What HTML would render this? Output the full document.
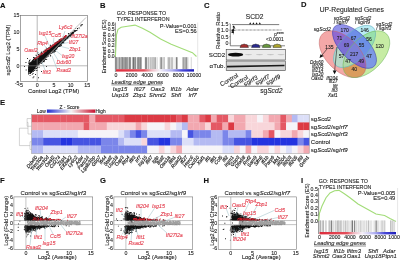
<!DOCTYPE html>
<html><head><meta charset="utf-8"><style>
html,body{margin:0;padding:0;background:#fff;width:400px;height:260px;overflow:hidden}
svg{display:block;filter:blur(0.3px)}
text{font-family:"Liberation Sans", sans-serif}
</style></head><body>
<svg width="400" height="260" viewBox="0 0 400 260" font-family='"Liberation Sans", sans-serif'>
<rect width="400" height="260" fill="#fff"/>
<text x="0.00" y="8.35" font-size="7.63" text-anchor="start" fill="#111" stroke="#111" stroke-width="0.1" font-weight="bold" >A</text>
<text x="100.00" y="8.35" font-size="7.63" text-anchor="start" fill="#111" stroke="#111" stroke-width="0.1" font-weight="bold" >B</text>
<text x="204.00" y="8.35" font-size="7.63" text-anchor="start" fill="#111" stroke="#111" stroke-width="0.1" font-weight="bold" >C</text>
<text x="301.00" y="7.15" font-size="7.63" text-anchor="start" fill="#111" stroke="#111" stroke-width="0.1" font-weight="bold" >D</text>
<text x="0.00" y="104.75" font-size="7.63" text-anchor="start" fill="#111" stroke="#111" stroke-width="0.1" font-weight="bold" >E</text>
<text x="0.00" y="182.55" font-size="7.63" text-anchor="start" fill="#111" stroke="#111" stroke-width="0.1" font-weight="bold" >F</text>
<text x="100.00" y="182.55" font-size="7.63" text-anchor="start" fill="#111" stroke="#111" stroke-width="0.1" font-weight="bold" >G</text>
<text x="203.50" y="182.55" font-size="7.63" text-anchor="start" fill="#111" stroke="#111" stroke-width="0.1" font-weight="bold" >H</text>
<text x="301.00" y="182.55" font-size="7.63" text-anchor="start" fill="#111" stroke="#111" stroke-width="0.1" font-weight="bold" >I</text>
<path d="M43.2 58.7h0.9v0.9h-0.9zM44.7 54.2h0.9v0.9h-0.9zM33.0 64.2h0.9v0.9h-0.9zM35.1 63.0h0.9v0.9h-0.9zM32.3 63.4h0.9v0.9h-0.9zM58.4 41.0h0.9v0.9h-0.9zM67.2 38.2h0.9v0.9h-0.9zM37.4 59.0h0.9v0.9h-0.9zM39.4 60.5h0.9v0.9h-0.9zM34.9 59.2h0.9v0.9h-0.9zM40.6 57.2h0.9v0.9h-0.9zM29.9 68.0h0.9v0.9h-0.9zM54.2 46.2h0.9v0.9h-0.9zM50.0 49.4h0.9v0.9h-0.9zM37.3 65.2h0.9v0.9h-0.9zM64.3 38.5h0.9v0.9h-0.9zM38.9 60.7h0.9v0.9h-0.9zM29.1 67.4h0.9v0.9h-0.9zM38.3 63.6h0.9v0.9h-0.9zM49.8 51.3h0.9v0.9h-0.9zM39.9 57.5h0.9v0.9h-0.9zM50.8 46.3h0.9v0.9h-0.9zM46.0 54.8h0.9v0.9h-0.9zM30.3 65.1h0.9v0.9h-0.9zM59.2 41.0h0.9v0.9h-0.9zM48.2 53.9h0.9v0.9h-0.9zM38.6 60.0h0.9v0.9h-0.9zM56.7 46.0h0.9v0.9h-0.9zM28.3 71.2h0.9v0.9h-0.9zM31.1 62.2h0.9v0.9h-0.9zM59.1 43.6h0.9v0.9h-0.9zM38.6 57.6h0.9v0.9h-0.9zM64.4 39.3h0.9v0.9h-0.9zM33.8 65.4h0.9v0.9h-0.9zM51.9 49.1h0.9v0.9h-0.9zM46.8 53.1h0.9v0.9h-0.9zM68.7 34.4h0.9v0.9h-0.9zM47.6 50.1h0.9v0.9h-0.9zM46.2 56.6h0.9v0.9h-0.9zM58.3 42.2h0.9v0.9h-0.9zM34.8 63.5h0.9v0.9h-0.9zM30.4 68.2h0.9v0.9h-0.9zM33.1 63.6h0.9v0.9h-0.9zM33.0 65.0h0.9v0.9h-0.9zM34.8 68.4h0.9v0.9h-0.9zM33.8 64.8h0.9v0.9h-0.9zM39.0 58.5h0.9v0.9h-0.9zM65.7 38.1h0.9v0.9h-0.9zM35.6 62.2h0.9v0.9h-0.9zM35.8 63.8h0.9v0.9h-0.9zM34.1 70.2h0.9v0.9h-0.9zM34.4 65.2h0.9v0.9h-0.9zM45.9 47.8h0.9v0.9h-0.9zM54.5 46.0h0.9v0.9h-0.9zM35.3 63.6h0.9v0.9h-0.9zM48.2 52.2h0.9v0.9h-0.9zM43.8 57.9h0.9v0.9h-0.9zM58.6 39.5h0.9v0.9h-0.9zM56.1 45.8h0.9v0.9h-0.9zM49.5 51.3h0.9v0.9h-0.9zM28.8 67.4h0.9v0.9h-0.9zM45.0 57.9h0.9v0.9h-0.9zM65.5 38.9h0.9v0.9h-0.9zM32.8 64.7h0.9v0.9h-0.9zM39.8 54.9h0.9v0.9h-0.9zM46.2 50.2h0.9v0.9h-0.9zM58.4 45.5h0.9v0.9h-0.9zM57.7 45.3h0.9v0.9h-0.9zM46.2 55.2h0.9v0.9h-0.9zM56.6 46.4h0.9v0.9h-0.9zM73.6 30.0h0.9v0.9h-0.9zM34.5 67.0h0.9v0.9h-0.9zM50.7 53.2h0.9v0.9h-0.9zM33.6 67.5h0.9v0.9h-0.9zM41.3 51.4h0.9v0.9h-0.9zM30.1 67.0h0.9v0.9h-0.9zM52.7 44.1h0.9v0.9h-0.9zM35.0 66.2h0.9v0.9h-0.9zM52.3 48.6h0.9v0.9h-0.9zM43.0 54.6h0.9v0.9h-0.9zM35.2 66.6h0.9v0.9h-0.9zM57.0 42.8h0.9v0.9h-0.9zM44.0 56.1h0.9v0.9h-0.9zM47.1 50.3h0.9v0.9h-0.9zM32.4 63.0h0.9v0.9h-0.9zM32.2 65.4h0.9v0.9h-0.9zM38.5 59.2h0.9v0.9h-0.9zM50.7 47.5h0.9v0.9h-0.9zM32.0 64.6h0.9v0.9h-0.9zM28.1 70.7h0.9v0.9h-0.9zM47.3 49.3h0.9v0.9h-0.9zM44.8 53.2h0.9v0.9h-0.9zM49.6 50.7h0.9v0.9h-0.9zM45.2 51.9h0.9v0.9h-0.9zM54.6 46.3h0.9v0.9h-0.9zM63.8 39.2h0.9v0.9h-0.9zM59.9 44.2h0.9v0.9h-0.9zM42.0 58.7h0.9v0.9h-0.9zM28.4 69.1h0.9v0.9h-0.9zM57.8 44.8h0.9v0.9h-0.9zM53.1 47.3h0.9v0.9h-0.9zM62.9 37.8h0.9v0.9h-0.9zM45.3 53.6h0.9v0.9h-0.9zM62.0 40.6h0.9v0.9h-0.9zM47.7 53.3h0.9v0.9h-0.9zM33.3 66.4h0.9v0.9h-0.9zM28.7 64.5h0.9v0.9h-0.9zM34.5 61.1h0.9v0.9h-0.9zM49.9 55.7h0.9v0.9h-0.9zM64.9 39.6h0.9v0.9h-0.9zM28.5 68.7h0.9v0.9h-0.9zM38.3 61.8h0.9v0.9h-0.9zM59.1 44.2h0.9v0.9h-0.9zM51.9 52.3h0.9v0.9h-0.9zM30.4 65.1h0.9v0.9h-0.9zM35.2 59.7h0.9v0.9h-0.9zM51.6 48.1h0.9v0.9h-0.9zM31.2 66.4h0.9v0.9h-0.9zM45.2 53.6h0.9v0.9h-0.9zM66.9 36.0h0.9v0.9h-0.9zM43.2 58.1h0.9v0.9h-0.9zM36.3 62.6h0.9v0.9h-0.9zM32.6 66.9h0.9v0.9h-0.9zM28.9 65.0h0.9v0.9h-0.9zM35.3 64.7h0.9v0.9h-0.9zM28.0 68.8h0.9v0.9h-0.9zM48.9 52.1h0.9v0.9h-0.9zM32.0 68.1h0.9v0.9h-0.9zM44.4 50.7h0.9v0.9h-0.9zM29.1 62.6h0.9v0.9h-0.9zM41.0 57.6h0.9v0.9h-0.9zM54.9 45.4h0.9v0.9h-0.9zM41.8 58.3h0.9v0.9h-0.9zM31.2 65.5h0.9v0.9h-0.9zM41.8 61.1h0.9v0.9h-0.9zM53.5 49.3h0.9v0.9h-0.9zM28.7 70.3h0.9v0.9h-0.9zM38.7 61.9h0.9v0.9h-0.9zM74.9 29.9h0.9v0.9h-0.9zM29.6 74.9h0.9v0.9h-0.9zM28.5 68.0h0.9v0.9h-0.9zM49.0 51.6h0.9v0.9h-0.9zM29.8 66.8h0.9v0.9h-0.9zM43.4 57.1h0.9v0.9h-0.9zM43.2 56.2h0.9v0.9h-0.9zM47.0 51.5h0.9v0.9h-0.9zM53.0 47.2h0.9v0.9h-0.9zM64.2 37.4h0.9v0.9h-0.9zM74.2 30.7h0.9v0.9h-0.9zM53.5 49.5h0.9v0.9h-0.9zM55.9 42.7h0.9v0.9h-0.9zM33.3 60.6h0.9v0.9h-0.9zM58.6 43.2h0.9v0.9h-0.9zM50.2 52.6h0.9v0.9h-0.9zM36.7 58.6h0.9v0.9h-0.9zM39.4 60.8h0.9v0.9h-0.9zM39.8 55.9h0.9v0.9h-0.9zM51.8 48.1h0.9v0.9h-0.9zM46.9 54.0h0.9v0.9h-0.9zM56.6 42.8h0.9v0.9h-0.9zM33.8 63.4h0.9v0.9h-0.9zM41.7 56.8h0.9v0.9h-0.9zM57.0 44.5h0.9v0.9h-0.9zM77.0 28.1h0.9v0.9h-0.9zM57.1 45.9h0.9v0.9h-0.9zM32.5 63.7h0.9v0.9h-0.9zM28.7 72.8h0.9v0.9h-0.9zM30.6 66.0h0.9v0.9h-0.9zM31.2 70.1h0.9v0.9h-0.9zM53.7 46.9h0.9v0.9h-0.9zM49.0 50.3h0.9v0.9h-0.9zM35.6 62.4h0.9v0.9h-0.9zM63.6 40.8h0.9v0.9h-0.9zM64.8 38.6h0.9v0.9h-0.9zM29.4 69.2h0.9v0.9h-0.9zM36.0 60.5h0.9v0.9h-0.9zM32.9 65.8h0.9v0.9h-0.9zM47.3 52.3h0.9v0.9h-0.9zM54.7 47.0h0.9v0.9h-0.9zM66.2 37.4h0.9v0.9h-0.9zM28.2 65.5h0.9v0.9h-0.9zM32.6 63.1h0.9v0.9h-0.9zM28.1 70.5h0.9v0.9h-0.9zM59.9 44.8h0.9v0.9h-0.9zM62.3 42.5h0.9v0.9h-0.9zM40.5 59.9h0.9v0.9h-0.9zM50.4 48.8h0.9v0.9h-0.9zM42.6 57.5h0.9v0.9h-0.9zM38.9 59.8h0.9v0.9h-0.9zM37.5 60.3h0.9v0.9h-0.9zM49.4 47.4h0.9v0.9h-0.9zM58.9 45.9h0.9v0.9h-0.9zM62.7 41.6h0.9v0.9h-0.9zM29.9 65.3h0.9v0.9h-0.9zM45.1 54.4h0.9v0.9h-0.9zM53.9 51.1h0.9v0.9h-0.9zM40.5 55.9h0.9v0.9h-0.9zM30.9 65.4h0.9v0.9h-0.9zM77.1 28.2h0.9v0.9h-0.9zM40.6 56.8h0.9v0.9h-0.9zM34.7 64.4h0.9v0.9h-0.9zM65.8 38.1h0.9v0.9h-0.9zM45.1 59.2h0.9v0.9h-0.9zM30.8 67.2h0.9v0.9h-0.9zM39.2 60.2h0.9v0.9h-0.9zM62.1 39.5h0.9v0.9h-0.9zM43.7 53.1h0.9v0.9h-0.9zM39.3 58.6h0.9v0.9h-0.9zM33.5 65.3h0.9v0.9h-0.9zM29.9 62.5h0.9v0.9h-0.9zM54.1 46.9h0.9v0.9h-0.9zM41.5 51.7h0.9v0.9h-0.9zM61.2 42.5h0.9v0.9h-0.9zM55.7 46.3h0.9v0.9h-0.9zM46.0 53.7h0.9v0.9h-0.9zM28.2 73.4h0.9v0.9h-0.9zM64.9 37.4h0.9v0.9h-0.9zM36.1 62.7h0.9v0.9h-0.9zM45.8 49.1h0.9v0.9h-0.9zM52.6 48.5h0.9v0.9h-0.9zM47.8 55.7h0.9v0.9h-0.9zM35.7 65.5h0.9v0.9h-0.9zM40.5 59.4h0.9v0.9h-0.9zM54.5 47.7h0.9v0.9h-0.9zM47.8 53.3h0.9v0.9h-0.9zM37.8 61.6h0.9v0.9h-0.9zM43.2 56.1h0.9v0.9h-0.9zM53.0 47.3h0.9v0.9h-0.9zM46.1 53.8h0.9v0.9h-0.9zM54.8 47.8h0.9v0.9h-0.9zM48.9 51.6h0.9v0.9h-0.9zM44.0 55.2h0.9v0.9h-0.9zM36.6 65.3h0.9v0.9h-0.9zM37.9 62.6h0.9v0.9h-0.9zM35.5 63.5h0.9v0.9h-0.9zM56.2 46.6h0.9v0.9h-0.9zM73.8 31.4h0.9v0.9h-0.9zM39.8 58.8h0.9v0.9h-0.9zM46.8 51.2h0.9v0.9h-0.9zM31.1 68.8h0.9v0.9h-0.9zM64.1 39.8h0.9v0.9h-0.9zM42.3 58.0h0.9v0.9h-0.9zM29.6 69.8h0.9v0.9h-0.9zM61.6 41.5h0.9v0.9h-0.9zM65.9 38.4h0.9v0.9h-0.9zM34.7 67.1h0.9v0.9h-0.9zM39.7 57.5h0.9v0.9h-0.9zM43.1 55.3h0.9v0.9h-0.9zM37.5 60.1h0.9v0.9h-0.9zM32.7 67.1h0.9v0.9h-0.9zM35.9 58.7h0.9v0.9h-0.9zM44.4 58.2h0.9v0.9h-0.9zM45.1 54.7h0.9v0.9h-0.9zM35.3 58.4h0.9v0.9h-0.9zM56.9 42.4h0.9v0.9h-0.9zM29.5 70.0h0.9v0.9h-0.9zM65.4 38.9h0.9v0.9h-0.9zM28.7 61.0h0.9v0.9h-0.9zM34.3 70.2h0.9v0.9h-0.9zM30.2 71.3h0.9v0.9h-0.9zM28.3 68.3h0.9v0.9h-0.9zM62.8 38.1h0.9v0.9h-0.9zM60.2 42.4h0.9v0.9h-0.9zM64.2 40.2h0.9v0.9h-0.9zM28.1 71.5h0.9v0.9h-0.9zM38.3 59.2h0.9v0.9h-0.9zM56.1 46.8h0.9v0.9h-0.9zM55.8 45.1h0.9v0.9h-0.9zM41.9 57.2h0.9v0.9h-0.9zM35.2 62.5h0.9v0.9h-0.9zM41.6 60.3h0.9v0.9h-0.9zM32.8 70.3h0.9v0.9h-0.9zM38.1 59.4h0.9v0.9h-0.9zM45.4 55.7h0.9v0.9h-0.9zM45.0 54.7h0.9v0.9h-0.9zM53.6 49.3h0.9v0.9h-0.9zM60.2 41.8h0.9v0.9h-0.9zM39.2 58.1h0.9v0.9h-0.9zM48.6 54.0h0.9v0.9h-0.9zM28.2 70.5h0.9v0.9h-0.9zM45.7 52.0h0.9v0.9h-0.9zM72.7 33.4h0.9v0.9h-0.9zM31.8 70.5h0.9v0.9h-0.9zM65.7 38.7h0.9v0.9h-0.9zM59.9 43.3h0.9v0.9h-0.9zM29.5 66.6h0.9v0.9h-0.9zM36.7 64.7h0.9v0.9h-0.9zM42.1 56.3h0.9v0.9h-0.9zM45.1 54.2h0.9v0.9h-0.9zM32.0 70.1h0.9v0.9h-0.9zM37.2 59.5h0.9v0.9h-0.9zM35.7 63.5h0.9v0.9h-0.9zM49.2 49.4h0.9v0.9h-0.9zM44.0 55.5h0.9v0.9h-0.9zM35.0 61.8h0.9v0.9h-0.9zM48.8 52.7h0.9v0.9h-0.9zM42.5 57.9h0.9v0.9h-0.9zM33.0 63.2h0.9v0.9h-0.9zM34.2 60.5h0.9v0.9h-0.9zM43.8 60.8h0.9v0.9h-0.9zM43.5 54.8h0.9v0.9h-0.9zM67.9 33.4h0.9v0.9h-0.9zM37.5 64.6h0.9v0.9h-0.9zM66.7 37.0h0.9v0.9h-0.9zM35.9 59.4h0.9v0.9h-0.9zM45.5 54.3h0.9v0.9h-0.9zM30.7 61.9h0.9v0.9h-0.9zM58.5 42.5h0.9v0.9h-0.9zM40.0 59.8h0.9v0.9h-0.9zM39.7 59.9h0.9v0.9h-0.9zM31.9 67.7h0.9v0.9h-0.9zM72.2 33.7h0.9v0.9h-0.9zM46.3 57.1h0.9v0.9h-0.9zM43.9 54.3h0.9v0.9h-0.9zM51.6 49.7h0.9v0.9h-0.9zM36.4 60.0h0.9v0.9h-0.9zM47.3 49.4h0.9v0.9h-0.9zM31.6 68.3h0.9v0.9h-0.9zM34.9 63.7h0.9v0.9h-0.9zM34.0 57.4h0.9v0.9h-0.9zM56.0 44.5h0.9v0.9h-0.9zM32.7 63.2h0.9v0.9h-0.9zM52.0 48.0h0.9v0.9h-0.9zM48.9 52.6h0.9v0.9h-0.9zM38.6 57.3h0.9v0.9h-0.9zM52.7 48.6h0.9v0.9h-0.9zM30.8 71.1h0.9v0.9h-0.9zM45.4 55.2h0.9v0.9h-0.9zM46.4 54.9h0.9v0.9h-0.9zM41.8 54.4h0.9v0.9h-0.9zM35.7 61.3h0.9v0.9h-0.9zM57.6 43.8h0.9v0.9h-0.9zM48.1 52.8h0.9v0.9h-0.9zM37.3 60.3h0.9v0.9h-0.9zM65.9 37.4h0.9v0.9h-0.9zM60.9 43.2h0.9v0.9h-0.9zM62.8 39.9h0.9v0.9h-0.9zM37.9 54.3h0.9v0.9h-0.9zM45.9 56.7h0.9v0.9h-0.9zM39.5 57.7h0.9v0.9h-0.9zM33.5 57.4h0.9v0.9h-0.9zM28.6 67.5h0.9v0.9h-0.9zM49.3 52.2h0.9v0.9h-0.9zM30.6 70.3h0.9v0.9h-0.9zM34.4 61.4h0.9v0.9h-0.9zM32.4 60.6h0.9v0.9h-0.9zM32.9 66.9h0.9v0.9h-0.9zM44.4 55.8h0.9v0.9h-0.9zM51.9 48.3h0.9v0.9h-0.9zM32.2 62.7h0.9v0.9h-0.9zM49.9 48.4h0.9v0.9h-0.9zM51.6 50.5h0.9v0.9h-0.9zM54.6 47.3h0.9v0.9h-0.9zM65.4 37.2h0.9v0.9h-0.9zM36.0 59.7h0.9v0.9h-0.9zM38.0 60.5h0.9v0.9h-0.9zM47.7 53.4h0.9v0.9h-0.9zM33.0 64.8h0.9v0.9h-0.9zM53.9 48.9h0.9v0.9h-0.9zM28.3 66.6h0.9v0.9h-0.9zM38.0 58.6h0.9v0.9h-0.9zM46.0 52.9h0.9v0.9h-0.9zM40.4 57.5h0.9v0.9h-0.9zM49.2 52.7h0.9v0.9h-0.9zM57.7 43.2h0.9v0.9h-0.9zM36.1 59.5h0.9v0.9h-0.9zM46.3 52.0h0.9v0.9h-0.9zM55.9 44.3h0.9v0.9h-0.9zM32.4 64.2h0.9v0.9h-0.9zM39.0 60.4h0.9v0.9h-0.9zM28.5 67.4h0.9v0.9h-0.9zM37.3 60.2h0.9v0.9h-0.9zM44.7 53.1h0.9v0.9h-0.9zM58.9 43.8h0.9v0.9h-0.9zM41.8 61.9h0.9v0.9h-0.9zM55.2 47.3h0.9v0.9h-0.9zM44.6 51.7h0.9v0.9h-0.9zM29.0 64.0h0.9v0.9h-0.9zM38.3 61.1h0.9v0.9h-0.9zM43.3 59.2h0.9v0.9h-0.9zM60.1 42.0h0.9v0.9h-0.9zM41.7 53.2h0.9v0.9h-0.9zM40.4 57.9h0.9v0.9h-0.9zM36.2 65.5h0.9v0.9h-0.9zM28.6 67.6h0.9v0.9h-0.9zM63.9 40.1h0.9v0.9h-0.9zM40.4 59.8h0.9v0.9h-0.9zM39.0 62.4h0.9v0.9h-0.9zM53.3 46.4h0.9v0.9h-0.9zM45.8 55.6h0.9v0.9h-0.9zM44.6 51.8h0.9v0.9h-0.9zM49.7 50.2h0.9v0.9h-0.9zM31.0 67.8h0.9v0.9h-0.9zM33.5 65.2h0.9v0.9h-0.9zM41.1 57.8h0.9v0.9h-0.9zM33.2 64.2h0.9v0.9h-0.9zM52.1 47.8h0.9v0.9h-0.9zM55.8 44.4h0.9v0.9h-0.9zM59.1 42.3h0.9v0.9h-0.9zM30.5 70.8h0.9v0.9h-0.9zM32.1 60.1h0.9v0.9h-0.9zM31.6 65.8h0.9v0.9h-0.9zM58.9 41.4h0.9v0.9h-0.9zM38.9 55.8h0.9v0.9h-0.9zM52.7 50.0h0.9v0.9h-0.9zM36.0 64.4h0.9v0.9h-0.9zM28.6 70.3h0.9v0.9h-0.9zM42.0 54.3h0.9v0.9h-0.9zM69.9 35.0h0.9v0.9h-0.9zM48.1 50.1h0.9v0.9h-0.9zM41.2 58.9h0.9v0.9h-0.9zM48.4 52.6h0.9v0.9h-0.9zM63.1 40.2h0.9v0.9h-0.9zM38.0 61.5h0.9v0.9h-0.9zM28.2 73.2h0.9v0.9h-0.9zM60.1 42.4h0.9v0.9h-0.9zM44.6 54.9h0.9v0.9h-0.9zM37.9 62.3h0.9v0.9h-0.9zM33.1 63.1h0.9v0.9h-0.9zM48.1 51.4h0.9v0.9h-0.9zM54.5 46.3h0.9v0.9h-0.9zM51.9 47.8h0.9v0.9h-0.9zM42.4 57.4h0.9v0.9h-0.9zM29.0 66.6h0.9v0.9h-0.9zM31.2 72.1h0.9v0.9h-0.9zM55.1 48.7h0.9v0.9h-0.9zM49.5 51.4h0.9v0.9h-0.9zM56.6 44.2h0.9v0.9h-0.9zM41.2 60.2h0.9v0.9h-0.9zM56.2 48.0h0.9v0.9h-0.9zM56.8 46.0h0.9v0.9h-0.9zM42.1 58.8h0.9v0.9h-0.9zM37.0 61.7h0.9v0.9h-0.9zM60.1 43.4h0.9v0.9h-0.9zM35.6 63.9h0.9v0.9h-0.9zM38.6 59.5h0.9v0.9h-0.9zM46.2 59.0h0.9v0.9h-0.9zM31.9 66.5h0.9v0.9h-0.9zM30.0 72.1h0.9v0.9h-0.9zM44.5 54.5h0.9v0.9h-0.9zM33.5 62.7h0.9v0.9h-0.9zM31.6 65.8h0.9v0.9h-0.9zM35.1 58.4h0.9v0.9h-0.9zM41.5 55.3h0.9v0.9h-0.9zM42.6 55.0h0.9v0.9h-0.9zM62.5 38.8h0.9v0.9h-0.9zM44.0 56.6h0.9v0.9h-0.9zM34.4 57.3h0.9v0.9h-0.9zM54.6 48.3h0.9v0.9h-0.9zM45.2 51.6h0.9v0.9h-0.9zM33.7 62.7h0.9v0.9h-0.9zM33.7 59.2h0.9v0.9h-0.9zM37.5 58.0h0.9v0.9h-0.9zM43.6 56.8h0.9v0.9h-0.9zM63.3 40.4h0.9v0.9h-0.9zM42.8 59.4h0.9v0.9h-0.9zM33.0 64.1h0.9v0.9h-0.9zM44.7 58.1h0.9v0.9h-0.9zM47.7 54.5h0.9v0.9h-0.9zM42.0 56.4h0.9v0.9h-0.9zM59.5 41.1h0.9v0.9h-0.9zM65.0 39.8h0.9v0.9h-0.9zM35.2 59.9h0.9v0.9h-0.9zM32.7 67.2h0.9v0.9h-0.9zM29.6 66.5h0.9v0.9h-0.9zM46.0 51.7h0.9v0.9h-0.9zM41.4 58.7h0.9v0.9h-0.9zM32.7 69.1h0.9v0.9h-0.9zM48.0 52.8h0.9v0.9h-0.9zM59.8 42.7h0.9v0.9h-0.9zM58.8 44.1h0.9v0.9h-0.9zM45.8 52.4h0.9v0.9h-0.9zM41.4 56.7h0.9v0.9h-0.9zM59.1 43.7h0.9v0.9h-0.9zM46.5 52.2h0.9v0.9h-0.9zM41.5 57.0h0.9v0.9h-0.9zM38.2 58.6h0.9v0.9h-0.9zM37.7 60.5h0.9v0.9h-0.9zM38.7 59.8h0.9v0.9h-0.9zM34.6 66.0h0.9v0.9h-0.9zM45.2 51.9h0.9v0.9h-0.9zM59.9 41.3h0.9v0.9h-0.9zM46.4 49.2h0.9v0.9h-0.9zM33.3 65.9h0.9v0.9h-0.9zM50.2 55.0h0.9v0.9h-0.9zM37.5 61.0h0.9v0.9h-0.9zM36.2 63.2h0.9v0.9h-0.9zM41.2 60.6h0.9v0.9h-0.9zM34.4 68.1h0.9v0.9h-0.9zM51.1 50.1h0.9v0.9h-0.9zM57.9 41.8h0.9v0.9h-0.9zM35.5 61.0h0.9v0.9h-0.9zM44.7 52.2h0.9v0.9h-0.9zM49.1 51.0h0.9v0.9h-0.9zM41.1 56.8h0.9v0.9h-0.9zM28.3 70.3h0.9v0.9h-0.9zM44.5 50.5h0.9v0.9h-0.9zM36.8 62.7h0.9v0.9h-0.9zM45.0 52.3h0.9v0.9h-0.9zM57.7 40.8h0.9v0.9h-0.9zM50.4 48.4h0.9v0.9h-0.9zM47.4 50.1h0.9v0.9h-0.9zM40.6 55.7h0.9v0.9h-0.9zM47.4 48.1h0.9v0.9h-0.9zM31.7 64.4h0.9v0.9h-0.9zM52.7 49.4h0.9v0.9h-0.9zM41.1 53.5h0.9v0.9h-0.9zM32.9 61.5h0.9v0.9h-0.9zM35.5 63.3h0.9v0.9h-0.9zM43.3 54.1h0.9v0.9h-0.9zM30.9 69.5h0.9v0.9h-0.9zM52.9 48.5h0.9v0.9h-0.9zM43.6 54.7h0.9v0.9h-0.9zM57.8 46.1h0.9v0.9h-0.9zM34.4 57.3h0.9v0.9h-0.9zM42.5 57.1h0.9v0.9h-0.9zM43.0 61.1h0.9v0.9h-0.9zM45.3 50.9h0.9v0.9h-0.9zM51.2 47.5h0.9v0.9h-0.9zM50.7 48.1h0.9v0.9h-0.9zM36.1 60.2h0.9v0.9h-0.9zM31.9 62.3h0.9v0.9h-0.9zM58.2 44.4h0.9v0.9h-0.9zM52.9 45.8h0.9v0.9h-0.9zM49.4 53.7h0.9v0.9h-0.9zM34.1 66.2h0.9v0.9h-0.9zM51.4 50.5h0.9v0.9h-0.9zM30.1 65.8h0.9v0.9h-0.9zM30.1 68.0h0.9v0.9h-0.9zM45.0 51.8h0.9v0.9h-0.9zM46.3 55.3h0.9v0.9h-0.9zM65.3 36.9h0.9v0.9h-0.9zM30.9 64.7h0.9v0.9h-0.9zM37.8 60.6h0.9v0.9h-0.9zM32.6 64.5h0.9v0.9h-0.9zM31.3 66.6h0.9v0.9h-0.9zM34.9 62.3h0.9v0.9h-0.9zM35.1 60.5h0.9v0.9h-0.9zM32.3 60.2h0.9v0.9h-0.9zM55.7 47.8h0.9v0.9h-0.9zM45.5 55.7h0.9v0.9h-0.9zM37.7 64.5h0.9v0.9h-0.9zM34.4 67.2h0.9v0.9h-0.9zM31.0 66.2h0.9v0.9h-0.9zM29.4 65.3h0.9v0.9h-0.9zM46.5 55.2h0.9v0.9h-0.9zM34.3 59.2h0.9v0.9h-0.9zM38.2 60.8h0.9v0.9h-0.9zM51.9 47.2h0.9v0.9h-0.9zM51.8 51.1h0.9v0.9h-0.9zM57.8 42.9h0.9v0.9h-0.9zM34.1 67.7h0.9v0.9h-0.9zM40.6 57.4h0.9v0.9h-0.9zM61.6 40.7h0.9v0.9h-0.9zM34.9 65.5h0.9v0.9h-0.9zM42.3 55.4h0.9v0.9h-0.9zM58.7 41.6h0.9v0.9h-0.9zM42.1 56.9h0.9v0.9h-0.9zM56.3 43.8h0.9v0.9h-0.9zM29.6 69.8h0.9v0.9h-0.9zM49.7 47.5h0.9v0.9h-0.9zM47.4 49.5h0.9v0.9h-0.9zM62.7 39.8h0.9v0.9h-0.9zM34.2 63.8h0.9v0.9h-0.9zM63.4 38.8h0.9v0.9h-0.9zM49.2 49.2h0.9v0.9h-0.9zM31.7 67.4h0.9v0.9h-0.9zM58.1 43.3h0.9v0.9h-0.9zM57.3 44.7h0.9v0.9h-0.9zM61.7 39.6h0.9v0.9h-0.9zM47.8 49.5h0.9v0.9h-0.9zM31.5 66.1h0.9v0.9h-0.9zM41.8 58.5h0.9v0.9h-0.9zM45.8 55.4h0.9v0.9h-0.9zM45.0 56.9h0.9v0.9h-0.9zM33.9 65.9h0.9v0.9h-0.9zM40.2 60.8h0.9v0.9h-0.9zM46.5 54.7h0.9v0.9h-0.9zM30.3 71.7h0.9v0.9h-0.9zM57.0 43.9h0.9v0.9h-0.9zM64.6 38.6h0.9v0.9h-0.9zM33.0 64.7h0.9v0.9h-0.9zM34.8 57.4h0.9v0.9h-0.9zM40.8 63.0h0.9v0.9h-0.9zM40.9 55.8h0.9v0.9h-0.9zM38.5 61.7h0.9v0.9h-0.9zM31.5 60.7h0.9v0.9h-0.9zM42.9 51.6h0.9v0.9h-0.9zM53.1 51.8h0.9v0.9h-0.9zM36.4 63.5h0.9v0.9h-0.9zM31.3 70.9h0.9v0.9h-0.9zM29.8 63.0h0.9v0.9h-0.9zM55.0 43.5h0.9v0.9h-0.9zM69.7 35.4h0.9v0.9h-0.9zM53.7 49.7h0.9v0.9h-0.9zM53.4 46.0h0.9v0.9h-0.9zM34.2 65.2h0.9v0.9h-0.9zM38.9 59.6h0.9v0.9h-0.9zM44.8 57.3h0.9v0.9h-0.9zM30.4 64.3h0.9v0.9h-0.9zM39.4 58.2h0.9v0.9h-0.9zM60.9 42.1h0.9v0.9h-0.9zM34.4 68.4h0.9v0.9h-0.9zM51.9 51.4h0.9v0.9h-0.9zM45.9 57.2h0.9v0.9h-0.9zM34.9 61.5h0.9v0.9h-0.9zM54.7 47.6h0.9v0.9h-0.9zM50.4 53.2h0.9v0.9h-0.9zM36.9 61.9h0.9v0.9h-0.9zM36.7 59.2h0.9v0.9h-0.9zM43.7 55.6h0.9v0.9h-0.9zM32.3 65.7h0.9v0.9h-0.9zM53.4 47.6h0.9v0.9h-0.9zM42.6 56.7h0.9v0.9h-0.9zM33.1 66.7h0.9v0.9h-0.9zM65.9 38.0h0.9v0.9h-0.9zM31.7 66.1h0.9v0.9h-0.9zM39.2 58.7h0.9v0.9h-0.9zM28.6 68.8h0.9v0.9h-0.9zM43.4 60.2h0.9v0.9h-0.9zM28.4 69.2h0.9v0.9h-0.9zM36.3 64.2h0.9v0.9h-0.9zM35.3 63.6h0.9v0.9h-0.9zM55.0 46.6h0.9v0.9h-0.9zM34.9 60.1h0.9v0.9h-0.9zM41.3 58.4h0.9v0.9h-0.9zM58.8 45.2h0.9v0.9h-0.9zM30.0 67.7h0.9v0.9h-0.9zM43.5 55.6h0.9v0.9h-0.9zM40.7 57.1h0.9v0.9h-0.9zM60.9 41.4h0.9v0.9h-0.9zM46.1 53.6h0.9v0.9h-0.9zM38.1 62.0h0.9v0.9h-0.9zM59.3 43.6h0.9v0.9h-0.9zM42.8 59.1h0.9v0.9h-0.9zM28.6 66.2h0.9v0.9h-0.9zM59.0 43.1h0.9v0.9h-0.9zM40.2 57.8h0.9v0.9h-0.9zM30.3 63.5h0.9v0.9h-0.9zM64.3 37.5h0.9v0.9h-0.9zM28.7 67.1h0.9v0.9h-0.9zM36.5 61.2h0.9v0.9h-0.9zM38.9 60.6h0.9v0.9h-0.9zM29.1 71.3h0.9v0.9h-0.9zM43.9 58.5h0.9v0.9h-0.9zM30.7 61.4h0.9v0.9h-0.9zM32.0 68.2h0.9v0.9h-0.9zM48.9 53.0h0.9v0.9h-0.9zM42.7 56.2h0.9v0.9h-0.9zM37.0 63.3h0.9v0.9h-0.9zM33.6 66.6h0.9v0.9h-0.9zM28.2 66.2h0.9v0.9h-0.9zM63.6 38.4h0.9v0.9h-0.9zM48.0 53.5h0.9v0.9h-0.9zM57.1 43.7h0.9v0.9h-0.9zM29.0 70.3h0.9v0.9h-0.9zM60.3 41.8h0.9v0.9h-0.9zM59.0 43.4h0.9v0.9h-0.9zM32.9 70.8h0.9v0.9h-0.9zM39.0 56.1h0.9v0.9h-0.9zM40.0 57.6h0.9v0.9h-0.9zM29.3 66.6h0.9v0.9h-0.9zM28.1 73.6h0.9v0.9h-0.9zM52.1 48.2h0.9v0.9h-0.9zM61.6 41.3h0.9v0.9h-0.9zM38.1 59.6h0.9v0.9h-0.9zM38.4 54.1h0.9v0.9h-0.9zM37.5 59.0h0.9v0.9h-0.9zM68.4 36.5h0.9v0.9h-0.9zM36.9 64.7h0.9v0.9h-0.9zM65.3 36.5h0.9v0.9h-0.9zM30.3 69.8h0.9v0.9h-0.9zM33.5 65.0h0.9v0.9h-0.9zM33.0 67.1h0.9v0.9h-0.9zM28.3 69.4h0.9v0.9h-0.9zM41.2 54.7h0.9v0.9h-0.9zM35.1 61.0h0.9v0.9h-0.9zM45.5 51.2h0.9v0.9h-0.9zM35.4 61.5h0.9v0.9h-0.9zM40.5 55.7h0.9v0.9h-0.9zM29.4 70.0h0.9v0.9h-0.9zM37.1 61.1h0.9v0.9h-0.9zM42.7 56.4h0.9v0.9h-0.9zM39.2 59.4h0.9v0.9h-0.9zM38.5 61.7h0.9v0.9h-0.9zM42.0 54.9h0.9v0.9h-0.9zM32.2 66.9h0.9v0.9h-0.9zM56.5 44.5h0.9v0.9h-0.9zM36.7 63.3h0.9v0.9h-0.9zM51.4 51.3h0.9v0.9h-0.9zM55.0 46.2h0.9v0.9h-0.9zM46.1 50.0h0.9v0.9h-0.9zM54.9 47.2h0.9v0.9h-0.9zM28.2 67.3h0.9v0.9h-0.9zM50.3 45.2h0.9v0.9h-0.9zM28.6 63.0h0.9v0.9h-0.9zM51.1 51.2h0.9v0.9h-0.9zM47.0 53.5h0.9v0.9h-0.9zM39.1 56.7h0.9v0.9h-0.9zM42.5 54.7h0.9v0.9h-0.9zM47.0 56.2h0.9v0.9h-0.9zM34.2 65.5h0.9v0.9h-0.9zM49.1 49.9h0.9v0.9h-0.9zM42.0 55.9h0.9v0.9h-0.9zM59.8 43.4h0.9v0.9h-0.9zM31.1 66.1h0.9v0.9h-0.9zM29.4 63.8h0.9v0.9h-0.9zM57.4 43.7h0.9v0.9h-0.9zM49.7 50.6h0.9v0.9h-0.9zM35.1 60.0h0.9v0.9h-0.9zM41.9 55.8h0.9v0.9h-0.9zM53.7 46.6h0.9v0.9h-0.9zM29.3 64.0h0.9v0.9h-0.9zM41.5 61.9h0.9v0.9h-0.9zM59.9 40.6h0.9v0.9h-0.9zM41.0 59.0h0.9v0.9h-0.9zM32.4 63.0h0.9v0.9h-0.9zM61.4 40.9h0.9v0.9h-0.9zM57.3 46.6h0.9v0.9h-0.9zM59.2 46.0h0.9v0.9h-0.9zM30.3 67.8h0.9v0.9h-0.9zM40.4 56.6h0.9v0.9h-0.9zM28.4 65.0h0.9v0.9h-0.9zM45.8 56.9h0.9v0.9h-0.9zM29.0 62.8h0.9v0.9h-0.9zM44.7 54.6h0.9v0.9h-0.9zM29.5 69.3h0.9v0.9h-0.9zM35.5 59.1h0.9v0.9h-0.9zM41.4 56.8h0.9v0.9h-0.9zM48.2 54.6h0.9v0.9h-0.9zM28.4 69.2h0.9v0.9h-0.9zM32.1 66.2h0.9v0.9h-0.9zM38.5 62.5h0.9v0.9h-0.9zM51.3 49.6h0.9v0.9h-0.9zM34.0 63.7h0.9v0.9h-0.9zM41.4 55.2h0.9v0.9h-0.9zM28.9 69.0h0.9v0.9h-0.9zM50.1 49.1h0.9v0.9h-0.9zM44.0 59.8h0.9v0.9h-0.9zM40.8 60.5h0.9v0.9h-0.9zM37.5 59.9h0.9v0.9h-0.9zM60.1 41.1h0.9v0.9h-0.9zM54.7 44.8h0.9v0.9h-0.9zM64.5 36.9h0.9v0.9h-0.9zM40.8 57.3h0.9v0.9h-0.9zM30.5 64.1h0.9v0.9h-0.9zM42.7 54.4h0.9v0.9h-0.9zM37.2 61.9h0.9v0.9h-0.9zM43.0 58.0h0.9v0.9h-0.9zM30.7 68.9h0.9v0.9h-0.9zM42.7 55.6h0.9v0.9h-0.9zM31.8 66.5h0.9v0.9h-0.9zM42.9 56.9h0.9v0.9h-0.9zM41.7 60.6h0.9v0.9h-0.9zM33.8 66.1h0.9v0.9h-0.9zM51.4 48.9h0.9v0.9h-0.9zM61.9 38.5h0.9v0.9h-0.9zM34.1 65.2h0.9v0.9h-0.9zM31.0 62.9h0.9v0.9h-0.9zM35.9 64.9h0.9v0.9h-0.9zM34.5 61.6h0.9v0.9h-0.9zM37.9 60.6h0.9v0.9h-0.9zM50.3 49.2h0.9v0.9h-0.9zM38.0 61.4h0.9v0.9h-0.9zM63.5 38.0h0.9v0.9h-0.9zM29.8 67.2h0.9v0.9h-0.9zM49.6 48.8h0.9v0.9h-0.9zM33.9 64.3h0.9v0.9h-0.9zM37.4 58.8h0.9v0.9h-0.9zM32.1 62.3h0.9v0.9h-0.9zM34.5 62.7h0.9v0.9h-0.9zM34.4 63.3h0.9v0.9h-0.9zM38.7 60.9h0.9v0.9h-0.9zM54.1 45.5h0.9v0.9h-0.9zM60.7 42.5h0.9v0.9h-0.9zM38.7 58.0h0.9v0.9h-0.9zM52.0 46.5h0.9v0.9h-0.9zM37.4 62.6h0.9v0.9h-0.9zM41.4 56.4h0.9v0.9h-0.9zM36.3 65.3h0.9v0.9h-0.9zM29.5 64.4h0.9v0.9h-0.9zM34.3 64.8h0.9v0.9h-0.9zM31.7 65.8h0.9v0.9h-0.9zM35.3 61.0h0.9v0.9h-0.9zM49.7 50.4h0.9v0.9h-0.9zM41.5 56.4h0.9v0.9h-0.9zM43.3 57.9h0.9v0.9h-0.9zM54.9 49.7h0.9v0.9h-0.9zM37.4 62.5h0.9v0.9h-0.9zM32.0 65.6h0.9v0.9h-0.9zM56.5 44.1h0.9v0.9h-0.9zM34.1 60.6h0.9v0.9h-0.9zM59.5 42.6h0.9v0.9h-0.9zM44.1 56.2h0.9v0.9h-0.9zM54.3 46.7h0.9v0.9h-0.9zM45.2 50.1h0.9v0.9h-0.9zM34.1 60.5h0.9v0.9h-0.9zM36.5 60.8h0.9v0.9h-0.9zM29.7 65.3h0.9v0.9h-0.9zM59.2 39.3h0.9v0.9h-0.9zM48.7 50.0h0.9v0.9h-0.9zM43.8 56.3h0.9v0.9h-0.9zM32.7 66.9h0.9v0.9h-0.9zM35.2 58.5h0.9v0.9h-0.9zM29.1 71.1h0.9v0.9h-0.9zM43.4 54.9h0.9v0.9h-0.9zM35.5 61.2h0.9v0.9h-0.9zM44.6 58.4h0.9v0.9h-0.9zM28.7 65.8h0.9v0.9h-0.9zM50.7 46.7h0.9v0.9h-0.9zM32.4 65.9h0.9v0.9h-0.9zM35.8 63.3h0.9v0.9h-0.9zM30.3 68.4h0.9v0.9h-0.9zM45.0 56.0h0.9v0.9h-0.9zM38.4 58.8h0.9v0.9h-0.9zM36.3 70.0h0.9v0.9h-0.9zM31.2 66.3h0.9v0.9h-0.9zM65.2 37.6h0.9v0.9h-0.9zM31.4 63.8h0.9v0.9h-0.9zM32.7 71.0h0.9v0.9h-0.9zM51.9 49.2h0.9v0.9h-0.9zM52.8 48.2h0.9v0.9h-0.9zM41.5 61.4h0.9v0.9h-0.9zM39.3 59.9h0.9v0.9h-0.9zM50.5 47.2h0.9v0.9h-0.9zM34.4 64.2h0.9v0.9h-0.9zM40.4 53.6h0.9v0.9h-0.9zM35.2 60.2h0.9v0.9h-0.9zM44.4 54.3h0.9v0.9h-0.9zM37.1 64.2h0.9v0.9h-0.9zM59.1 43.5h0.9v0.9h-0.9zM62.4 41.8h0.9v0.9h-0.9zM35.1 63.8h0.9v0.9h-0.9zM40.7 61.3h0.9v0.9h-0.9zM41.3 51.5h0.9v0.9h-0.9zM44.6 57.1h0.9v0.9h-0.9zM32.8 64.3h0.9v0.9h-0.9zM60.5 41.8h0.9v0.9h-0.9zM44.2 54.5h0.9v0.9h-0.9zM53.9 45.9h0.9v0.9h-0.9zM35.8 59.4h0.9v0.9h-0.9zM34.2 58.6h0.9v0.9h-0.9zM49.7 51.6h0.9v0.9h-0.9zM30.6 67.4h0.9v0.9h-0.9zM74.5 31.0h0.9v0.9h-0.9zM60.9 45.0h0.9v0.9h-0.9zM35.4 62.6h0.9v0.9h-0.9zM51.1 48.9h0.9v0.9h-0.9zM68.1 34.7h0.9v0.9h-0.9zM37.1 59.1h0.9v0.9h-0.9zM31.2 65.2h0.9v0.9h-0.9zM36.5 58.7h0.9v0.9h-0.9zM37.3 58.6h0.9v0.9h-0.9zM47.1 54.1h0.9v0.9h-0.9zM35.1 63.4h0.9v0.9h-0.9zM45.5 52.3h0.9v0.9h-0.9zM36.9 59.5h0.9v0.9h-0.9zM41.4 57.0h0.9v0.9h-0.9zM40.2 57.8h0.9v0.9h-0.9zM44.4 56.8h0.9v0.9h-0.9zM44.1 56.3h0.9v0.9h-0.9zM61.4 42.2h0.9v0.9h-0.9zM34.7 58.2h0.9v0.9h-0.9zM56.7 44.8h0.9v0.9h-0.9zM36.7 58.9h0.9v0.9h-0.9zM50.4 49.5h0.9v0.9h-0.9zM33.2 64.2h0.9v0.9h-0.9zM34.1 63.0h0.9v0.9h-0.9zM30.3 67.0h0.9v0.9h-0.9zM44.2 57.0h0.9v0.9h-0.9zM51.6 50.8h0.9v0.9h-0.9zM61.1 40.2h0.9v0.9h-0.9zM28.5 65.0h0.9v0.9h-0.9zM53.9 47.7h0.9v0.9h-0.9zM36.2 61.1h0.9v0.9h-0.9zM29.7 59.4h0.9v0.9h-0.9zM46.4 54.9h0.9v0.9h-0.9zM32.3 68.7h0.9v0.9h-0.9zM40.2 59.3h0.9v0.9h-0.9zM50.1 52.4h0.9v0.9h-0.9zM36.6 61.4h0.9v0.9h-0.9zM35.0 60.4h0.9v0.9h-0.9zM42.5 55.9h0.9v0.9h-0.9zM43.9 53.4h0.9v0.9h-0.9zM58.7 43.6h0.9v0.9h-0.9zM28.9 69.6h0.9v0.9h-0.9zM58.4 45.1h0.9v0.9h-0.9zM41.7 61.2h0.9v0.9h-0.9zM42.9 54.8h0.9v0.9h-0.9zM42.9 56.4h0.9v0.9h-0.9zM51.2 51.0h0.9v0.9h-0.9zM35.4 65.2h0.9v0.9h-0.9zM42.8 57.3h0.9v0.9h-0.9zM42.9 54.1h0.9v0.9h-0.9zM36.3 65.1h0.9v0.9h-0.9zM28.9 71.0h0.9v0.9h-0.9zM29.7 67.3h0.9v0.9h-0.9zM34.8 60.8h0.9v0.9h-0.9zM42.0 56.9h0.9v0.9h-0.9zM72.4 31.9h0.9v0.9h-0.9zM29.3 62.3h0.9v0.9h-0.9zM57.4 43.4h0.9v0.9h-0.9zM52.1 47.7h0.9v0.9h-0.9zM61.2 42.2h0.9v0.9h-0.9zM53.9 46.3h0.9v0.9h-0.9zM47.3 56.0h0.9v0.9h-0.9zM41.3 55.1h0.9v0.9h-0.9zM33.8 62.3h0.9v0.9h-0.9zM46.3 55.1h0.9v0.9h-0.9zM28.5 70.1h0.9v0.9h-0.9zM29.4 67.4h0.9v0.9h-0.9zM45.2 51.6h0.9v0.9h-0.9zM35.8 62.4h0.9v0.9h-0.9zM33.8 61.9h0.9v0.9h-0.9zM55.1 47.8h0.9v0.9h-0.9zM50.2 49.6h0.9v0.9h-0.9zM38.3 63.0h0.9v0.9h-0.9zM41.6 57.7h0.9v0.9h-0.9zM30.6 63.0h0.9v0.9h-0.9zM39.7 57.6h0.9v0.9h-0.9zM38.7 59.8h0.9v0.9h-0.9zM31.6 63.4h0.9v0.9h-0.9zM35.5 65.7h0.9v0.9h-0.9zM52.6 49.3h0.9v0.9h-0.9zM50.8 52.7h0.9v0.9h-0.9zM41.4 52.8h0.9v0.9h-0.9zM35.6 63.5h0.9v0.9h-0.9zM46.2 51.3h0.9v0.9h-0.9zM36.1 59.6h0.9v0.9h-0.9zM43.4 59.2h0.9v0.9h-0.9zM40.8 60.2h0.9v0.9h-0.9zM34.6 61.2h0.9v0.9h-0.9zM39.6 57.3h0.9v0.9h-0.9zM36.0 68.0h0.9v0.9h-0.9zM31.5 66.4h0.9v0.9h-0.9zM28.5 67.4h0.9v0.9h-0.9zM43.9 56.1h0.9v0.9h-0.9zM31.4 66.9h0.9v0.9h-0.9zM44.1 52.3h0.9v0.9h-0.9zM33.8 61.5h0.9v0.9h-0.9zM48.4 51.6h0.9v0.9h-0.9zM57.0 43.6h0.9v0.9h-0.9zM39.8 59.7h0.9v0.9h-0.9zM77.1 28.4h0.9v0.9h-0.9zM33.0 67.7h0.9v0.9h-0.9zM54.0 47.6h0.9v0.9h-0.9zM41.8 58.8h0.9v0.9h-0.9zM31.4 65.3h0.9v0.9h-0.9zM32.2 65.6h0.9v0.9h-0.9zM38.7 59.0h0.9v0.9h-0.9zM41.9 57.9h0.9v0.9h-0.9zM63.0 40.5h0.9v0.9h-0.9zM58.7 43.8h0.9v0.9h-0.9zM49.0 51.0h0.9v0.9h-0.9zM41.1 58.5h0.9v0.9h-0.9zM47.0 53.7h0.9v0.9h-0.9zM30.5 65.4h0.9v0.9h-0.9zM43.3 56.4h0.9v0.9h-0.9zM32.8 58.9h0.9v0.9h-0.9zM51.8 51.2h0.9v0.9h-0.9zM28.2 70.6h0.9v0.9h-0.9zM29.4 69.2h0.9v0.9h-0.9zM52.4 46.7h0.9v0.9h-0.9zM47.9 55.6h0.9v0.9h-0.9zM38.2 60.1h0.9v0.9h-0.9zM61.5 40.4h0.9v0.9h-0.9zM34.1 66.1h0.9v0.9h-0.9zM50.7 47.4h0.9v0.9h-0.9zM36.0 62.8h0.9v0.9h-0.9zM41.7 58.1h0.9v0.9h-0.9zM63.3 42.3h0.9v0.9h-0.9zM72.1 32.9h0.9v0.9h-0.9zM28.4 68.2h0.9v0.9h-0.9zM33.7 63.5h0.9v0.9h-0.9zM36.1 61.2h0.9v0.9h-0.9zM35.1 66.3h0.9v0.9h-0.9zM65.2 37.2h0.9v0.9h-0.9zM31.1 71.1h0.9v0.9h-0.9zM29.4 64.8h0.9v0.9h-0.9zM28.4 68.4h0.9v0.9h-0.9zM40.0 58.8h0.9v0.9h-0.9zM32.6 63.0h0.9v0.9h-0.9zM28.8 69.7h0.9v0.9h-0.9zM52.7 48.1h0.9v0.9h-0.9zM49.2 49.7h0.9v0.9h-0.9zM41.3 59.8h0.9v0.9h-0.9zM64.5 38.2h0.9v0.9h-0.9zM38.4 60.8h0.9v0.9h-0.9zM40.7 60.8h0.9v0.9h-0.9zM33.8 61.1h0.9v0.9h-0.9zM34.0 61.9h0.9v0.9h-0.9zM52.2 45.9h0.9v0.9h-0.9zM61.2 40.7h0.9v0.9h-0.9zM43.2 55.0h0.9v0.9h-0.9zM42.7 58.6h0.9v0.9h-0.9zM36.4 62.2h0.9v0.9h-0.9zM28.2 62.5h0.9v0.9h-0.9zM53.8 46.1h0.9v0.9h-0.9zM39.2 59.6h0.9v0.9h-0.9zM57.8 44.8h0.9v0.9h-0.9zM29.9 65.8h0.9v0.9h-0.9zM48.9 49.7h0.9v0.9h-0.9zM28.8 67.6h0.9v0.9h-0.9zM60.4 40.1h0.9v0.9h-0.9zM36.9 60.8h0.9v0.9h-0.9zM56.2 43.5h0.9v0.9h-0.9zM47.6 49.5h0.9v0.9h-0.9zM40.2 57.8h0.9v0.9h-0.9zM48.6 52.0h0.9v0.9h-0.9zM52.4 50.2h0.9v0.9h-0.9zM47.8 50.9h0.9v0.9h-0.9zM29.8 68.5h0.9v0.9h-0.9zM48.1 49.5h0.9v0.9h-0.9zM37.1 60.4h0.9v0.9h-0.9zM36.7 58.5h0.9v0.9h-0.9zM59.4 45.1h0.9v0.9h-0.9zM50.4 47.4h0.9v0.9h-0.9zM32.7 68.2h0.9v0.9h-0.9zM28.1 69.7h0.9v0.9h-0.9zM35.2 59.3h0.9v0.9h-0.9zM43.4 57.0h0.9v0.9h-0.9zM54.4 45.0h0.9v0.9h-0.9zM56.8 45.5h0.9v0.9h-0.9zM35.3 59.9h0.9v0.9h-0.9zM29.3 70.1h0.9v0.9h-0.9zM30.5 66.6h0.9v0.9h-0.9zM33.6 63.3h0.9v0.9h-0.9zM30.9 63.6h0.9v0.9h-0.9zM29.8 72.7h0.9v0.9h-0.9zM51.4 46.5h0.9v0.9h-0.9zM56.3 46.7h0.9v0.9h-0.9zM31.7 65.9h0.9v0.9h-0.9zM47.1 55.3h0.9v0.9h-0.9zM49.8 52.2h0.9v0.9h-0.9zM41.4 55.0h0.9v0.9h-0.9zM35.3 64.8h0.9v0.9h-0.9zM55.1 44.6h0.9v0.9h-0.9zM47.1 56.0h0.9v0.9h-0.9zM41.0 54.9h0.9v0.9h-0.9zM56.8 44.7h0.9v0.9h-0.9zM44.7 53.3h0.9v0.9h-0.9zM37.9 57.9h0.9v0.9h-0.9zM43.0 54.5h0.9v0.9h-0.9zM61.5 40.9h0.9v0.9h-0.9zM56.1 45.1h0.9v0.9h-0.9zM49.0 51.5h0.9v0.9h-0.9zM57.3 45.4h0.9v0.9h-0.9zM36.6 61.8h0.9v0.9h-0.9zM35.6 62.2h0.9v0.9h-0.9zM51.2 48.2h0.9v0.9h-0.9zM53.7 49.9h0.9v0.9h-0.9zM37.3 52.6h0.9v0.9h-0.9zM61.1 39.0h0.9v0.9h-0.9zM39.0 62.0h0.9v0.9h-0.9zM42.4 56.5h0.9v0.9h-0.9zM33.3 66.0h0.9v0.9h-0.9zM49.1 49.1h0.9v0.9h-0.9zM29.3 65.1h0.9v0.9h-0.9zM60.6 44.5h0.9v0.9h-0.9zM29.7 67.8h0.9v0.9h-0.9zM42.1 58.7h0.9v0.9h-0.9zM42.9 55.1h0.9v0.9h-0.9zM35.6 65.2h0.9v0.9h-0.9zM39.1 58.0h0.9v0.9h-0.9zM48.4 50.0h0.9v0.9h-0.9zM34.3 63.8h0.9v0.9h-0.9zM58.5 42.4h0.9v0.9h-0.9zM68.4 36.2h0.9v0.9h-0.9zM32.5 63.9h0.9v0.9h-0.9zM31.7 64.6h0.9v0.9h-0.9zM30.7 64.5h0.9v0.9h-0.9zM49.3 50.3h0.9v0.9h-0.9zM46.9 51.5h0.9v0.9h-0.9zM52.0 49.7h0.9v0.9h-0.9zM61.3 42.0h0.9v0.9h-0.9zM34.0 67.5h0.9v0.9h-0.9zM43.8 57.8h0.9v0.9h-0.9zM37.8 63.7h0.9v0.9h-0.9zM43.3 59.3h0.9v0.9h-0.9zM37.7 61.6h0.9v0.9h-0.9zM40.9 56.0h0.9v0.9h-0.9zM35.8 65.4h0.9v0.9h-0.9zM60.7 42.2h0.9v0.9h-0.9zM65.2 37.6h0.9v0.9h-0.9zM45.2 54.8h0.9v0.9h-0.9zM36.5 60.2h0.9v0.9h-0.9zM30.3 66.0h0.9v0.9h-0.9zM32.3 61.7h0.9v0.9h-0.9zM32.6 73.1h0.9v0.9h-0.9zM48.0 48.9h0.9v0.9h-0.9zM45.3 57.3h0.9v0.9h-0.9zM35.2 61.9h0.9v0.9h-0.9zM43.9 53.0h0.9v0.9h-0.9zM36.4 62.2h0.9v0.9h-0.9zM55.2 44.2h0.9v0.9h-0.9zM32.1 64.6h0.9v0.9h-0.9zM44.2 54.7h0.9v0.9h-0.9zM52.9 49.6h0.9v0.9h-0.9zM33.0 64.3h0.9v0.9h-0.9zM57.6 44.6h0.9v0.9h-0.9zM42.7 55.3h0.9v0.9h-0.9zM30.9 66.8h0.9v0.9h-0.9zM51.5 51.4h0.9v0.9h-0.9zM32.5 63.6h0.9v0.9h-0.9zM35.6 60.5h0.9v0.9h-0.9zM34.2 65.4h0.9v0.9h-0.9zM43.1 55.3h0.9v0.9h-0.9zM61.2 40.6h0.9v0.9h-0.9zM29.3 68.4h0.9v0.9h-0.9zM34.2 61.9h0.9v0.9h-0.9zM30.0 68.6h0.9v0.9h-0.9zM47.1 51.8h0.9v0.9h-0.9zM36.9 61.5h0.9v0.9h-0.9zM37.0 63.2h0.9v0.9h-0.9zM28.6 65.1h0.9v0.9h-0.9zM46.6 53.9h0.9v0.9h-0.9zM36.7 57.8h0.9v0.9h-0.9zM33.8 63.5h0.9v0.9h-0.9zM32.5 62.2h0.9v0.9h-0.9zM31.2 65.4h0.9v0.9h-0.9zM30.4 70.3h0.9v0.9h-0.9zM55.0 47.5h0.9v0.9h-0.9zM33.1 64.9h0.9v0.9h-0.9zM28.6 65.7h0.9v0.9h-0.9zM58.9 43.9h0.9v0.9h-0.9zM28.4 64.7h0.9v0.9h-0.9zM43.7 54.7h0.9v0.9h-0.9zM32.3 64.4h0.9v0.9h-0.9zM55.0 45.9h0.9v0.9h-0.9zM36.2 62.1h0.9v0.9h-0.9zM65.9 38.5h0.9v0.9h-0.9zM46.2 49.7h0.9v0.9h-0.9zM56.6 45.2h0.9v0.9h-0.9zM35.6 58.4h0.9v0.9h-0.9zM31.5 61.3h0.9v0.9h-0.9zM41.3 60.8h0.9v0.9h-0.9zM56.3 48.9h0.9v0.9h-0.9zM48.0 47.7h0.9v0.9h-0.9zM56.3 46.8h0.9v0.9h-0.9zM56.2 42.7h0.9v0.9h-0.9zM61.1 42.4h0.9v0.9h-0.9zM49.5 50.2h0.9v0.9h-0.9zM32.4 69.7h0.9v0.9h-0.9zM34.2 64.3h0.9v0.9h-0.9zM39.1 57.4h0.9v0.9h-0.9zM31.5 69.3h0.9v0.9h-0.9zM42.9 54.2h0.9v0.9h-0.9zM58.2 42.4h0.9v0.9h-0.9zM43.4 50.7h0.9v0.9h-0.9zM47.7 49.1h0.9v0.9h-0.9zM56.3 43.6h0.9v0.9h-0.9zM28.2 67.5h0.9v0.9h-0.9zM28.2 69.3h0.9v0.9h-0.9zM45.3 52.3h0.9v0.9h-0.9zM32.3 61.3h0.9v0.9h-0.9zM55.6 45.7h0.9v0.9h-0.9zM35.5 61.3h0.9v0.9h-0.9zM58.7 41.9h0.9v0.9h-0.9zM30.1 65.7h0.9v0.9h-0.9zM35.0 61.6h0.9v0.9h-0.9zM72.9 32.2h0.9v0.9h-0.9zM65.3 38.9h0.9v0.9h-0.9zM39.1 62.2h0.9v0.9h-0.9zM35.2 61.5h0.9v0.9h-0.9zM34.2 63.2h0.9v0.9h-0.9zM28.1 71.5h0.9v0.9h-0.9zM37.5 59.5h0.9v0.9h-0.9zM46.4 55.0h0.9v0.9h-0.9zM47.5 49.0h0.9v0.9h-0.9zM53.3 50.6h0.9v0.9h-0.9zM41.9 55.2h0.9v0.9h-0.9zM41.7 55.3h0.9v0.9h-0.9zM49.6 47.8h0.9v0.9h-0.9zM46.9 52.5h0.9v0.9h-0.9zM34.1 63.2h0.9v0.9h-0.9zM54.0 45.4h0.9v0.9h-0.9zM61.9 40.3h0.9v0.9h-0.9zM56.5 46.6h0.9v0.9h-0.9zM31.5 71.4h0.9v0.9h-0.9zM39.0 56.4h0.9v0.9h-0.9zM40.3 55.0h0.9v0.9h-0.9zM38.7 62.3h0.9v0.9h-0.9zM39.1 56.7h0.9v0.9h-0.9zM52.7 47.8h0.9v0.9h-0.9zM53.7 44.1h0.9v0.9h-0.9zM54.3 50.0h0.9v0.9h-0.9zM40.4 61.0h0.9v0.9h-0.9zM58.2 43.4h0.9v0.9h-0.9zM36.1 62.9h0.9v0.9h-0.9zM34.5 61.8h0.9v0.9h-0.9zM42.3 57.3h0.9v0.9h-0.9zM73.1 31.4h0.9v0.9h-0.9zM43.7 60.7h0.9v0.9h-0.9zM36.3 64.1h0.9v0.9h-0.9zM29.2 70.4h0.9v0.9h-0.9zM41.8 56.6h0.9v0.9h-0.9zM44.5 53.5h0.9v0.9h-0.9zM52.2 48.9h0.9v0.9h-0.9zM43.4 55.9h0.9v0.9h-0.9zM48.3 50.2h0.9v0.9h-0.9zM54.4 44.4h0.9v0.9h-0.9zM58.5 43.0h0.9v0.9h-0.9zM52.7 48.4h0.9v0.9h-0.9zM49.5 50.2h0.9v0.9h-0.9zM41.1 56.9h0.9v0.9h-0.9zM48.5 52.7h0.9v0.9h-0.9zM53.8 44.7h0.9v0.9h-0.9zM45.0 53.3h0.9v0.9h-0.9zM52.1 51.2h0.9v0.9h-0.9zM57.4 41.5h0.9v0.9h-0.9zM41.0 61.3h0.9v0.9h-0.9zM33.7 61.1h0.9v0.9h-0.9zM43.3 53.8h0.9v0.9h-0.9zM46.8 49.0h0.9v0.9h-0.9zM31.5 66.3h0.9v0.9h-0.9zM63.2 39.7h0.9v0.9h-0.9zM50.0 48.4h0.9v0.9h-0.9zM41.4 59.8h0.9v0.9h-0.9zM33.7 59.4h0.9v0.9h-0.9zM56.7 41.6h0.9v0.9h-0.9zM56.2 45.4h0.9v0.9h-0.9zM52.7 49.0h0.9v0.9h-0.9zM54.7 46.0h0.9v0.9h-0.9zM29.1 68.6h0.9v0.9h-0.9zM34.5 61.0h0.9v0.9h-0.9zM29.3 68.6h0.9v0.9h-0.9zM65.0 38.6h0.9v0.9h-0.9zM30.7 63.3h0.9v0.9h-0.9zM40.4 61.8h0.9v0.9h-0.9zM28.5 67.6h0.9v0.9h-0.9zM34.2 58.4h0.9v0.9h-0.9zM39.0 59.9h0.9v0.9h-0.9zM35.7 60.3h0.9v0.9h-0.9zM39.9 57.0h0.9v0.9h-0.9zM35.9 61.0h0.9v0.9h-0.9zM58.7 43.0h0.9v0.9h-0.9zM29.1 67.2h0.9v0.9h-0.9zM33.8 64.1h0.9v0.9h-0.9zM55.5 44.5h0.9v0.9h-0.9zM37.3 59.1h0.9v0.9h-0.9zM65.8 37.2h0.9v0.9h-0.9zM64.5 37.0h0.9v0.9h-0.9zM74.3 30.4h0.9v0.9h-0.9zM29.3 65.2h0.9v0.9h-0.9zM53.8 46.8h0.9v0.9h-0.9zM37.8 60.0h0.9v0.9h-0.9zM47.6 53.7h0.9v0.9h-0.9zM37.1 64.9h0.9v0.9h-0.9zM30.3 70.3h0.9v0.9h-0.9zM65.0 38.3h0.9v0.9h-0.9zM55.5 42.0h0.9v0.9h-0.9zM30.4 66.5h0.9v0.9h-0.9zM55.4 46.3h0.9v0.9h-0.9zM38.0 59.2h0.9v0.9h-0.9zM65.7 38.3h0.9v0.9h-0.9zM38.7 60.0h0.9v0.9h-0.9zM54.2 45.2h0.9v0.9h-0.9zM34.8 63.5h0.9v0.9h-0.9zM31.5 62.1h0.9v0.9h-0.9zM62.6 40.6h0.9v0.9h-0.9zM32.9 61.1h0.9v0.9h-0.9zM47.8 51.3h0.9v0.9h-0.9zM28.0 68.9h0.9v0.9h-0.9zM55.0 50.8h0.9v0.9h-0.9zM45.0 54.2h0.9v0.9h-0.9zM60.0 41.0h0.9v0.9h-0.9zM40.5 58.3h0.9v0.9h-0.9zM29.8 67.1h0.9v0.9h-0.9zM57.9 43.6h0.9v0.9h-0.9zM48.3 52.0h0.9v0.9h-0.9zM39.2 62.4h0.9v0.9h-0.9zM46.4 52.4h0.9v0.9h-0.9zM37.4 62.8h0.9v0.9h-0.9zM37.9 59.1h0.9v0.9h-0.9zM33.1 60.5h0.9v0.9h-0.9zM54.9 47.1h0.9v0.9h-0.9zM54.3 48.1h0.9v0.9h-0.9zM45.9 54.2h0.9v0.9h-0.9zM55.1 46.4h0.9v0.9h-0.9zM45.9 56.9h0.9v0.9h-0.9zM48.5 50.2h0.9v0.9h-0.9zM31.8 73.9h0.9v0.9h-0.9zM52.7 50.2h0.9v0.9h-0.9zM52.1 48.7h0.9v0.9h-0.9zM33.0 69.4h0.9v0.9h-0.9zM32.8 66.4h0.9v0.9h-0.9zM36.3 62.1h0.9v0.9h-0.9zM63.4 37.9h0.9v0.9h-0.9zM58.9 43.4h0.9v0.9h-0.9zM31.9 65.5h0.9v0.9h-0.9zM55.0 47.6h0.9v0.9h-0.9zM58.1 43.1h0.9v0.9h-0.9zM61.8 40.8h0.9v0.9h-0.9zM28.1 70.6h0.9v0.9h-0.9zM47.1 50.6h0.9v0.9h-0.9zM54.7 44.9h0.9v0.9h-0.9zM49.3 51.8h0.9v0.9h-0.9zM29.8 67.0h0.9v0.9h-0.9zM28.9 70.3h0.9v0.9h-0.9zM56.9 46.5h0.9v0.9h-0.9zM46.1 52.6h0.9v0.9h-0.9zM48.8 51.9h0.9v0.9h-0.9zM52.2 50.3h0.9v0.9h-0.9zM60.2 43.2h0.9v0.9h-0.9zM38.3 60.1h0.9v0.9h-0.9zM38.2 64.5h0.9v0.9h-0.9zM32.1 66.2h0.9v0.9h-0.9zM50.8 50.3h0.9v0.9h-0.9zM45.7 54.5h0.9v0.9h-0.9zM51.9 45.6h0.9v0.9h-0.9zM58.3 46.2h0.9v0.9h-0.9zM29.2 64.2h0.9v0.9h-0.9zM60.3 39.5h0.9v0.9h-0.9zM43.6 58.0h0.9v0.9h-0.9zM37.6 59.5h0.9v0.9h-0.9zM37.2 62.7h0.9v0.9h-0.9zM75.4 30.4h0.9v0.9h-0.9zM63.4 39.7h0.9v0.9h-0.9zM56.6 42.1h0.9v0.9h-0.9zM28.0 71.5h0.9v0.9h-0.9zM32.5 70.6h0.9v0.9h-0.9zM40.5 58.7h0.9v0.9h-0.9zM58.2 41.2h0.9v0.9h-0.9zM54.6 48.7h0.9v0.9h-0.9zM40.0 56.8h0.9v0.9h-0.9zM38.4 59.5h0.9v0.9h-0.9zM41.2 55.1h0.9v0.9h-0.9zM43.5 58.8h0.9v0.9h-0.9zM31.4 63.1h0.9v0.9h-0.9zM37.1 66.5h0.9v0.9h-0.9zM29.8 71.6h0.9v0.9h-0.9zM34.7 58.9h0.9v0.9h-0.9zM56.3 46.2h0.9v0.9h-0.9zM37.4 60.6h0.9v0.9h-0.9zM36.0 62.5h0.9v0.9h-0.9zM53.2 47.3h0.9v0.9h-0.9zM41.5 54.6h0.9v0.9h-0.9zM39.5 59.8h0.9v0.9h-0.9zM30.6 65.1h0.9v0.9h-0.9zM35.6 54.8h0.9v0.9h-0.9zM38.4 60.1h0.9v0.9h-0.9zM34.8 64.7h0.9v0.9h-0.9zM37.0 59.9h0.9v0.9h-0.9zM31.6 62.3h0.9v0.9h-0.9zM41.0 58.0h0.9v0.9h-0.9zM36.6 60.7h0.9v0.9h-0.9zM58.5 43.0h0.9v0.9h-0.9zM40.8 59.9h0.9v0.9h-0.9zM64.3 38.0h0.9v0.9h-0.9zM34.9 59.6h0.9v0.9h-0.9zM70.0 35.6h0.9v0.9h-0.9zM41.5 54.8h0.9v0.9h-0.9zM30.9 66.2h0.9v0.9h-0.9zM32.9 66.9h0.9v0.9h-0.9zM33.3 63.4h0.9v0.9h-0.9zM37.6 58.4h0.9v0.9h-0.9zM44.3 55.1h0.9v0.9h-0.9zM60.1 40.5h0.9v0.9h-0.9zM48.9 51.9h0.9v0.9h-0.9zM39.9 56.2h0.9v0.9h-0.9zM47.3 53.1h0.9v0.9h-0.9zM59.8 42.2h0.9v0.9h-0.9zM47.0 53.3h0.9v0.9h-0.9zM55.5 46.6h0.9v0.9h-0.9zM43.2 57.8h0.9v0.9h-0.9zM30.3 69.6h0.9v0.9h-0.9zM43.5 56.6h0.9v0.9h-0.9zM49.1 50.2h0.9v0.9h-0.9zM33.1 68.8h0.9v0.9h-0.9zM59.6 40.0h0.9v0.9h-0.9zM32.2 68.2h0.9v0.9h-0.9zM35.6 64.7h0.9v0.9h-0.9zM59.6 43.6h0.9v0.9h-0.9zM45.5 54.9h0.9v0.9h-0.9zM30.8 63.4h0.9v0.9h-0.9zM32.6 63.1h0.9v0.9h-0.9zM42.6 59.2h0.9v0.9h-0.9zM30.0 71.0h0.9v0.9h-0.9zM29.8 70.2h0.9v0.9h-0.9zM48.4 52.1h0.9v0.9h-0.9zM52.5 48.4h0.9v0.9h-0.9zM33.5 66.1h0.9v0.9h-0.9zM60.6 38.7h0.9v0.9h-0.9zM37.3 59.7h0.9v0.9h-0.9zM59.6 40.8h0.9v0.9h-0.9zM29.0 68.3h0.9v0.9h-0.9zM35.5 63.6h0.9v0.9h-0.9zM50.2 52.1h0.9v0.9h-0.9zM28.5 66.7h0.9v0.9h-0.9zM36.9 57.9h0.9v0.9h-0.9zM46.7 53.5h0.9v0.9h-0.9zM51.6 49.9h0.9v0.9h-0.9zM61.3 42.7h0.9v0.9h-0.9zM28.1 70.9h0.9v0.9h-0.9zM31.8 62.7h0.9v0.9h-0.9zM50.3 49.4h0.9v0.9h-0.9zM28.0 69.6h0.9v0.9h-0.9zM29.0 70.9h0.9v0.9h-0.9zM30.3 64.8h0.9v0.9h-0.9zM61.2 43.7h0.9v0.9h-0.9zM42.3 58.9h0.9v0.9h-0.9zM32.7 63.8h0.9v0.9h-0.9zM39.8 61.6h0.9v0.9h-0.9zM59.7 44.2h0.9v0.9h-0.9zM60.7 42.8h0.9v0.9h-0.9zM43.5 55.2h0.9v0.9h-0.9zM35.3 61.7h0.9v0.9h-0.9zM31.7 67.7h0.9v0.9h-0.9zM61.1 40.0h0.9v0.9h-0.9zM58.7 44.3h0.9v0.9h-0.9zM47.5 53.6h0.9v0.9h-0.9zM50.3 51.2h0.9v0.9h-0.9zM62.2 41.4h0.9v0.9h-0.9zM30.8 69.2h0.9v0.9h-0.9zM42.0 56.2h0.9v0.9h-0.9zM40.9 55.8h0.9v0.9h-0.9zM30.8 68.7h0.9v0.9h-0.9zM51.7 46.3h0.9v0.9h-0.9zM28.4 68.8h0.9v0.9h-0.9zM40.4 54.7h0.9v0.9h-0.9zM34.8 67.5h0.9v0.9h-0.9zM36.1 55.4h0.9v0.9h-0.9zM47.1 48.2h0.9v0.9h-0.9zM36.8 64.8h0.9v0.9h-0.9zM41.7 55.0h0.9v0.9h-0.9zM54.3 47.2h0.9v0.9h-0.9zM40.3 59.6h0.9v0.9h-0.9zM30.2 65.4h0.9v0.9h-0.9zM31.5 69.1h0.9v0.9h-0.9zM36.4 60.7h0.9v0.9h-0.9zM46.5 52.9h0.9v0.9h-0.9zM34.1 63.4h0.9v0.9h-0.9zM57.9 43.5h0.9v0.9h-0.9zM52.4 46.6h0.9v0.9h-0.9zM35.5 59.0h0.9v0.9h-0.9zM39.4 58.8h0.9v0.9h-0.9zM61.4 42.8h0.9v0.9h-0.9zM57.8 44.2h0.9v0.9h-0.9zM31.0 65.5h0.9v0.9h-0.9zM42.2 58.2h0.9v0.9h-0.9zM28.1 68.2h0.9v0.9h-0.9zM30.7 70.8h0.9v0.9h-0.9zM28.7 73.2h0.9v0.9h-0.9zM33.6 68.1h0.9v0.9h-0.9zM43.7 55.3h0.9v0.9h-0.9zM41.8 57.3h0.9v0.9h-0.9zM37.3 61.6h0.9v0.9h-0.9zM47.8 50.0h0.9v0.9h-0.9zM35.5 57.8h0.9v0.9h-0.9zM39.6 58.9h0.9v0.9h-0.9zM49.3 52.1h0.9v0.9h-0.9zM42.6 56.8h0.9v0.9h-0.9zM36.7 62.6h0.9v0.9h-0.9zM59.0 42.3h0.9v0.9h-0.9zM58.6 43.0h0.9v0.9h-0.9zM36.8 64.4h0.9v0.9h-0.9zM42.7 57.3h0.9v0.9h-0.9zM37.0 63.9h0.9v0.9h-0.9zM44.0 55.2h0.9v0.9h-0.9zM46.9 52.9h0.9v0.9h-0.9zM36.4 60.8h0.9v0.9h-0.9zM45.6 51.4h0.9v0.9h-0.9zM37.9 59.2h0.9v0.9h-0.9zM35.3 60.5h0.9v0.9h-0.9zM32.6 69.5h0.9v0.9h-0.9zM55.2 49.1h0.9v0.9h-0.9zM36.2 59.9h0.9v0.9h-0.9zM54.4 46.3h0.9v0.9h-0.9zM32.9 62.6h0.9v0.9h-0.9zM61.3 41.2h0.9v0.9h-0.9zM30.9 67.3h0.9v0.9h-0.9zM44.9 54.3h0.9v0.9h-0.9zM48.1 52.1h0.9v0.9h-0.9zM36.4 59.1h0.9v0.9h-0.9zM41.5 56.5h0.9v0.9h-0.9zM39.1 55.3h0.9v0.9h-0.9zM42.1 57.4h0.9v0.9h-0.9zM65.7 36.6h0.9v0.9h-0.9zM43.7 57.1h0.9v0.9h-0.9zM38.6 66.8h0.9v0.9h-0.9zM32.9 66.2h0.9v0.9h-0.9zM39.1 57.8h0.9v0.9h-0.9zM28.1 62.7h0.9v0.9h-0.9zM43.5 56.9h0.9v0.9h-0.9zM33.7 63.4h0.9v0.9h-0.9zM29.1 65.7h0.9v0.9h-0.9zM37.7 61.1h0.9v0.9h-0.9zM33.5 62.3h0.9v0.9h-0.9zM29.8 63.6h0.9v0.9h-0.9zM37.6 61.9h0.9v0.9h-0.9zM32.4 64.4h0.9v0.9h-0.9zM62.4 42.5h0.9v0.9h-0.9zM51.6 48.5h0.9v0.9h-0.9zM55.9 46.2h0.9v0.9h-0.9zM32.9 66.8h0.9v0.9h-0.9zM70.6 34.1h0.9v0.9h-0.9zM43.1 55.9h0.9v0.9h-0.9zM33.6 66.9h0.9v0.9h-0.9zM40.2 60.3h0.9v0.9h-0.9zM54.3 47.6h0.9v0.9h-0.9zM60.8 43.0h0.9v0.9h-0.9zM58.5 43.7h0.9v0.9h-0.9zM63.8 37.5h0.9v0.9h-0.9zM47.3 49.4h0.9v0.9h-0.9zM39.6 60.7h0.9v0.9h-0.9zM34.3 64.1h0.9v0.9h-0.9zM43.6 54.3h0.9v0.9h-0.9zM61.7 41.0h0.9v0.9h-0.9zM58.6 42.4h0.9v0.9h-0.9zM55.7 45.9h0.9v0.9h-0.9zM60.9 40.8h0.9v0.9h-0.9zM33.1 61.8h0.9v0.9h-0.9zM45.2 57.8h0.9v0.9h-0.9zM47.4 49.1h0.9v0.9h-0.9zM33.3 68.4h0.9v0.9h-0.9zM52.8 47.0h0.9v0.9h-0.9zM43.5 53.5h0.9v0.9h-0.9zM44.7 58.0h0.9v0.9h-0.9zM61.1 41.8h0.9v0.9h-0.9zM44.0 56.9h0.9v0.9h-0.9zM37.5 61.2h0.9v0.9h-0.9zM40.4 62.0h0.9v0.9h-0.9zM40.2 55.9h0.9v0.9h-0.9zM64.3 39.2h0.9v0.9h-0.9zM53.7 44.7h0.9v0.9h-0.9zM51.7 47.3h0.9v0.9h-0.9zM44.5 52.8h0.9v0.9h-0.9zM56.9 43.3h0.9v0.9h-0.9zM46.6 53.4h0.9v0.9h-0.9zM53.3 48.2h0.9v0.9h-0.9zM44.5 58.3h0.9v0.9h-0.9zM35.1 63.1h0.9v0.9h-0.9zM30.5 61.9h0.9v0.9h-0.9zM39.8 61.3h0.9v0.9h-0.9zM58.0 45.0h0.9v0.9h-0.9zM33.1 68.8h0.9v0.9h-0.9zM36.3 67.8h0.9v0.9h-0.9zM65.7 36.5h0.9v0.9h-0.9zM35.7 65.0h0.9v0.9h-0.9zM41.9 60.4h0.9v0.9h-0.9zM48.3 51.1h0.9v0.9h-0.9zM33.4 76.3h0.9v0.9h-0.9zM49.8 51.0h0.9v0.9h-0.9zM49.0 50.1h0.9v0.9h-0.9zM61.0 39.5h0.9v0.9h-0.9zM59.2 44.7h0.9v0.9h-0.9zM62.2 40.8h0.9v0.9h-0.9zM47.4 55.0h0.9v0.9h-0.9zM37.5 57.3h0.9v0.9h-0.9zM51.8 47.8h0.9v0.9h-0.9zM36.3 58.6h0.9v0.9h-0.9zM38.4 60.1h0.9v0.9h-0.9zM29.1 66.3h0.9v0.9h-0.9zM57.3 44.5h0.9v0.9h-0.9zM49.7 47.3h0.9v0.9h-0.9zM51.5 46.7h0.9v0.9h-0.9zM55.1 45.0h0.9v0.9h-0.9zM38.4 63.0h0.9v0.9h-0.9zM62.8 41.3h0.9v0.9h-0.9zM34.7 67.4h0.9v0.9h-0.9zM33.4 66.1h0.9v0.9h-0.9zM68.3 33.1h0.9v0.9h-0.9zM29.4 64.8h0.9v0.9h-0.9zM37.8 62.6h0.9v0.9h-0.9zM31.5 67.1h0.9v0.9h-0.9zM38.2 60.9h0.9v0.9h-0.9zM39.5 58.9h0.9v0.9h-0.9zM73.0 32.5h0.9v0.9h-0.9zM47.1 52.0h0.9v0.9h-0.9zM36.4 60.6h0.9v0.9h-0.9zM53.1 49.2h0.9v0.9h-0.9zM43.3 54.4h0.9v0.9h-0.9zM43.0 55.2h0.9v0.9h-0.9zM44.7 56.6h0.9v0.9h-0.9zM45.7 56.0h0.9v0.9h-0.9zM51.6 46.3h0.9v0.9h-0.9zM57.5 43.2h0.9v0.9h-0.9zM34.2 60.8h0.9v0.9h-0.9zM33.5 59.8h0.9v0.9h-0.9zM47.0 49.9h0.9v0.9h-0.9zM35.2 60.1h0.9v0.9h-0.9zM48.9 50.3h0.9v0.9h-0.9zM34.6 67.0h0.9v0.9h-0.9zM47.4 51.5h0.9v0.9h-0.9zM46.4 50.3h0.9v0.9h-0.9zM56.9 41.3h0.9v0.9h-0.9zM46.1 52.6h0.9v0.9h-0.9zM46.7 55.0h0.9v0.9h-0.9zM37.9 58.4h0.9v0.9h-0.9zM41.0 60.4h0.9v0.9h-0.9zM39.6 56.5h0.9v0.9h-0.9zM57.0 44.6h0.9v0.9h-0.9zM31.5 70.4h0.9v0.9h-0.9zM39.9 58.7h0.9v0.9h-0.9zM34.1 62.8h0.9v0.9h-0.9zM64.0 37.2h0.9v0.9h-0.9zM34.9 62.1h0.9v0.9h-0.9zM44.5 56.2h0.9v0.9h-0.9zM42.7 60.1h0.9v0.9h-0.9zM49.0 48.8h0.9v0.9h-0.9zM33.0 64.1h0.9v0.9h-0.9zM30.7 66.5h0.9v0.9h-0.9zM51.9 49.7h0.9v0.9h-0.9zM34.9 59.4h0.9v0.9h-0.9zM41.7 54.9h0.9v0.9h-0.9zM44.5 53.5h0.9v0.9h-0.9zM36.7 69.8h0.9v0.9h-0.9zM34.7 61.4h0.9v0.9h-0.9zM37.6 62.5h0.9v0.9h-0.9zM30.2 61.9h0.9v0.9h-0.9zM33.1 59.3h0.9v0.9h-0.9zM39.8 53.7h0.9v0.9h-0.9zM39.1 57.9h0.9v0.9h-0.9zM60.7 43.0h0.9v0.9h-0.9zM49.3 51.8h0.9v0.9h-0.9zM36.7 61.1h0.9v0.9h-0.9zM57.9 43.9h0.9v0.9h-0.9zM60.2 42.3h0.9v0.9h-0.9zM39.4 56.2h0.9v0.9h-0.9zM43.5 61.3h0.9v0.9h-0.9zM51.4 48.2h0.9v0.9h-0.9zM38.2 61.5h0.9v0.9h-0.9zM58.1 44.5h0.9v0.9h-0.9zM54.1 44.0h0.9v0.9h-0.9zM28.7 65.3h0.9v0.9h-0.9zM47.3 56.1h0.9v0.9h-0.9zM34.4 69.4h0.9v0.9h-0.9zM55.4 44.9h0.9v0.9h-0.9zM29.6 62.9h0.9v0.9h-0.9zM50.3 46.1h0.9v0.9h-0.9zM46.5 53.5h0.9v0.9h-0.9zM36.3 65.7h0.9v0.9h-0.9zM51.9 48.7h0.9v0.9h-0.9zM52.7 46.9h0.9v0.9h-0.9zM56.8 45.0h0.9v0.9h-0.9zM36.2 59.8h0.9v0.9h-0.9zM65.8 36.4h0.9v0.9h-0.9zM44.2 51.4h0.9v0.9h-0.9zM45.3 52.5h0.9v0.9h-0.9zM43.2 58.4h0.9v0.9h-0.9zM34.3 63.2h0.9v0.9h-0.9zM30.0 64.9h0.9v0.9h-0.9zM48.6 51.5h0.9v0.9h-0.9zM42.3 55.4h0.9v0.9h-0.9zM29.9 66.0h0.9v0.9h-0.9zM58.0 45.5h0.9v0.9h-0.9zM29.3 63.8h0.9v0.9h-0.9zM55.7 46.2h0.9v0.9h-0.9zM38.5 59.1h0.9v0.9h-0.9zM31.6 64.0h0.9v0.9h-0.9zM44.3 55.1h0.9v0.9h-0.9zM46.5 52.3h0.9v0.9h-0.9zM37.5 62.2h0.9v0.9h-0.9zM51.3 48.7h0.9v0.9h-0.9zM57.3 43.2h0.9v0.9h-0.9zM44.9 52.6h0.9v0.9h-0.9zM55.9 44.1h0.9v0.9h-0.9zM56.3 45.5h0.9v0.9h-0.9zM64.6 39.9h0.9v0.9h-0.9zM34.1 61.9h0.9v0.9h-0.9zM48.9 51.8h0.9v0.9h-0.9zM36.5 59.2h0.9v0.9h-0.9zM28.6 62.7h0.9v0.9h-0.9zM38.2 62.9h0.9v0.9h-0.9zM59.9 46.2h0.9v0.9h-0.9zM40.7 52.3h0.9v0.9h-0.9zM51.2 47.9h0.9v0.9h-0.9zM32.6 65.0h0.9v0.9h-0.9zM36.9 58.7h0.9v0.9h-0.9zM54.0 45.5h0.9v0.9h-0.9zM52.2 47.8h0.9v0.9h-0.9zM45.4 51.6h0.9v0.9h-0.9zM40.0 57.2h0.9v0.9h-0.9zM37.3 61.7h0.9v0.9h-0.9zM29.1 65.4h0.9v0.9h-0.9zM32.0 69.2h0.9v0.9h-0.9zM54.0 49.4h0.9v0.9h-0.9zM65.7 37.0h0.9v0.9h-0.9zM53.6 49.3h0.9v0.9h-0.9zM39.9 59.4h0.9v0.9h-0.9zM46.6 53.3h0.9v0.9h-0.9zM50.4 50.3h0.9v0.9h-0.9zM30.6 68.6h0.9v0.9h-0.9zM58.7 44.4h0.9v0.9h-0.9zM47.6 51.7h0.9v0.9h-0.9zM45.9 53.3h0.9v0.9h-0.9zM30.6 70.3h0.9v0.9h-0.9zM72.4 32.3h0.9v0.9h-0.9zM42.3 54.4h0.9v0.9h-0.9zM65.8 38.9h0.9v0.9h-0.9zM51.7 48.4h0.9v0.9h-0.9zM48.9 50.3h0.9v0.9h-0.9zM39.2 58.0h0.9v0.9h-0.9zM33.6 65.1h0.9v0.9h-0.9zM31.3 63.9h0.9v0.9h-0.9zM48.6 50.4h0.9v0.9h-0.9zM31.0 65.7h0.9v0.9h-0.9zM39.7 59.6h0.9v0.9h-0.9zM37.2 61.7h0.9v0.9h-0.9zM40.0 56.1h0.9v0.9h-0.9zM30.5 66.4h0.9v0.9h-0.9zM59.7 41.6h0.9v0.9h-0.9zM68.8 35.2h0.9v0.9h-0.9zM30.9 67.0h0.9v0.9h-0.9zM31.8 66.3h0.9v0.9h-0.9zM44.1 54.2h0.9v0.9h-0.9zM37.3 63.7h0.9v0.9h-0.9zM33.4 66.3h0.9v0.9h-0.9zM54.8 45.6h0.9v0.9h-0.9zM32.7 68.5h0.9v0.9h-0.9zM34.0 67.3h0.9v0.9h-0.9zM30.2 63.7h0.9v0.9h-0.9zM28.7 67.5h0.9v0.9h-0.9zM56.6 46.3h0.9v0.9h-0.9zM51.3 48.9h0.9v0.9h-0.9zM28.1 67.0h0.9v0.9h-0.9zM37.6 61.5h0.9v0.9h-0.9zM50.0 44.7h0.9v0.9h-0.9zM30.7 70.5h0.9v0.9h-0.9zM50.3 51.9h0.9v0.9h-0.9zM31.8 66.1h0.9v0.9h-0.9zM68.4 35.4h0.9v0.9h-0.9zM48.8 51.3h0.9v0.9h-0.9zM38.2 57.3h0.9v0.9h-0.9zM39.1 63.6h0.9v0.9h-0.9zM41.3 59.2h0.9v0.9h-0.9zM44.1 53.9h0.9v0.9h-0.9zM53.6 48.1h0.9v0.9h-0.9zM58.4 43.5h0.9v0.9h-0.9zM30.6 67.0h0.9v0.9h-0.9zM30.8 63.2h0.9v0.9h-0.9zM41.9 56.5h0.9v0.9h-0.9zM44.6 53.0h0.9v0.9h-0.9zM52.3 50.2h0.9v0.9h-0.9zM52.2 50.7h0.9v0.9h-0.9zM32.4 69.6h0.9v0.9h-0.9zM28.7 67.4h0.9v0.9h-0.9zM50.2 53.4h0.9v0.9h-0.9zM40.1 62.2h0.9v0.9h-0.9zM50.4 48.3h0.9v0.9h-0.9zM52.5 50.7h0.9v0.9h-0.9zM35.5 59.0h0.9v0.9h-0.9zM30.4 63.7h0.9v0.9h-0.9zM43.3 56.2h0.9v0.9h-0.9zM42.3 54.2h0.9v0.9h-0.9zM35.0 62.5h0.9v0.9h-0.9zM33.0 69.1h0.9v0.9h-0.9zM57.7 43.1h0.9v0.9h-0.9zM47.4 52.4h0.9v0.9h-0.9zM32.6 67.4h0.9v0.9h-0.9zM59.1 40.7h0.9v0.9h-0.9zM31.2 63.0h0.9v0.9h-0.9zM33.0 61.1h0.9v0.9h-0.9zM35.9 65.4h0.9v0.9h-0.9zM33.6 59.6h0.9v0.9h-0.9zM52.1 48.2h0.9v0.9h-0.9zM41.5 56.9h0.9v0.9h-0.9zM47.9 52.5h0.9v0.9h-0.9zM64.7 38.8h0.9v0.9h-0.9zM40.2 61.8h0.9v0.9h-0.9zM46.5 55.7h0.9v0.9h-0.9zM30.6 69.6h0.9v0.9h-0.9zM62.0 42.2h0.9v0.9h-0.9zM57.4 43.2h0.9v0.9h-0.9zM35.0 63.8h0.9v0.9h-0.9zM35.9 68.0h0.9v0.9h-0.9zM40.6 61.2h0.9v0.9h-0.9zM58.4 44.5h0.9v0.9h-0.9zM57.0 47.3h0.9v0.9h-0.9zM54.5 45.0h0.9v0.9h-0.9zM42.5 58.8h0.9v0.9h-0.9zM30.3 69.4h0.9v0.9h-0.9zM40.7 58.2h0.9v0.9h-0.9zM51.7 49.2h0.9v0.9h-0.9zM51.2 49.8h0.9v0.9h-0.9zM38.9 64.2h0.9v0.9h-0.9zM36.9 58.1h0.9v0.9h-0.9zM40.1 60.6h0.9v0.9h-0.9zM50.9 50.1h0.9v0.9h-0.9zM37.0 62.3h0.9v0.9h-0.9zM42.8 57.4h0.9v0.9h-0.9zM32.4 66.9h0.9v0.9h-0.9zM37.3 60.6h0.9v0.9h-0.9zM31.6 65.9h0.9v0.9h-0.9zM58.8 43.0h0.9v0.9h-0.9zM58.9 43.7h0.9v0.9h-0.9zM28.5 68.5h0.9v0.9h-0.9zM60.0 44.3h0.9v0.9h-0.9zM52.5 50.5h0.9v0.9h-0.9zM29.9 71.9h0.9v0.9h-0.9zM35.9 61.8h0.9v0.9h-0.9zM28.3 68.2h0.9v0.9h-0.9zM42.5 57.7h0.9v0.9h-0.9zM42.9 56.1h0.9v0.9h-0.9zM47.6 53.6h0.9v0.9h-0.9zM29.2 64.3h0.9v0.9h-0.9zM36.0 61.9h0.9v0.9h-0.9zM41.6 55.5h0.9v0.9h-0.9zM49.4 50.8h0.9v0.9h-0.9zM42.0 57.9h0.9v0.9h-0.9zM40.3 55.7h0.9v0.9h-0.9zM44.4 58.8h0.9v0.9h-0.9zM67.2 37.8h0.9v0.9h-0.9zM36.7 62.1h0.9v0.9h-0.9zM53.3 46.1h0.9v0.9h-0.9zM34.1 64.1h0.9v0.9h-0.9zM42.2 54.2h0.9v0.9h-0.9zM29.1 68.9h0.9v0.9h-0.9zM53.7 51.8h0.9v0.9h-0.9zM39.8 59.0h0.9v0.9h-0.9zM44.9 51.8h0.9v0.9h-0.9zM34.0 62.2h0.9v0.9h-0.9zM38.2 62.8h0.9v0.9h-0.9zM37.2 60.4h0.9v0.9h-0.9zM35.2 61.4h0.9v0.9h-0.9zM37.8 57.3h0.9v0.9h-0.9zM32.4 61.0h0.9v0.9h-0.9zM59.7 43.5h0.9v0.9h-0.9zM28.3 65.0h0.9v0.9h-0.9zM60.9 41.2h0.9v0.9h-0.9zM32.0 64.4h0.9v0.9h-0.9zM64.9 38.1h0.9v0.9h-0.9zM38.2 60.9h0.9v0.9h-0.9zM47.8 51.2h0.9v0.9h-0.9zM43.0 54.5h0.9v0.9h-0.9zM54.2 43.7h0.9v0.9h-0.9zM35.3 64.4h0.9v0.9h-0.9zM37.7 59.9h0.9v0.9h-0.9zM33.7 62.6h0.9v0.9h-0.9zM34.4 62.5h0.9v0.9h-0.9zM62.4 41.4h0.9v0.9h-0.9zM65.6 36.0h0.9v0.9h-0.9zM39.8 62.8h0.9v0.9h-0.9zM36.7 59.1h0.9v0.9h-0.9zM48.3 50.6h0.9v0.9h-0.9zM34.5 61.8h0.9v0.9h-0.9zM45.6 54.5h0.9v0.9h-0.9zM47.4 54.2h0.9v0.9h-0.9zM59.6 42.4h0.9v0.9h-0.9zM34.1 60.6h0.9v0.9h-0.9zM37.1 67.4h0.9v0.9h-0.9zM49.2 50.9h0.9v0.9h-0.9zM28.7 62.5h0.9v0.9h-0.9zM41.6 57.8h0.9v0.9h-0.9zM53.0 49.6h0.9v0.9h-0.9zM38.3 59.7h0.9v0.9h-0.9zM45.9 49.9h0.9v0.9h-0.9zM29.4 66.7h0.9v0.9h-0.9zM31.6 62.6h0.9v0.9h-0.9zM41.6 55.1h0.9v0.9h-0.9zM39.1 58.4h0.9v0.9h-0.9zM60.2 42.2h0.9v0.9h-0.9zM39.1 56.4h0.9v0.9h-0.9zM34.5 61.9h0.9v0.9h-0.9zM39.1 62.2h0.9v0.9h-0.9zM59.0 41.2h0.9v0.9h-0.9zM48.6 47.1h0.9v0.9h-0.9zM43.0 57.6h0.9v0.9h-0.9zM35.5 63.7h0.9v0.9h-0.9zM42.7 57.2h0.9v0.9h-0.9zM37.2 61.9h0.9v0.9h-0.9zM47.0 50.5h0.9v0.9h-0.9zM28.6 69.1h0.9v0.9h-0.9zM35.6 66.7h0.9v0.9h-0.9zM35.3 60.4h0.9v0.9h-0.9zM39.6 58.4h0.9v0.9h-0.9zM36.7 57.7h0.9v0.9h-0.9zM39.5 58.0h0.9v0.9h-0.9zM54.3 47.1h0.9v0.9h-0.9zM55.8 44.9h0.9v0.9h-0.9zM47.3 49.0h0.9v0.9h-0.9zM28.1 69.5h0.9v0.9h-0.9zM45.9 55.1h0.9v0.9h-0.9zM34.2 66.2h0.9v0.9h-0.9zM34.9 58.3h0.9v0.9h-0.9zM28.4 68.3h0.9v0.9h-0.9zM49.6 52.6h0.9v0.9h-0.9zM65.8 37.7h0.9v0.9h-0.9zM43.6 56.2h0.9v0.9h-0.9zM42.9 55.8h0.9v0.9h-0.9zM47.5 53.2h0.9v0.9h-0.9zM56.4 46.3h0.9v0.9h-0.9zM46.1 54.6h0.9v0.9h-0.9zM43.5 57.8h0.9v0.9h-0.9zM49.3 48.5h0.9v0.9h-0.9zM33.7 58.3h0.9v0.9h-0.9zM40.7 54.5h0.9v0.9h-0.9zM28.5 72.6h0.9v0.9h-0.9zM52.0 50.0h0.9v0.9h-0.9zM44.9 53.5h0.9v0.9h-0.9zM35.8 66.1h0.9v0.9h-0.9zM53.0 47.8h0.9v0.9h-0.9zM31.2 63.9h0.9v0.9h-0.9zM49.6 52.8h0.9v0.9h-0.9zM47.3 53.0h0.9v0.9h-0.9zM42.9 56.6h0.9v0.9h-0.9zM30.6 64.8h0.9v0.9h-0.9zM76.0 29.9h0.9v0.9h-0.9zM67.9 36.5h0.9v0.9h-0.9zM67.6 36.1h0.9v0.9h-0.9zM68.5 34.9h0.9v0.9h-0.9zM67.6 36.9h0.9v0.9h-0.9zM71.6 32.1h0.9v0.9h-0.9zM69.6 36.2h0.9v0.9h-0.9zM71.0 32.5h0.9v0.9h-0.9zM73.3 31.9h0.9v0.9h-0.9zM67.2 36.1h0.9v0.9h-0.9zM64.1 37.7h0.9v0.9h-0.9zM65.1 38.2h0.9v0.9h-0.9zM70.6 34.6h0.9v0.9h-0.9zM69.6 34.5h0.9v0.9h-0.9zM78.8 27.7h0.9v0.9h-0.9zM64.5 38.2h0.9v0.9h-0.9zM74.7 30.3h0.9v0.9h-0.9zM75.2 28.2h0.9v0.9h-0.9zM68.2 35.1h0.9v0.9h-0.9zM70.9 33.4h0.9v0.9h-0.9zM71.4 34.6h0.9v0.9h-0.9zM80.5 24.8h0.9v0.9h-0.9zM71.6 33.4h0.9v0.9h-0.9zM80.4 25.7h0.9v0.9h-0.9zM74.8 30.9h0.9v0.9h-0.9zM81.8 24.1h0.9v0.9h-0.9zM62.5 41.2h0.9v0.9h-0.9zM69.5 33.4h0.9v0.9h-0.9zM78.6 27.6h0.9v0.9h-0.9zM71.4 34.4h0.9v0.9h-0.9zM70.2 34.5h0.9v0.9h-0.9zM76.6 30.2h0.9v0.9h-0.9zM63.8 39.8h0.9v0.9h-0.9zM69.5 34.6h0.9v0.9h-0.9zM70.3 32.5h0.9v0.9h-0.9zM80.9 24.6h0.9v0.9h-0.9zM74.7 30.2h0.9v0.9h-0.9zM63.4 39.9h0.9v0.9h-0.9zM72.4 31.6h0.9v0.9h-0.9zM81.6 24.4h0.9v0.9h-0.9zM25.5 62.0h0.9v0.9h-0.9zM25.7 69.6h0.9v0.9h-0.9zM32.6 77.3h0.9v0.9h-0.9zM38.0 77.3h0.9v0.9h-0.9zM27.0 58.0h0.9v0.9h-0.9zM30.0 73.0h0.9v0.9h-0.9zM35.0 74.0h0.9v0.9h-0.9zM24.0 66.0h0.9v0.9h-0.9zM29.0 60.0h0.9v0.9h-0.9zM41.0 71.0h0.9v0.9h-0.9zM46.0 66.0h0.9v0.9h-0.9zM33.0 57.0h0.9v0.9h-0.9z" fill="#111"/>
<path d="M64.0 36.1h0.9v0.9h-0.9zM45.8 50.5h0.9v0.9h-0.9zM39.7 54.4h0.9v0.9h-0.9zM47.3 49.0h0.9v0.9h-0.9zM37.9 55.9h0.9v0.9h-0.9zM65.0 36.4h0.9v0.9h-0.9zM46.3 49.8h0.9v0.9h-0.9zM65.0 36.3h0.9v0.9h-0.9zM44.3 50.9h0.9v0.9h-0.9zM46.6 49.0h0.9v0.9h-0.9zM58.2 41.4h0.9v0.9h-0.9zM35.4 58.0h0.9v0.9h-0.9zM48.4 48.4h0.9v0.9h-0.9zM48.1 48.6h0.9v0.9h-0.9zM58.4 41.3h0.9v0.9h-0.9zM50.6 46.7h0.9v0.9h-0.9zM47.6 47.9h0.9v0.9h-0.9zM41.6 53.2h0.9v0.9h-0.9zM51.9 45.9h0.9v0.9h-0.9zM48.2 48.8h0.9v0.9h-0.9zM63.3 37.4h0.9v0.9h-0.9zM56.7 41.7h0.9v0.9h-0.9zM36.0 57.6h0.9v0.9h-0.9zM43.6 52.1h0.9v0.9h-0.9zM56.9 41.8h0.9v0.9h-0.9zM38.1 56.3h0.9v0.9h-0.9zM49.1 47.8h0.9v0.9h-0.9zM41.1 54.0h0.9v0.9h-0.9zM36.6 57.0h0.9v0.9h-0.9zM50.6 46.9h0.9v0.9h-0.9zM38.4 55.8h0.9v0.9h-0.9zM42.1 52.7h0.9v0.9h-0.9zM41.7 53.5h0.9v0.9h-0.9zM57.8 41.6h0.9v0.9h-0.9zM37.1 56.4h0.9v0.9h-0.9zM53.1 45.0h0.9v0.9h-0.9zM61.6 38.7h0.9v0.9h-0.9zM56.2 42.8h0.9v0.9h-0.9zM52.8 45.4h0.9v0.9h-0.9zM49.9 47.1h0.9v0.9h-0.9zM40.0 54.4h0.9v0.9h-0.9zM52.7 45.3h0.9v0.9h-0.9zM43.6 52.1h0.9v0.9h-0.9zM36.7 56.3h0.9v0.9h-0.9zM59.6 39.9h0.9v0.9h-0.9zM37.7 56.6h0.9v0.9h-0.9zM50.3 46.2h0.9v0.9h-0.9zM46.0 50.5h0.9v0.9h-0.9zM47.2 49.2h0.9v0.9h-0.9zM65.4 35.8h0.9v0.9h-0.9zM62.6 36.6h0.9v0.9h-0.9zM42.2 53.2h0.9v0.9h-0.9zM60.1 39.7h0.9v0.9h-0.9zM65.9 35.5h0.9v0.9h-0.9zM54.7 43.7h0.9v0.9h-0.9zM36.5 56.6h0.9v0.9h-0.9zM61.6 38.7h0.9v0.9h-0.9zM53.7 44.3h0.9v0.9h-0.9zM40.2 53.7h0.9v0.9h-0.9zM37.1 56.8h0.9v0.9h-0.9zM55.1 43.1h0.9v0.9h-0.9zM54.8 43.5h0.9v0.9h-0.9zM56.0 42.7h0.9v0.9h-0.9zM64.7 36.5h0.9v0.9h-0.9zM46.5 49.5h0.9v0.9h-0.9zM56.3 42.6h0.9v0.9h-0.9zM57.7 41.4h0.9v0.9h-0.9zM52.2 45.3h0.9v0.9h-0.9zM50.5 46.5h0.9v0.9h-0.9zM64.9 35.0h0.9v0.9h-0.9zM58.9 40.2h0.9v0.9h-0.9zM60.9 39.5h0.9v0.9h-0.9zM41.7 53.6h0.9v0.9h-0.9zM64.0 36.1h0.9v0.9h-0.9zM60.7 39.3h0.9v0.9h-0.9zM59.2 40.4h0.9v0.9h-0.9zM49.2 47.9h0.9v0.9h-0.9zM59.6 39.9h0.9v0.9h-0.9zM61.0 38.9h0.9v0.9h-0.9zM39.4 54.5h0.9v0.9h-0.9zM39.0 55.2h0.9v0.9h-0.9zM44.8 51.2h0.9v0.9h-0.9zM37.3 56.3h0.9v0.9h-0.9zM41.2 53.1h0.9v0.9h-0.9zM61.1 38.7h0.9v0.9h-0.9zM43.7 51.0h0.9v0.9h-0.9zM42.6 52.9h0.9v0.9h-0.9zM47.9 49.0h0.9v0.9h-0.9zM46.2 49.0h0.9v0.9h-0.9zM46.0 50.4h0.9v0.9h-0.9zM34.0 58.8h0.9v0.9h-0.9zM42.1 53.2h0.9v0.9h-0.9zM34.8 57.9h0.9v0.9h-0.9zM52.6 45.0h0.9v0.9h-0.9zM50.1 47.4h0.9v0.9h-0.9zM65.0 35.9h0.9v0.9h-0.9zM45.9 49.1h0.9v0.9h-0.9zM38.0 56.3h0.9v0.9h-0.9zM61.1 38.2h0.9v0.9h-0.9zM59.9 40.1h0.9v0.9h-0.9zM56.3 41.7h0.9v0.9h-0.9zM38.9 55.3h0.9v0.9h-0.9zM51.3 46.5h0.9v0.9h-0.9zM40.1 54.1h0.9v0.9h-0.9zM56.7 41.5h0.9v0.9h-0.9zM54.1 44.0h0.9v0.9h-0.9zM53.2 44.1h0.9v0.9h-0.9zM52.1 45.4h0.9v0.9h-0.9zM44.4 51.0h0.9v0.9h-0.9zM37.3 56.6h0.9v0.9h-0.9zM44.7 51.0h0.9v0.9h-0.9zM54.7 42.5h0.9v0.9h-0.9zM55.2 42.6h0.9v0.9h-0.9zM48.3 48.4h0.9v0.9h-0.9zM48.8 48.4h0.9v0.9h-0.9zM37.5 56.1h0.9v0.9h-0.9zM53.8 44.5h0.9v0.9h-0.9zM55.9 42.7h0.9v0.9h-0.9zM62.6 38.0h0.9v0.9h-0.9zM49.8 47.4h0.9v0.9h-0.9zM44.7 49.2h0.9v0.9h-0.9zM48.3 48.1h0.9v0.9h-0.9zM59.4 40.3h0.9v0.9h-0.9zM65.1 36.1h0.9v0.9h-0.9zM39.6 54.5h0.9v0.9h-0.9zM34.6 58.6h0.9v0.9h-0.9zM49.4 46.5h0.9v0.9h-0.9zM47.2 48.7h0.9v0.9h-0.9zM61.2 39.1h0.9v0.9h-0.9zM41.6 52.8h0.9v0.9h-0.9zM43.8 51.4h0.9v0.9h-0.9zM54.7 44.1h0.9v0.9h-0.9zM50.2 47.0h0.9v0.9h-0.9zM65.9 34.9h0.9v0.9h-0.9zM40.5 54.5h0.9v0.9h-0.9zM37.0 57.0h0.9v0.9h-0.9zM35.8 56.9h0.9v0.9h-0.9zM56.3 42.2h0.9v0.9h-0.9zM64.9 36.0h0.9v0.9h-0.9zM52.6 44.8h0.9v0.9h-0.9zM34.4 58.6h0.9v0.9h-0.9zM53.9 44.3h0.9v0.9h-0.9zM36.1 57.1h0.9v0.9h-0.9zM49.7 47.5h0.9v0.9h-0.9zM46.9 48.9h0.9v0.9h-0.9zM59.6 39.8h0.9v0.9h-0.9zM53.1 44.5h0.9v0.9h-0.9zM61.9 38.1h0.9v0.9h-0.9zM65.6 36.0h0.9v0.9h-0.9zM62.1 38.4h0.9v0.9h-0.9zM55.3 43.4h0.9v0.9h-0.9zM60.4 38.3h0.9v0.9h-0.9zM62.6 38.2h0.9v0.9h-0.9zM46.1 49.5h0.9v0.9h-0.9zM43.5 52.3h0.9v0.9h-0.9zM44.6 50.5h0.9v0.9h-0.9zM51.4 45.7h0.9v0.9h-0.9zM63.2 37.4h0.9v0.9h-0.9zM52.1 45.8h0.9v0.9h-0.9zM48.7 48.5h0.9v0.9h-0.9zM51.7 46.0h0.9v0.9h-0.9zM53.9 42.8h0.9v0.9h-0.9zM49.3 47.5h0.9v0.9h-0.9zM56.6 42.0h0.9v0.9h-0.9zM64.3 36.4h0.9v0.9h-0.9zM62.0 38.6h0.9v0.9h-0.9zM35.9 57.9h0.9v0.9h-0.9zM54.7 43.9h0.9v0.9h-0.9zM59.6 40.4h0.9v0.9h-0.9zM41.2 53.3h0.9v0.9h-0.9zM56.6 41.8h0.9v0.9h-0.9zM44.4 51.5h0.9v0.9h-0.9zM52.8 44.3h0.9v0.9h-0.9zM64.5 36.5h0.9v0.9h-0.9zM41.9 52.8h0.9v0.9h-0.9zM45.1 51.1h0.9v0.9h-0.9zM59.7 40.0h0.9v0.9h-0.9zM58.8 40.3h0.9v0.9h-0.9zM63.9 36.7h0.9v0.9h-0.9zM49.8 47.6h0.9v0.9h-0.9zM64.0 36.5h0.9v0.9h-0.9zM46.7 48.8h0.9v0.9h-0.9zM51.5 46.2h0.9v0.9h-0.9zM44.5 51.4h0.9v0.9h-0.9zM39.0 55.3h0.9v0.9h-0.9zM56.4 42.3h0.9v0.9h-0.9zM52.6 44.7h0.9v0.9h-0.9zM50.2 46.5h0.9v0.9h-0.9zM38.6 55.4h0.9v0.9h-0.9zM40.9 53.0h0.9v0.9h-0.9zM64.1 37.0h0.9v0.9h-0.9zM34.0 58.8h0.9v0.9h-0.9zM61.8 38.7h0.9v0.9h-0.9zM58.5 41.0h0.9v0.9h-0.9zM58.7 40.2h0.9v0.9h-0.9zM65.5 35.1h0.9v0.9h-0.9zM44.5 50.8h0.9v0.9h-0.9zM44.0 50.6h0.9v0.9h-0.9zM55.9 42.7h0.9v0.9h-0.9zM52.1 44.7h0.9v0.9h-0.9zM42.8 52.8h0.9v0.9h-0.9zM38.3 55.3h0.9v0.9h-0.9zM61.5 38.6h0.9v0.9h-0.9zM56.3 42.5h0.9v0.9h-0.9zM55.5 42.6h0.9v0.9h-0.9zM58.5 40.4h0.9v0.9h-0.9zM43.8 51.6h0.9v0.9h-0.9zM58.7 40.8h0.9v0.9h-0.9zM48.9 48.2h0.9v0.9h-0.9zM37.4 56.4h0.9v0.9h-0.9zM45.2 50.8h0.9v0.9h-0.9zM36.3 57.3h0.9v0.9h-0.9zM58.1 40.7h0.9v0.9h-0.9zM36.7 56.8h0.9v0.9h-0.9zM41.9 52.8h0.9v0.9h-0.9zM47.1 48.5h0.9v0.9h-0.9zM48.4 48.1h0.9v0.9h-0.9zM41.7 53.5h0.9v0.9h-0.9zM59.2 40.4h0.9v0.9h-0.9zM51.0 45.6h0.9v0.9h-0.9z" fill="#b81e2a"/>
<line x1="35.70" y1="68.00" x2="86.00" y2="17.50" stroke="#b8b8b8" stroke-width="0.9" />
<rect x="20.30" y="15.40" width="67.20" height="66.10" fill="none" stroke="#666" stroke-width="0.6" />
<line x1="37.20" y1="15.40" x2="37.20" y2="81.50" stroke="#8a8a8a" stroke-width="0.6" />
<line x1="20.30" y1="65.80" x2="87.50" y2="65.80" stroke="#8a8a8a" stroke-width="0.6" />
<text x="19.40" y="17.31" font-size="5.3" text-anchor="end" fill="#222" stroke="#222" stroke-width="0.1" >15</text>
<text x="19.40" y="34.11" font-size="5.3" text-anchor="end" fill="#222" stroke="#222" stroke-width="0.1" >10</text>
<text x="19.40" y="50.91" font-size="5.3" text-anchor="end" fill="#222" stroke="#222" stroke-width="0.1" >5</text>
<text x="19.40" y="67.71" font-size="5.3" text-anchor="end" fill="#222" stroke="#222" stroke-width="0.1" >0</text>
<text x="19.40" y="84.51" font-size="5.3" text-anchor="end" fill="#222" stroke="#222" stroke-width="0.1" >-5</text>
<text x="20.50" y="87.21" font-size="5.3" text-anchor="middle" fill="#222" stroke="#222" stroke-width="0.1" >-5</text>
<text x="37.20" y="87.21" font-size="5.3" text-anchor="middle" fill="#222" stroke="#222" stroke-width="0.1" >0</text>
<text x="53.90" y="87.21" font-size="5.3" text-anchor="middle" fill="#222" stroke="#222" stroke-width="0.1" >5</text>
<text x="70.60" y="87.21" font-size="5.3" text-anchor="middle" fill="#222" stroke="#222" stroke-width="0.1" >10</text>
<text x="87.30" y="87.21" font-size="5.3" text-anchor="middle" fill="#222" stroke="#222" stroke-width="0.1" >15</text>
<text x="53.70" y="92.90" font-size="5.83" text-anchor="middle" fill="#222" stroke="#222" stroke-width="0.1" >Control Log2 (TPM)</text>
<text x="8.00" y="52.06" font-size="5.72" text-anchor="middle" fill="#222" stroke="#222" stroke-width="0.1"  transform="rotate(-90 8.00 50.00)">sg<tspan font-style="italic">Scd2</tspan> Log2 (TPM)</text>
<line x1="65.00" y1="31.00" x2="62.00" y2="40.00" stroke="#78a8b4" stroke-width="0.4" />
<line x1="54.00" y1="37.50" x2="53.00" y2="45.00" stroke="#78a8b4" stroke-width="0.4" />
<line x1="71.00" y1="37.00" x2="63.00" y2="42.00" stroke="#78a8b4" stroke-width="0.4" />
<line x1="45.00" y1="36.00" x2="50.00" y2="47.00" stroke="#78a8b4" stroke-width="0.4" />
<line x1="68.50" y1="42.50" x2="60.00" y2="44.00" stroke="#78a8b4" stroke-width="0.4" />
<line x1="44.00" y1="45.00" x2="48.00" y2="50.00" stroke="#78a8b4" stroke-width="0.4" />
<line x1="69.00" y1="48.50" x2="59.00" y2="46.00" stroke="#78a8b4" stroke-width="0.4" />
<line x1="37.00" y1="51.00" x2="41.00" y2="55.00" stroke="#78a8b4" stroke-width="0.4" />
<line x1="62.00" y1="55.50" x2="55.00" y2="50.00" stroke="#78a8b4" stroke-width="0.4" />
<line x1="58.00" y1="60.00" x2="53.00" y2="52.00" stroke="#78a8b4" stroke-width="0.4" />
<line x1="57.00" y1="69.00" x2="52.00" y2="56.00" stroke="#78a8b4" stroke-width="0.4" />
<line x1="45.00" y1="70.00" x2="42.00" y2="62.00" stroke="#78a8b4" stroke-width="0.4" />
<text x="58.80" y="29.23" font-size="5.09" text-anchor="start" fill="#e33b4b" stroke="#e33b4b" stroke-width="0.1" font-style="italic" >Ly6c2</text>
<text x="51.00" y="36.83" font-size="5.09" text-anchor="start" fill="#e33b4b" stroke="#e33b4b" stroke-width="0.1" font-style="italic" >Ccl5</text>
<text x="71.20" y="37.63" font-size="5.09" text-anchor="start" fill="#e33b4b" stroke="#e33b4b" stroke-width="0.1" font-style="italic" >Ifi27l2a</text>
<text x="38.80" y="35.33" font-size="5.09" text-anchor="start" fill="#e33b4b" stroke="#e33b4b" stroke-width="0.1" font-style="italic" >Isg15</text>
<text x="68.80" y="43.83" font-size="5.09" text-anchor="start" fill="#e33b4b" stroke="#e33b4b" stroke-width="0.1" font-style="italic" >Ifi27</text>
<text x="37.20" y="44.63" font-size="5.09" text-anchor="start" fill="#e33b4b" stroke="#e33b4b" stroke-width="0.1" font-style="italic" >Rtp4</text>
<text x="69.20" y="50.53" font-size="5.09" text-anchor="start" fill="#e33b4b" stroke="#e33b4b" stroke-width="0.1" font-style="italic" >Zbp1</text>
<text x="24.20" y="51.83" font-size="5.09" text-anchor="start" fill="#e33b4b" stroke="#e33b4b" stroke-width="0.1" font-style="italic" >Oasl2</text>
<text x="61.90" y="57.63" font-size="5.09" text-anchor="start" fill="#e33b4b" stroke="#e33b4b" stroke-width="0.1" font-style="italic" >Isg20</text>
<text x="56.50" y="63.73" font-size="5.09" text-anchor="start" fill="#e33b4b" stroke="#e33b4b" stroke-width="0.1" font-style="italic" >Ddx60</text>
<text x="56.50" y="72.23" font-size="5.09" text-anchor="start" fill="#e33b4b" stroke="#e33b4b" stroke-width="0.1" font-style="italic" >Rsad2</text>
<text x="42.60" y="73.83" font-size="5.09" text-anchor="start" fill="#e33b4b" stroke="#e33b4b" stroke-width="0.1" font-style="italic" >Ifit3</text>
<text x="116.80" y="15.21" font-size="5.3" text-anchor="start" fill="#222" stroke="#222" stroke-width="0.1" >GO: RESPONSE TO</text>
<text x="116.80" y="20.51" font-size="5.3" text-anchor="start" fill="#222" stroke="#222" stroke-width="0.1" >TYPE1 INTERFERON</text>
<text x="114.60" y="25.89" font-size="4.98" text-anchor="end" fill="#222" stroke="#222" stroke-width="0.1" >0.6</text>
<line x1="114.60" y1="24.10" x2="115.40" y2="24.10" stroke="#555" stroke-width="0.5" />
<text x="114.60" y="31.29" font-size="4.98" text-anchor="end" fill="#222" stroke="#222" stroke-width="0.1" >0.5</text>
<line x1="114.60" y1="29.50" x2="115.40" y2="29.50" stroke="#555" stroke-width="0.5" />
<text x="114.60" y="36.69" font-size="4.98" text-anchor="end" fill="#222" stroke="#222" stroke-width="0.1" >0.4</text>
<line x1="114.60" y1="34.90" x2="115.40" y2="34.90" stroke="#555" stroke-width="0.5" />
<text x="114.60" y="42.09" font-size="4.98" text-anchor="end" fill="#222" stroke="#222" stroke-width="0.1" >0.3</text>
<line x1="114.60" y1="40.30" x2="115.40" y2="40.30" stroke="#555" stroke-width="0.5" />
<text x="114.60" y="47.49" font-size="4.98" text-anchor="end" fill="#222" stroke="#222" stroke-width="0.1" >0.2</text>
<line x1="114.60" y1="45.70" x2="115.40" y2="45.70" stroke="#555" stroke-width="0.5" />
<text x="114.60" y="52.89" font-size="4.98" text-anchor="end" fill="#222" stroke="#222" stroke-width="0.1" >0.1</text>
<line x1="114.60" y1="51.10" x2="115.40" y2="51.10" stroke="#555" stroke-width="0.5" />
<text x="114.60" y="58.29" font-size="4.98" text-anchor="end" fill="#222" stroke="#222" stroke-width="0.1" >0.0</text>
<line x1="114.60" y1="56.50" x2="115.40" y2="56.50" stroke="#555" stroke-width="0.5" />
<line x1="115.40" y1="22.50" x2="115.40" y2="72.00" stroke="#444" stroke-width="0.6" />
<text x="103.60" y="48.41" font-size="5.3" text-anchor="middle" fill="#222" stroke="#222" stroke-width="0.1"  transform="rotate(-90 103.60 46.50)">Enrichment Score (ES)</text>
<text x="196.70" y="28.32" font-size="5.62" text-anchor="end" fill="#222" stroke="#222" stroke-width="0.1" >P-Value=0.001</text>
<text x="196.70" y="32.72" font-size="5.62" text-anchor="end" fill="#222" stroke="#222" stroke-width="0.1" >ES=0.56</text>
<line x1="197.70" y1="22.50" x2="197.70" y2="72.00" stroke="#cfcfcf" stroke-width="0.5" />
<polyline points="115.4,56.5 116.0,45.0 116.5,34.7 118.0,29.4 121.2,27.2 127.5,26.2 135.0,25.1 142.4,28.3 150.0,32.3 160.6,38.9 171.2,44.2 181.8,48.4 192.4,52.7 196.5,56.5" fill="none" stroke="#a2dc78" stroke-width="1.1"/>
<line x1="129.41" y1="57.20" x2="129.41" y2="69.20" stroke="#777777" stroke-width="0.55" />
<line x1="141.40" y1="57.20" x2="141.40" y2="69.20" stroke="#bbbbbb" stroke-width="0.55" />
<line x1="129.39" y1="57.20" x2="129.39" y2="69.20" stroke="#777777" stroke-width="0.55" />
<line x1="121.63" y1="57.20" x2="121.63" y2="69.20" stroke="#777777" stroke-width="0.55" />
<line x1="130.10" y1="57.20" x2="130.10" y2="69.20" stroke="#777777" stroke-width="0.55" />
<line x1="139.50" y1="57.20" x2="139.50" y2="69.20" stroke="#8a8a8a" stroke-width="0.55" />
<line x1="129.24" y1="57.20" x2="129.24" y2="69.20" stroke="#9a9a9a" stroke-width="0.55" />
<line x1="118.69" y1="57.20" x2="118.69" y2="69.20" stroke="#c4c4c4" stroke-width="0.55" />
<line x1="134.81" y1="57.20" x2="134.81" y2="69.20" stroke="#777777" stroke-width="0.55" />
<line x1="145.11" y1="57.20" x2="145.11" y2="69.20" stroke="#bbbbbb" stroke-width="0.55" />
<line x1="135.38" y1="57.20" x2="135.38" y2="69.20" stroke="#777777" stroke-width="0.55" />
<line x1="135.27" y1="57.20" x2="135.27" y2="69.20" stroke="#777777" stroke-width="0.55" />
<line x1="116.44" y1="57.20" x2="116.44" y2="69.20" stroke="#777777" stroke-width="0.55" />
<line x1="117.87" y1="57.20" x2="117.87" y2="69.20" stroke="#8a8a8a" stroke-width="0.55" />
<line x1="121.64" y1="57.20" x2="121.64" y2="69.20" stroke="#9a9a9a" stroke-width="0.55" />
<line x1="133.77" y1="57.20" x2="133.77" y2="69.20" stroke="#bbbbbb" stroke-width="0.55" />
<line x1="125.67" y1="57.20" x2="125.67" y2="69.20" stroke="#777777" stroke-width="0.55" />
<line x1="140.97" y1="57.20" x2="140.97" y2="69.20" stroke="#777777" stroke-width="0.55" />
<line x1="122.93" y1="57.20" x2="122.93" y2="69.20" stroke="#aaaaaa" stroke-width="0.55" />
<line x1="130.81" y1="57.20" x2="130.81" y2="69.20" stroke="#c4c4c4" stroke-width="0.55" />
<line x1="118.52" y1="57.20" x2="118.52" y2="69.20" stroke="#c4c4c4" stroke-width="0.55" />
<line x1="124.24" y1="57.20" x2="124.24" y2="69.20" stroke="#777777" stroke-width="0.55" />
<line x1="145.51" y1="57.20" x2="145.51" y2="69.20" stroke="#8a8a8a" stroke-width="0.55" />
<line x1="136.98" y1="57.20" x2="136.98" y2="69.20" stroke="#aaaaaa" stroke-width="0.55" />
<line x1="138.47" y1="57.20" x2="138.47" y2="69.20" stroke="#777777" stroke-width="0.55" />
<line x1="124.57" y1="57.20" x2="124.57" y2="69.20" stroke="#8a8a8a" stroke-width="0.55" />
<line x1="132.69" y1="57.20" x2="132.69" y2="69.20" stroke="#8a8a8a" stroke-width="0.55" />
<line x1="127.87" y1="57.20" x2="127.87" y2="69.20" stroke="#aaaaaa" stroke-width="0.55" />
<line x1="127.46" y1="57.20" x2="127.46" y2="69.20" stroke="#8a8a8a" stroke-width="0.55" />
<line x1="141.11" y1="57.20" x2="141.11" y2="69.20" stroke="#8a8a8a" stroke-width="0.55" />
<line x1="122.33" y1="57.20" x2="122.33" y2="69.20" stroke="#8a8a8a" stroke-width="0.55" />
<line x1="129.93" y1="57.20" x2="129.93" y2="69.20" stroke="#c4c4c4" stroke-width="0.55" />
<line x1="127.78" y1="57.20" x2="127.78" y2="69.20" stroke="#8a8a8a" stroke-width="0.55" />
<line x1="132.78" y1="57.20" x2="132.78" y2="69.20" stroke="#9a9a9a" stroke-width="0.55" />
<line x1="139.08" y1="57.20" x2="139.08" y2="69.20" stroke="#aaaaaa" stroke-width="0.55" />
<line x1="125.99" y1="57.20" x2="125.99" y2="69.20" stroke="#aaaaaa" stroke-width="0.55" />
<line x1="125.86" y1="57.20" x2="125.86" y2="69.20" stroke="#bbbbbb" stroke-width="0.55" />
<line x1="138.47" y1="57.20" x2="138.47" y2="69.20" stroke="#8a8a8a" stroke-width="0.55" />
<line x1="119.99" y1="57.20" x2="119.99" y2="69.20" stroke="#c4c4c4" stroke-width="0.55" />
<line x1="119.00" y1="57.20" x2="119.00" y2="69.20" stroke="#8a8a8a" stroke-width="0.55" />
<line x1="129.78" y1="57.20" x2="129.78" y2="69.20" stroke="#bbbbbb" stroke-width="0.55" />
<line x1="121.27" y1="57.20" x2="121.27" y2="69.20" stroke="#777777" stroke-width="0.55" />
<line x1="121.58" y1="57.20" x2="121.58" y2="69.20" stroke="#777777" stroke-width="0.55" />
<line x1="121.65" y1="57.20" x2="121.65" y2="69.20" stroke="#c4c4c4" stroke-width="0.55" />
<line x1="138.81" y1="57.20" x2="138.81" y2="69.20" stroke="#bbbbbb" stroke-width="0.55" />
<line x1="135.08" y1="57.20" x2="135.08" y2="69.20" stroke="#8a8a8a" stroke-width="0.55" />
<line x1="127.70" y1="57.20" x2="127.70" y2="69.20" stroke="#9a9a9a" stroke-width="0.55" />
<line x1="116.01" y1="57.20" x2="116.01" y2="69.20" stroke="#777777" stroke-width="0.55" />
<line x1="125.01" y1="57.20" x2="125.01" y2="69.20" stroke="#8a8a8a" stroke-width="0.55" />
<line x1="122.25" y1="57.20" x2="122.25" y2="69.20" stroke="#bbbbbb" stroke-width="0.55" />
<line x1="145.52" y1="57.20" x2="145.52" y2="69.20" stroke="#777777" stroke-width="0.55" />
<line x1="135.02" y1="57.20" x2="135.02" y2="69.20" stroke="#8a8a8a" stroke-width="0.55" />
<line x1="117.25" y1="57.20" x2="117.25" y2="69.20" stroke="#9a9a9a" stroke-width="0.55" />
<line x1="122.32" y1="57.20" x2="122.32" y2="69.20" stroke="#aaaaaa" stroke-width="0.55" />
<line x1="116.28" y1="57.20" x2="116.28" y2="69.20" stroke="#777777" stroke-width="0.55" />
<line x1="155.39" y1="57.20" x2="155.39" y2="69.20" stroke="#c8c8c8" stroke-width="0.55" />
<line x1="157.09" y1="57.20" x2="157.09" y2="69.20" stroke="#a8a8a8" stroke-width="0.55" />
<line x1="148.31" y1="57.20" x2="148.31" y2="69.20" stroke="#999999" stroke-width="0.55" />
<line x1="164.51" y1="57.20" x2="164.51" y2="69.20" stroke="#a8a8a8" stroke-width="0.55" />
<line x1="163.46" y1="57.20" x2="163.46" y2="69.20" stroke="#c8c8c8" stroke-width="0.55" />
<line x1="164.08" y1="57.20" x2="164.08" y2="69.20" stroke="#b8b8b8" stroke-width="0.55" />
<line x1="174.07" y1="57.20" x2="174.07" y2="69.20" stroke="#d4d4d4" stroke-width="0.55" />
<line x1="170.31" y1="57.20" x2="170.31" y2="69.20" stroke="#b8b8b8" stroke-width="0.55" />
<line x1="171.32" y1="57.20" x2="171.32" y2="69.20" stroke="#b8b8b8" stroke-width="0.55" />
<line x1="164.23" y1="57.20" x2="164.23" y2="69.20" stroke="#c8c8c8" stroke-width="0.55" />
<line x1="172.57" y1="57.20" x2="172.57" y2="69.20" stroke="#999999" stroke-width="0.55" />
<line x1="153.04" y1="57.20" x2="153.04" y2="69.20" stroke="#b8b8b8" stroke-width="0.55" />
<line x1="150.34" y1="57.20" x2="150.34" y2="69.20" stroke="#999999" stroke-width="0.55" />
<line x1="151.47" y1="57.20" x2="151.47" y2="69.20" stroke="#d4d4d4" stroke-width="0.55" />
<line x1="171.79" y1="57.20" x2="171.79" y2="69.20" stroke="#999999" stroke-width="0.55" />
<line x1="147.97" y1="57.20" x2="147.97" y2="69.20" stroke="#a8a8a8" stroke-width="0.55" />
<line x1="148.72" y1="57.20" x2="148.72" y2="69.20" stroke="#a8a8a8" stroke-width="0.55" />
<line x1="160.83" y1="57.20" x2="160.83" y2="69.20" stroke="#c8c8c8" stroke-width="0.55" />
<line x1="152.71" y1="57.20" x2="152.71" y2="69.20" stroke="#d4d4d4" stroke-width="0.55" />
<line x1="153.26" y1="57.20" x2="153.26" y2="69.20" stroke="#999999" stroke-width="0.55" />
<line x1="160.19" y1="57.20" x2="160.19" y2="69.20" stroke="#999999" stroke-width="0.55" />
<line x1="150.84" y1="57.20" x2="150.84" y2="69.20" stroke="#a8a8a8" stroke-width="0.55" />
<line x1="149.39" y1="57.20" x2="149.39" y2="69.20" stroke="#d4d4d4" stroke-width="0.55" />
<line x1="162.22" y1="57.20" x2="162.22" y2="69.20" stroke="#999999" stroke-width="0.55" />
<line x1="163.85" y1="57.20" x2="163.85" y2="69.20" stroke="#c8c8c8" stroke-width="0.55" />
<line x1="151.94" y1="57.20" x2="151.94" y2="69.20" stroke="#b8b8b8" stroke-width="0.55" />
<line x1="167.84" y1="57.20" x2="167.84" y2="69.20" stroke="#a8a8a8" stroke-width="0.55" />
<line x1="153.62" y1="57.20" x2="153.62" y2="69.20" stroke="#d4d4d4" stroke-width="0.55" />
<line x1="153.02" y1="57.20" x2="153.02" y2="69.20" stroke="#a8a8a8" stroke-width="0.55" />
<line x1="150.86" y1="57.20" x2="150.86" y2="69.20" stroke="#c8c8c8" stroke-width="0.55" />
<line x1="184.81" y1="57.20" x2="184.81" y2="69.20" stroke="#9a9a9a" stroke-width="0.55" />
<line x1="176.93" y1="57.20" x2="176.93" y2="69.20" stroke="#9a9a9a" stroke-width="0.55" />
<line x1="191.26" y1="57.20" x2="191.26" y2="69.20" stroke="#b0b0b0" stroke-width="0.55" />
<line x1="187.07" y1="57.20" x2="187.07" y2="69.20" stroke="#c8c8c8" stroke-width="0.55" />
<line x1="184.64" y1="57.20" x2="184.64" y2="69.20" stroke="#9a9a9a" stroke-width="0.55" />
<line x1="185.86" y1="57.20" x2="185.86" y2="69.20" stroke="#9a9a9a" stroke-width="0.55" />
<line x1="183.80" y1="57.20" x2="183.80" y2="69.20" stroke="#b0b0b0" stroke-width="0.55" />
<line x1="187.86" y1="57.20" x2="187.86" y2="69.20" stroke="#9a9a9a" stroke-width="0.55" />
<line x1="175.66" y1="57.20" x2="175.66" y2="69.20" stroke="#c8c8c8" stroke-width="0.55" />
<line x1="176.62" y1="57.20" x2="176.62" y2="69.20" stroke="#9a9a9a" stroke-width="0.55" />
<line x1="119.90" y1="57.20" x2="119.90" y2="69.20" stroke="#1a1a1a" stroke-width="0.55" />
<line x1="123.02" y1="57.20" x2="123.02" y2="69.20" stroke="#1a1a1a" stroke-width="0.55" />
<line x1="126.14" y1="57.20" x2="126.14" y2="69.20" stroke="#1a1a1a" stroke-width="0.55" />
<line x1="130.04" y1="57.20" x2="130.04" y2="69.20" stroke="#1a1a1a" stroke-width="0.55" />
<line x1="133.55" y1="57.20" x2="133.55" y2="69.20" stroke="#1a1a1a" stroke-width="0.55" />
<line x1="137.84" y1="57.20" x2="137.84" y2="69.20" stroke="#1a1a1a" stroke-width="0.55" />
<line x1="140.18" y1="57.20" x2="140.18" y2="69.20" stroke="#1a1a1a" stroke-width="0.55" />
<line x1="146.42" y1="57.20" x2="146.42" y2="69.20" stroke="#1a1a1a" stroke-width="0.55" />
<line x1="155.00" y1="57.20" x2="155.00" y2="69.20" stroke="#1a1a1a" stroke-width="0.55" />
<line x1="161.24" y1="57.20" x2="161.24" y2="69.20" stroke="#1a1a1a" stroke-width="0.55" />
<line x1="169.04" y1="57.20" x2="169.04" y2="69.20" stroke="#1a1a1a" stroke-width="0.55" />
<line x1="176.84" y1="57.20" x2="176.84" y2="69.20" stroke="#1a1a1a" stroke-width="0.55" />
<line x1="183.08" y1="57.20" x2="183.08" y2="69.20" stroke="#1a1a1a" stroke-width="0.55" />
<line x1="186.20" y1="57.20" x2="186.20" y2="69.20" stroke="#1a1a1a" stroke-width="0.55" />
<defs><linearGradient id="rb" x1="0" x2="1"><stop offset="0" stop-color="#dc2c3c"/><stop offset="0.36" stop-color="#e4505c"/><stop offset="0.46" stop-color="#f0c0c8"/><stop offset="0.56" stop-color="#f4f0f8"/><stop offset="0.72" stop-color="#b0b0f0"/><stop offset="0.85" stop-color="#4a4ad8"/><stop offset="1" stop-color="#1c1cb8"/></linearGradient><linearGradient id="zs" x1="0" x2="1"><stop offset="0" stop-color="#1f2bd0"/><stop offset="0.5" stop-color="#f4f4f4"/><stop offset="1" stop-color="#c8102e"/></linearGradient></defs>
<rect x="116.00" y="69.20" width="78.00" height="2.40" fill="url(#rb)" stroke="none" stroke-width="0.6" />
<text x="116.00" y="77.07" font-size="5.19" text-anchor="middle" fill="#222" stroke="#222" stroke-width="0.1" >0</text>
<text x="131.60" y="77.07" font-size="5.19" text-anchor="middle" fill="#222" stroke="#222" stroke-width="0.1" >2000</text>
<text x="147.20" y="77.07" font-size="5.19" text-anchor="middle" fill="#222" stroke="#222" stroke-width="0.1" >4000</text>
<text x="162.80" y="77.07" font-size="5.19" text-anchor="middle" fill="#222" stroke="#222" stroke-width="0.1" >6000</text>
<text x="178.40" y="77.07" font-size="5.19" text-anchor="middle" fill="#222" stroke="#222" stroke-width="0.1" >8000</text>
<text x="194.00" y="77.07" font-size="5.19" text-anchor="middle" fill="#222" stroke="#222" stroke-width="0.1" >10000</text>
<text x="111.40" y="83.86" font-size="5.72" text-anchor="start" fill="#222" stroke="#222" stroke-width="0.1" font-style="italic" >Leading edge genes</text>
<line x1="111.40" y1="84.90" x2="162.00" y2="84.90" stroke="#222" stroke-width="0.5" />
<text x="120.00" y="91.40" font-size="5.83" text-anchor="middle" fill="#222" stroke="#222" stroke-width="0.1" font-style="italic" >Isg15</text>
<text x="120.00" y="96.90" font-size="5.83" text-anchor="middle" fill="#222" stroke="#222" stroke-width="0.1" font-style="italic" >Usp18</text>
<text x="139.60" y="91.40" font-size="5.83" text-anchor="middle" fill="#222" stroke="#222" stroke-width="0.1" font-style="italic" >Ifi27</text>
<text x="139.60" y="96.90" font-size="5.83" text-anchor="middle" fill="#222" stroke="#222" stroke-width="0.1" font-style="italic" >Zbp1</text>
<text x="157.50" y="91.40" font-size="5.83" text-anchor="middle" fill="#222" stroke="#222" stroke-width="0.1" font-style="italic" >Oas3</text>
<text x="157.50" y="96.90" font-size="5.83" text-anchor="middle" fill="#222" stroke="#222" stroke-width="0.1" font-style="italic" >Shmt2</text>
<text x="176.00" y="91.40" font-size="5.83" text-anchor="middle" fill="#222" stroke="#222" stroke-width="0.1" font-style="italic" >Ifi1b</text>
<text x="176.00" y="96.90" font-size="5.83" text-anchor="middle" fill="#222" stroke="#222" stroke-width="0.1" font-style="italic" >Shfl</text>
<text x="192.60" y="91.40" font-size="5.83" text-anchor="middle" fill="#222" stroke="#222" stroke-width="0.1" font-style="italic" >Adar</text>
<text x="192.60" y="96.90" font-size="5.83" text-anchor="middle" fill="#222" stroke="#222" stroke-width="0.1" font-style="italic" >Irf7</text>
<text x="217.40" y="32.54" font-size="5.94" text-anchor="middle" fill="#222" stroke="#222" stroke-width="0.1"  transform="rotate(-90 217.40 30.40)">Relative Ratio</text>
<text x="228.40" y="25.61" font-size="5.3" text-anchor="end" fill="#222" stroke="#222" stroke-width="0.1" >1.5</text>
<line x1="229.40" y1="23.70" x2="230.30" y2="23.70" stroke="#333" stroke-width="0.5" />
<text x="228.40" y="32.11" font-size="5.3" text-anchor="end" fill="#222" stroke="#222" stroke-width="0.1" >1.0</text>
<line x1="229.40" y1="30.20" x2="230.30" y2="30.20" stroke="#333" stroke-width="0.5" />
<text x="228.40" y="38.61" font-size="5.3" text-anchor="end" fill="#222" stroke="#222" stroke-width="0.1" >0.5</text>
<line x1="229.40" y1="36.70" x2="230.30" y2="36.70" stroke="#333" stroke-width="0.5" />
<text x="228.40" y="45.11" font-size="5.3" text-anchor="end" fill="#222" stroke="#222" stroke-width="0.1" >0</text>
<line x1="229.40" y1="43.20" x2="230.30" y2="43.20" stroke="#333" stroke-width="0.5" />
<line x1="230.30" y1="24.00" x2="230.30" y2="45.80" stroke="#333" stroke-width="0.6" />
<line x1="230.30" y1="45.80" x2="285.00" y2="45.80" stroke="#333" stroke-width="0.6" />
<text x="254.60" y="18.60" font-size="6.68" text-anchor="middle" fill="#222" stroke="#222" stroke-width="0.1" >SCD2</text>
<line x1="232.00" y1="24.60" x2="279.20" y2="24.60" stroke="#222" stroke-width="0.6" />
<path d="M250.2 22.3l1.1 1.9h-2.2z" fill="#111"/>
<path d="M253.4 22.3l1.1 1.9h-2.2z" fill="#111"/>
<path d="M256.6 22.3l1.1 1.9h-2.2z" fill="#111"/>
<path d="M259.8 22.3l1.1 1.9h-2.2z" fill="#111"/>
<line x1="236.60" y1="30.00" x2="281.50" y2="30.00" stroke="#333" stroke-width="0.8" stroke-dasharray="0.7 0.65"/>
<text x="283.80" y="36.24" font-size="4.56" text-anchor="end" fill="#222" stroke="#222" stroke-width="0.1" >p****</text>
<text x="283.80" y="40.96" font-size="4.88" text-anchor="end" fill="#222" stroke="#222" stroke-width="0.1" >&lt;0.0001</text>
<path d="M233.0 29.5l1.0 1.7h-2.0z" fill="#111"/>
<path d="M232.5 29.5l1.0 1.7h-2.0z" fill="#111"/>
<path d="M233.7 25.7l1.0 1.7h-2.0z" fill="#111"/>
<path d="M233.2 28.6l1.0 1.7h-2.0z" fill="#111"/>
<path d="M232.9 30.7l1.0 1.7h-2.0z" fill="#111"/>
<path d="M233.2 28.9l1.0 1.7h-2.0z" fill="#111"/>
<path d="M233.6 25.4l1.0 1.7h-2.0z" fill="#111"/>
<path d="M232.2 31.0l1.0 1.7h-2.0z" fill="#111"/>
<path d="M233.0 31.3l1.0 1.7h-2.0z" fill="#111"/>
<path d="M234.5 26.9l1.0 1.7h-2.0z" fill="#111"/>
<line x1="231.20" y1="30.20" x2="235.60" y2="30.20" stroke="#111" stroke-width="0.7" />
<line x1="233.40" y1="26.04" x2="233.40" y2="34.36" stroke="#111" stroke-width="0.5" />
<path d="M240.0 47.4 Q241.0 43.6 242.6 44.6 Q244.2 43.4 245.8 44.6 Q247.6 43.6 248.5 47.4 Z" fill="#a83030" stroke="#111" stroke-width="0.45"/>
<path d="M251.5 47.4 Q252.5 43.6 254.1 44.6 Q255.7 43.4 257.3 44.6 Q259.1 43.6 260.0 47.4 Z" fill="#2a2a90" stroke="#111" stroke-width="0.45"/>
<path d="M262.3 47.4 Q263.3 43.6 264.9 44.6 Q266.5 43.4 268.1 44.6 Q269.9 43.6 270.8 47.4 Z" fill="#6a9a40" stroke="#111" stroke-width="0.45"/>
<path d="M273.0 47.4 Q274.0 43.6 275.6 44.6 Q277.2 43.4 278.8 44.6 Q280.6 43.6 281.5 47.4 Z" fill="#b0a830" stroke="#111" stroke-width="0.45"/>
<rect x="226.20" y="49.40" width="59.10" height="10.60" fill="#ebebeb" stroke="#444" stroke-width="0.6" />
<ellipse cx="235.6" cy="54.7" rx="7.6" ry="1.9" fill="#0a0a0a"/>
<ellipse cx="248.5" cy="54.6" rx="3.6" ry="0.6" fill="#c4c4c4"/>
<ellipse cx="259.5" cy="54.6" rx="3.6" ry="0.6" fill="#c4c4c4"/>
<ellipse cx="270.5" cy="54.6" rx="3.6" ry="0.6" fill="#c4c4c4"/>
<ellipse cx="281" cy="54.6" rx="3.6" ry="0.6" fill="#c4c4c4"/>
<rect x="226.20" y="61.00" width="59.10" height="9.60" fill="#d4d4d4" stroke="#444" stroke-width="0.6" />
<path d="M227 66.7 L284.5 65.5" stroke="#1a1a1a" stroke-width="1.7"/>
<text x="225.20" y="56.91" font-size="6.15" text-anchor="end" fill="#222" stroke="#222" stroke-width="0.1" >SCD2</text>
<text x="225.20" y="68.21" font-size="6.15" text-anchor="end" fill="#222" stroke="#222" stroke-width="0.1" >αTub.</text>
<text x="237.60" y="77.01" font-size="6.15" text-anchor="end" fill="#222" stroke="#222" stroke-width="0.1"  transform="rotate(-30 237.60 74.80)">Control</text>
<text x="247.60" y="78.81" font-size="6.15" text-anchor="end" fill="#222" stroke="#222" stroke-width="0.1"  transform="rotate(-30 247.60 76.60)">Control</text>
<text x="257.20" y="79.01" font-size="6.15" text-anchor="end" fill="#222" stroke="#222" stroke-width="0.1"  transform="rotate(-30 257.20 76.80)">sg<tspan font-style="italic">Irf3</tspan></text>
<text x="269.00" y="78.01" font-size="6.15" text-anchor="end" fill="#222" stroke="#222" stroke-width="0.1"  transform="rotate(-30 269.00 75.80)">sg<tspan font-style="italic">Irf7</tspan></text>
<text x="279.80" y="78.01" font-size="6.15" text-anchor="end" fill="#222" stroke="#222" stroke-width="0.1"  transform="rotate(-30 279.80 75.80)">sg<tspan font-style="italic">Irf9</tspan></text>
<line x1="228.00" y1="86.25" x2="280.50" y2="86.25" stroke="#111" stroke-width="0.55" />
<text x="282.40" y="93.00" font-size="6.68" text-anchor="end" fill="#222" stroke="#222" stroke-width="0.1" >sg<tspan font-style="italic">Scd2</tspan></text>
<text x="351.80" y="11.94" font-size="6.78" text-anchor="middle" fill="#222" stroke="#222" stroke-width="0.1" >UP-Regulated Genes</text>
<defs><clipPath id="cpR"><ellipse cx="342.6" cy="54.2" rx="28.6" ry="16.6" transform="rotate(45 342.6 54.2)" /></clipPath><clipPath id="cpB"><ellipse cx="354.5" cy="46.4" rx="28" ry="13.5" transform="rotate(45 354.5 46.4)" /></clipPath><clipPath id="cpC"><ellipse cx="354.5" cy="46.4" rx="26.6" ry="13.5" transform="rotate(-45 354.5 46.4)" /></clipPath><clipPath id="cpG"><ellipse cx="366.4" cy="54.2" rx="28.6" ry="16.6" transform="rotate(-45 366.4 54.2)" /></clipPath></defs>
<ellipse cx="342.6" cy="54.2" rx="28.6" ry="16.6" transform="rotate(45 342.6 54.2)" fill="#f4a8a8"/>
<ellipse cx="354.5" cy="46.4" rx="28" ry="13.5" transform="rotate(45 354.5 46.4)" fill="#9292ea"/>
<ellipse cx="354.5" cy="46.4" rx="26.6" ry="13.5" transform="rotate(-45 354.5 46.4)" fill="#b8ecf4"/>
<ellipse cx="366.4" cy="54.2" rx="28.6" ry="16.6" transform="rotate(-45 366.4 54.2)" fill="#c6eca4"/>
<g clip-path="url(#cpR)"><ellipse cx="354.5" cy="46.4" rx="28" ry="13.5" transform="rotate(45 354.5 46.4)" fill="#9068d0"/></g>
<g clip-path="url(#cpR)"><ellipse cx="354.5" cy="46.4" rx="26.6" ry="13.5" transform="rotate(-45 354.5 46.4)" fill="#b8d8c8"/></g>
<g clip-path="url(#cpR)"><ellipse cx="366.4" cy="54.2" rx="28.6" ry="16.6" transform="rotate(-45 366.4 54.2)" fill="#da9c5e"/></g>
<g clip-path="url(#cpB)"><ellipse cx="354.5" cy="46.4" rx="26.6" ry="13.5" transform="rotate(-45 354.5 46.4)" fill="#6e8ee8"/></g>
<g clip-path="url(#cpB)"><ellipse cx="366.4" cy="54.2" rx="28.6" ry="16.6" transform="rotate(-45 366.4 54.2)" fill="#7c98e4"/></g>
<g clip-path="url(#cpC)"><ellipse cx="366.4" cy="54.2" rx="28.6" ry="16.6" transform="rotate(-45 366.4 54.2)" fill="#98e0ac"/></g>
<g clip-path="url(#cpR)"><g clip-path="url(#cpB)"><ellipse cx="354.5" cy="46.4" rx="26.6" ry="13.5" transform="rotate(-45 354.5 46.4)" fill="#7c70d4"/></g></g>
<g clip-path="url(#cpR)"><g clip-path="url(#cpB)"><ellipse cx="366.4" cy="54.2" rx="28.6" ry="16.6" transform="rotate(-45 366.4 54.2)" fill="#8a62c2"/></g></g>
<g clip-path="url(#cpR)"><g clip-path="url(#cpC)"><ellipse cx="366.4" cy="54.2" rx="28.6" ry="16.6" transform="rotate(-45 366.4 54.2)" fill="#b0d8a8"/></g></g>
<g clip-path="url(#cpB)"><g clip-path="url(#cpC)"><ellipse cx="366.4" cy="54.2" rx="28.6" ry="16.6" transform="rotate(-45 366.4 54.2)" fill="#6c90e6"/></g></g>
<g clip-path="url(#cpR)"><g clip-path="url(#cpB)"><g clip-path="url(#cpC)"><ellipse cx="366.4" cy="54.2" rx="28.6" ry="16.6" transform="rotate(-45 366.4 54.2)" fill="#7c80d8"/></g></g></g>
<ellipse cx="342.6" cy="54.2" rx="28.6" ry="16.6" transform="rotate(45 342.6 54.2)" fill="none" stroke="#c46a6a" stroke-width="0.6" stroke-opacity="0.85"/>
<ellipse cx="354.5" cy="46.4" rx="28" ry="13.5" transform="rotate(45 354.5 46.4)" fill="none" stroke="#3c3ca8" stroke-width="0.6" stroke-opacity="0.85"/>
<ellipse cx="354.5" cy="46.4" rx="26.6" ry="13.5" transform="rotate(-45 354.5 46.4)" fill="none" stroke="#5aa8b8" stroke-width="0.6" stroke-opacity="0.85"/>
<ellipse cx="366.4" cy="54.2" rx="28.6" ry="16.6" transform="rotate(-45 366.4 54.2)" fill="none" stroke="#6ab45a" stroke-width="0.6" stroke-opacity="0.85"/>
<text x="329.50" y="48.59" font-size="4.98" text-anchor="middle" fill="#222" stroke="#222" stroke-width="0.1" >135</text>
<text x="344.60" y="32.29" font-size="4.98" text-anchor="middle" fill="#222" stroke="#222" stroke-width="0.1" >170</text>
<text x="364.60" y="32.29" font-size="4.98" text-anchor="middle" fill="#222" stroke="#222" stroke-width="0.1" >146</text>
<text x="379.60" y="48.39" font-size="4.98" text-anchor="middle" fill="#222" stroke="#222" stroke-width="0.1" >120</text>
<text x="339.60" y="39.99" font-size="4.98" text-anchor="middle" fill="#222" stroke="#222" stroke-width="0.1" >71</text>
<text x="353.60" y="39.99" font-size="4.98" text-anchor="middle" fill="#222" stroke="#222" stroke-width="0.1" >67</text>
<text x="369.00" y="40.69" font-size="4.98" text-anchor="middle" fill="#222" stroke="#222" stroke-width="0.1" >56</text>
<text x="346.50" y="46.79" font-size="4.98" text-anchor="middle" fill="#222" stroke="#222" stroke-width="0.1" >69</text>
<text x="361.60" y="46.79" font-size="4.98" text-anchor="middle" fill="#222" stroke="#222" stroke-width="0.1" >55</text>
<text x="354.20" y="55.99" font-size="4.98" text-anchor="middle" fill="#222" stroke="#222" stroke-width="0.1" >217</text>
<text x="341.50" y="58.29" font-size="4.98" text-anchor="middle" fill="#222" stroke="#222" stroke-width="0.1" >57</text>
<text x="369.00" y="58.29" font-size="4.98" text-anchor="middle" fill="#222" stroke="#222" stroke-width="0.1" >47</text>
<text x="348.10" y="62.99" font-size="4.98" text-anchor="middle" fill="#222" stroke="#222" stroke-width="0.1" >47</text>
<text x="361.20" y="62.99" font-size="4.98" text-anchor="middle" fill="#222" stroke="#222" stroke-width="0.1" >49</text>
<text x="354.20" y="70.59" font-size="4.98" text-anchor="middle" fill="#222" stroke="#222" stroke-width="0.1" >40</text>
<text x="341.90" y="19.56" font-size="4.88" text-anchor="middle" fill="#222" stroke="#222" stroke-width="0.1" >sg<tspan font-style="italic">Scd2</tspan></text>
<text x="341.10" y="23.96" font-size="4.88" text-anchor="middle" fill="#222" stroke="#222" stroke-width="0.1" >/ sg<tspan font-style="italic">Irf7</tspan></text>
<text x="363.00" y="19.56" font-size="4.88" text-anchor="middle" fill="#222" stroke="#222" stroke-width="0.1" >sg<tspan font-style="italic">Scd2</tspan></text>
<text x="362.50" y="23.96" font-size="4.88" text-anchor="middle" fill="#222" stroke="#222" stroke-width="0.1" >/ sg<tspan font-style="italic">Irf9</tspan></text>
<text x="384.20" y="25.66" font-size="4.88" text-anchor="middle" fill="#222" stroke="#222" stroke-width="0.1" >sg<tspan font-style="italic">Scd2</tspan></text>
<text x="383.80" y="30.16" font-size="4.88" text-anchor="middle" fill="#222" stroke="#222" stroke-width="0.1" >/ sg<tspan font-style="italic">Irf3</tspan></text>
<text x="322.30" y="31.03" font-size="5.09" text-anchor="middle" fill="#222" stroke="#222" stroke-width="0.1" >sg<tspan font-style="italic">Scd2</tspan></text>
<line x1="327.00" y1="49.00" x2="321.60" y2="55.60" stroke="#111" stroke-width="0.55" />
<path d="M319.6 57.9 L320.5 54.2 L323.8 56 Z" fill="#111"/>
<line x1="337.00" y1="47.00" x2="334.60" y2="71.00" stroke="#111" stroke-width="0.55" />
<path d="M334.6 74.2 L332.7 70.4 L336.5 70.4 Z" fill="#111"/>
<text x="323.40" y="63.68" font-size="4.66" text-anchor="end" fill="#222" stroke="#222" stroke-width="0.1" font-style="italic" >Ddx60</text>
<text x="323.40" y="67.68" font-size="4.66" text-anchor="end" fill="#222" stroke="#222" stroke-width="0.1" font-style="italic" >Ifi205</text>
<text x="323.40" y="71.78" font-size="4.66" text-anchor="end" fill="#222" stroke="#222" stroke-width="0.1" font-style="italic" >Ifi214</text>
<text x="323.40" y="75.98" font-size="4.66" text-anchor="end" fill="#222" stroke="#222" stroke-width="0.1" font-style="italic" >Isg20</text>
<text x="323.40" y="80.28" font-size="4.66" text-anchor="end" fill="#222" stroke="#222" stroke-width="0.1" font-style="italic" >Oasl2</text>
<text x="337.60" y="79.88" font-size="4.66" text-anchor="end" fill="#222" stroke="#222" stroke-width="0.1" font-style="italic" >Ifi204</text>
<text x="337.60" y="83.48" font-size="4.66" text-anchor="end" fill="#222" stroke="#222" stroke-width="0.1" font-style="italic" >Ifi27</text>
<text x="337.60" y="88.08" font-size="4.66" text-anchor="end" fill="#222" stroke="#222" stroke-width="0.1" font-style="italic" >Ifit</text>
<text x="337.60" y="91.68" font-size="4.66" text-anchor="end" fill="#222" stroke="#222" stroke-width="0.1" font-style="italic" >Ifi3</text>
<text x="337.60" y="97.08" font-size="4.66" text-anchor="end" fill="#222" stroke="#222" stroke-width="0.1" font-style="italic" >Xaf1</text>
<text x="69.40" y="108.56" font-size="4.88" text-anchor="middle" fill="#222" stroke="#222" stroke-width="0.1" >Z - Score</text>
<rect x="46.90" y="109.50" width="48.40" height="3.30" fill="url(#zs)" stroke="none" stroke-width="0.6" />
<text x="45.80" y="113.46" font-size="4.88" text-anchor="end" fill="#222" stroke="#222" stroke-width="0.1" >Low</text>
<text x="95.60" y="113.46" font-size="4.88" text-anchor="start" fill="#222" stroke="#222" stroke-width="0.1" >High</text>
<rect x="31.60" y="114.70" width="6.03" height="7.97" fill="#e45864" stroke="none" stroke-width="0.6" />
<rect x="37.38" y="114.70" width="6.03" height="7.97" fill="#e45864" stroke="none" stroke-width="0.6" />
<rect x="43.17" y="114.70" width="6.03" height="7.97" fill="#e45864" stroke="none" stroke-width="0.6" />
<rect x="48.95" y="114.70" width="6.03" height="7.97" fill="#e45864" stroke="none" stroke-width="0.6" />
<rect x="54.73" y="114.70" width="6.03" height="7.97" fill="#e45864" stroke="none" stroke-width="0.6" />
<rect x="60.52" y="114.70" width="6.03" height="7.97" fill="#e45864" stroke="none" stroke-width="0.6" />
<rect x="66.30" y="114.70" width="6.03" height="7.97" fill="#e45864" stroke="none" stroke-width="0.6" />
<rect x="72.08" y="114.70" width="6.03" height="7.97" fill="#e45864" stroke="none" stroke-width="0.6" />
<rect x="77.87" y="114.70" width="6.03" height="7.97" fill="#e45864" stroke="none" stroke-width="0.6" />
<rect x="83.65" y="114.70" width="6.03" height="7.97" fill="#e45864" stroke="none" stroke-width="0.6" />
<rect x="89.43" y="114.70" width="6.03" height="7.97" fill="#f2a8b0" stroke="none" stroke-width="0.6" />
<rect x="95.22" y="114.70" width="6.03" height="7.97" fill="#e45864" stroke="none" stroke-width="0.6" />
<rect x="101.00" y="114.70" width="6.03" height="7.97" fill="#e45864" stroke="none" stroke-width="0.6" />
<rect x="106.78" y="114.70" width="6.03" height="7.97" fill="#e45864" stroke="none" stroke-width="0.6" />
<rect x="112.57" y="114.70" width="6.03" height="7.97" fill="#e45864" stroke="none" stroke-width="0.6" />
<rect x="118.35" y="114.70" width="6.03" height="7.97" fill="#e45864" stroke="none" stroke-width="0.6" />
<rect x="124.13" y="114.70" width="6.03" height="7.97" fill="#dc3a44" stroke="none" stroke-width="0.6" />
<rect x="129.92" y="114.70" width="6.03" height="7.97" fill="#dc3a44" stroke="none" stroke-width="0.6" />
<rect x="135.70" y="114.70" width="6.03" height="7.97" fill="#dc3a44" stroke="none" stroke-width="0.6" />
<rect x="141.48" y="114.70" width="6.03" height="7.97" fill="#dc3a44" stroke="none" stroke-width="0.6" />
<rect x="147.27" y="114.70" width="6.03" height="7.97" fill="#dc3a44" stroke="none" stroke-width="0.6" />
<rect x="153.05" y="114.70" width="6.03" height="7.97" fill="#dc3a44" stroke="none" stroke-width="0.6" />
<rect x="158.83" y="114.70" width="6.03" height="7.97" fill="#dc3a44" stroke="none" stroke-width="0.6" />
<rect x="164.62" y="114.70" width="6.03" height="7.97" fill="#dc3a44" stroke="none" stroke-width="0.6" />
<rect x="170.40" y="114.70" width="6.03" height="7.97" fill="#dc3a44" stroke="none" stroke-width="0.6" />
<rect x="176.18" y="114.70" width="6.03" height="7.97" fill="#e45864" stroke="none" stroke-width="0.6" />
<rect x="181.97" y="114.70" width="6.03" height="7.97" fill="#dc3a44" stroke="none" stroke-width="0.6" />
<rect x="187.75" y="114.70" width="6.03" height="7.97" fill="#f2a8b0" stroke="none" stroke-width="0.6" />
<rect x="193.53" y="114.70" width="6.03" height="7.97" fill="#f2a8b0" stroke="none" stroke-width="0.6" />
<rect x="199.32" y="114.70" width="6.03" height="7.97" fill="#e45864" stroke="none" stroke-width="0.6" />
<rect x="205.10" y="114.70" width="6.03" height="7.97" fill="#dc3a44" stroke="none" stroke-width="0.6" />
<rect x="210.88" y="114.70" width="6.03" height="7.97" fill="#f2a8b0" stroke="none" stroke-width="0.6" />
<rect x="216.67" y="114.70" width="6.03" height="7.97" fill="#e45864" stroke="none" stroke-width="0.6" />
<rect x="222.45" y="114.70" width="6.03" height="7.97" fill="#e45864" stroke="none" stroke-width="0.6" />
<rect x="228.23" y="114.70" width="6.03" height="7.97" fill="#f8d6da" stroke="none" stroke-width="0.6" />
<rect x="234.02" y="114.70" width="6.03" height="7.97" fill="#f2a8b0" stroke="none" stroke-width="0.6" />
<rect x="239.80" y="114.70" width="6.03" height="7.97" fill="#f2a8b0" stroke="none" stroke-width="0.6" />
<rect x="245.58" y="114.70" width="6.03" height="7.97" fill="#f8d6da" stroke="none" stroke-width="0.6" />
<rect x="251.37" y="114.70" width="6.03" height="7.97" fill="#f8d6da" stroke="none" stroke-width="0.6" />
<rect x="257.15" y="114.70" width="6.03" height="7.97" fill="#f6f4f8" stroke="none" stroke-width="0.6" />
<rect x="262.93" y="114.70" width="6.03" height="7.97" fill="#f8d6da" stroke="none" stroke-width="0.6" />
<rect x="268.72" y="114.70" width="6.03" height="7.97" fill="#f2a8b0" stroke="none" stroke-width="0.6" />
<rect x="274.50" y="114.70" width="6.03" height="7.97" fill="#f2a8b0" stroke="none" stroke-width="0.6" />
<rect x="280.28" y="114.70" width="6.03" height="7.97" fill="#e45864" stroke="none" stroke-width="0.6" />
<rect x="286.07" y="114.70" width="6.03" height="7.97" fill="#f2a8b0" stroke="none" stroke-width="0.6" />
<rect x="291.85" y="114.70" width="6.03" height="7.97" fill="#b4baf2" stroke="none" stroke-width="0.6" />
<rect x="297.63" y="114.70" width="6.03" height="7.97" fill="#dcdff8" stroke="none" stroke-width="0.6" />
<rect x="303.42" y="114.70" width="6.03" height="7.97" fill="#dcdff8" stroke="none" stroke-width="0.6" />
<rect x="31.60" y="122.42" width="6.03" height="7.97" fill="#f2a8b0" stroke="none" stroke-width="0.6" />
<rect x="37.38" y="122.42" width="6.03" height="7.97" fill="#f2a8b0" stroke="none" stroke-width="0.6" />
<rect x="43.17" y="122.42" width="6.03" height="7.97" fill="#f2a8b0" stroke="none" stroke-width="0.6" />
<rect x="48.95" y="122.42" width="6.03" height="7.97" fill="#f2a8b0" stroke="none" stroke-width="0.6" />
<rect x="54.73" y="122.42" width="6.03" height="7.97" fill="#f2a8b0" stroke="none" stroke-width="0.6" />
<rect x="60.52" y="122.42" width="6.03" height="7.97" fill="#f2a8b0" stroke="none" stroke-width="0.6" />
<rect x="66.30" y="122.42" width="6.03" height="7.97" fill="#f2a8b0" stroke="none" stroke-width="0.6" />
<rect x="72.08" y="122.42" width="6.03" height="7.97" fill="#f2a8b0" stroke="none" stroke-width="0.6" />
<rect x="77.87" y="122.42" width="6.03" height="7.97" fill="#f2a8b0" stroke="none" stroke-width="0.6" />
<rect x="83.65" y="122.42" width="6.03" height="7.97" fill="#e45864" stroke="none" stroke-width="0.6" />
<rect x="89.43" y="122.42" width="6.03" height="7.97" fill="#f2a8b0" stroke="none" stroke-width="0.6" />
<rect x="95.22" y="122.42" width="6.03" height="7.97" fill="#f2a8b0" stroke="none" stroke-width="0.6" />
<rect x="101.00" y="122.42" width="6.03" height="7.97" fill="#f2a8b0" stroke="none" stroke-width="0.6" />
<rect x="106.78" y="122.42" width="6.03" height="7.97" fill="#f8d6da" stroke="none" stroke-width="0.6" />
<rect x="112.57" y="122.42" width="6.03" height="7.97" fill="#f8d6da" stroke="none" stroke-width="0.6" />
<rect x="118.35" y="122.42" width="6.03" height="7.97" fill="#f8d6da" stroke="none" stroke-width="0.6" />
<rect x="124.13" y="122.42" width="6.03" height="7.97" fill="#f8d6da" stroke="none" stroke-width="0.6" />
<rect x="129.92" y="122.42" width="6.03" height="7.97" fill="#f8d6da" stroke="none" stroke-width="0.6" />
<rect x="135.70" y="122.42" width="6.03" height="7.97" fill="#f2a8b0" stroke="none" stroke-width="0.6" />
<rect x="141.48" y="122.42" width="6.03" height="7.97" fill="#f8d6da" stroke="none" stroke-width="0.6" />
<rect x="147.27" y="122.42" width="6.03" height="7.97" fill="#f6f4f8" stroke="none" stroke-width="0.6" />
<rect x="153.05" y="122.42" width="6.03" height="7.97" fill="#f6f4f8" stroke="none" stroke-width="0.6" />
<rect x="158.83" y="122.42" width="6.03" height="7.97" fill="#f6f4f8" stroke="none" stroke-width="0.6" />
<rect x="164.62" y="122.42" width="6.03" height="7.97" fill="#f8d6da" stroke="none" stroke-width="0.6" />
<rect x="170.40" y="122.42" width="6.03" height="7.97" fill="#f6f4f8" stroke="none" stroke-width="0.6" />
<rect x="176.18" y="122.42" width="6.03" height="7.97" fill="#dcdff8" stroke="none" stroke-width="0.6" />
<rect x="181.97" y="122.42" width="6.03" height="7.97" fill="#b4baf2" stroke="none" stroke-width="0.6" />
<rect x="187.75" y="122.42" width="6.03" height="7.97" fill="#f2a8b0" stroke="none" stroke-width="0.6" />
<rect x="193.53" y="122.42" width="6.03" height="7.97" fill="#f2a8b0" stroke="none" stroke-width="0.6" />
<rect x="199.32" y="122.42" width="6.03" height="7.97" fill="#f2a8b0" stroke="none" stroke-width="0.6" />
<rect x="205.10" y="122.42" width="6.03" height="7.97" fill="#f8d6da" stroke="none" stroke-width="0.6" />
<rect x="210.88" y="122.42" width="6.03" height="7.97" fill="#e45864" stroke="none" stroke-width="0.6" />
<rect x="216.67" y="122.42" width="6.03" height="7.97" fill="#e45864" stroke="none" stroke-width="0.6" />
<rect x="222.45" y="122.42" width="6.03" height="7.97" fill="#f2a8b0" stroke="none" stroke-width="0.6" />
<rect x="228.23" y="122.42" width="6.03" height="7.97" fill="#dc3a44" stroke="none" stroke-width="0.6" />
<rect x="234.02" y="122.42" width="6.03" height="7.97" fill="#f2a8b0" stroke="none" stroke-width="0.6" />
<rect x="239.80" y="122.42" width="6.03" height="7.97" fill="#f2a8b0" stroke="none" stroke-width="0.6" />
<rect x="245.58" y="122.42" width="6.03" height="7.97" fill="#f8d6da" stroke="none" stroke-width="0.6" />
<rect x="251.37" y="122.42" width="6.03" height="7.97" fill="#f8d6da" stroke="none" stroke-width="0.6" />
<rect x="257.15" y="122.42" width="6.03" height="7.97" fill="#f8d6da" stroke="none" stroke-width="0.6" />
<rect x="262.93" y="122.42" width="6.03" height="7.97" fill="#f8d6da" stroke="none" stroke-width="0.6" />
<rect x="268.72" y="122.42" width="6.03" height="7.97" fill="#f8d6da" stroke="none" stroke-width="0.6" />
<rect x="274.50" y="122.42" width="6.03" height="7.97" fill="#f2a8b0" stroke="none" stroke-width="0.6" />
<rect x="280.28" y="122.42" width="6.03" height="7.97" fill="#e45864" stroke="none" stroke-width="0.6" />
<rect x="286.07" y="122.42" width="6.03" height="7.97" fill="#f6f4f8" stroke="none" stroke-width="0.6" />
<rect x="291.85" y="122.42" width="6.03" height="7.97" fill="#f6f4f8" stroke="none" stroke-width="0.6" />
<rect x="297.63" y="122.42" width="6.03" height="7.97" fill="#dc3a44" stroke="none" stroke-width="0.6" />
<rect x="303.42" y="122.42" width="6.03" height="7.97" fill="#dc3a44" stroke="none" stroke-width="0.6" />
<rect x="31.60" y="130.14" width="6.03" height="7.97" fill="#b4baf2" stroke="none" stroke-width="0.6" />
<rect x="37.38" y="130.14" width="6.03" height="7.97" fill="#b4baf2" stroke="none" stroke-width="0.6" />
<rect x="43.17" y="130.14" width="6.03" height="7.97" fill="#dcdff8" stroke="none" stroke-width="0.6" />
<rect x="48.95" y="130.14" width="6.03" height="7.97" fill="#dcdff8" stroke="none" stroke-width="0.6" />
<rect x="54.73" y="130.14" width="6.03" height="7.97" fill="#dcdff8" stroke="none" stroke-width="0.6" />
<rect x="60.52" y="130.14" width="6.03" height="7.97" fill="#dcdff8" stroke="none" stroke-width="0.6" />
<rect x="66.30" y="130.14" width="6.03" height="7.97" fill="#dcdff8" stroke="none" stroke-width="0.6" />
<rect x="72.08" y="130.14" width="6.03" height="7.97" fill="#dcdff8" stroke="none" stroke-width="0.6" />
<rect x="77.87" y="130.14" width="6.03" height="7.97" fill="#f6f4f8" stroke="none" stroke-width="0.6" />
<rect x="83.65" y="130.14" width="6.03" height="7.97" fill="#f6f4f8" stroke="none" stroke-width="0.6" />
<rect x="89.43" y="130.14" width="6.03" height="7.97" fill="#f6f4f8" stroke="none" stroke-width="0.6" />
<rect x="95.22" y="130.14" width="6.03" height="7.97" fill="#f6f4f8" stroke="none" stroke-width="0.6" />
<rect x="101.00" y="130.14" width="6.03" height="7.97" fill="#f6f4f8" stroke="none" stroke-width="0.6" />
<rect x="106.78" y="130.14" width="6.03" height="7.97" fill="#f6f4f8" stroke="none" stroke-width="0.6" />
<rect x="112.57" y="130.14" width="6.03" height="7.97" fill="#f6f4f8" stroke="none" stroke-width="0.6" />
<rect x="118.35" y="130.14" width="6.03" height="7.97" fill="#dcdff8" stroke="none" stroke-width="0.6" />
<rect x="124.13" y="130.14" width="6.03" height="7.97" fill="#b4baf2" stroke="none" stroke-width="0.6" />
<rect x="129.92" y="130.14" width="6.03" height="7.97" fill="#7b86ea" stroke="none" stroke-width="0.6" />
<rect x="135.70" y="130.14" width="6.03" height="7.97" fill="#4654e2" stroke="none" stroke-width="0.6" />
<rect x="141.48" y="130.14" width="6.03" height="7.97" fill="#7b86ea" stroke="none" stroke-width="0.6" />
<rect x="147.27" y="130.14" width="6.03" height="7.97" fill="#dcdff8" stroke="none" stroke-width="0.6" />
<rect x="153.05" y="130.14" width="6.03" height="7.97" fill="#dcdff8" stroke="none" stroke-width="0.6" />
<rect x="158.83" y="130.14" width="6.03" height="7.97" fill="#dcdff8" stroke="none" stroke-width="0.6" />
<rect x="164.62" y="130.14" width="6.03" height="7.97" fill="#dcdff8" stroke="none" stroke-width="0.6" />
<rect x="170.40" y="130.14" width="6.03" height="7.97" fill="#b4baf2" stroke="none" stroke-width="0.6" />
<rect x="176.18" y="130.14" width="6.03" height="7.97" fill="#b4baf2" stroke="none" stroke-width="0.6" />
<rect x="181.97" y="130.14" width="6.03" height="7.97" fill="#f6f4f8" stroke="none" stroke-width="0.6" />
<rect x="187.75" y="130.14" width="6.03" height="7.97" fill="#4654e2" stroke="none" stroke-width="0.6" />
<rect x="193.53" y="130.14" width="6.03" height="7.97" fill="#7b86ea" stroke="none" stroke-width="0.6" />
<rect x="199.32" y="130.14" width="6.03" height="7.97" fill="#7b86ea" stroke="none" stroke-width="0.6" />
<rect x="205.10" y="130.14" width="6.03" height="7.97" fill="#7b86ea" stroke="none" stroke-width="0.6" />
<rect x="210.88" y="130.14" width="6.03" height="7.97" fill="#b4baf2" stroke="none" stroke-width="0.6" />
<rect x="216.67" y="130.14" width="6.03" height="7.97" fill="#b4baf2" stroke="none" stroke-width="0.6" />
<rect x="222.45" y="130.14" width="6.03" height="7.97" fill="#7b86ea" stroke="none" stroke-width="0.6" />
<rect x="228.23" y="130.14" width="6.03" height="7.97" fill="#b4baf2" stroke="none" stroke-width="0.6" />
<rect x="234.02" y="130.14" width="6.03" height="7.97" fill="#b4baf2" stroke="none" stroke-width="0.6" />
<rect x="239.80" y="130.14" width="6.03" height="7.97" fill="#b4baf2" stroke="none" stroke-width="0.6" />
<rect x="245.58" y="130.14" width="6.03" height="7.97" fill="#7b86ea" stroke="none" stroke-width="0.6" />
<rect x="251.37" y="130.14" width="6.03" height="7.97" fill="#f8d6da" stroke="none" stroke-width="0.6" />
<rect x="257.15" y="130.14" width="6.03" height="7.97" fill="#f8d6da" stroke="none" stroke-width="0.6" />
<rect x="262.93" y="130.14" width="6.03" height="7.97" fill="#f2a8b0" stroke="none" stroke-width="0.6" />
<rect x="268.72" y="130.14" width="6.03" height="7.97" fill="#e45864" stroke="none" stroke-width="0.6" />
<rect x="274.50" y="130.14" width="6.03" height="7.97" fill="#f6f4f8" stroke="none" stroke-width="0.6" />
<rect x="280.28" y="130.14" width="6.03" height="7.97" fill="#f8d6da" stroke="none" stroke-width="0.6" />
<rect x="286.07" y="130.14" width="6.03" height="7.97" fill="#f8d6da" stroke="none" stroke-width="0.6" />
<rect x="291.85" y="130.14" width="6.03" height="7.97" fill="#f2a8b0" stroke="none" stroke-width="0.6" />
<rect x="297.63" y="130.14" width="6.03" height="7.97" fill="#f8d6da" stroke="none" stroke-width="0.6" />
<rect x="303.42" y="130.14" width="6.03" height="7.97" fill="#f6f4f8" stroke="none" stroke-width="0.6" />
<rect x="31.60" y="137.86" width="6.03" height="7.97" fill="#7b86ea" stroke="none" stroke-width="0.6" />
<rect x="37.38" y="137.86" width="6.03" height="7.97" fill="#7b86ea" stroke="none" stroke-width="0.6" />
<rect x="43.17" y="137.86" width="6.03" height="7.97" fill="#4654e2" stroke="none" stroke-width="0.6" />
<rect x="48.95" y="137.86" width="6.03" height="7.97" fill="#4654e2" stroke="none" stroke-width="0.6" />
<rect x="54.73" y="137.86" width="6.03" height="7.97" fill="#4654e2" stroke="none" stroke-width="0.6" />
<rect x="60.52" y="137.86" width="6.03" height="7.97" fill="#2434e0" stroke="none" stroke-width="0.6" />
<rect x="66.30" y="137.86" width="6.03" height="7.97" fill="#2434e0" stroke="none" stroke-width="0.6" />
<rect x="72.08" y="137.86" width="6.03" height="7.97" fill="#4654e2" stroke="none" stroke-width="0.6" />
<rect x="77.87" y="137.86" width="6.03" height="7.97" fill="#4654e2" stroke="none" stroke-width="0.6" />
<rect x="83.65" y="137.86" width="6.03" height="7.97" fill="#4654e2" stroke="none" stroke-width="0.6" />
<rect x="89.43" y="137.86" width="6.03" height="7.97" fill="#4654e2" stroke="none" stroke-width="0.6" />
<rect x="95.22" y="137.86" width="6.03" height="7.97" fill="#4654e2" stroke="none" stroke-width="0.6" />
<rect x="101.00" y="137.86" width="6.03" height="7.97" fill="#7b86ea" stroke="none" stroke-width="0.6" />
<rect x="106.78" y="137.86" width="6.03" height="7.97" fill="#7b86ea" stroke="none" stroke-width="0.6" />
<rect x="112.57" y="137.86" width="6.03" height="7.97" fill="#7b86ea" stroke="none" stroke-width="0.6" />
<rect x="118.35" y="137.86" width="6.03" height="7.97" fill="#b4baf2" stroke="none" stroke-width="0.6" />
<rect x="124.13" y="137.86" width="6.03" height="7.97" fill="#dcdff8" stroke="none" stroke-width="0.6" />
<rect x="129.92" y="137.86" width="6.03" height="7.97" fill="#dcdff8" stroke="none" stroke-width="0.6" />
<rect x="135.70" y="137.86" width="6.03" height="7.97" fill="#dcdff8" stroke="none" stroke-width="0.6" />
<rect x="141.48" y="137.86" width="6.03" height="7.97" fill="#f8d6da" stroke="none" stroke-width="0.6" />
<rect x="147.27" y="137.86" width="6.03" height="7.97" fill="#4654e2" stroke="none" stroke-width="0.6" />
<rect x="153.05" y="137.86" width="6.03" height="7.97" fill="#4654e2" stroke="none" stroke-width="0.6" />
<rect x="158.83" y="137.86" width="6.03" height="7.97" fill="#2434e0" stroke="none" stroke-width="0.6" />
<rect x="164.62" y="137.86" width="6.03" height="7.97" fill="#2434e0" stroke="none" stroke-width="0.6" />
<rect x="170.40" y="137.86" width="6.03" height="7.97" fill="#7b86ea" stroke="none" stroke-width="0.6" />
<rect x="176.18" y="137.86" width="6.03" height="7.97" fill="#7b86ea" stroke="none" stroke-width="0.6" />
<rect x="181.97" y="137.86" width="6.03" height="7.97" fill="#dcdff8" stroke="none" stroke-width="0.6" />
<rect x="187.75" y="137.86" width="6.03" height="7.97" fill="#dcdff8" stroke="none" stroke-width="0.6" />
<rect x="193.53" y="137.86" width="6.03" height="7.97" fill="#b4baf2" stroke="none" stroke-width="0.6" />
<rect x="199.32" y="137.86" width="6.03" height="7.97" fill="#b4baf2" stroke="none" stroke-width="0.6" />
<rect x="205.10" y="137.86" width="6.03" height="7.97" fill="#b4baf2" stroke="none" stroke-width="0.6" />
<rect x="210.88" y="137.86" width="6.03" height="7.97" fill="#b4baf2" stroke="none" stroke-width="0.6" />
<rect x="216.67" y="137.86" width="6.03" height="7.97" fill="#b4baf2" stroke="none" stroke-width="0.6" />
<rect x="222.45" y="137.86" width="6.03" height="7.97" fill="#7b86ea" stroke="none" stroke-width="0.6" />
<rect x="228.23" y="137.86" width="6.03" height="7.97" fill="#7b86ea" stroke="none" stroke-width="0.6" />
<rect x="234.02" y="137.86" width="6.03" height="7.97" fill="#4654e2" stroke="none" stroke-width="0.6" />
<rect x="239.80" y="137.86" width="6.03" height="7.97" fill="#4654e2" stroke="none" stroke-width="0.6" />
<rect x="245.58" y="137.86" width="6.03" height="7.97" fill="#4654e2" stroke="none" stroke-width="0.6" />
<rect x="251.37" y="137.86" width="6.03" height="7.97" fill="#2434e0" stroke="none" stroke-width="0.6" />
<rect x="257.15" y="137.86" width="6.03" height="7.97" fill="#2434e0" stroke="none" stroke-width="0.6" />
<rect x="262.93" y="137.86" width="6.03" height="7.97" fill="#2434e0" stroke="none" stroke-width="0.6" />
<rect x="268.72" y="137.86" width="6.03" height="7.97" fill="#2434e0" stroke="none" stroke-width="0.6" />
<rect x="274.50" y="137.86" width="6.03" height="7.97" fill="#2434e0" stroke="none" stroke-width="0.6" />
<rect x="280.28" y="137.86" width="6.03" height="7.97" fill="#2434e0" stroke="none" stroke-width="0.6" />
<rect x="286.07" y="137.86" width="6.03" height="7.97" fill="#2434e0" stroke="none" stroke-width="0.6" />
<rect x="291.85" y="137.86" width="6.03" height="7.97" fill="#2434e0" stroke="none" stroke-width="0.6" />
<rect x="297.63" y="137.86" width="6.03" height="7.97" fill="#7b86ea" stroke="none" stroke-width="0.6" />
<rect x="303.42" y="137.86" width="6.03" height="7.97" fill="#4654e2" stroke="none" stroke-width="0.6" />
<rect x="31.60" y="145.58" width="6.03" height="7.97" fill="#b4baf2" stroke="none" stroke-width="0.6" />
<rect x="37.38" y="145.58" width="6.03" height="7.97" fill="#b4baf2" stroke="none" stroke-width="0.6" />
<rect x="43.17" y="145.58" width="6.03" height="7.97" fill="#dcdff8" stroke="none" stroke-width="0.6" />
<rect x="48.95" y="145.58" width="6.03" height="7.97" fill="#dcdff8" stroke="none" stroke-width="0.6" />
<rect x="54.73" y="145.58" width="6.03" height="7.97" fill="#dcdff8" stroke="none" stroke-width="0.6" />
<rect x="60.52" y="145.58" width="6.03" height="7.97" fill="#dcdff8" stroke="none" stroke-width="0.6" />
<rect x="66.30" y="145.58" width="6.03" height="7.97" fill="#dcdff8" stroke="none" stroke-width="0.6" />
<rect x="72.08" y="145.58" width="6.03" height="7.97" fill="#dcdff8" stroke="none" stroke-width="0.6" />
<rect x="77.87" y="145.58" width="6.03" height="7.97" fill="#b4baf2" stroke="none" stroke-width="0.6" />
<rect x="83.65" y="145.58" width="6.03" height="7.97" fill="#b4baf2" stroke="none" stroke-width="0.6" />
<rect x="89.43" y="145.58" width="6.03" height="7.97" fill="#b4baf2" stroke="none" stroke-width="0.6" />
<rect x="95.22" y="145.58" width="6.03" height="7.97" fill="#b4baf2" stroke="none" stroke-width="0.6" />
<rect x="101.00" y="145.58" width="6.03" height="7.97" fill="#7b86ea" stroke="none" stroke-width="0.6" />
<rect x="106.78" y="145.58" width="6.03" height="7.97" fill="#7b86ea" stroke="none" stroke-width="0.6" />
<rect x="112.57" y="145.58" width="6.03" height="7.97" fill="#7b86ea" stroke="none" stroke-width="0.6" />
<rect x="118.35" y="145.58" width="6.03" height="7.97" fill="#7b86ea" stroke="none" stroke-width="0.6" />
<rect x="124.13" y="145.58" width="6.03" height="7.97" fill="#7b86ea" stroke="none" stroke-width="0.6" />
<rect x="129.92" y="145.58" width="6.03" height="7.97" fill="#7b86ea" stroke="none" stroke-width="0.6" />
<rect x="135.70" y="145.58" width="6.03" height="7.97" fill="#7b86ea" stroke="none" stroke-width="0.6" />
<rect x="141.48" y="145.58" width="6.03" height="7.97" fill="#7b86ea" stroke="none" stroke-width="0.6" />
<rect x="147.27" y="145.58" width="6.03" height="7.97" fill="#f6f4f8" stroke="none" stroke-width="0.6" />
<rect x="153.05" y="145.58" width="6.03" height="7.97" fill="#f6f4f8" stroke="none" stroke-width="0.6" />
<rect x="158.83" y="145.58" width="6.03" height="7.97" fill="#f8d6da" stroke="none" stroke-width="0.6" />
<rect x="164.62" y="145.58" width="6.03" height="7.97" fill="#f6f4f8" stroke="none" stroke-width="0.6" />
<rect x="170.40" y="145.58" width="6.03" height="7.97" fill="#f8d6da" stroke="none" stroke-width="0.6" />
<rect x="176.18" y="145.58" width="6.03" height="7.97" fill="#f2a8b0" stroke="none" stroke-width="0.6" />
<rect x="181.97" y="145.58" width="6.03" height="7.97" fill="#f6f4f8" stroke="none" stroke-width="0.6" />
<rect x="187.75" y="145.58" width="6.03" height="7.97" fill="#f6f4f8" stroke="none" stroke-width="0.6" />
<rect x="193.53" y="145.58" width="6.03" height="7.97" fill="#f6f4f8" stroke="none" stroke-width="0.6" />
<rect x="199.32" y="145.58" width="6.03" height="7.97" fill="#f6f4f8" stroke="none" stroke-width="0.6" />
<rect x="205.10" y="145.58" width="6.03" height="7.97" fill="#f6f4f8" stroke="none" stroke-width="0.6" />
<rect x="210.88" y="145.58" width="6.03" height="7.97" fill="#f6f4f8" stroke="none" stroke-width="0.6" />
<rect x="216.67" y="145.58" width="6.03" height="7.97" fill="#f6f4f8" stroke="none" stroke-width="0.6" />
<rect x="222.45" y="145.58" width="6.03" height="7.97" fill="#dcdff8" stroke="none" stroke-width="0.6" />
<rect x="228.23" y="145.58" width="6.03" height="7.97" fill="#dcdff8" stroke="none" stroke-width="0.6" />
<rect x="234.02" y="145.58" width="6.03" height="7.97" fill="#f8d6da" stroke="none" stroke-width="0.6" />
<rect x="239.80" y="145.58" width="6.03" height="7.97" fill="#f6f4f8" stroke="none" stroke-width="0.6" />
<rect x="245.58" y="145.58" width="6.03" height="7.97" fill="#f2a8b0" stroke="none" stroke-width="0.6" />
<rect x="251.37" y="145.58" width="6.03" height="7.97" fill="#f6f4f8" stroke="none" stroke-width="0.6" />
<rect x="257.15" y="145.58" width="6.03" height="7.97" fill="#f8d6da" stroke="none" stroke-width="0.6" />
<rect x="262.93" y="145.58" width="6.03" height="7.97" fill="#f8d6da" stroke="none" stroke-width="0.6" />
<rect x="268.72" y="145.58" width="6.03" height="7.97" fill="#f6f4f8" stroke="none" stroke-width="0.6" />
<rect x="274.50" y="145.58" width="6.03" height="7.97" fill="#f8d6da" stroke="none" stroke-width="0.6" />
<rect x="280.28" y="145.58" width="6.03" height="7.97" fill="#f6f4f8" stroke="none" stroke-width="0.6" />
<rect x="286.07" y="145.58" width="6.03" height="7.97" fill="#dcdff8" stroke="none" stroke-width="0.6" />
<rect x="291.85" y="145.58" width="6.03" height="7.97" fill="#f6f4f8" stroke="none" stroke-width="0.6" />
<rect x="297.63" y="145.58" width="6.03" height="7.97" fill="#f8d6da" stroke="none" stroke-width="0.6" />
<rect x="303.42" y="145.58" width="6.03" height="7.97" fill="#f2a8b0" stroke="none" stroke-width="0.6" />
<rect x="31.60" y="114.70" width="277.60" height="38.60" fill="none" stroke="#9a9a9a" stroke-width="0.5" />
<line x1="27.10" y1="118.56" x2="31.60" y2="118.56" stroke="#a8a8a8" stroke-width="0.5" />
<line x1="27.10" y1="126.28" x2="31.60" y2="126.28" stroke="#a8a8a8" stroke-width="0.5" />
<line x1="27.10" y1="118.56" x2="27.10" y2="126.28" stroke="#a8a8a8" stroke-width="0.5" />
<line x1="28.00" y1="122.42" x2="27.10" y2="122.42" stroke="#a8a8a8" stroke-width="0.5" />
<line x1="28.00" y1="134.00" x2="31.60" y2="134.00" stroke="#a8a8a8" stroke-width="0.5" />
<line x1="28.00" y1="122.42" x2="28.00" y2="134.00" stroke="#a8a8a8" stroke-width="0.5" />
<line x1="30.00" y1="141.72" x2="31.60" y2="141.72" stroke="#a8a8a8" stroke-width="0.5" />
<line x1="30.00" y1="149.44" x2="31.60" y2="149.44" stroke="#a8a8a8" stroke-width="0.5" />
<line x1="30.00" y1="141.72" x2="30.00" y2="149.44" stroke="#a8a8a8" stroke-width="0.5" />
<line x1="19.40" y1="128.21" x2="28.00" y2="128.21" stroke="#a8a8a8" stroke-width="0.5" />
<line x1="19.40" y1="145.58" x2="30.00" y2="145.58" stroke="#a8a8a8" stroke-width="0.5" />
<line x1="19.40" y1="128.21" x2="19.40" y2="145.58" stroke="#a8a8a8" stroke-width="0.5" />
<text x="310.80" y="121.03" font-size="6.04" text-anchor="start" fill="#222" stroke="#222" stroke-width="0.1" >sg<tspan font-style="italic">Scd2</tspan></text>
<text x="310.80" y="128.75" font-size="6.04" text-anchor="start" fill="#222" stroke="#222" stroke-width="0.1" >sg<tspan font-style="italic">Scd2</tspan>/sg<tspan font-style="italic">Irf7</tspan></text>
<text x="310.80" y="136.47" font-size="6.04" text-anchor="start" fill="#222" stroke="#222" stroke-width="0.1" >sg<tspan font-style="italic">Scd2</tspan>/sg<tspan font-style="italic">Irf3</tspan></text>
<text x="310.80" y="144.19" font-size="6.04" text-anchor="start" fill="#222" stroke="#222" stroke-width="0.1" >Control</text>
<text x="310.80" y="151.91" font-size="6.04" text-anchor="start" fill="#222" stroke="#222" stroke-width="0.1" >sg<tspan font-style="italic">Scd2</tspan>/sg<tspan font-style="italic">Irf9</tspan></text>
<text x="36.09" y="158.0" font-size="4.9" font-style="italic" text-anchor="end" fill="#1a1a1a" stroke="#1a1a1a" stroke-width="0.16" transform="rotate(-52 36.09 156.2)">Ddx60</text>
<text x="41.88" y="158.0" font-size="4.9" font-style="italic" text-anchor="end" fill="#1a1a1a" stroke="#1a1a1a" stroke-width="0.16" transform="rotate(-52 41.88 156.2)">Trim30a</text>
<text x="47.66" y="158.0" font-size="4.9" font-style="italic" text-anchor="end" fill="#1a1a1a" stroke="#1a1a1a" stroke-width="0.16" transform="rotate(-52 47.66 156.2)">Trim30d</text>
<text x="53.44" y="158.0" font-size="4.9" font-style="italic" text-anchor="end" fill="#1a1a1a" stroke="#1a1a1a" stroke-width="0.16" transform="rotate(-52 53.44 156.2)">Oasl2</text>
<text x="59.23" y="158.0" font-size="4.9" font-style="italic" text-anchor="end" fill="#1a1a1a" stroke="#1a1a1a" stroke-width="0.16" transform="rotate(-52 59.23 156.2)">Cd274</text>
<text x="65.01" y="158.0" font-size="4.9" font-style="italic" text-anchor="end" fill="#1a1a1a" stroke="#1a1a1a" stroke-width="0.16" transform="rotate(-52 65.01 156.2)">Zbp1</text>
<text x="70.79" y="158.0" font-size="4.9" font-style="italic" text-anchor="end" fill="#1a1a1a" stroke="#1a1a1a" stroke-width="0.16" transform="rotate(-52 70.79 156.2)">Eif2ak2</text>
<text x="76.57" y="158.0" font-size="4.9" font-style="italic" text-anchor="end" fill="#1a1a1a" stroke="#1a1a1a" stroke-width="0.16" transform="rotate(-52 76.57 156.2)">Ly6c2</text>
<text x="82.36" y="158.0" font-size="4.9" font-style="italic" text-anchor="end" fill="#1a1a1a" stroke="#1a1a1a" stroke-width="0.16" transform="rotate(-52 82.36 156.2)">Adar</text>
<text x="88.14" y="158.0" font-size="4.9" font-style="italic" text-anchor="end" fill="#1a1a1a" stroke="#1a1a1a" stroke-width="0.16" transform="rotate(-52 88.14 156.2)">Parp14</text>
<text x="93.92" y="158.0" font-size="4.9" font-style="italic" text-anchor="end" fill="#1a1a1a" stroke="#1a1a1a" stroke-width="0.16" transform="rotate(-52 93.92 156.2)">Lgals3bp</text>
<text x="99.71" y="158.0" font-size="4.9" font-style="italic" text-anchor="end" fill="#1a1a1a" stroke="#1a1a1a" stroke-width="0.16" transform="rotate(-52 99.71 156.2)">Gbp7</text>
<text x="105.49" y="158.0" font-size="4.9" font-style="italic" text-anchor="end" fill="#1a1a1a" stroke="#1a1a1a" stroke-width="0.16" transform="rotate(-52 105.49 156.2)">Ifi44</text>
<text x="111.27" y="158.0" font-size="4.9" font-style="italic" text-anchor="end" fill="#1a1a1a" stroke="#1a1a1a" stroke-width="0.16" transform="rotate(-52 111.27 156.2)">Stat2</text>
<text x="117.06" y="158.0" font-size="4.9" font-style="italic" text-anchor="end" fill="#1a1a1a" stroke="#1a1a1a" stroke-width="0.16" transform="rotate(-52 117.06 156.2)">Usp18</text>
<text x="122.84" y="158.0" font-size="4.9" font-style="italic" text-anchor="end" fill="#1a1a1a" stroke="#1a1a1a" stroke-width="0.16" transform="rotate(-52 122.84 156.2)">Oas3</text>
<text x="128.62" y="158.0" font-size="4.9" font-style="italic" text-anchor="end" fill="#1a1a1a" stroke="#1a1a1a" stroke-width="0.16" transform="rotate(-52 128.62 156.2)">Rtp4</text>
<text x="134.41" y="158.0" font-size="4.9" font-style="italic" text-anchor="end" fill="#1a1a1a" stroke="#1a1a1a" stroke-width="0.16" transform="rotate(-52 134.41 156.2)">Ifit3</text>
<text x="140.19" y="158.0" font-size="4.9" font-style="italic" text-anchor="end" fill="#1a1a1a" stroke="#1a1a1a" stroke-width="0.16" transform="rotate(-52 140.19 156.2)">Irf7</text>
<text x="145.97" y="158.0" font-size="4.9" font-style="italic" text-anchor="end" fill="#1a1a1a" stroke="#1a1a1a" stroke-width="0.16" transform="rotate(-52 145.97 156.2)">Isg15</text>
<text x="151.76" y="158.0" font-size="4.9" font-style="italic" text-anchor="end" fill="#1a1a1a" stroke="#1a1a1a" stroke-width="0.16" transform="rotate(-52 151.76 156.2)">Ifi47</text>
<text x="157.54" y="158.0" font-size="4.9" font-style="italic" text-anchor="end" fill="#1a1a1a" stroke="#1a1a1a" stroke-width="0.16" transform="rotate(-52 157.54 156.2)">Igtp</text>
<text x="163.32" y="158.0" font-size="4.9" font-style="italic" text-anchor="end" fill="#1a1a1a" stroke="#1a1a1a" stroke-width="0.16" transform="rotate(-52 163.32 156.2)">Bst2</text>
<text x="169.11" y="158.0" font-size="4.9" font-style="italic" text-anchor="end" fill="#1a1a1a" stroke="#1a1a1a" stroke-width="0.16" transform="rotate(-52 169.11 156.2)">Oas1a</text>
<text x="174.89" y="158.0" font-size="4.9" font-style="italic" text-anchor="end" fill="#1a1a1a" stroke="#1a1a1a" stroke-width="0.16" transform="rotate(-52 174.89 156.2)">Ifih1</text>
<text x="180.67" y="158.0" font-size="4.9" font-style="italic" text-anchor="end" fill="#1a1a1a" stroke="#1a1a1a" stroke-width="0.16" transform="rotate(-52 180.67 156.2)">Rsad2</text>
<text x="186.46" y="158.0" font-size="4.9" font-style="italic" text-anchor="end" fill="#1a1a1a" stroke="#1a1a1a" stroke-width="0.16" transform="rotate(-52 186.46 156.2)">Ifi27</text>
<text x="192.24" y="158.0" font-size="4.9" font-style="italic" text-anchor="end" fill="#1a1a1a" stroke="#1a1a1a" stroke-width="0.16" transform="rotate(-52 192.24 156.2)">Herc6</text>
<text x="198.02" y="158.0" font-size="4.9" font-style="italic" text-anchor="end" fill="#1a1a1a" stroke="#1a1a1a" stroke-width="0.16" transform="rotate(-52 198.02 156.2)">Cxcl10</text>
<text x="203.81" y="158.0" font-size="4.9" font-style="italic" text-anchor="end" fill="#1a1a1a" stroke="#1a1a1a" stroke-width="0.16" transform="rotate(-52 203.81 156.2)">Xaf1</text>
<text x="209.59" y="158.0" font-size="4.9" font-style="italic" text-anchor="end" fill="#1a1a1a" stroke="#1a1a1a" stroke-width="0.16" transform="rotate(-52 209.59 156.2)">Ifi1</text>
<text x="215.37" y="158.0" font-size="4.9" font-style="italic" text-anchor="end" fill="#1a1a1a" stroke="#1a1a1a" stroke-width="0.16" transform="rotate(-52 215.37 156.2)">Ifit1</text>
<text x="221.16" y="158.0" font-size="4.9" font-style="italic" text-anchor="end" fill="#1a1a1a" stroke="#1a1a1a" stroke-width="0.16" transform="rotate(-52 221.16 156.2)">Ccl5</text>
<text x="226.94" y="158.0" font-size="4.9" font-style="italic" text-anchor="end" fill="#1a1a1a" stroke="#1a1a1a" stroke-width="0.16" transform="rotate(-52 226.94 156.2)">Ifi2</text>
<text x="232.72" y="158.0" font-size="4.9" font-style="italic" text-anchor="end" fill="#1a1a1a" stroke="#1a1a1a" stroke-width="0.16" transform="rotate(-52 232.72 156.2)">Irgm1</text>
<text x="238.51" y="158.0" font-size="4.9" font-style="italic" text-anchor="end" fill="#1a1a1a" stroke="#1a1a1a" stroke-width="0.16" transform="rotate(-52 238.51 156.2)">Gbp3</text>
<text x="244.29" y="158.0" font-size="4.9" font-style="italic" text-anchor="end" fill="#1a1a1a" stroke="#1a1a1a" stroke-width="0.16" transform="rotate(-52 244.29 156.2)">Dhx58</text>
<text x="250.07" y="158.0" font-size="4.9" font-style="italic" text-anchor="end" fill="#1a1a1a" stroke="#1a1a1a" stroke-width="0.16" transform="rotate(-52 250.07 156.2)">Rnf2</text>
<text x="255.86" y="158.0" font-size="4.9" font-style="italic" text-anchor="end" fill="#1a1a1a" stroke="#1a1a1a" stroke-width="0.16" transform="rotate(-52 255.86 156.2)">Sam9</text>
<text x="261.64" y="158.0" font-size="4.9" font-style="italic" text-anchor="end" fill="#1a1a1a" stroke="#1a1a1a" stroke-width="0.16" transform="rotate(-52 261.64 156.2)">Slfn5</text>
<text x="267.43" y="158.0" font-size="4.9" font-style="italic" text-anchor="end" fill="#1a1a1a" stroke="#1a1a1a" stroke-width="0.16" transform="rotate(-52 267.43 156.2)">Ifi1b</text>
<text x="273.21" y="158.0" font-size="4.9" font-style="italic" text-anchor="end" fill="#1a1a1a" stroke="#1a1a1a" stroke-width="0.16" transform="rotate(-52 273.21 156.2)">Parp9</text>
<text x="278.99" y="158.0" font-size="4.9" font-style="italic" text-anchor="end" fill="#1a1a1a" stroke="#1a1a1a" stroke-width="0.16" transform="rotate(-52 278.99 156.2)">Mx1</text>
<text x="284.77" y="158.0" font-size="4.9" font-style="italic" text-anchor="end" fill="#1a1a1a" stroke="#1a1a1a" stroke-width="0.16" transform="rotate(-52 284.77 156.2)">Ifi204</text>
<text x="290.56" y="158.0" font-size="4.9" font-style="italic" text-anchor="end" fill="#1a1a1a" stroke="#1a1a1a" stroke-width="0.16" transform="rotate(-52 290.56 156.2)">Ifi203</text>
<text x="296.34" y="158.0" font-size="4.9" font-style="italic" text-anchor="end" fill="#1a1a1a" stroke="#1a1a1a" stroke-width="0.16" transform="rotate(-52 296.34 156.2)">Ifi205</text>
<text x="302.12" y="158.0" font-size="4.9" font-style="italic" text-anchor="end" fill="#1a1a1a" stroke="#1a1a1a" stroke-width="0.16" transform="rotate(-52 302.12 156.2)">Ifi3</text>
<text x="307.91" y="158.0" font-size="4.9" font-style="italic" text-anchor="end" fill="#1a1a1a" stroke="#1a1a1a" stroke-width="0.16" transform="rotate(-52 307.91 156.2)">Gvin1</text>
<text x="53.30" y="195.17" font-size="6.04" text-anchor="middle" fill="#222" stroke="#222" stroke-width="0.1" >Control vs sg<tspan font-style="italic">Scd2</tspan>/sg<tspan font-style="italic">Irf3</tspan></text>
<path d="M43.9 222.9h0.8v0.8h-0.8zM76.3 222.9h0.8v0.8h-0.8zM52.3 224.1h0.8v0.8h-0.8zM61.5 223.5h0.8v0.8h-0.8zM53.3 223.9h0.8v0.8h-0.8zM69.3 222.6h0.8v0.8h-0.8zM35.6 223.1h0.8v0.8h-0.8zM47.8 223.2h0.8v0.8h-0.8zM32.0 223.1h0.8v0.8h-0.8zM28.0 224.4h0.8v0.8h-0.8zM57.5 223.3h0.8v0.8h-0.8zM31.3 222.4h0.8v0.8h-0.8zM61.8 220.9h0.8v0.8h-0.8zM67.2 222.2h0.8v0.8h-0.8zM46.3 220.8h0.8v0.8h-0.8zM29.3 221.3h0.8v0.8h-0.8zM63.4 221.4h0.8v0.8h-0.8zM37.2 223.5h0.8v0.8h-0.8zM40.8 222.4h0.8v0.8h-0.8zM79.0 221.2h0.8v0.8h-0.8zM67.1 221.0h0.8v0.8h-0.8zM63.2 223.0h0.8v0.8h-0.8zM61.9 221.2h0.8v0.8h-0.8zM40.7 223.0h0.8v0.8h-0.8zM43.0 224.3h0.8v0.8h-0.8zM58.5 222.9h0.8v0.8h-0.8zM66.7 223.7h0.8v0.8h-0.8zM36.4 222.8h0.8v0.8h-0.8zM75.1 222.2h0.8v0.8h-0.8zM75.4 221.7h0.8v0.8h-0.8zM38.1 223.0h0.8v0.8h-0.8zM77.7 222.0h0.8v0.8h-0.8zM57.6 222.6h0.8v0.8h-0.8zM66.6 221.9h0.8v0.8h-0.8zM42.7 221.8h0.8v0.8h-0.8zM47.3 221.7h0.8v0.8h-0.8zM39.8 224.0h0.8v0.8h-0.8zM64.8 222.4h0.8v0.8h-0.8zM61.7 222.7h0.8v0.8h-0.8zM72.5 222.3h0.8v0.8h-0.8zM72.4 222.6h0.8v0.8h-0.8zM27.3 224.3h0.8v0.8h-0.8zM73.1 221.9h0.8v0.8h-0.8zM61.0 222.2h0.8v0.8h-0.8zM70.7 223.1h0.8v0.8h-0.8zM72.4 222.3h0.8v0.8h-0.8zM39.8 223.2h0.8v0.8h-0.8zM50.9 221.9h0.8v0.8h-0.8zM64.8 222.8h0.8v0.8h-0.8zM30.3 224.4h0.8v0.8h-0.8zM32.4 222.5h0.8v0.8h-0.8zM53.9 222.6h0.8v0.8h-0.8zM39.7 223.3h0.8v0.8h-0.8zM53.0 223.8h0.8v0.8h-0.8zM28.3 223.6h0.8v0.8h-0.8zM61.7 223.2h0.8v0.8h-0.8zM48.5 222.6h0.8v0.8h-0.8zM45.0 223.4h0.8v0.8h-0.8zM55.9 223.1h0.8v0.8h-0.8zM36.4 222.2h0.8v0.8h-0.8zM65.8 222.0h0.8v0.8h-0.8zM52.3 222.1h0.8v0.8h-0.8zM75.6 224.1h0.8v0.8h-0.8zM43.3 221.8h0.8v0.8h-0.8zM61.9 222.7h0.8v0.8h-0.8zM63.4 221.4h0.8v0.8h-0.8zM41.9 222.4h0.8v0.8h-0.8zM54.5 221.9h0.8v0.8h-0.8zM56.0 223.8h0.8v0.8h-0.8zM44.4 221.9h0.8v0.8h-0.8zM50.0 222.5h0.8v0.8h-0.8zM63.2 222.4h0.8v0.8h-0.8zM34.8 222.7h0.8v0.8h-0.8zM49.8 223.3h0.8v0.8h-0.8zM42.7 221.7h0.8v0.8h-0.8zM43.8 223.5h0.8v0.8h-0.8zM70.7 222.0h0.8v0.8h-0.8zM33.2 222.9h0.8v0.8h-0.8zM65.1 224.0h0.8v0.8h-0.8zM52.2 222.5h0.8v0.8h-0.8zM51.8 222.1h0.8v0.8h-0.8zM43.0 222.1h0.8v0.8h-0.8zM33.6 222.9h0.8v0.8h-0.8zM65.3 224.4h0.8v0.8h-0.8zM46.4 224.4h0.8v0.8h-0.8zM71.7 222.7h0.8v0.8h-0.8zM30.3 222.5h0.8v0.8h-0.8zM40.3 222.0h0.8v0.8h-0.8zM71.7 221.7h0.8v0.8h-0.8zM27.2 221.8h0.8v0.8h-0.8zM71.6 221.8h0.8v0.8h-0.8zM33.4 222.9h0.8v0.8h-0.8zM75.9 221.7h0.8v0.8h-0.8zM76.8 223.7h0.8v0.8h-0.8zM59.0 223.9h0.8v0.8h-0.8zM37.4 223.0h0.8v0.8h-0.8zM57.5 221.6h0.8v0.8h-0.8zM63.3 222.6h0.8v0.8h-0.8zM68.4 220.8h0.8v0.8h-0.8zM55.5 224.2h0.8v0.8h-0.8zM77.3 222.6h0.8v0.8h-0.8zM51.3 223.4h0.8v0.8h-0.8zM68.2 222.6h0.8v0.8h-0.8zM76.7 222.9h0.8v0.8h-0.8zM72.1 222.2h0.8v0.8h-0.8zM77.1 222.6h0.8v0.8h-0.8zM38.3 223.0h0.8v0.8h-0.8zM66.5 224.1h0.8v0.8h-0.8zM52.0 222.4h0.8v0.8h-0.8zM70.3 223.5h0.8v0.8h-0.8zM50.8 221.2h0.8v0.8h-0.8zM70.3 222.2h0.8v0.8h-0.8zM47.7 221.3h0.8v0.8h-0.8zM55.3 220.8h0.8v0.8h-0.8zM71.0 222.6h0.8v0.8h-0.8zM66.4 222.7h0.8v0.8h-0.8zM66.3 223.1h0.8v0.8h-0.8zM58.1 223.2h0.8v0.8h-0.8zM65.1 222.3h0.8v0.8h-0.8zM43.4 222.4h0.8v0.8h-0.8zM49.5 223.8h0.8v0.8h-0.8zM66.4 221.4h0.8v0.8h-0.8zM42.5 222.5h0.8v0.8h-0.8zM70.0 223.1h0.8v0.8h-0.8zM53.1 222.0h0.8v0.8h-0.8zM39.5 220.8h0.8v0.8h-0.8zM59.5 223.0h0.8v0.8h-0.8zM79.8 223.5h0.8v0.8h-0.8zM70.2 223.9h0.8v0.8h-0.8zM54.4 221.0h0.8v0.8h-0.8zM61.3 222.9h0.8v0.8h-0.8zM54.0 222.9h0.8v0.8h-0.8zM44.7 221.5h0.8v0.8h-0.8zM76.9 222.1h0.8v0.8h-0.8zM73.1 223.3h0.8v0.8h-0.8zM79.7 223.4h0.8v0.8h-0.8zM65.8 221.7h0.8v0.8h-0.8zM67.5 221.6h0.8v0.8h-0.8zM76.0 221.8h0.8v0.8h-0.8zM68.5 222.7h0.8v0.8h-0.8zM64.7 221.4h0.8v0.8h-0.8zM78.7 222.9h0.8v0.8h-0.8zM66.4 223.9h0.8v0.8h-0.8zM77.1 220.9h0.8v0.8h-0.8zM41.5 223.1h0.8v0.8h-0.8zM35.9 223.0h0.8v0.8h-0.8zM57.9 222.5h0.8v0.8h-0.8zM48.9 222.0h0.8v0.8h-0.8zM68.6 223.2h0.8v0.8h-0.8zM50.7 223.5h0.8v0.8h-0.8zM38.9 223.9h0.8v0.8h-0.8zM57.6 222.7h0.8v0.8h-0.8zM49.5 223.4h0.8v0.8h-0.8zM34.3 223.9h0.8v0.8h-0.8zM29.9 223.3h0.8v0.8h-0.8zM54.3 223.2h0.8v0.8h-0.8zM38.3 223.4h0.8v0.8h-0.8zM38.7 222.7h0.8v0.8h-0.8zM32.8 221.6h0.8v0.8h-0.8zM54.4 222.6h0.8v0.8h-0.8zM42.9 222.5h0.8v0.8h-0.8zM50.0 224.4h0.8v0.8h-0.8zM28.1 223.9h0.8v0.8h-0.8zM41.5 223.6h0.8v0.8h-0.8zM71.8 223.0h0.8v0.8h-0.8zM58.1 220.8h0.8v0.8h-0.8zM70.5 222.8h0.8v0.8h-0.8zM73.9 223.2h0.8v0.8h-0.8zM65.1 221.7h0.8v0.8h-0.8zM73.1 222.6h0.8v0.8h-0.8zM59.9 221.3h0.8v0.8h-0.8zM44.5 222.8h0.8v0.8h-0.8zM79.0 221.5h0.8v0.8h-0.8zM28.3 222.6h0.8v0.8h-0.8zM28.3 221.2h0.8v0.8h-0.8zM29.5 221.8h0.8v0.8h-0.8zM37.2 221.6h0.8v0.8h-0.8zM72.5 222.7h0.8v0.8h-0.8zM47.1 221.8h0.8v0.8h-0.8zM32.4 222.0h0.8v0.8h-0.8zM28.7 221.7h0.8v0.8h-0.8zM29.5 222.6h0.8v0.8h-0.8zM46.8 222.2h0.8v0.8h-0.8zM79.6 223.3h0.8v0.8h-0.8zM57.5 221.3h0.8v0.8h-0.8zM70.5 221.4h0.8v0.8h-0.8zM73.3 222.9h0.8v0.8h-0.8zM70.6 221.8h0.8v0.8h-0.8zM66.4 223.4h0.8v0.8h-0.8zM37.3 221.6h0.8v0.8h-0.8zM76.8 221.3h0.8v0.8h-0.8zM30.0 223.8h0.8v0.8h-0.8zM41.5 221.4h0.8v0.8h-0.8zM79.8 222.9h0.8v0.8h-0.8zM31.6 222.3h0.8v0.8h-0.8zM79.6 222.5h0.8v0.8h-0.8zM79.0 224.3h0.8v0.8h-0.8zM55.1 221.5h0.8v0.8h-0.8zM68.3 221.9h0.8v0.8h-0.8zM77.2 222.2h0.8v0.8h-0.8zM42.7 222.3h0.8v0.8h-0.8zM61.8 221.8h0.8v0.8h-0.8zM44.7 223.5h0.8v0.8h-0.8zM72.0 223.4h0.8v0.8h-0.8zM71.8 222.7h0.8v0.8h-0.8zM56.7 223.2h0.8v0.8h-0.8zM37.1 222.9h0.8v0.8h-0.8zM78.4 224.1h0.8v0.8h-0.8zM79.9 223.6h0.8v0.8h-0.8zM59.4 222.7h0.8v0.8h-0.8zM79.3 220.8h0.8v0.8h-0.8zM66.2 221.9h0.8v0.8h-0.8zM55.0 222.6h0.8v0.8h-0.8zM33.7 223.4h0.8v0.8h-0.8zM41.7 221.3h0.8v0.8h-0.8zM41.8 222.9h0.8v0.8h-0.8zM60.7 222.4h0.8v0.8h-0.8zM35.0 222.1h0.8v0.8h-0.8zM74.9 223.6h0.8v0.8h-0.8zM34.1 223.0h0.8v0.8h-0.8zM54.6 224.0h0.8v0.8h-0.8zM50.8 224.2h0.8v0.8h-0.8zM63.8 222.1h0.8v0.8h-0.8zM63.7 222.7h0.8v0.8h-0.8zM50.4 223.3h0.8v0.8h-0.8zM70.9 224.2h0.8v0.8h-0.8zM42.6 222.4h0.8v0.8h-0.8zM76.2 223.8h0.8v0.8h-0.8zM64.6 224.4h0.8v0.8h-0.8zM40.1 221.9h0.8v0.8h-0.8zM42.3 222.3h0.8v0.8h-0.8zM37.1 222.6h0.8v0.8h-0.8zM35.3 221.7h0.8v0.8h-0.8zM49.9 222.9h0.8v0.8h-0.8zM53.9 222.1h0.8v0.8h-0.8zM69.6 222.2h0.8v0.8h-0.8zM74.4 222.2h0.8v0.8h-0.8zM70.9 223.0h0.8v0.8h-0.8zM50.3 222.7h0.8v0.8h-0.8zM31.8 222.4h0.8v0.8h-0.8zM30.4 222.6h0.8v0.8h-0.8zM37.6 222.1h0.8v0.8h-0.8zM46.6 223.9h0.8v0.8h-0.8zM77.7 223.1h0.8v0.8h-0.8zM59.5 222.0h0.8v0.8h-0.8zM42.0 222.0h0.8v0.8h-0.8zM42.0 221.2h0.8v0.8h-0.8zM36.0 222.5h0.8v0.8h-0.8zM47.8 222.3h0.8v0.8h-0.8zM57.6 223.4h0.8v0.8h-0.8zM67.5 222.8h0.8v0.8h-0.8zM45.8 220.9h0.8v0.8h-0.8zM50.4 221.0h0.8v0.8h-0.8zM31.5 223.7h0.8v0.8h-0.8zM53.1 222.4h0.8v0.8h-0.8zM29.2 223.9h0.8v0.8h-0.8zM67.4 222.7h0.8v0.8h-0.8zM62.5 220.8h0.8v0.8h-0.8zM64.5 222.4h0.8v0.8h-0.8zM51.2 222.8h0.8v0.8h-0.8zM44.9 221.6h0.8v0.8h-0.8zM46.5 221.0h0.8v0.8h-0.8zM30.3 223.0h0.8v0.8h-0.8zM69.3 221.0h0.8v0.8h-0.8zM50.5 222.3h0.8v0.8h-0.8zM50.6 223.1h0.8v0.8h-0.8zM34.9 222.9h0.8v0.8h-0.8zM31.0 222.3h0.8v0.8h-0.8zM76.4 221.4h0.8v0.8h-0.8zM63.3 222.0h0.8v0.8h-0.8zM41.7 222.2h0.8v0.8h-0.8zM64.9 222.6h0.8v0.8h-0.8zM70.0 220.8h0.8v0.8h-0.8zM35.5 222.2h0.8v0.8h-0.8zM63.7 220.8h0.8v0.8h-0.8zM73.7 222.8h0.8v0.8h-0.8zM31.1 222.8h0.8v0.8h-0.8zM34.0 224.0h0.8v0.8h-0.8zM70.6 224.1h0.8v0.8h-0.8zM58.4 223.4h0.8v0.8h-0.8zM46.5 223.8h0.8v0.8h-0.8zM73.7 222.9h0.8v0.8h-0.8zM53.2 224.4h0.8v0.8h-0.8zM41.7 222.1h0.8v0.8h-0.8zM35.7 223.1h0.8v0.8h-0.8zM48.1 222.4h0.8v0.8h-0.8zM76.3 222.3h0.8v0.8h-0.8zM79.6 223.6h0.8v0.8h-0.8zM77.3 223.1h0.8v0.8h-0.8zM59.6 223.0h0.8v0.8h-0.8zM53.7 223.9h0.8v0.8h-0.8zM44.1 224.4h0.8v0.8h-0.8zM59.0 221.9h0.8v0.8h-0.8zM77.4 224.4h0.8v0.8h-0.8zM27.4 224.3h0.8v0.8h-0.8zM73.5 221.7h0.8v0.8h-0.8zM78.5 222.1h0.8v0.8h-0.8zM31.9 222.8h0.8v0.8h-0.8zM36.3 222.7h0.8v0.8h-0.8zM47.6 221.6h0.8v0.8h-0.8zM54.3 223.0h0.8v0.8h-0.8zM68.4 222.1h0.8v0.8h-0.8zM62.0 223.0h0.8v0.8h-0.8zM51.9 220.8h0.8v0.8h-0.8zM79.0 223.6h0.8v0.8h-0.8zM76.9 221.3h0.8v0.8h-0.8zM58.1 223.7h0.8v0.8h-0.8zM75.0 220.8h0.8v0.8h-0.8zM56.3 221.6h0.8v0.8h-0.8zM52.2 221.8h0.8v0.8h-0.8zM70.1 222.3h0.8v0.8h-0.8zM78.9 220.8h0.8v0.8h-0.8zM78.8 223.3h0.8v0.8h-0.8zM29.1 223.0h0.8v0.8h-0.8zM48.2 223.2h0.8v0.8h-0.8zM78.3 224.2h0.8v0.8h-0.8zM30.6 224.4h0.8v0.8h-0.8zM79.3 222.5h0.8v0.8h-0.8zM30.6 222.2h0.8v0.8h-0.8zM36.6 222.9h0.8v0.8h-0.8zM42.6 221.1h0.8v0.8h-0.8zM63.2 221.9h0.8v0.8h-0.8zM53.5 224.3h0.8v0.8h-0.8zM77.5 224.2h0.8v0.8h-0.8zM42.7 222.5h0.8v0.8h-0.8zM60.5 222.0h0.8v0.8h-0.8zM48.3 222.2h0.8v0.8h-0.8zM77.1 223.0h0.8v0.8h-0.8zM58.8 222.7h0.8v0.8h-0.8zM30.5 221.7h0.8v0.8h-0.8zM48.4 223.0h0.8v0.8h-0.8zM39.8 223.6h0.8v0.8h-0.8zM70.1 223.1h0.8v0.8h-0.8zM44.3 221.9h0.8v0.8h-0.8zM34.4 221.8h0.8v0.8h-0.8zM69.5 220.8h0.8v0.8h-0.8zM42.8 221.2h0.8v0.8h-0.8zM77.2 223.1h0.8v0.8h-0.8zM33.8 221.0h0.8v0.8h-0.8zM55.1 224.4h0.8v0.8h-0.8zM63.2 221.3h0.8v0.8h-0.8zM33.7 222.8h0.8v0.8h-0.8zM43.0 221.3h0.8v0.8h-0.8zM75.6 222.9h0.8v0.8h-0.8zM27.9 222.4h0.8v0.8h-0.8zM73.1 223.5h0.8v0.8h-0.8zM72.2 223.2h0.8v0.8h-0.8zM33.4 223.0h0.8v0.8h-0.8zM78.1 224.3h0.8v0.8h-0.8zM36.7 224.0h0.8v0.8h-0.8zM37.2 220.8h0.8v0.8h-0.8zM30.3 222.1h0.8v0.8h-0.8zM72.7 222.7h0.8v0.8h-0.8zM64.2 222.6h0.8v0.8h-0.8zM57.9 223.3h0.8v0.8h-0.8zM64.8 223.8h0.8v0.8h-0.8zM34.2 221.6h0.8v0.8h-0.8zM56.1 224.0h0.8v0.8h-0.8zM73.8 223.4h0.8v0.8h-0.8zM61.7 221.6h0.8v0.8h-0.8zM31.0 223.0h0.8v0.8h-0.8zM35.1 222.5h0.8v0.8h-0.8zM52.2 222.5h0.8v0.8h-0.8zM71.0 224.4h0.8v0.8h-0.8zM71.2 222.3h0.8v0.8h-0.8zM32.2 221.4h0.8v0.8h-0.8zM66.5 224.0h0.8v0.8h-0.8zM42.9 222.6h0.8v0.8h-0.8zM41.3 222.7h0.8v0.8h-0.8zM73.1 222.8h0.8v0.8h-0.8zM57.9 221.4h0.8v0.8h-0.8zM62.5 222.7h0.8v0.8h-0.8zM75.7 222.6h0.8v0.8h-0.8zM75.4 223.8h0.8v0.8h-0.8zM50.3 223.3h0.8v0.8h-0.8zM74.7 221.7h0.8v0.8h-0.8zM43.5 221.9h0.8v0.8h-0.8zM50.2 223.0h0.8v0.8h-0.8zM51.5 223.3h0.8v0.8h-0.8zM54.4 222.9h0.8v0.8h-0.8zM41.6 222.4h0.8v0.8h-0.8zM54.3 224.4h0.8v0.8h-0.8zM37.2 221.2h0.8v0.8h-0.8zM44.7 224.0h0.8v0.8h-0.8zM71.2 222.5h0.8v0.8h-0.8zM53.8 222.2h0.8v0.8h-0.8zM70.5 221.3h0.8v0.8h-0.8zM68.3 223.5h0.8v0.8h-0.8zM75.8 224.4h0.8v0.8h-0.8zM47.7 220.8h0.8v0.8h-0.8zM46.3 221.9h0.8v0.8h-0.8zM57.1 223.3h0.8v0.8h-0.8zM61.3 223.6h0.8v0.8h-0.8zM34.6 222.2h0.8v0.8h-0.8zM41.9 223.5h0.8v0.8h-0.8zM37.9 222.9h0.8v0.8h-0.8zM43.9 221.9h0.8v0.8h-0.8zM29.0 222.4h0.8v0.8h-0.8zM31.5 224.4h0.8v0.8h-0.8zM61.9 222.9h0.8v0.8h-0.8zM49.1 220.8h0.8v0.8h-0.8zM40.6 223.2h0.8v0.8h-0.8zM36.4 223.0h0.8v0.8h-0.8zM43.5 223.0h0.8v0.8h-0.8zM28.3 220.8h0.8v0.8h-0.8zM60.4 224.0h0.8v0.8h-0.8zM76.6 224.4h0.8v0.8h-0.8zM63.2 224.4h0.8v0.8h-0.8zM78.2 222.0h0.8v0.8h-0.8zM45.3 223.0h0.8v0.8h-0.8zM65.5 221.7h0.8v0.8h-0.8zM55.9 222.8h0.8v0.8h-0.8zM28.8 223.8h0.8v0.8h-0.8zM69.9 223.0h0.8v0.8h-0.8zM32.8 222.1h0.8v0.8h-0.8zM41.3 222.6h0.8v0.8h-0.8zM57.8 223.7h0.8v0.8h-0.8zM31.1 223.1h0.8v0.8h-0.8zM45.8 222.2h0.8v0.8h-0.8zM50.5 223.4h0.8v0.8h-0.8zM55.0 222.5h0.8v0.8h-0.8zM68.3 221.8h0.8v0.8h-0.8zM37.8 223.0h0.8v0.8h-0.8zM76.6 223.4h0.8v0.8h-0.8zM69.9 220.8h0.8v0.8h-0.8zM38.6 222.5h0.8v0.8h-0.8zM62.1 220.8h0.8v0.8h-0.8zM43.0 220.8h0.8v0.8h-0.8zM47.8 221.4h0.8v0.8h-0.8zM62.5 222.8h0.8v0.8h-0.8zM63.6 221.6h0.8v0.8h-0.8zM64.8 224.1h0.8v0.8h-0.8zM79.7 224.2h0.8v0.8h-0.8zM58.6 224.1h0.8v0.8h-0.8zM29.3 222.8h0.8v0.8h-0.8zM37.0 220.8h0.8v0.8h-0.8zM39.7 221.1h0.8v0.8h-0.8zM55.3 223.4h0.8v0.8h-0.8zM31.1 222.2h0.8v0.8h-0.8zM78.7 222.4h0.8v0.8h-0.8zM38.8 223.9h0.8v0.8h-0.8zM51.9 222.9h0.8v0.8h-0.8zM69.6 221.1h0.8v0.8h-0.8zM61.2 221.3h0.8v0.8h-0.8zM30.8 222.1h0.8v0.8h-0.8zM76.1 222.9h0.8v0.8h-0.8zM46.7 223.3h0.8v0.8h-0.8zM50.5 222.6h0.8v0.8h-0.8zM40.4 222.5h0.8v0.8h-0.8zM62.1 223.4h0.8v0.8h-0.8zM73.2 222.9h0.8v0.8h-0.8zM56.3 223.3h0.8v0.8h-0.8zM37.2 222.2h0.8v0.8h-0.8zM36.5 223.3h0.8v0.8h-0.8zM37.8 223.1h0.8v0.8h-0.8zM41.5 223.8h0.8v0.8h-0.8zM70.9 221.1h0.8v0.8h-0.8zM66.7 224.0h0.8v0.8h-0.8zM62.9 224.4h0.8v0.8h-0.8zM45.6 222.5h0.8v0.8h-0.8zM76.8 223.2h0.8v0.8h-0.8zM35.0 222.1h0.8v0.8h-0.8zM32.7 223.5h0.8v0.8h-0.8zM65.7 221.7h0.8v0.8h-0.8zM45.9 221.1h0.8v0.8h-0.8zM42.5 221.9h0.8v0.8h-0.8zM75.7 220.9h0.8v0.8h-0.8zM36.0 223.3h0.8v0.8h-0.8zM45.7 222.8h0.8v0.8h-0.8zM77.3 223.2h0.8v0.8h-0.8zM55.2 221.3h0.8v0.8h-0.8zM77.0 222.4h0.8v0.8h-0.8zM52.3 223.2h0.8v0.8h-0.8zM49.7 222.7h0.8v0.8h-0.8zM60.9 221.9h0.8v0.8h-0.8zM35.2 223.2h0.8v0.8h-0.8zM48.0 222.7h0.8v0.8h-0.8zM33.3 222.8h0.8v0.8h-0.8zM37.5 221.0h0.8v0.8h-0.8zM77.0 222.9h0.8v0.8h-0.8zM37.1 224.2h0.8v0.8h-0.8zM39.0 223.0h0.8v0.8h-0.8zM75.4 223.2h0.8v0.8h-0.8zM72.6 222.5h0.8v0.8h-0.8zM38.7 223.6h0.8v0.8h-0.8zM66.3 221.1h0.8v0.8h-0.8zM44.8 224.4h0.8v0.8h-0.8zM47.2 221.1h0.8v0.8h-0.8zM40.5 220.8h0.8v0.8h-0.8zM79.9 223.2h0.8v0.8h-0.8zM73.8 220.9h0.8v0.8h-0.8zM45.0 222.1h0.8v0.8h-0.8zM42.4 221.7h0.8v0.8h-0.8zM51.0 221.6h0.8v0.8h-0.8zM30.4 221.1h0.8v0.8h-0.8zM31.1 223.8h0.8v0.8h-0.8zM49.4 221.7h0.8v0.8h-0.8zM69.0 222.1h0.8v0.8h-0.8zM76.7 221.6h0.8v0.8h-0.8zM63.7 222.3h0.8v0.8h-0.8zM74.3 221.5h0.8v0.8h-0.8zM27.6 223.6h0.8v0.8h-0.8zM40.0 221.7h0.8v0.8h-0.8zM50.0 222.4h0.8v0.8h-0.8zM30.2 221.1h0.8v0.8h-0.8zM71.2 223.0h0.8v0.8h-0.8zM31.6 223.1h0.8v0.8h-0.8zM74.7 221.5h0.8v0.8h-0.8zM56.8 222.2h0.8v0.8h-0.8zM76.1 223.3h0.8v0.8h-0.8zM38.3 222.7h0.8v0.8h-0.8zM71.0 220.8h0.8v0.8h-0.8zM27.4 222.7h0.8v0.8h-0.8zM38.6 222.0h0.8v0.8h-0.8zM77.8 221.8h0.8v0.8h-0.8zM34.6 221.5h0.8v0.8h-0.8zM45.5 223.3h0.8v0.8h-0.8zM76.6 224.1h0.8v0.8h-0.8zM71.7 221.4h0.8v0.8h-0.8zM41.1 221.3h0.8v0.8h-0.8zM27.4 222.7h0.8v0.8h-0.8zM72.6 222.2h0.8v0.8h-0.8zM34.3 222.4h0.8v0.8h-0.8zM77.4 222.3h0.8v0.8h-0.8zM35.3 222.4h0.8v0.8h-0.8zM36.9 222.0h0.8v0.8h-0.8zM34.5 221.7h0.8v0.8h-0.8zM66.6 223.6h0.8v0.8h-0.8zM67.7 222.7h0.8v0.8h-0.8zM66.8 223.3h0.8v0.8h-0.8zM79.7 222.9h0.8v0.8h-0.8zM41.4 222.1h0.8v0.8h-0.8zM37.4 222.0h0.8v0.8h-0.8zM35.0 221.9h0.8v0.8h-0.8zM40.8 222.6h0.8v0.8h-0.8zM43.9 224.1h0.8v0.8h-0.8zM47.1 221.6h0.8v0.8h-0.8zM27.2 224.0h0.8v0.8h-0.8zM31.5 221.8h0.8v0.8h-0.8zM48.9 221.9h0.8v0.8h-0.8zM54.8 223.4h0.8v0.8h-0.8zM75.9 220.8h0.8v0.8h-0.8zM45.5 222.5h0.8v0.8h-0.8zM74.6 220.8h0.8v0.8h-0.8zM30.4 222.6h0.8v0.8h-0.8zM43.5 220.8h0.8v0.8h-0.8zM51.9 222.7h0.8v0.8h-0.8zM64.1 224.4h0.8v0.8h-0.8zM51.8 222.9h0.8v0.8h-0.8zM29.8 223.0h0.8v0.8h-0.8zM73.9 221.6h0.8v0.8h-0.8zM28.0 220.8h0.8v0.8h-0.8zM79.1 223.4h0.8v0.8h-0.8zM79.3 223.4h0.8v0.8h-0.8zM75.0 221.3h0.8v0.8h-0.8zM58.4 222.0h0.8v0.8h-0.8zM47.8 222.7h0.8v0.8h-0.8zM76.1 222.2h0.8v0.8h-0.8zM68.2 221.8h0.8v0.8h-0.8zM74.3 223.0h0.8v0.8h-0.8zM32.6 221.3h0.8v0.8h-0.8zM32.0 222.9h0.8v0.8h-0.8zM43.0 223.5h0.8v0.8h-0.8zM41.7 221.3h0.8v0.8h-0.8zM53.7 223.1h0.8v0.8h-0.8zM66.4 221.8h0.8v0.8h-0.8zM36.3 222.1h0.8v0.8h-0.8zM43.3 222.2h0.8v0.8h-0.8zM35.2 221.4h0.8v0.8h-0.8zM41.9 222.5h0.8v0.8h-0.8zM52.5 224.0h0.8v0.8h-0.8zM77.5 222.2h0.8v0.8h-0.8zM32.2 222.3h0.8v0.8h-0.8zM58.8 221.6h0.8v0.8h-0.8zM45.9 222.8h0.8v0.8h-0.8zM54.5 223.9h0.8v0.8h-0.8zM31.4 224.4h0.8v0.8h-0.8zM46.2 221.4h0.8v0.8h-0.8zM71.5 220.8h0.8v0.8h-0.8zM69.9 224.1h0.8v0.8h-0.8zM78.2 222.5h0.8v0.8h-0.8zM53.8 224.4h0.8v0.8h-0.8zM43.8 221.8h0.8v0.8h-0.8zM66.3 221.3h0.8v0.8h-0.8zM43.3 220.8h0.8v0.8h-0.8zM71.9 221.0h0.8v0.8h-0.8zM34.0 222.3h0.8v0.8h-0.8zM38.5 221.6h0.8v0.8h-0.8zM46.0 222.4h0.8v0.8h-0.8zM66.4 222.2h0.8v0.8h-0.8zM72.2 222.7h0.8v0.8h-0.8zM77.7 221.3h0.8v0.8h-0.8zM78.0 223.5h0.8v0.8h-0.8zM61.2 222.6h0.8v0.8h-0.8zM71.4 222.6h0.8v0.8h-0.8zM72.5 221.0h0.8v0.8h-0.8zM32.1 221.3h0.8v0.8h-0.8zM68.7 221.6h0.8v0.8h-0.8zM27.6 223.0h0.8v0.8h-0.8zM41.9 222.0h0.8v0.8h-0.8zM57.5 220.8h0.8v0.8h-0.8zM65.4 222.1h0.8v0.8h-0.8zM76.5 222.5h0.8v0.8h-0.8zM63.2 223.2h0.8v0.8h-0.8zM54.6 222.9h0.8v0.8h-0.8zM41.2 222.2h0.8v0.8h-0.8zM34.8 221.5h0.8v0.8h-0.8zM64.2 222.6h0.8v0.8h-0.8zM58.2 223.4h0.8v0.8h-0.8zM38.5 223.3h0.8v0.8h-0.8zM67.5 221.2h0.8v0.8h-0.8zM35.7 223.4h0.8v0.8h-0.8zM66.7 222.1h0.8v0.8h-0.8zM37.1 222.6h0.8v0.8h-0.8zM54.7 221.0h0.8v0.8h-0.8zM38.3 221.7h0.8v0.8h-0.8zM76.2 222.4h0.8v0.8h-0.8zM44.5 223.4h0.8v0.8h-0.8zM71.3 223.8h0.8v0.8h-0.8zM53.5 223.4h0.8v0.8h-0.8zM57.8 222.9h0.8v0.8h-0.8zM72.2 222.7h0.8v0.8h-0.8zM79.6 221.0h0.8v0.8h-0.8zM60.1 221.5h0.8v0.8h-0.8zM31.9 222.5h0.8v0.8h-0.8zM37.6 221.9h0.8v0.8h-0.8zM31.8 223.0h0.8v0.8h-0.8zM79.0 223.2h0.8v0.8h-0.8zM33.0 222.6h0.8v0.8h-0.8zM71.2 224.4h0.8v0.8h-0.8zM74.1 222.5h0.8v0.8h-0.8zM56.8 221.4h0.8v0.8h-0.8zM64.8 220.8h0.8v0.8h-0.8zM55.3 220.8h0.8v0.8h-0.8zM28.5 222.5h0.8v0.8h-0.8zM62.2 223.7h0.8v0.8h-0.8zM48.7 223.0h0.8v0.8h-0.8zM75.7 221.4h0.8v0.8h-0.8zM67.3 222.5h0.8v0.8h-0.8zM61.2 222.9h0.8v0.8h-0.8zM38.5 222.0h0.8v0.8h-0.8zM54.0 224.1h0.8v0.8h-0.8zM68.7 222.6h0.8v0.8h-0.8zM47.2 223.1h0.8v0.8h-0.8zM74.8 222.4h0.8v0.8h-0.8zM28.8 223.6h0.8v0.8h-0.8zM44.0 223.3h0.8v0.8h-0.8zM53.9 221.7h0.8v0.8h-0.8zM51.2 222.4h0.8v0.8h-0.8zM65.9 221.7h0.8v0.8h-0.8zM73.9 221.8h0.8v0.8h-0.8zM56.6 223.2h0.8v0.8h-0.8zM67.2 224.4h0.8v0.8h-0.8zM33.3 222.2h0.8v0.8h-0.8zM30.2 221.6h0.8v0.8h-0.8zM72.8 221.8h0.8v0.8h-0.8zM60.9 221.8h0.8v0.8h-0.8zM69.3 221.8h0.8v0.8h-0.8zM63.8 223.2h0.8v0.8h-0.8zM42.5 223.3h0.8v0.8h-0.8zM60.0 222.6h0.8v0.8h-0.8zM70.7 223.5h0.8v0.8h-0.8zM42.6 222.7h0.8v0.8h-0.8zM68.7 222.1h0.8v0.8h-0.8zM56.1 222.8h0.8v0.8h-0.8zM28.5 222.7h0.8v0.8h-0.8zM52.4 224.4h0.8v0.8h-0.8zM61.1 223.4h0.8v0.8h-0.8zM72.7 222.1h0.8v0.8h-0.8zM35.7 222.9h0.8v0.8h-0.8zM58.9 221.4h0.8v0.8h-0.8zM74.4 222.3h0.8v0.8h-0.8zM37.1 223.1h0.8v0.8h-0.8zM48.9 222.5h0.8v0.8h-0.8zM44.9 220.8h0.8v0.8h-0.8zM30.8 221.2h0.8v0.8h-0.8zM46.6 221.6h0.8v0.8h-0.8zM75.3 222.0h0.8v0.8h-0.8zM50.5 223.9h0.8v0.8h-0.8zM56.1 222.2h0.8v0.8h-0.8zM31.4 222.1h0.8v0.8h-0.8zM34.4 221.7h0.8v0.8h-0.8zM49.0 223.1h0.8v0.8h-0.8zM61.1 222.7h0.8v0.8h-0.8zM38.2 223.6h0.8v0.8h-0.8zM52.1 223.1h0.8v0.8h-0.8zM35.5 223.6h0.8v0.8h-0.8zM42.8 222.3h0.8v0.8h-0.8zM44.1 221.3h0.8v0.8h-0.8zM65.4 224.3h0.8v0.8h-0.8zM72.5 223.0h0.8v0.8h-0.8zM49.5 224.2h0.8v0.8h-0.8zM31.5 222.8h0.8v0.8h-0.8zM29.9 224.4h0.8v0.8h-0.8zM57.4 224.4h0.8v0.8h-0.8zM63.5 222.6h0.8v0.8h-0.8zM57.9 224.4h0.8v0.8h-0.8zM53.3 221.7h0.8v0.8h-0.8zM33.7 223.8h0.8v0.8h-0.8zM57.7 222.3h0.8v0.8h-0.8zM52.2 222.6h0.8v0.8h-0.8zM55.6 222.0h0.8v0.8h-0.8zM28.4 223.2h0.8v0.8h-0.8zM36.4 223.7h0.8v0.8h-0.8zM76.1 222.8h0.8v0.8h-0.8zM57.6 223.4h0.8v0.8h-0.8zM27.4 221.9h0.8v0.8h-0.8zM66.3 221.3h0.8v0.8h-0.8zM29.0 222.9h0.8v0.8h-0.8zM38.4 224.4h0.8v0.8h-0.8zM77.1 224.2h0.8v0.8h-0.8zM75.1 221.8h0.8v0.8h-0.8zM70.8 222.9h0.8v0.8h-0.8zM52.3 222.5h0.8v0.8h-0.8zM56.9 222.5h0.8v0.8h-0.8zM42.0 223.5h0.8v0.8h-0.8zM31.8 222.6h0.8v0.8h-0.8zM36.1 222.4h0.8v0.8h-0.8zM53.4 222.9h0.8v0.8h-0.8zM63.1 224.0h0.8v0.8h-0.8zM28.5 223.3h0.8v0.8h-0.8zM44.0 223.4h0.8v0.8h-0.8zM49.3 221.2h0.8v0.8h-0.8zM65.7 222.2h0.8v0.8h-0.8zM43.2 222.9h0.8v0.8h-0.8zM66.8 220.8h0.8v0.8h-0.8zM53.5 221.3h0.8v0.8h-0.8zM78.9 222.7h0.8v0.8h-0.8zM29.3 222.5h0.8v0.8h-0.8zM36.2 222.9h0.8v0.8h-0.8zM52.8 223.8h0.8v0.8h-0.8zM64.9 223.6h0.8v0.8h-0.8zM65.9 222.7h0.8v0.8h-0.8zM43.6 224.4h0.8v0.8h-0.8zM72.3 223.0h0.8v0.8h-0.8zM42.5 222.0h0.8v0.8h-0.8zM53.3 221.6h0.8v0.8h-0.8zM33.7 222.1h0.8v0.8h-0.8zM65.4 223.1h0.8v0.8h-0.8zM37.1 222.6h0.8v0.8h-0.8zM45.6 222.7h0.8v0.8h-0.8zM37.8 222.0h0.8v0.8h-0.8zM53.0 224.4h0.8v0.8h-0.8zM34.1 220.8h0.8v0.8h-0.8zM51.4 223.4h0.8v0.8h-0.8zM48.4 223.1h0.8v0.8h-0.8zM39.9 221.8h0.8v0.8h-0.8zM78.7 223.9h0.8v0.8h-0.8zM67.0 222.5h0.8v0.8h-0.8zM32.9 220.9h0.8v0.8h-0.8zM75.6 221.1h0.8v0.8h-0.8zM31.3 223.3h0.8v0.8h-0.8zM67.8 223.9h0.8v0.8h-0.8zM44.3 221.3h0.8v0.8h-0.8zM59.9 222.2h0.8v0.8h-0.8zM55.0 222.4h0.8v0.8h-0.8zM60.5 222.6h0.8v0.8h-0.8zM45.1 222.7h0.8v0.8h-0.8zM33.7 222.9h0.8v0.8h-0.8zM66.8 221.4h0.8v0.8h-0.8zM66.0 222.9h0.8v0.8h-0.8zM46.4 222.8h0.8v0.8h-0.8zM29.1 222.2h0.8v0.8h-0.8zM30.8 223.8h0.8v0.8h-0.8zM49.4 222.3h0.8v0.8h-0.8zM55.1 224.4h0.8v0.8h-0.8zM27.2 221.8h0.8v0.8h-0.8zM46.1 223.1h0.8v0.8h-0.8zM35.2 221.5h0.8v0.8h-0.8zM74.5 223.5h0.8v0.8h-0.8zM50.6 223.4h0.8v0.8h-0.8zM60.5 223.7h0.8v0.8h-0.8zM36.2 224.4h0.8v0.8h-0.8zM66.2 223.1h0.8v0.8h-0.8zM56.3 223.6h0.8v0.8h-0.8zM43.9 222.7h0.8v0.8h-0.8zM76.7 221.4h0.8v0.8h-0.8zM75.9 224.2h0.8v0.8h-0.8zM32.1 223.4h0.8v0.8h-0.8zM38.9 223.8h0.8v0.8h-0.8zM44.9 222.6h0.8v0.8h-0.8zM63.3 223.4h0.8v0.8h-0.8zM41.1 224.4h0.8v0.8h-0.8zM65.3 222.1h0.8v0.8h-0.8zM50.5 224.4h0.8v0.8h-0.8zM42.0 223.2h0.8v0.8h-0.8zM55.4 222.2h0.8v0.8h-0.8zM58.8 222.1h0.8v0.8h-0.8zM67.9 221.7h0.8v0.8h-0.8zM75.2 222.7h0.8v0.8h-0.8zM47.4 221.0h0.8v0.8h-0.8zM43.9 223.1h0.8v0.8h-0.8zM68.7 222.9h0.8v0.8h-0.8zM30.3 222.5h0.8v0.8h-0.8zM39.1 222.4h0.8v0.8h-0.8zM60.7 221.0h0.8v0.8h-0.8zM35.4 223.1h0.8v0.8h-0.8zM73.6 222.9h0.8v0.8h-0.8zM34.6 222.1h0.8v0.8h-0.8zM48.8 221.7h0.8v0.8h-0.8zM58.3 223.7h0.8v0.8h-0.8zM35.8 223.4h0.8v0.8h-0.8zM39.4 224.4h0.8v0.8h-0.8zM67.0 223.6h0.8v0.8h-0.8zM31.4 223.8h0.8v0.8h-0.8zM60.1 224.3h0.8v0.8h-0.8zM34.7 224.1h0.8v0.8h-0.8zM44.1 222.2h0.8v0.8h-0.8zM36.1 222.3h0.8v0.8h-0.8zM60.1 223.4h0.8v0.8h-0.8zM54.3 221.6h0.8v0.8h-0.8zM41.7 222.4h0.8v0.8h-0.8zM27.9 222.8h0.8v0.8h-0.8zM39.4 223.4h0.8v0.8h-0.8zM29.2 222.9h0.8v0.8h-0.8zM56.0 221.6h0.8v0.8h-0.8zM43.2 223.2h0.8v0.8h-0.8zM61.5 222.0h0.8v0.8h-0.8zM74.2 223.8h0.8v0.8h-0.8zM69.3 223.1h0.8v0.8h-0.8zM62.9 221.0h0.8v0.8h-0.8zM31.5 220.8h0.8v0.8h-0.8zM55.3 221.8h0.8v0.8h-0.8zM33.5 222.8h0.8v0.8h-0.8zM32.2 222.1h0.8v0.8h-0.8zM57.6 224.4h0.8v0.8h-0.8zM60.9 221.4h0.8v0.8h-0.8zM58.2 224.4h0.8v0.8h-0.8zM58.9 223.8h0.8v0.8h-0.8zM78.6 224.4h0.8v0.8h-0.8zM70.8 221.9h0.8v0.8h-0.8zM43.4 222.6h0.8v0.8h-0.8zM76.6 222.3h0.8v0.8h-0.8zM61.1 222.9h0.8v0.8h-0.8zM30.3 222.8h0.8v0.8h-0.8zM65.0 222.4h0.8v0.8h-0.8zM68.7 221.3h0.8v0.8h-0.8zM50.1 222.4h0.8v0.8h-0.8zM32.7 222.6h0.8v0.8h-0.8zM34.7 223.5h0.8v0.8h-0.8zM46.8 222.0h0.8v0.8h-0.8zM68.2 223.2h0.8v0.8h-0.8zM73.9 223.2h0.8v0.8h-0.8zM79.8 221.8h0.8v0.8h-0.8zM40.8 222.2h0.8v0.8h-0.8zM40.7 222.5h0.8v0.8h-0.8zM31.9 224.4h0.8v0.8h-0.8zM61.9 222.5h0.8v0.8h-0.8zM72.3 222.4h0.8v0.8h-0.8zM72.4 222.7h0.8v0.8h-0.8zM36.3 221.8h0.8v0.8h-0.8zM72.4 223.5h0.8v0.8h-0.8zM38.3 221.9h0.8v0.8h-0.8zM74.3 221.6h0.8v0.8h-0.8zM31.1 222.7h0.8v0.8h-0.8zM57.4 222.3h0.8v0.8h-0.8zM62.1 221.9h0.8v0.8h-0.8zM33.5 223.2h0.8v0.8h-0.8zM35.2 224.4h0.8v0.8h-0.8zM48.6 222.7h0.8v0.8h-0.8zM49.2 221.2h0.8v0.8h-0.8zM79.0 223.1h0.8v0.8h-0.8zM73.4 223.1h0.8v0.8h-0.8zM42.8 223.1h0.8v0.8h-0.8zM41.9 223.8h0.8v0.8h-0.8zM34.0 223.1h0.8v0.8h-0.8zM33.4 223.2h0.8v0.8h-0.8zM48.9 222.5h0.8v0.8h-0.8zM68.9 224.1h0.8v0.8h-0.8zM42.2 223.0h0.8v0.8h-0.8zM31.2 223.5h0.8v0.8h-0.8zM44.6 222.0h0.8v0.8h-0.8zM74.8 220.8h0.8v0.8h-0.8zM47.0 222.3h0.8v0.8h-0.8zM27.3 223.0h0.8v0.8h-0.8zM60.9 223.3h0.8v0.8h-0.8zM50.0 223.5h0.8v0.8h-0.8zM46.7 223.2h0.8v0.8h-0.8zM77.8 222.1h0.8v0.8h-0.8zM27.7 224.3h0.8v0.8h-0.8zM31.8 221.6h0.8v0.8h-0.8zM45.6 224.1h0.8v0.8h-0.8zM48.4 223.0h0.8v0.8h-0.8zM35.4 222.7h0.8v0.8h-0.8zM79.5 222.5h0.8v0.8h-0.8zM47.4 222.5h0.8v0.8h-0.8zM74.7 223.1h0.8v0.8h-0.8zM38.9 223.3h0.8v0.8h-0.8zM40.7 221.8h0.8v0.8h-0.8zM35.2 221.7h0.8v0.8h-0.8zM31.4 223.0h0.8v0.8h-0.8zM74.3 222.9h0.8v0.8h-0.8zM74.1 221.3h0.8v0.8h-0.8zM55.2 223.1h0.8v0.8h-0.8zM71.1 221.7h0.8v0.8h-0.8zM52.1 223.0h0.8v0.8h-0.8zM33.6 223.3h0.8v0.8h-0.8zM55.8 224.1h0.8v0.8h-0.8zM63.3 222.1h0.8v0.8h-0.8zM27.8 222.8h0.8v0.8h-0.8z" fill="#a0a0a0"/>
<path d="M27.0 218.4h0.9v0.9h-0.9zM30.2 225.4h0.9v0.9h-0.9zM25.1 227.9h0.9v0.9h-0.9zM29.5 226.3h0.9v0.9h-0.9zM43.6 226.0h0.9v0.9h-0.9zM30.9 217.5h0.9v0.9h-0.9zM41.2 217.6h0.9v0.9h-0.9zM36.2 218.9h0.9v0.9h-0.9zM29.8 225.6h0.9v0.9h-0.9zM25.5 218.0h0.9v0.9h-0.9zM39.3 228.7h0.9v0.9h-0.9zM30.3 214.5h0.9v0.9h-0.9zM25.6 219.2h0.9v0.9h-0.9zM28.3 218.9h0.9v0.9h-0.9zM25.6 225.3h0.9v0.9h-0.9zM28.2 228.7h0.9v0.9h-0.9zM24.9 228.9h0.9v0.9h-0.9zM31.3 217.2h0.9v0.9h-0.9zM35.6 229.4h0.9v0.9h-0.9zM28.3 226.1h0.9v0.9h-0.9zM31.7 226.0h0.9v0.9h-0.9zM26.4 219.5h0.9v0.9h-0.9zM27.2 217.6h0.9v0.9h-0.9zM25.2 225.3h0.9v0.9h-0.9zM32.1 219.6h0.9v0.9h-0.9zM40.8 218.5h0.9v0.9h-0.9zM33.0 219.3h0.9v0.9h-0.9zM33.1 219.0h0.9v0.9h-0.9zM25.5 214.7h0.9v0.9h-0.9zM29.3 214.1h0.9v0.9h-0.9zM44.0 219.0h0.9v0.9h-0.9zM31.6 219.9h0.9v0.9h-0.9zM31.4 226.0h0.9v0.9h-0.9zM41.5 217.9h0.9v0.9h-0.9zM25.8 225.6h0.9v0.9h-0.9zM36.8 226.0h0.9v0.9h-0.9zM28.1 229.7h0.9v0.9h-0.9zM50.4 219.7h0.9v0.9h-0.9zM26.7 216.6h0.9v0.9h-0.9zM32.0 225.8h0.9v0.9h-0.9zM37.4 226.6h0.9v0.9h-0.9zM29.3 219.0h0.9v0.9h-0.9zM35.8 226.3h0.9v0.9h-0.9zM32.2 218.7h0.9v0.9h-0.9zM28.5 216.7h0.9v0.9h-0.9zM48.7 219.8h0.9v0.9h-0.9zM29.1 215.8h0.9v0.9h-0.9zM25.2 214.0h0.9v0.9h-0.9zM27.8 225.6h0.9v0.9h-0.9zM35.3 225.4h0.9v0.9h-0.9zM25.4 231.7h0.9v0.9h-0.9zM29.6 218.9h0.9v0.9h-0.9zM36.8 216.9h0.9v0.9h-0.9zM27.3 219.5h0.9v0.9h-0.9zM32.8 214.9h0.9v0.9h-0.9zM33.9 228.1h0.9v0.9h-0.9zM33.6 217.6h0.9v0.9h-0.9zM54.2 225.4h0.9v0.9h-0.9zM68.6 225.5h0.9v0.9h-0.9zM24.5 225.4h0.9v0.9h-0.9zM26.9 230.1h0.9v0.9h-0.9zM27.6 225.6h0.9v0.9h-0.9zM30.0 213.0h0.9v0.9h-0.9zM34.0 217.4h0.9v0.9h-0.9zM26.4 226.0h0.9v0.9h-0.9zM37.8 216.8h0.9v0.9h-0.9zM32.7 214.9h0.9v0.9h-0.9zM35.4 226.0h0.9v0.9h-0.9zM38.4 225.5h0.9v0.9h-0.9zM42.2 219.0h0.9v0.9h-0.9zM32.0 226.9h0.9v0.9h-0.9zM43.3 227.2h0.9v0.9h-0.9zM46.8 225.4h0.9v0.9h-0.9zM29.1 225.9h0.9v0.9h-0.9zM28.4 218.8h0.9v0.9h-0.9zM40.9 218.3h0.9v0.9h-0.9zM30.2 218.9h0.9v0.9h-0.9zM26.4 215.7h0.9v0.9h-0.9zM41.6 218.6h0.9v0.9h-0.9zM37.2 225.6h0.9v0.9h-0.9zM37.2 219.9h0.9v0.9h-0.9zM31.9 225.7h0.9v0.9h-0.9zM25.8 226.7h0.9v0.9h-0.9zM27.3 227.8h0.9v0.9h-0.9zM27.8 214.4h0.9v0.9h-0.9zM27.5 216.2h0.9v0.9h-0.9zM28.1 213.7h0.9v0.9h-0.9zM33.5 217.7h0.9v0.9h-0.9zM41.2 216.9h0.9v0.9h-0.9zM38.4 226.4h0.9v0.9h-0.9zM25.9 226.2h0.9v0.9h-0.9zM26.7 227.6h0.9v0.9h-0.9zM30.3 225.9h0.9v0.9h-0.9zM36.9 219.2h0.9v0.9h-0.9zM29.5 216.1h0.9v0.9h-0.9zM27.7 225.8h0.9v0.9h-0.9zM31.8 215.7h0.9v0.9h-0.9zM28.7 227.9h0.9v0.9h-0.9zM26.7 225.6h0.9v0.9h-0.9zM28.1 217.7h0.9v0.9h-0.9zM30.7 219.7h0.9v0.9h-0.9zM47.0 226.4h0.9v0.9h-0.9zM50.2 226.2h0.9v0.9h-0.9zM33.3 218.9h0.9v0.9h-0.9zM30.5 217.7h0.9v0.9h-0.9zM31.9 227.4h0.9v0.9h-0.9zM28.9 217.2h0.9v0.9h-0.9zM30.6 218.2h0.9v0.9h-0.9zM36.8 228.2h0.9v0.9h-0.9zM26.5 214.6h0.9v0.9h-0.9zM28.6 214.9h0.9v0.9h-0.9zM27.0 219.2h0.9v0.9h-0.9zM35.0 226.3h0.9v0.9h-0.9zM36.6 218.4h0.9v0.9h-0.9zM27.7 226.4h0.9v0.9h-0.9zM43.0 219.5h0.9v0.9h-0.9zM32.0 217.1h0.9v0.9h-0.9zM36.4 227.6h0.9v0.9h-0.9zM32.6 217.7h0.9v0.9h-0.9zM48.0 219.2h0.9v0.9h-0.9zM25.5 215.0h0.9v0.9h-0.9zM35.0 216.3h0.9v0.9h-0.9zM27.3 217.5h0.9v0.9h-0.9zM25.6 218.6h0.9v0.9h-0.9zM29.9 217.6h0.9v0.9h-0.9zM27.5 216.9h0.9v0.9h-0.9zM32.3 216.4h0.9v0.9h-0.9zM36.4 227.9h0.9v0.9h-0.9zM28.4 213.6h0.9v0.9h-0.9zM41.5 218.9h0.9v0.9h-0.9zM36.9 225.5h0.9v0.9h-0.9zM27.5 209.9h0.9v0.9h-0.9zM31.4 227.4h0.9v0.9h-0.9zM28.4 219.0h0.9v0.9h-0.9zM27.4 228.3h0.9v0.9h-0.9zM36.9 225.7h0.9v0.9h-0.9zM30.0 219.3h0.9v0.9h-0.9zM25.4 218.4h0.9v0.9h-0.9zM35.7 218.1h0.9v0.9h-0.9zM27.0 217.6h0.9v0.9h-0.9zM27.3 219.4h0.9v0.9h-0.9zM30.8 226.1h0.9v0.9h-0.9zM27.2 215.2h0.9v0.9h-0.9zM30.4 226.3h0.9v0.9h-0.9zM41.7 225.3h0.9v0.9h-0.9zM33.6 219.5h0.9v0.9h-0.9zM38.0 225.8h0.9v0.9h-0.9zM46.9 219.8h0.9v0.9h-0.9zM45.7 218.1h0.9v0.9h-0.9zM27.3 225.9h0.9v0.9h-0.9zM28.6 228.4h0.9v0.9h-0.9zM32.2 219.7h0.9v0.9h-0.9zM34.2 226.8h0.9v0.9h-0.9zM33.7 216.4h0.9v0.9h-0.9zM26.7 228.5h0.9v0.9h-0.9zM31.1 217.5h0.9v0.9h-0.9zM25.3 230.4h0.9v0.9h-0.9zM34.8 218.4h0.9v0.9h-0.9zM32.6 218.9h0.9v0.9h-0.9zM34.0 218.1h0.9v0.9h-0.9zM40.7 219.3h0.9v0.9h-0.9zM25.3 228.6h0.9v0.9h-0.9zM28.4 216.2h0.9v0.9h-0.9zM46.6 225.5h0.9v0.9h-0.9zM29.8 214.0h0.9v0.9h-0.9zM32.6 219.0h0.9v0.9h-0.9zM32.4 226.6h0.9v0.9h-0.9zM26.9 218.0h0.9v0.9h-0.9zM37.5 225.6h0.9v0.9h-0.9zM37.1 226.5h0.9v0.9h-0.9zM26.5 231.7h0.9v0.9h-0.9zM29.0 227.5h0.9v0.9h-0.9zM29.7 213.9h0.9v0.9h-0.9zM33.7 218.6h0.9v0.9h-0.9zM24.5 227.7h0.9v0.9h-0.9zM26.8 217.5h0.9v0.9h-0.9zM31.5 227.8h0.9v0.9h-0.9zM33.4 227.4h0.9v0.9h-0.9zM28.4 219.5h0.9v0.9h-0.9zM28.2 216.9h0.9v0.9h-0.9zM29.7 215.2h0.9v0.9h-0.9zM39.9 217.0h0.9v0.9h-0.9zM44.5 227.9h0.9v0.9h-0.9zM25.7 226.9h0.9v0.9h-0.9zM33.5 226.0h0.9v0.9h-0.9zM24.7 214.1h0.9v0.9h-0.9zM26.2 227.4h0.9v0.9h-0.9zM39.9 225.6h0.9v0.9h-0.9zM30.7 214.0h0.9v0.9h-0.9zM32.7 227.4h0.9v0.9h-0.9zM45.7 219.4h0.9v0.9h-0.9zM29.2 227.3h0.9v0.9h-0.9zM27.1 225.5h0.9v0.9h-0.9zM31.8 216.2h0.9v0.9h-0.9zM32.0 227.4h0.9v0.9h-0.9zM33.8 216.7h0.9v0.9h-0.9zM32.5 228.2h0.9v0.9h-0.9zM26.8 230.1h0.9v0.9h-0.9zM41.4 219.4h0.9v0.9h-0.9zM27.5 225.7h0.9v0.9h-0.9zM35.9 218.9h0.9v0.9h-0.9zM30.0 219.3h0.9v0.9h-0.9zM28.6 216.5h0.9v0.9h-0.9zM29.4 217.7h0.9v0.9h-0.9zM31.5 218.6h0.9v0.9h-0.9zM34.3 218.4h0.9v0.9h-0.9zM31.9 225.9h0.9v0.9h-0.9zM29.0 225.5h0.9v0.9h-0.9zM24.3 218.4h0.9v0.9h-0.9zM32.1 214.9h0.9v0.9h-0.9zM26.4 230.5h0.9v0.9h-0.9zM31.5 230.4h0.9v0.9h-0.9zM24.9 216.8h0.9v0.9h-0.9zM32.2 218.2h0.9v0.9h-0.9zM41.7 217.0h0.9v0.9h-0.9zM24.9 217.7h0.9v0.9h-0.9zM30.0 216.7h0.9v0.9h-0.9zM30.2 218.8h0.9v0.9h-0.9zM38.1 219.3h0.9v0.9h-0.9zM34.0 218.4h0.9v0.9h-0.9zM24.9 227.0h0.9v0.9h-0.9zM32.2 219.7h0.9v0.9h-0.9zM41.1 217.3h0.9v0.9h-0.9zM30.8 219.3h0.9v0.9h-0.9zM34.8 220.0h0.9v0.9h-0.9zM25.8 228.6h0.9v0.9h-0.9zM30.6 214.9h0.9v0.9h-0.9zM26.5 228.1h0.9v0.9h-0.9zM27.9 209.9h0.9v0.9h-0.9zM31.7 226.3h0.9v0.9h-0.9zM24.2 217.9h0.9v0.9h-0.9zM26.0 226.4h0.9v0.9h-0.9zM33.6 219.3h0.9v0.9h-0.9zM36.1 226.6h0.9v0.9h-0.9zM55.4 225.7h0.9v0.9h-0.9zM29.6 227.8h0.9v0.9h-0.9zM34.4 225.7h0.9v0.9h-0.9zM25.8 216.1h0.9v0.9h-0.9zM28.8 226.5h0.9v0.9h-0.9zM36.1 219.9h0.9v0.9h-0.9zM29.1 226.7h0.9v0.9h-0.9zM26.1 216.6h0.9v0.9h-0.9zM24.8 220.0h0.9v0.9h-0.9zM40.2 226.2h0.9v0.9h-0.9zM25.5 215.8h0.9v0.9h-0.9zM32.3 219.0h0.9v0.9h-0.9zM27.4 229.3h0.9v0.9h-0.9zM25.4 226.4h0.9v0.9h-0.9zM31.7 216.3h0.9v0.9h-0.9zM38.9 215.4h0.9v0.9h-0.9zM25.9 218.6h0.9v0.9h-0.9zM34.4 229.8h0.9v0.9h-0.9zM25.7 227.3h0.9v0.9h-0.9zM27.0 218.0h0.9v0.9h-0.9zM35.1 219.2h0.9v0.9h-0.9zM36.0 227.2h0.9v0.9h-0.9zM41.1 219.3h0.9v0.9h-0.9zM46.4 225.4h0.9v0.9h-0.9zM30.4 228.0h0.9v0.9h-0.9zM29.9 218.6h0.9v0.9h-0.9zM31.8 230.4h0.9v0.9h-0.9zM27.3 207.7h0.9v0.9h-0.9zM38.6 219.3h0.9v0.9h-0.9zM25.6 217.7h0.9v0.9h-0.9zM26.9 212.9h0.9v0.9h-0.9zM35.5 229.2h0.9v0.9h-0.9zM26.2 228.4h0.9v0.9h-0.9zM31.6 225.5h0.9v0.9h-0.9zM27.5 212.4h0.9v0.9h-0.9zM35.1 226.1h0.9v0.9h-0.9zM27.4 215.2h0.9v0.9h-0.9zM24.6 226.7h0.9v0.9h-0.9zM31.9 219.3h0.9v0.9h-0.9zM30.8 218.9h0.9v0.9h-0.9zM25.8 217.6h0.9v0.9h-0.9zM40.4 225.6h0.9v0.9h-0.9zM27.0 225.2h0.9v0.9h-0.9zM32.9 228.7h0.9v0.9h-0.9zM26.6 219.8h0.9v0.9h-0.9zM37.1 226.7h0.9v0.9h-0.9zM34.9 228.4h0.9v0.9h-0.9zM31.7 227.2h0.9v0.9h-0.9zM32.6 219.4h0.9v0.9h-0.9zM32.4 225.6h0.9v0.9h-0.9zM25.5 217.2h0.9v0.9h-0.9zM37.2 227.0h0.9v0.9h-0.9zM27.7 218.0h0.9v0.9h-0.9zM30.3 218.6h0.9v0.9h-0.9zM35.9 226.0h0.9v0.9h-0.9zM35.0 218.2h0.9v0.9h-0.9zM27.1 216.2h0.9v0.9h-0.9zM30.6 215.6h0.9v0.9h-0.9zM27.8 215.3h0.9v0.9h-0.9zM29.5 231.7h0.9v0.9h-0.9zM39.7 227.0h0.9v0.9h-0.9zM27.5 225.5h0.9v0.9h-0.9zM35.3 219.8h0.9v0.9h-0.9zM40.9 216.9h0.9v0.9h-0.9zM28.6 217.8h0.9v0.9h-0.9zM34.1 227.9h0.9v0.9h-0.9zM28.1 218.8h0.9v0.9h-0.9zM32.4 218.5h0.9v0.9h-0.9zM30.1 226.9h0.9v0.9h-0.9zM33.7 217.3h0.9v0.9h-0.9zM28.4 218.7h0.9v0.9h-0.9zM35.3 217.5h0.9v0.9h-0.9zM34.4 228.0h0.9v0.9h-0.9zM26.2 212.8h0.9v0.9h-0.9zM30.2 215.8h0.9v0.9h-0.9zM26.7 227.0h0.9v0.9h-0.9zM41.3 219.6h0.9v0.9h-0.9zM39.1 225.6h0.9v0.9h-0.9zM27.2 218.7h0.9v0.9h-0.9zM35.2 218.3h0.9v0.9h-0.9zM30.5 219.2h0.9v0.9h-0.9zM35.6 217.0h0.9v0.9h-0.9zM33.4 217.1h0.9v0.9h-0.9zM26.0 216.9h0.9v0.9h-0.9zM32.4 215.2h0.9v0.9h-0.9zM32.1 215.2h0.9v0.9h-0.9zM27.6 226.1h0.9v0.9h-0.9zM39.3 219.5h0.9v0.9h-0.9zM29.3 218.7h0.9v0.9h-0.9zM36.7 219.2h0.9v0.9h-0.9zM30.6 219.3h0.9v0.9h-0.9zM49.4 219.6h0.9v0.9h-0.9zM31.0 215.4h0.9v0.9h-0.9zM27.9 218.3h0.9v0.9h-0.9zM28.5 228.0h0.9v0.9h-0.9zM31.6 215.9h0.9v0.9h-0.9zM24.8 230.2h0.9v0.9h-0.9zM29.3 226.1h0.9v0.9h-0.9zM25.1 230.6h0.9v0.9h-0.9zM30.7 219.5h0.9v0.9h-0.9zM47.9 219.2h0.9v0.9h-0.9zM34.2 219.9h0.9v0.9h-0.9zM47.3 225.3h0.9v0.9h-0.9zM39.7 227.5h0.9v0.9h-0.9zM34.7 217.4h0.9v0.9h-0.9zM29.3 215.8h0.9v0.9h-0.9zM32.8 216.0h0.9v0.9h-0.9zM35.6 225.6h0.9v0.9h-0.9zM44.6 225.3h0.9v0.9h-0.9zM32.9 217.8h0.9v0.9h-0.9zM40.2 227.0h0.9v0.9h-0.9zM36.3 219.3h0.9v0.9h-0.9zM39.4 226.4h0.9v0.9h-0.9zM29.9 219.3h0.9v0.9h-0.9zM34.4 219.3h0.9v0.9h-0.9zM28.7 219.7h0.9v0.9h-0.9zM38.2 225.4h0.9v0.9h-0.9zM27.5 226.7h0.9v0.9h-0.9zM35.3 227.2h0.9v0.9h-0.9zM32.1 216.5h0.9v0.9h-0.9zM28.9 219.8h0.9v0.9h-0.9zM28.2 228.9h0.9v0.9h-0.9zM24.2 213.2h0.9v0.9h-0.9zM34.9 217.6h0.9v0.9h-0.9zM41.7 225.7h0.9v0.9h-0.9zM25.9 219.1h0.9v0.9h-0.9zM33.1 215.0h0.9v0.9h-0.9zM42.0 218.0h0.9v0.9h-0.9zM44.5 218.4h0.9v0.9h-0.9zM37.2 217.9h0.9v0.9h-0.9zM30.9 226.4h0.9v0.9h-0.9zM31.1 226.3h0.9v0.9h-0.9zM30.5 216.1h0.9v0.9h-0.9zM32.3 217.5h0.9v0.9h-0.9zM26.5 218.6h0.9v0.9h-0.9zM36.1 227.5h0.9v0.9h-0.9zM24.5 218.7h0.9v0.9h-0.9zM30.1 229.7h0.9v0.9h-0.9zM38.8 225.3h0.9v0.9h-0.9zM25.9 219.8h0.9v0.9h-0.9zM25.9 227.8h0.9v0.9h-0.9zM39.2 228.6h0.9v0.9h-0.9zM27.0 215.3h0.9v0.9h-0.9zM27.7 219.5h0.9v0.9h-0.9zM27.3 219.4h0.9v0.9h-0.9zM26.5 230.7h0.9v0.9h-0.9zM25.8 217.3h0.9v0.9h-0.9zM33.4 229.2h0.9v0.9h-0.9zM50.9 219.4h0.9v0.9h-0.9zM32.3 217.4h0.9v0.9h-0.9zM35.8 227.2h0.9v0.9h-0.9zM33.4 218.5h0.9v0.9h-0.9zM29.1 217.9h0.9v0.9h-0.9zM34.8 218.1h0.9v0.9h-0.9zM27.6 219.0h0.9v0.9h-0.9zM25.8 229.5h0.9v0.9h-0.9zM30.8 218.9h0.9v0.9h-0.9zM57.7 225.4h0.9v0.9h-0.9zM30.8 217.9h0.9v0.9h-0.9zM42.2 219.8h0.9v0.9h-0.9zM42.5 219.3h0.9v0.9h-0.9zM36.2 214.4h0.9v0.9h-0.9zM32.8 215.3h0.9v0.9h-0.9zM29.8 216.4h0.9v0.9h-0.9zM39.0 216.5h0.9v0.9h-0.9zM35.0 225.4h0.9v0.9h-0.9zM35.6 219.6h0.9v0.9h-0.9zM30.2 225.5h0.9v0.9h-0.9zM29.3 219.1h0.9v0.9h-0.9zM35.5 225.5h0.9v0.9h-0.9zM33.2 219.0h0.9v0.9h-0.9zM30.7 216.9h0.9v0.9h-0.9zM26.7 229.5h0.9v0.9h-0.9zM32.9 220.0h0.9v0.9h-0.9zM27.3 218.3h0.9v0.9h-0.9zM32.2 226.6h0.9v0.9h-0.9zM26.4 226.8h0.9v0.9h-0.9zM31.8 214.8h0.9v0.9h-0.9zM31.4 227.3h0.9v0.9h-0.9zM31.3 217.8h0.9v0.9h-0.9zM29.3 227.6h0.9v0.9h-0.9zM37.6 219.8h0.9v0.9h-0.9zM33.9 225.7h0.9v0.9h-0.9zM42.3 226.2h0.9v0.9h-0.9zM32.1 228.7h0.9v0.9h-0.9zM33.2 227.4h0.9v0.9h-0.9zM25.6 213.3h0.9v0.9h-0.9zM45.7 226.3h0.9v0.9h-0.9zM25.9 228.1h0.9v0.9h-0.9zM27.4 217.1h0.9v0.9h-0.9zM31.1 219.5h0.9v0.9h-0.9zM28.9 226.5h0.9v0.9h-0.9zM37.2 217.5h0.9v0.9h-0.9zM40.9 216.7h0.9v0.9h-0.9zM26.8 225.3h0.9v0.9h-0.9zM35.5 218.4h0.9v0.9h-0.9zM25.7 211.2h0.9v0.9h-0.9zM36.8 225.8h0.9v0.9h-0.9zM25.3 225.6h0.9v0.9h-0.9zM29.6 216.0h0.9v0.9h-0.9zM37.1 226.7h0.9v0.9h-0.9zM24.9 226.0h0.9v0.9h-0.9zM25.3 227.4h0.9v0.9h-0.9zM32.1 218.3h0.9v0.9h-0.9zM48.5 225.5h0.9v0.9h-0.9zM25.5 210.8h0.9v0.9h-0.9zM30.0 217.4h0.9v0.9h-0.9zM25.4 211.4h0.9v0.9h-0.9zM30.1 219.3h0.9v0.9h-0.9zM41.5 218.2h0.9v0.9h-0.9zM26.7 211.7h0.9v0.9h-0.9zM27.7 225.7h0.9v0.9h-0.9zM44.0 227.4h0.9v0.9h-0.9zM31.5 226.6h0.9v0.9h-0.9zM32.6 219.0h0.9v0.9h-0.9zM27.8 219.5h0.9v0.9h-0.9zM43.9 226.3h0.9v0.9h-0.9zM27.6 217.8h0.9v0.9h-0.9zM30.1 229.0h0.9v0.9h-0.9zM31.3 226.1h0.9v0.9h-0.9zM26.1 216.7h0.9v0.9h-0.9zM36.0 218.4h0.9v0.9h-0.9zM33.7 215.4h0.9v0.9h-0.9zM35.5 219.0h0.9v0.9h-0.9zM27.6 215.2h0.9v0.9h-0.9zM24.3 219.5h0.9v0.9h-0.9zM36.5 225.7h0.9v0.9h-0.9zM27.1 217.2h0.9v0.9h-0.9zM26.3 219.3h0.9v0.9h-0.9zM26.6 226.8h0.9v0.9h-0.9zM25.4 213.8h0.9v0.9h-0.9zM30.1 215.3h0.9v0.9h-0.9zM28.8 218.9h0.9v0.9h-0.9zM25.1 216.1h0.9v0.9h-0.9zM28.5 217.1h0.9v0.9h-0.9zM26.2 226.0h0.9v0.9h-0.9zM25.2 229.2h0.9v0.9h-0.9zM29.6 229.0h0.9v0.9h-0.9zM40.3 226.0h0.9v0.9h-0.9zM30.7 218.1h0.9v0.9h-0.9zM37.4 220.0h0.9v0.9h-0.9zM26.1 212.7h0.9v0.9h-0.9zM27.7 215.2h0.9v0.9h-0.9zM28.3 226.5h0.9v0.9h-0.9zM28.1 218.4h0.9v0.9h-0.9zM28.4 227.4h0.9v0.9h-0.9zM31.5 218.3h0.9v0.9h-0.9zM27.3 227.5h0.9v0.9h-0.9zM34.6 225.5h0.9v0.9h-0.9zM26.9 225.8h0.9v0.9h-0.9zM31.4 227.0h0.9v0.9h-0.9zM33.5 216.9h0.9v0.9h-0.9zM26.2 229.9h0.9v0.9h-0.9zM39.1 219.6h0.9v0.9h-0.9zM24.6 212.6h0.9v0.9h-0.9zM41.9 226.8h0.9v0.9h-0.9zM29.3 214.9h0.9v0.9h-0.9zM32.8 228.3h0.9v0.9h-0.9zM34.6 226.0h0.9v0.9h-0.9zM27.5 216.5h0.9v0.9h-0.9zM25.9 213.4h0.9v0.9h-0.9zM30.6 216.7h0.9v0.9h-0.9zM26.4 229.4h0.9v0.9h-0.9zM34.9 214.1h0.9v0.9h-0.9zM53.5 219.9h0.9v0.9h-0.9zM41.5 226.8h0.9v0.9h-0.9zM47.6 219.5h0.9v0.9h-0.9zM28.4 217.6h0.9v0.9h-0.9zM25.6 214.2h0.9v0.9h-0.9zM28.1 218.4h0.9v0.9h-0.9zM29.2 228.1h0.9v0.9h-0.9zM32.2 214.7h0.9v0.9h-0.9zM45.6 225.6h0.9v0.9h-0.9zM36.9 219.6h0.9v0.9h-0.9zM45.1 225.9h0.9v0.9h-0.9zM30.8 227.1h0.9v0.9h-0.9zM32.6 225.2h0.9v0.9h-0.9zM41.9 218.8h0.9v0.9h-0.9zM32.2 216.0h0.9v0.9h-0.9zM29.3 219.1h0.9v0.9h-0.9zM27.3 216.5h0.9v0.9h-0.9zM28.3 214.7h0.9v0.9h-0.9zM26.4 219.7h0.9v0.9h-0.9zM45.8 226.9h0.9v0.9h-0.9zM39.9 219.5h0.9v0.9h-0.9zM31.7 227.8h0.9v0.9h-0.9zM25.3 219.0h0.9v0.9h-0.9zM31.4 217.7h0.9v0.9h-0.9zM41.7 216.0h0.9v0.9h-0.9zM40.0 219.6h0.9v0.9h-0.9zM24.8 225.9h0.9v0.9h-0.9zM30.3 227.8h0.9v0.9h-0.9zM39.1 219.9h0.9v0.9h-0.9zM29.5 231.5h0.9v0.9h-0.9zM29.4 217.1h0.9v0.9h-0.9zM34.0 218.7h0.9v0.9h-0.9zM24.5 215.8h0.9v0.9h-0.9zM43.7 219.9h0.9v0.9h-0.9zM32.9 219.8h0.9v0.9h-0.9zM24.8 217.0h0.9v0.9h-0.9zM30.4 218.7h0.9v0.9h-0.9zM26.1 211.8h0.9v0.9h-0.9zM31.8 214.1h0.9v0.9h-0.9zM36.4 226.6h0.9v0.9h-0.9zM50.3 219.9h0.9v0.9h-0.9zM26.0 214.5h0.9v0.9h-0.9zM29.0 225.6h0.9v0.9h-0.9zM34.2 217.0h0.9v0.9h-0.9zM25.0 219.9h0.9v0.9h-0.9zM26.6 214.7h0.9v0.9h-0.9zM38.4 219.0h0.9v0.9h-0.9zM33.1 226.3h0.9v0.9h-0.9zM33.7 225.3h0.9v0.9h-0.9zM25.3 216.9h0.9v0.9h-0.9zM24.7 225.4h0.9v0.9h-0.9zM40.2 226.1h0.9v0.9h-0.9zM30.6 219.7h0.9v0.9h-0.9zM36.4 225.6h0.9v0.9h-0.9zM37.3 217.7h0.9v0.9h-0.9zM33.9 226.3h0.9v0.9h-0.9zM24.7 218.9h0.9v0.9h-0.9zM27.2 215.4h0.9v0.9h-0.9zM30.9 219.5h0.9v0.9h-0.9zM31.8 217.7h0.9v0.9h-0.9zM28.7 225.8h0.9v0.9h-0.9zM25.8 218.8h0.9v0.9h-0.9zM30.7 219.7h0.9v0.9h-0.9zM26.7 216.5h0.9v0.9h-0.9zM28.6 227.1h0.9v0.9h-0.9zM31.1 217.6h0.9v0.9h-0.9zM30.8 232.4h0.9v0.9h-0.9zM39.7 225.8h0.9v0.9h-0.9zM44.7 218.7h0.9v0.9h-0.9zM26.0 229.0h0.9v0.9h-0.9zM29.4 218.3h0.9v0.9h-0.9zM37.2 218.7h0.9v0.9h-0.9zM30.3 226.6h0.9v0.9h-0.9zM26.6 234.6h0.9v0.9h-0.9zM37.3 227.5h0.9v0.9h-0.9zM25.1 220.0h0.9v0.9h-0.9zM65.8 225.3h0.9v0.9h-0.9zM38.7 225.3h0.9v0.9h-0.9zM28.5 216.2h0.9v0.9h-0.9zM42.7 226.3h0.9v0.9h-0.9zM29.6 229.2h0.9v0.9h-0.9zM29.1 216.9h0.9v0.9h-0.9zM34.5 217.8h0.9v0.9h-0.9zM24.5 215.7h0.9v0.9h-0.9zM24.3 217.9h0.9v0.9h-0.9zM31.3 227.1h0.9v0.9h-0.9zM36.7 226.5h0.9v0.9h-0.9zM25.0 227.9h0.9v0.9h-0.9zM33.3 216.2h0.9v0.9h-0.9zM29.5 219.1h0.9v0.9h-0.9zM51.2 225.2h0.9v0.9h-0.9zM34.1 216.4h0.9v0.9h-0.9zM33.6 216.2h0.9v0.9h-0.9zM51.1 219.5h0.9v0.9h-0.9zM30.4 229.9h0.9v0.9h-0.9zM25.6 218.7h0.9v0.9h-0.9zM44.2 226.7h0.9v0.9h-0.9zM32.6 219.5h0.9v0.9h-0.9zM40.4 219.1h0.9v0.9h-0.9zM27.6 209.8h0.9v0.9h-0.9zM44.1 225.7h0.9v0.9h-0.9zM29.6 218.9h0.9v0.9h-0.9zM27.8 218.0h0.9v0.9h-0.9zM30.2 218.1h0.9v0.9h-0.9zM46.3 218.0h0.9v0.9h-0.9zM33.0 217.1h0.9v0.9h-0.9zM29.2 217.6h0.9v0.9h-0.9zM34.4 219.8h0.9v0.9h-0.9zM36.1 217.5h0.9v0.9h-0.9zM41.1 219.0h0.9v0.9h-0.9zM35.4 215.2h0.9v0.9h-0.9zM30.9 217.9h0.9v0.9h-0.9zM25.0 217.7h0.9v0.9h-0.9zM31.3 227.5h0.9v0.9h-0.9zM24.7 228.6h0.9v0.9h-0.9zM26.8 228.2h0.9v0.9h-0.9zM28.4 212.8h0.9v0.9h-0.9zM39.2 219.5h0.9v0.9h-0.9zM30.2 218.4h0.9v0.9h-0.9zM32.0 218.7h0.9v0.9h-0.9zM52.5 226.0h0.9v0.9h-0.9zM27.0 213.6h0.9v0.9h-0.9zM26.5 226.0h0.9v0.9h-0.9zM27.0 216.6h0.9v0.9h-0.9zM36.6 226.0h0.9v0.9h-0.9zM26.6 218.8h0.9v0.9h-0.9zM30.1 228.6h0.9v0.9h-0.9zM32.6 225.4h0.9v0.9h-0.9zM29.7 226.9h0.9v0.9h-0.9zM37.5 219.5h0.9v0.9h-0.9zM28.9 216.6h0.9v0.9h-0.9zM32.6 225.6h0.9v0.9h-0.9zM26.1 225.2h0.9v0.9h-0.9zM27.7 232.4h0.9v0.9h-0.9zM32.3 225.6h0.9v0.9h-0.9zM29.8 214.2h0.9v0.9h-0.9zM40.0 225.8h0.9v0.9h-0.9zM46.2 219.1h0.9v0.9h-0.9zM29.9 225.8h0.9v0.9h-0.9zM42.6 218.6h0.9v0.9h-0.9zM27.3 219.6h0.9v0.9h-0.9zM25.8 211.6h0.9v0.9h-0.9zM26.7 218.7h0.9v0.9h-0.9zM27.4 226.8h0.9v0.9h-0.9zM26.4 219.9h0.9v0.9h-0.9zM35.3 219.4h0.9v0.9h-0.9zM33.4 225.6h0.9v0.9h-0.9zM44.3 225.6h0.9v0.9h-0.9zM31.6 218.2h0.9v0.9h-0.9zM26.2 214.7h0.9v0.9h-0.9zM25.5 227.9h0.9v0.9h-0.9zM31.7 213.2h0.9v0.9h-0.9zM27.7 233.9h0.9v0.9h-0.9zM28.8 228.3h0.9v0.9h-0.9zM45.8 217.0h0.9v0.9h-0.9zM30.3 225.6h0.9v0.9h-0.9zM48.5 219.6h0.9v0.9h-0.9zM30.0 219.6h0.9v0.9h-0.9zM34.5 228.2h0.9v0.9h-0.9zM37.1 225.8h0.9v0.9h-0.9zM29.8 219.8h0.9v0.9h-0.9zM29.1 231.4h0.9v0.9h-0.9zM35.5 218.8h0.9v0.9h-0.9zM26.1 216.5h0.9v0.9h-0.9zM41.0 227.0h0.9v0.9h-0.9zM31.8 220.0h0.9v0.9h-0.9zM31.7 216.1h0.9v0.9h-0.9zM28.3 218.2h0.9v0.9h-0.9zM26.7 218.2h0.9v0.9h-0.9zM32.9 219.5h0.9v0.9h-0.9zM26.7 218.8h0.9v0.9h-0.9zM28.6 226.1h0.9v0.9h-0.9zM27.4 216.3h0.9v0.9h-0.9zM27.8 212.6h0.9v0.9h-0.9zM32.7 226.4h0.9v0.9h-0.9zM26.1 228.8h0.9v0.9h-0.9zM46.3 219.2h0.9v0.9h-0.9zM45.0 218.8h0.9v0.9h-0.9zM29.1 215.0h0.9v0.9h-0.9zM35.7 226.8h0.9v0.9h-0.9zM26.2 231.0h0.9v0.9h-0.9zM31.6 216.0h0.9v0.9h-0.9zM29.7 219.2h0.9v0.9h-0.9zM24.9 216.0h0.9v0.9h-0.9zM27.6 215.3h0.9v0.9h-0.9zM24.7 216.4h0.9v0.9h-0.9zM31.0 214.4h0.9v0.9h-0.9zM32.1 219.8h0.9v0.9h-0.9zM27.3 227.2h0.9v0.9h-0.9zM32.6 226.2h0.9v0.9h-0.9zM30.9 225.9h0.9v0.9h-0.9zM42.3 219.2h0.9v0.9h-0.9zM30.7 225.3h0.9v0.9h-0.9zM28.3 230.5h0.9v0.9h-0.9zM30.5 226.3h0.9v0.9h-0.9zM35.3 217.4h0.9v0.9h-0.9zM40.6 218.8h0.9v0.9h-0.9zM37.9 219.8h0.9v0.9h-0.9zM29.0 219.3h0.9v0.9h-0.9zM43.6 219.9h0.9v0.9h-0.9zM49.6 219.5h0.9v0.9h-0.9zM25.9 210.3h0.9v0.9h-0.9zM31.5 218.9h0.9v0.9h-0.9zM38.0 219.6h0.9v0.9h-0.9zM25.9 210.0h0.9v0.9h-0.9zM32.3 218.2h0.9v0.9h-0.9zM31.0 228.3h0.9v0.9h-0.9zM24.2 226.8h0.9v0.9h-0.9zM26.0 212.7h0.9v0.9h-0.9zM48.0 226.0h0.9v0.9h-0.9zM35.2 219.2h0.9v0.9h-0.9zM26.1 214.8h0.9v0.9h-0.9zM24.3 226.3h0.9v0.9h-0.9zM37.7 218.1h0.9v0.9h-0.9zM39.3 227.8h0.9v0.9h-0.9zM28.3 218.5h0.9v0.9h-0.9zM26.2 218.1h0.9v0.9h-0.9zM37.6 217.0h0.9v0.9h-0.9zM31.3 216.6h0.9v0.9h-0.9zM37.4 225.9h0.9v0.9h-0.9zM36.7 219.8h0.9v0.9h-0.9zM32.1 217.1h0.9v0.9h-0.9zM31.3 225.4h0.9v0.9h-0.9zM28.9 218.6h0.9v0.9h-0.9zM48.3 219.2h0.9v0.9h-0.9zM31.4 219.7h0.9v0.9h-0.9zM25.9 226.5h0.9v0.9h-0.9zM27.2 218.6h0.9v0.9h-0.9zM28.9 228.3h0.9v0.9h-0.9zM25.5 219.9h0.9v0.9h-0.9zM36.4 216.7h0.9v0.9h-0.9zM26.7 214.9h0.9v0.9h-0.9zM31.9 219.1h0.9v0.9h-0.9zM27.5 229.1h0.9v0.9h-0.9zM27.8 227.9h0.9v0.9h-0.9zM35.7 217.1h0.9v0.9h-0.9zM25.6 214.0h0.9v0.9h-0.9zM28.4 225.6h0.9v0.9h-0.9zM39.3 226.1h0.9v0.9h-0.9zM31.6 227.4h0.9v0.9h-0.9zM32.6 219.4h0.9v0.9h-0.9zM25.0 218.8h0.9v0.9h-0.9zM28.9 225.8h0.9v0.9h-0.9zM28.5 218.0h0.9v0.9h-0.9zM26.8 226.4h0.9v0.9h-0.9zM32.3 226.1h0.9v0.9h-0.9zM46.9 219.8h0.9v0.9h-0.9zM26.5 227.3h0.9v0.9h-0.9zM38.5 217.6h0.9v0.9h-0.9zM35.2 218.3h0.9v0.9h-0.9zM28.5 228.2h0.9v0.9h-0.9zM29.4 228.7h0.9v0.9h-0.9zM31.1 228.8h0.9v0.9h-0.9zM40.3 219.1h0.9v0.9h-0.9zM24.9 228.3h0.9v0.9h-0.9zM38.3 225.6h0.9v0.9h-0.9zM27.0 219.8h0.9v0.9h-0.9zM27.1 215.9h0.9v0.9h-0.9zM38.8 226.5h0.9v0.9h-0.9zM26.3 217.7h0.9v0.9h-0.9zM27.6 216.1h0.9v0.9h-0.9zM33.2 229.9h0.9v0.9h-0.9zM25.3 227.2h0.9v0.9h-0.9zM34.7 226.0h0.9v0.9h-0.9zM30.0 219.0h0.9v0.9h-0.9zM31.4 217.9h0.9v0.9h-0.9zM25.2 230.9h0.9v0.9h-0.9zM27.8 220.0h0.9v0.9h-0.9zM30.4 226.1h0.9v0.9h-0.9zM28.4 226.4h0.9v0.9h-0.9zM36.0 226.6h0.9v0.9h-0.9zM26.7 219.9h0.9v0.9h-0.9zM26.9 226.8h0.9v0.9h-0.9zM36.2 219.3h0.9v0.9h-0.9zM36.7 219.4h0.9v0.9h-0.9zM28.4 212.5h0.9v0.9h-0.9zM26.7 216.6h0.9v0.9h-0.9zM27.0 219.9h0.9v0.9h-0.9zM25.3 227.3h0.9v0.9h-0.9zM30.9 218.7h0.9v0.9h-0.9zM28.6 228.3h0.9v0.9h-0.9zM25.7 217.4h0.9v0.9h-0.9zM26.6 225.5h0.9v0.9h-0.9zM26.7 228.8h0.9v0.9h-0.9zM26.1 219.1h0.9v0.9h-0.9zM29.2 219.1h0.9v0.9h-0.9zM35.1 218.2h0.9v0.9h-0.9zM41.2 219.7h0.9v0.9h-0.9zM34.3 217.2h0.9v0.9h-0.9zM26.3 217.6h0.9v0.9h-0.9zM26.5 219.3h0.9v0.9h-0.9zM31.8 225.3h0.9v0.9h-0.9zM51.6 226.2h0.9v0.9h-0.9zM24.4 226.7h0.9v0.9h-0.9zM25.6 215.2h0.9v0.9h-0.9zM29.9 226.1h0.9v0.9h-0.9zM33.9 215.6h0.9v0.9h-0.9zM29.8 212.5h0.9v0.9h-0.9zM25.3 227.0h0.9v0.9h-0.9zM25.3 226.7h0.9v0.9h-0.9zM58.0 226.0h0.9v0.9h-0.9zM30.3 226.4h0.9v0.9h-0.9zM35.0 227.2h0.9v0.9h-0.9zM31.3 229.4h0.9v0.9h-0.9zM28.4 217.4h0.9v0.9h-0.9zM24.7 216.9h0.9v0.9h-0.9zM35.6 217.2h0.9v0.9h-0.9zM27.3 219.9h0.9v0.9h-0.9zM25.4 213.0h0.9v0.9h-0.9zM29.2 226.1h0.9v0.9h-0.9zM25.1 218.7h0.9v0.9h-0.9zM45.7 218.8h0.9v0.9h-0.9zM34.6 218.1h0.9v0.9h-0.9zM29.3 225.6h0.9v0.9h-0.9zM47.2 219.9h0.9v0.9h-0.9zM33.1 219.0h0.9v0.9h-0.9zM25.2 229.5h0.9v0.9h-0.9zM31.1 228.6h0.9v0.9h-0.9zM28.4 227.5h0.9v0.9h-0.9zM32.8 226.5h0.9v0.9h-0.9zM25.0 219.3h0.9v0.9h-0.9zM36.9 228.7h0.9v0.9h-0.9zM31.8 225.9h0.9v0.9h-0.9zM28.8 225.8h0.9v0.9h-0.9zM29.6 215.1h0.9v0.9h-0.9zM40.2 218.8h0.9v0.9h-0.9zM26.7 217.6h0.9v0.9h-0.9zM27.0 210.4h0.9v0.9h-0.9zM29.1 218.9h0.9v0.9h-0.9zM32.5 214.0h0.9v0.9h-0.9zM44.7 217.9h0.9v0.9h-0.9zM25.8 232.7h0.9v0.9h-0.9zM27.4 227.5h0.9v0.9h-0.9zM32.7 217.5h0.9v0.9h-0.9zM25.8 225.7h0.9v0.9h-0.9zM29.7 226.0h0.9v0.9h-0.9zM40.4 226.1h0.9v0.9h-0.9zM28.3 214.4h0.9v0.9h-0.9zM31.6 225.7h0.9v0.9h-0.9zM36.9 226.5h0.9v0.9h-0.9zM31.2 215.8h0.9v0.9h-0.9zM53.8 225.5h0.9v0.9h-0.9zM27.2 227.0h0.9v0.9h-0.9zM29.1 214.5h0.9v0.9h-0.9zM42.2 226.0h0.9v0.9h-0.9zM41.0 217.7h0.9v0.9h-0.9zM30.2 219.2h0.9v0.9h-0.9zM30.2 219.4h0.9v0.9h-0.9zM28.2 216.4h0.9v0.9h-0.9zM28.5 217.5h0.9v0.9h-0.9zM37.3 217.5h0.9v0.9h-0.9zM36.7 228.0h0.9v0.9h-0.9zM30.7 218.1h0.9v0.9h-0.9zM29.7 217.4h0.9v0.9h-0.9zM30.1 215.5h0.9v0.9h-0.9zM33.3 219.8h0.9v0.9h-0.9zM27.1 212.8h0.9v0.9h-0.9zM31.9 219.3h0.9v0.9h-0.9zM27.6 219.7h0.9v0.9h-0.9zM30.5 217.4h0.9v0.9h-0.9zM38.7 225.2h0.9v0.9h-0.9zM31.3 218.2h0.9v0.9h-0.9zM26.5 231.6h0.9v0.9h-0.9zM26.8 229.1h0.9v0.9h-0.9zM30.7 226.1h0.9v0.9h-0.9zM26.7 217.8h0.9v0.9h-0.9zM35.3 218.6h0.9v0.9h-0.9zM35.4 225.4h0.9v0.9h-0.9zM27.9 216.4h0.9v0.9h-0.9zM28.2 218.8h0.9v0.9h-0.9zM24.8 228.5h0.9v0.9h-0.9zM27.4 226.9h0.9v0.9h-0.9zM27.3 230.9h0.9v0.9h-0.9zM26.4 230.3h0.9v0.9h-0.9zM25.9 229.3h0.9v0.9h-0.9zM27.3 228.3h0.9v0.9h-0.9zM33.7 226.4h0.9v0.9h-0.9zM27.8 217.1h0.9v0.9h-0.9zM32.5 219.1h0.9v0.9h-0.9zM34.0 225.3h0.9v0.9h-0.9zM46.3 219.8h0.9v0.9h-0.9zM34.4 228.1h0.9v0.9h-0.9zM31.6 219.0h0.9v0.9h-0.9zM51.9 219.5h0.9v0.9h-0.9zM30.6 228.1h0.9v0.9h-0.9zM33.6 217.9h0.9v0.9h-0.9zM26.2 217.8h0.9v0.9h-0.9zM29.1 216.1h0.9v0.9h-0.9zM32.5 214.5h0.9v0.9h-0.9zM30.5 217.2h0.9v0.9h-0.9zM34.6 218.7h0.9v0.9h-0.9zM24.4 219.9h0.9v0.9h-0.9zM55.0 225.2h0.9v0.9h-0.9zM37.6 226.3h0.9v0.9h-0.9zM28.8 225.4h0.9v0.9h-0.9zM28.7 214.1h0.9v0.9h-0.9zM32.4 226.8h0.9v0.9h-0.9zM26.9 213.7h0.9v0.9h-0.9zM25.2 227.8h0.9v0.9h-0.9zM24.3 213.2h0.9v0.9h-0.9zM30.8 219.5h0.9v0.9h-0.9zM26.8 229.4h0.9v0.9h-0.9zM24.9 225.9h0.9v0.9h-0.9zM24.6 228.8h0.9v0.9h-0.9zM25.9 216.7h0.9v0.9h-0.9zM26.3 215.4h0.9v0.9h-0.9zM25.1 227.9h0.9v0.9h-0.9zM29.1 218.5h0.9v0.9h-0.9zM33.5 227.2h0.9v0.9h-0.9zM29.3 226.4h0.9v0.9h-0.9zM26.5 216.0h0.9v0.9h-0.9zM26.3 226.6h0.9v0.9h-0.9zM32.6 216.3h0.9v0.9h-0.9zM56.2 220.0h0.9v0.9h-0.9zM42.8 225.2h0.9v0.9h-0.9zM27.1 217.1h0.9v0.9h-0.9zM30.2 235.5h0.9v0.9h-0.9zM25.8 216.0h0.9v0.9h-0.9zM30.8 225.4h0.9v0.9h-0.9zM36.9 227.2h0.9v0.9h-0.9zM37.7 225.8h0.9v0.9h-0.9zM24.5 217.2h0.9v0.9h-0.9zM25.3 218.4h0.9v0.9h-0.9zM28.2 226.7h0.9v0.9h-0.9zM30.3 229.7h0.9v0.9h-0.9zM25.0 218.0h0.9v0.9h-0.9zM25.3 213.3h0.9v0.9h-0.9zM33.7 219.2h0.9v0.9h-0.9zM31.7 225.5h0.9v0.9h-0.9zM29.0 227.5h0.9v0.9h-0.9zM29.0 226.7h0.9v0.9h-0.9zM50.4 220.0h0.9v0.9h-0.9zM31.9 218.6h0.9v0.9h-0.9zM25.6 218.5h0.9v0.9h-0.9zM27.0 216.4h0.9v0.9h-0.9zM30.1 216.3h0.9v0.9h-0.9zM28.5 231.6h0.9v0.9h-0.9zM33.5 218.9h0.9v0.9h-0.9zM35.2 226.6h0.9v0.9h-0.9zM28.1 213.6h0.9v0.9h-0.9zM43.3 225.6h0.9v0.9h-0.9zM27.0 217.4h0.9v0.9h-0.9zM25.5 228.0h0.9v0.9h-0.9zM28.7 230.3h0.9v0.9h-0.9zM30.5 217.4h0.9v0.9h-0.9zM29.9 229.0h0.9v0.9h-0.9zM44.4 218.5h0.9v0.9h-0.9zM27.0 225.7h0.9v0.9h-0.9zM25.4 214.9h0.9v0.9h-0.9zM29.6 219.9h0.9v0.9h-0.9zM27.8 218.2h0.9v0.9h-0.9zM27.2 217.2h0.9v0.9h-0.9zM36.7 216.6h0.9v0.9h-0.9zM34.8 227.2h0.9v0.9h-0.9zM28.0 217.0h0.9v0.9h-0.9zM27.2 226.2h0.9v0.9h-0.9zM27.4 212.4h0.9v0.9h-0.9zM32.5 219.5h0.9v0.9h-0.9zM30.6 219.2h0.9v0.9h-0.9zM26.4 217.5h0.9v0.9h-0.9zM30.1 220.0h0.9v0.9h-0.9zM33.9 219.1h0.9v0.9h-0.9zM36.9 219.5h0.9v0.9h-0.9zM43.9 227.1h0.9v0.9h-0.9zM47.0 218.1h0.9v0.9h-0.9zM28.4 212.1h0.9v0.9h-0.9zM61.0 219.9h0.9v0.9h-0.9zM30.3 227.8h0.9v0.9h-0.9zM30.2 225.9h0.9v0.9h-0.9zM31.3 213.0h0.9v0.9h-0.9zM43.1 219.2h0.9v0.9h-0.9zM29.4 219.8h0.9v0.9h-0.9zM25.9 210.2h0.9v0.9h-0.9zM28.7 211.1h0.9v0.9h-0.9zM34.2 218.8h0.9v0.9h-0.9zM28.6 217.5h0.9v0.9h-0.9zM26.2 231.5h0.9v0.9h-0.9zM31.6 219.0h0.9v0.9h-0.9zM28.7 226.6h0.9v0.9h-0.9zM28.0 217.1h0.9v0.9h-0.9zM30.6 217.5h0.9v0.9h-0.9zM36.0 225.6h0.9v0.9h-0.9zM30.2 219.1h0.9v0.9h-0.9zM34.1 219.1h0.9v0.9h-0.9zM37.2 226.5h0.9v0.9h-0.9zM26.9 228.4h0.9v0.9h-0.9zM32.7 227.7h0.9v0.9h-0.9zM30.6 228.2h0.9v0.9h-0.9zM36.1 218.7h0.9v0.9h-0.9zM28.5 228.4h0.9v0.9h-0.9zM27.0 218.2h0.9v0.9h-0.9zM29.6 225.7h0.9v0.9h-0.9zM33.1 215.0h0.9v0.9h-0.9zM39.6 219.2h0.9v0.9h-0.9zM38.4 217.0h0.9v0.9h-0.9zM28.2 219.1h0.9v0.9h-0.9zM34.8 230.6h0.9v0.9h-0.9zM35.9 218.7h0.9v0.9h-0.9zM32.6 219.0h0.9v0.9h-0.9zM37.4 225.8h0.9v0.9h-0.9zM28.1 229.7h0.9v0.9h-0.9zM26.7 217.3h0.9v0.9h-0.9zM51.5 225.6h0.9v0.9h-0.9zM26.6 226.4h0.9v0.9h-0.9zM51.0 225.6h0.9v0.9h-0.9zM28.4 218.5h0.9v0.9h-0.9zM29.4 218.8h0.9v0.9h-0.9zM37.5 226.3h0.9v0.9h-0.9zM33.4 217.1h0.9v0.9h-0.9zM31.1 228.7h0.9v0.9h-0.9zM32.0 226.1h0.9v0.9h-0.9zM35.3 218.9h0.9v0.9h-0.9zM30.7 214.3h0.9v0.9h-0.9zM30.9 219.7h0.9v0.9h-0.9zM37.5 225.9h0.9v0.9h-0.9zM33.7 219.5h0.9v0.9h-0.9zM27.4 216.9h0.9v0.9h-0.9zM24.9 218.1h0.9v0.9h-0.9zM36.3 219.7h0.9v0.9h-0.9zM31.8 217.8h0.9v0.9h-0.9zM30.8 219.4h0.9v0.9h-0.9zM29.1 216.8h0.9v0.9h-0.9zM35.7 225.9h0.9v0.9h-0.9zM28.0 226.9h0.9v0.9h-0.9zM25.3 217.7h0.9v0.9h-0.9zM34.9 225.8h0.9v0.9h-0.9zM31.0 218.7h0.9v0.9h-0.9zM32.0 216.3h0.9v0.9h-0.9zM26.8 227.8h0.9v0.9h-0.9zM28.9 216.2h0.9v0.9h-0.9zM29.9 225.3h0.9v0.9h-0.9zM28.6 212.6h0.9v0.9h-0.9zM35.4 227.1h0.9v0.9h-0.9zM27.0 219.0h0.9v0.9h-0.9zM26.1 226.1h0.9v0.9h-0.9zM31.2 217.8h0.9v0.9h-0.9zM33.0 219.6h0.9v0.9h-0.9zM32.2 218.5h0.9v0.9h-0.9zM31.9 226.7h0.9v0.9h-0.9zM25.2 214.7h0.9v0.9h-0.9zM31.8 228.7h0.9v0.9h-0.9zM32.6 217.1h0.9v0.9h-0.9zM25.0 227.1h0.9v0.9h-0.9zM30.3 214.8h0.9v0.9h-0.9zM24.2 216.1h0.9v0.9h-0.9zM27.3 228.3h0.9v0.9h-0.9zM25.9 217.1h0.9v0.9h-0.9zM31.7 218.7h0.9v0.9h-0.9zM38.3 227.8h0.9v0.9h-0.9zM31.8 225.9h0.9v0.9h-0.9zM38.0 217.2h0.9v0.9h-0.9zM31.9 226.6h0.9v0.9h-0.9zM36.6 218.1h0.9v0.9h-0.9zM30.2 217.2h0.9v0.9h-0.9zM33.5 228.1h0.9v0.9h-0.9zM25.1 213.6h0.9v0.9h-0.9zM29.9 230.7h0.9v0.9h-0.9zM38.0 225.2h0.9v0.9h-0.9zM30.3 225.2h0.9v0.9h-0.9zM26.4 216.4h0.9v0.9h-0.9zM48.2 218.8h0.9v0.9h-0.9zM28.8 218.3h0.9v0.9h-0.9zM25.2 227.0h0.9v0.9h-0.9zM40.6 227.3h0.9v0.9h-0.9zM31.6 230.2h0.9v0.9h-0.9zM40.5 225.5h0.9v0.9h-0.9zM39.2 226.1h0.9v0.9h-0.9zM27.3 226.5h0.9v0.9h-0.9zM32.8 218.7h0.9v0.9h-0.9zM28.2 227.6h0.9v0.9h-0.9zM28.1 217.8h0.9v0.9h-0.9zM41.0 219.2h0.9v0.9h-0.9zM38.2 219.5h0.9v0.9h-0.9zM24.6 208.0h0.9v0.9h-0.9zM32.1 219.3h0.9v0.9h-0.9zM26.6 212.0h0.9v0.9h-0.9zM29.9 228.0h0.9v0.9h-0.9zM25.1 230.0h0.9v0.9h-0.9zM52.6 226.3h0.9v0.9h-0.9zM26.4 219.7h0.9v0.9h-0.9zM32.2 217.8h0.9v0.9h-0.9zM32.4 219.8h0.9v0.9h-0.9zM34.3 219.5h0.9v0.9h-0.9zM33.2 226.6h0.9v0.9h-0.9zM25.6 216.2h0.9v0.9h-0.9zM26.0 212.0h0.9v0.9h-0.9zM34.8 226.7h0.9v0.9h-0.9zM27.2 226.0h0.9v0.9h-0.9zM28.8 219.2h0.9v0.9h-0.9zM30.2 225.4h0.9v0.9h-0.9zM34.2 227.2h0.9v0.9h-0.9zM31.3 225.7h0.9v0.9h-0.9zM24.9 225.5h0.9v0.9h-0.9zM34.1 217.5h0.9v0.9h-0.9zM40.9 225.4h0.9v0.9h-0.9zM29.4 219.4h0.9v0.9h-0.9zM39.1 218.1h0.9v0.9h-0.9zM36.1 226.0h0.9v0.9h-0.9zM30.3 225.7h0.9v0.9h-0.9zM24.3 212.9h0.9v0.9h-0.9zM49.1 225.4h0.9v0.9h-0.9zM31.4 226.0h0.9v0.9h-0.9zM27.7 215.8h0.9v0.9h-0.9zM31.7 218.9h0.9v0.9h-0.9zM36.6 219.0h0.9v0.9h-0.9zM45.9 225.8h0.9v0.9h-0.9zM24.5 215.7h0.9v0.9h-0.9zM34.8 228.0h0.9v0.9h-0.9zM27.7 227.7h0.9v0.9h-0.9zM27.1 215.1h0.9v0.9h-0.9zM31.5 214.9h0.9v0.9h-0.9zM30.9 225.2h0.9v0.9h-0.9zM35.1 228.6h0.9v0.9h-0.9zM28.0 226.9h0.9v0.9h-0.9zM29.4 219.8h0.9v0.9h-0.9zM33.9 215.9h0.9v0.9h-0.9zM30.1 218.4h0.9v0.9h-0.9zM32.8 216.7h0.9v0.9h-0.9zM31.7 218.6h0.9v0.9h-0.9zM29.3 213.9h0.9v0.9h-0.9zM51.4 219.1h0.9v0.9h-0.9zM27.3 218.0h0.9v0.9h-0.9zM30.0 218.2h0.9v0.9h-0.9zM30.5 215.5h0.9v0.9h-0.9zM38.4 215.1h0.9v0.9h-0.9zM30.2 216.9h0.9v0.9h-0.9zM25.9 210.3h0.9v0.9h-0.9zM30.1 229.4h0.9v0.9h-0.9zM31.7 218.3h0.9v0.9h-0.9zM37.9 219.8h0.9v0.9h-0.9zM42.6 226.1h0.9v0.9h-0.9zM28.9 215.2h0.9v0.9h-0.9zM41.1 226.4h0.9v0.9h-0.9zM40.4 225.6h0.9v0.9h-0.9zM34.7 219.9h0.9v0.9h-0.9zM30.8 216.2h0.9v0.9h-0.9zM30.0 218.4h0.9v0.9h-0.9zM25.7 218.5h0.9v0.9h-0.9zM33.7 217.0h0.9v0.9h-0.9zM28.9 226.4h0.9v0.9h-0.9zM24.4 214.6h0.9v0.9h-0.9zM28.1 226.7h0.9v0.9h-0.9zM26.0 217.5h0.9v0.9h-0.9zM33.8 229.7h0.9v0.9h-0.9zM34.7 225.7h0.9v0.9h-0.9zM40.7 219.4h0.9v0.9h-0.9zM24.8 226.2h0.9v0.9h-0.9zM34.1 217.0h0.9v0.9h-0.9zM30.4 218.3h0.9v0.9h-0.9zM39.9 218.7h0.9v0.9h-0.9zM32.6 225.5h0.9v0.9h-0.9zM31.5 226.1h0.9v0.9h-0.9zM34.7 217.0h0.9v0.9h-0.9zM28.9 219.0h0.9v0.9h-0.9zM24.7 229.4h0.9v0.9h-0.9zM29.9 227.8h0.9v0.9h-0.9zM38.3 227.3h0.9v0.9h-0.9zM32.8 218.9h0.9v0.9h-0.9zM28.6 229.3h0.9v0.9h-0.9zM26.1 218.0h0.9v0.9h-0.9zM30.7 225.7h0.9v0.9h-0.9zM26.1 209.7h0.9v0.9h-0.9zM38.7 226.0h0.9v0.9h-0.9zM31.2 219.1h0.9v0.9h-0.9zM28.1 226.3h0.9v0.9h-0.9zM27.6 216.1h0.9v0.9h-0.9zM38.1 217.0h0.9v0.9h-0.9zM30.2 212.3h0.9v0.9h-0.9zM25.7 225.7h0.9v0.9h-0.9zM39.1 225.7h0.9v0.9h-0.9zM29.2 227.5h0.9v0.9h-0.9zM38.6 218.4h0.9v0.9h-0.9zM33.4 219.5h0.9v0.9h-0.9zM53.1 225.6h0.9v0.9h-0.9zM25.0 214.7h0.9v0.9h-0.9zM25.2 228.6h0.9v0.9h-0.9zM54.2 226.3h0.9v0.9h-0.9zM28.9 217.9h0.9v0.9h-0.9zM35.8 220.0h0.9v0.9h-0.9zM27.2 228.4h0.9v0.9h-0.9zM41.2 219.2h0.9v0.9h-0.9zM47.0 218.8h0.9v0.9h-0.9zM28.7 214.9h0.9v0.9h-0.9zM35.2 226.0h0.9v0.9h-0.9zM25.7 219.2h0.9v0.9h-0.9zM29.6 227.7h0.9v0.9h-0.9zM25.3 231.7h0.9v0.9h-0.9zM27.2 227.0h0.9v0.9h-0.9zM27.2 230.3h0.9v0.9h-0.9zM31.5 218.7h0.9v0.9h-0.9zM28.6 217.6h0.9v0.9h-0.9zM34.4 226.3h0.9v0.9h-0.9zM30.6 225.2h0.9v0.9h-0.9zM39.1 219.8h0.9v0.9h-0.9zM30.6 229.4h0.9v0.9h-0.9zM29.4 216.1h0.9v0.9h-0.9zM28.3 227.1h0.9v0.9h-0.9zM29.5 217.5h0.9v0.9h-0.9zM28.6 215.0h0.9v0.9h-0.9zM32.2 215.2h0.9v0.9h-0.9zM17.7 230.1h0.9v0.9h-0.9zM32.9 229.3h0.9v0.9h-0.9zM24.5 215.2h0.9v0.9h-0.9zM27.2 221.4h0.9v0.9h-0.9zM17.8 226.8h0.9v0.9h-0.9zM18.1 223.6h0.9v0.9h-0.9zM23.8 228.9h0.9v0.9h-0.9zM26.2 236.4h0.9v0.9h-0.9zM19.4 220.7h0.9v0.9h-0.9zM26.6 214.3h0.9v0.9h-0.9zM26.2 230.3h0.9v0.9h-0.9zM34.0 225.9h0.9v0.9h-0.9zM19.8 215.7h0.9v0.9h-0.9zM21.8 212.8h0.9v0.9h-0.9zM28.7 216.2h0.9v0.9h-0.9zM32.4 219.9h0.9v0.9h-0.9zM22.1 215.3h0.9v0.9h-0.9zM25.2 224.9h0.9v0.9h-0.9z" fill="#111"/>
<path d="M48.4 218.4h0.9v0.9h-0.9zM34.3 218.9h0.9v0.9h-0.9zM33.8 217.5h0.9v0.9h-0.9zM40.2 220.0h0.9v0.9h-0.9zM36.9 219.5h0.9v0.9h-0.9zM35.2 219.6h0.9v0.9h-0.9zM32.9 217.4h0.9v0.9h-0.9zM41.4 219.6h0.9v0.9h-0.9zM58.8 219.6h0.9v0.9h-0.9zM33.3 219.4h0.9v0.9h-0.9zM44.1 218.7h0.9v0.9h-0.9zM59.9 219.5h0.9v0.9h-0.9zM43.6 219.3h0.9v0.9h-0.9zM45.5 217.7h0.9v0.9h-0.9zM33.6 217.6h0.9v0.9h-0.9zM35.8 219.7h0.9v0.9h-0.9zM34.4 217.5h0.9v0.9h-0.9zM54.6 219.6h0.9v0.9h-0.9zM38.1 219.9h0.9v0.9h-0.9zM48.7 219.0h0.9v0.9h-0.9zM53.5 219.5h0.9v0.9h-0.9zM41.1 218.2h0.9v0.9h-0.9zM40.7 219.2h0.9v0.9h-0.9zM43.5 219.2h0.9v0.9h-0.9zM50.7 219.4h0.9v0.9h-0.9zM42.1 219.6h0.9v0.9h-0.9zM36.3 218.2h0.9v0.9h-0.9zM34.7 218.0h0.9v0.9h-0.9zM55.7 219.3h0.9v0.9h-0.9zM32.5 219.6h0.9v0.9h-0.9zM45.8 219.9h0.9v0.9h-0.9zM67.2 219.8h0.9v0.9h-0.9zM39.7 219.1h0.9v0.9h-0.9zM40.7 219.7h0.9v0.9h-0.9zM38.0 217.7h0.9v0.9h-0.9zM34.9 217.5h0.9v0.9h-0.9zM34.4 218.2h0.9v0.9h-0.9zM32.9 219.1h0.9v0.9h-0.9zM59.6 219.7h0.9v0.9h-0.9zM40.2 218.3h0.9v0.9h-0.9zM48.2 219.8h0.9v0.9h-0.9zM35.1 219.5h0.9v0.9h-0.9zM40.0 217.8h0.9v0.9h-0.9zM44.9 219.3h0.9v0.9h-0.9zM37.7 219.8h0.9v0.9h-0.9zM38.3 218.6h0.9v0.9h-0.9zM42.3 219.3h0.9v0.9h-0.9zM40.2 218.7h0.9v0.9h-0.9zM50.0 218.0h0.9v0.9h-0.9zM47.1 219.2h0.9v0.9h-0.9zM46.2 218.7h0.9v0.9h-0.9zM56.6 218.7h0.9v0.9h-0.9zM37.8 219.6h0.9v0.9h-0.9zM47.8 219.9h0.9v0.9h-0.9zM50.2 218.8h0.9v0.9h-0.9zM50.2 218.9h0.9v0.9h-0.9zM47.8 219.9h0.9v0.9h-0.9zM49.2 219.7h0.9v0.9h-0.9zM45.3 218.4h0.9v0.9h-0.9zM51.3 219.1h0.9v0.9h-0.9zM59.8 219.1h0.9v0.9h-0.9zM52.9 219.4h0.9v0.9h-0.9zM44.0 218.8h0.9v0.9h-0.9zM41.7 217.9h0.9v0.9h-0.9zM57.4 219.3h0.9v0.9h-0.9zM40.2 219.2h0.9v0.9h-0.9zM42.8 219.6h0.9v0.9h-0.9zM58.2 219.2h0.9v0.9h-0.9zM54.3 219.2h0.9v0.9h-0.9zM36.2 219.5h0.9v0.9h-0.9zM37.6 219.4h0.9v0.9h-0.9zM48.9 218.0h0.9v0.9h-0.9zM58.4 218.8h0.9v0.9h-0.9zM57.8 218.9h0.9v0.9h-0.9zM52.8 219.0h0.9v0.9h-0.9zM37.2 217.2h0.9v0.9h-0.9zM53.7 219.0h0.9v0.9h-0.9zM48.6 217.9h0.9v0.9h-0.9z" fill="#c81e2a"/>
<line x1="13.90" y1="220.56" x2="92.70" y2="220.56" stroke="#777" stroke-width="0.45" />
<line x1="13.90" y1="224.64" x2="92.70" y2="224.64" stroke="#777" stroke-width="0.45" />
<line x1="25.90" y1="196.90" x2="25.90" y2="249.60" stroke="#8a8a8a" stroke-width="0.5" />
<rect x="13.90" y="196.90" width="78.80" height="52.70" fill="none" stroke="#777" stroke-width="0.6" />
<text x="12.90" y="198.53" font-size="5.3" text-anchor="end" fill="#222" stroke="#222" stroke-width="0.1" >6</text>
<text x="12.90" y="207.19" font-size="5.3" text-anchor="end" fill="#222" stroke="#222" stroke-width="0.1" >4</text>
<text x="12.90" y="215.85" font-size="5.3" text-anchor="end" fill="#222" stroke="#222" stroke-width="0.1" >2</text>
<text x="12.90" y="224.51" font-size="5.3" text-anchor="end" fill="#222" stroke="#222" stroke-width="0.1" >0</text>
<text x="12.90" y="233.17" font-size="5.3" text-anchor="end" fill="#222" stroke="#222" stroke-width="0.1" >-2</text>
<text x="12.90" y="241.83" font-size="5.3" text-anchor="end" fill="#222" stroke="#222" stroke-width="0.1" >-4</text>
<text x="12.90" y="250.49" font-size="5.3" text-anchor="end" fill="#222" stroke="#222" stroke-width="0.1" >-6</text>
<text x="25.90" y="254.51" font-size="5.3" text-anchor="middle" fill="#222" stroke="#222" stroke-width="0.1" >0</text>
<text x="47.55" y="254.51" font-size="5.3" text-anchor="middle" fill="#222" stroke="#222" stroke-width="0.1" >5</text>
<text x="69.20" y="254.51" font-size="5.3" text-anchor="middle" fill="#222" stroke="#222" stroke-width="0.1" >10</text>
<text x="90.85" y="254.51" font-size="5.3" text-anchor="middle" fill="#222" stroke="#222" stroke-width="0.1" >15</text>
<text x="57.30" y="258.82" font-size="5.62" text-anchor="middle" fill="#222" stroke="#222" stroke-width="0.1" >Log2 (Average)</text>
<text x="6.00" y="222.82" font-size="5.62" text-anchor="middle" fill="#222" stroke="#222" stroke-width="0.1"  transform="rotate(-90 6.00 220.80)">Log2 (Fold Change)</text>
<line x1="21.00" y1="215.00" x2="24.00" y2="218.00" stroke="#78a8b4" stroke-width="0.4" />
<line x1="40.00" y1="209.50" x2="41.00" y2="217.00" stroke="#78a8b4" stroke-width="0.4" />
<line x1="51.00" y1="214.00" x2="47.00" y2="219.00" stroke="#78a8b4" stroke-width="0.4" />
<line x1="66.00" y1="217.00" x2="60.00" y2="221.00" stroke="#78a8b4" stroke-width="0.4" />
<line x1="66.00" y1="231.50" x2="61.00" y2="225.00" stroke="#78a8b4" stroke-width="0.4" />
<line x1="53.00" y1="234.00" x2="49.00" y2="226.00" stroke="#78a8b4" stroke-width="0.4" />
<line x1="45.00" y1="241.00" x2="45.00" y2="227.00" stroke="#78a8b4" stroke-width="0.4" />
<line x1="36.00" y1="235.50" x2="37.00" y2="227.00" stroke="#78a8b4" stroke-width="0.4" />
<line x1="30.00" y1="245.00" x2="32.00" y2="228.00" stroke="#78a8b4" stroke-width="0.4" />
<text x="15.90" y="216.11" font-size="5.3" text-anchor="start" fill="#e33b4b" stroke="#e33b4b" stroke-width="0.1" font-style="italic" >Ifi3</text>
<text x="34.90" y="209.51" font-size="5.3" text-anchor="start" fill="#e33b4b" stroke="#e33b4b" stroke-width="0.1" font-style="italic" >Ifi204</text>
<text x="50.60" y="214.11" font-size="5.3" text-anchor="start" fill="#e33b4b" stroke="#e33b4b" stroke-width="0.1" font-style="italic" >Zbp1</text>
<text x="66.70" y="218.21" font-size="5.3" text-anchor="start" fill="#e33b4b" stroke="#e33b4b" stroke-width="0.1" font-style="italic" >Ifi27</text>
<text x="65.70" y="235.21" font-size="5.3" text-anchor="start" fill="#e33b4b" stroke="#e33b4b" stroke-width="0.1" font-style="italic" >Ifi27l2a</text>
<text x="50.00" y="237.71" font-size="5.3" text-anchor="start" fill="#e33b4b" stroke="#e33b4b" stroke-width="0.1" font-style="italic" >Ccl5</text>
<text x="42.40" y="244.61" font-size="5.3" text-anchor="start" fill="#e33b4b" stroke="#e33b4b" stroke-width="0.1" font-style="italic" >Isg15</text>
<text x="33.80" y="239.41" font-size="5.3" text-anchor="start" fill="#e33b4b" stroke="#e33b4b" stroke-width="0.1" font-style="italic" >Ifit1</text>
<text x="26.00" y="248.91" font-size="5.3" text-anchor="start" fill="#e33b4b" stroke="#e33b4b" stroke-width="0.1" font-style="italic" >Rsad2</text>
<text x="153.30" y="195.17" font-size="6.04" text-anchor="middle" fill="#222" stroke="#222" stroke-width="0.1" >Control vs sg<tspan font-style="italic">Scd2</tspan>/sg<tspan font-style="italic">Irf9</tspan></text>
<path d="M159.9 222.3h0.8v0.8h-0.8zM175.8 224.4h0.8v0.8h-0.8zM140.7 221.9h0.8v0.8h-0.8zM139.2 224.2h0.8v0.8h-0.8zM130.2 222.9h0.8v0.8h-0.8zM152.5 223.2h0.8v0.8h-0.8zM143.6 220.8h0.8v0.8h-0.8zM140.5 221.5h0.8v0.8h-0.8zM173.0 221.8h0.8v0.8h-0.8zM168.7 220.8h0.8v0.8h-0.8zM176.8 223.7h0.8v0.8h-0.8zM147.2 220.8h0.8v0.8h-0.8zM152.3 223.0h0.8v0.8h-0.8zM170.1 221.5h0.8v0.8h-0.8zM165.8 222.4h0.8v0.8h-0.8zM158.4 222.8h0.8v0.8h-0.8zM137.9 220.8h0.8v0.8h-0.8zM168.8 220.8h0.8v0.8h-0.8zM130.1 224.2h0.8v0.8h-0.8zM152.0 222.0h0.8v0.8h-0.8zM151.5 222.4h0.8v0.8h-0.8zM179.0 220.8h0.8v0.8h-0.8zM159.0 223.6h0.8v0.8h-0.8zM179.4 223.7h0.8v0.8h-0.8zM134.7 223.3h0.8v0.8h-0.8zM132.6 223.1h0.8v0.8h-0.8zM137.9 222.1h0.8v0.8h-0.8zM164.3 221.3h0.8v0.8h-0.8zM146.1 222.1h0.8v0.8h-0.8zM141.4 222.8h0.8v0.8h-0.8zM140.0 224.4h0.8v0.8h-0.8zM153.6 222.7h0.8v0.8h-0.8zM153.9 223.7h0.8v0.8h-0.8zM130.1 220.8h0.8v0.8h-0.8zM142.4 223.3h0.8v0.8h-0.8zM159.9 223.7h0.8v0.8h-0.8zM129.3 221.9h0.8v0.8h-0.8zM167.4 221.9h0.8v0.8h-0.8zM172.5 221.6h0.8v0.8h-0.8zM167.5 224.2h0.8v0.8h-0.8zM171.9 223.1h0.8v0.8h-0.8zM169.1 224.0h0.8v0.8h-0.8zM133.9 221.6h0.8v0.8h-0.8zM143.7 224.4h0.8v0.8h-0.8zM142.1 222.1h0.8v0.8h-0.8zM159.8 222.6h0.8v0.8h-0.8zM140.5 223.9h0.8v0.8h-0.8zM142.7 220.8h0.8v0.8h-0.8zM137.2 222.4h0.8v0.8h-0.8zM128.3 223.4h0.8v0.8h-0.8zM178.9 221.3h0.8v0.8h-0.8zM179.2 222.1h0.8v0.8h-0.8zM161.7 221.1h0.8v0.8h-0.8zM140.3 224.1h0.8v0.8h-0.8zM143.9 220.8h0.8v0.8h-0.8zM151.1 223.2h0.8v0.8h-0.8zM166.3 223.4h0.8v0.8h-0.8zM176.2 222.9h0.8v0.8h-0.8zM134.7 220.8h0.8v0.8h-0.8zM177.4 221.6h0.8v0.8h-0.8zM131.3 224.0h0.8v0.8h-0.8zM178.8 222.6h0.8v0.8h-0.8zM145.6 220.8h0.8v0.8h-0.8zM154.8 222.7h0.8v0.8h-0.8zM139.8 222.9h0.8v0.8h-0.8zM148.9 224.4h0.8v0.8h-0.8zM130.3 223.9h0.8v0.8h-0.8zM127.9 223.4h0.8v0.8h-0.8zM158.3 221.4h0.8v0.8h-0.8zM128.3 222.2h0.8v0.8h-0.8zM172.6 220.9h0.8v0.8h-0.8zM156.6 220.8h0.8v0.8h-0.8zM128.7 223.2h0.8v0.8h-0.8zM170.9 222.2h0.8v0.8h-0.8zM178.9 224.4h0.8v0.8h-0.8zM174.8 222.7h0.8v0.8h-0.8zM177.8 223.4h0.8v0.8h-0.8zM161.1 222.4h0.8v0.8h-0.8zM145.0 224.2h0.8v0.8h-0.8zM129.4 221.0h0.8v0.8h-0.8zM130.6 222.1h0.8v0.8h-0.8zM144.1 223.2h0.8v0.8h-0.8zM134.4 221.9h0.8v0.8h-0.8zM128.4 222.0h0.8v0.8h-0.8zM142.9 221.4h0.8v0.8h-0.8zM129.9 222.8h0.8v0.8h-0.8zM139.2 224.2h0.8v0.8h-0.8zM135.7 221.7h0.8v0.8h-0.8zM159.9 221.8h0.8v0.8h-0.8zM167.3 223.9h0.8v0.8h-0.8zM141.9 220.8h0.8v0.8h-0.8zM162.5 221.9h0.8v0.8h-0.8zM132.0 222.8h0.8v0.8h-0.8zM134.5 223.0h0.8v0.8h-0.8zM168.0 222.6h0.8v0.8h-0.8zM176.8 222.3h0.8v0.8h-0.8zM147.8 224.3h0.8v0.8h-0.8zM131.0 222.8h0.8v0.8h-0.8zM169.9 223.1h0.8v0.8h-0.8zM133.0 221.9h0.8v0.8h-0.8zM162.4 222.7h0.8v0.8h-0.8zM168.5 222.2h0.8v0.8h-0.8zM156.2 221.7h0.8v0.8h-0.8zM160.9 222.6h0.8v0.8h-0.8zM157.7 222.3h0.8v0.8h-0.8zM162.0 221.8h0.8v0.8h-0.8zM144.0 221.4h0.8v0.8h-0.8zM172.2 223.3h0.8v0.8h-0.8zM158.2 222.1h0.8v0.8h-0.8zM138.9 222.1h0.8v0.8h-0.8zM139.5 222.1h0.8v0.8h-0.8zM147.7 221.1h0.8v0.8h-0.8zM142.3 221.6h0.8v0.8h-0.8zM157.4 222.9h0.8v0.8h-0.8zM175.0 222.5h0.8v0.8h-0.8zM152.9 223.1h0.8v0.8h-0.8zM178.5 221.3h0.8v0.8h-0.8zM166.0 222.1h0.8v0.8h-0.8zM140.3 223.1h0.8v0.8h-0.8zM130.2 223.8h0.8v0.8h-0.8zM167.0 224.4h0.8v0.8h-0.8zM146.1 222.5h0.8v0.8h-0.8zM134.3 222.0h0.8v0.8h-0.8zM174.3 223.1h0.8v0.8h-0.8zM137.3 223.9h0.8v0.8h-0.8zM138.2 220.8h0.8v0.8h-0.8zM146.5 220.8h0.8v0.8h-0.8zM168.9 224.2h0.8v0.8h-0.8zM148.3 221.4h0.8v0.8h-0.8zM178.4 223.8h0.8v0.8h-0.8zM170.9 222.0h0.8v0.8h-0.8zM156.2 221.6h0.8v0.8h-0.8zM128.4 222.5h0.8v0.8h-0.8zM177.7 221.6h0.8v0.8h-0.8zM179.1 222.4h0.8v0.8h-0.8zM162.2 220.8h0.8v0.8h-0.8zM146.4 220.9h0.8v0.8h-0.8zM129.9 222.3h0.8v0.8h-0.8zM145.0 224.0h0.8v0.8h-0.8zM162.4 223.4h0.8v0.8h-0.8zM169.3 220.8h0.8v0.8h-0.8zM132.9 224.1h0.8v0.8h-0.8zM132.3 222.7h0.8v0.8h-0.8zM146.3 223.7h0.8v0.8h-0.8zM177.3 220.8h0.8v0.8h-0.8zM165.3 221.5h0.8v0.8h-0.8zM155.7 222.6h0.8v0.8h-0.8zM145.9 221.0h0.8v0.8h-0.8zM176.0 222.2h0.8v0.8h-0.8zM134.5 223.2h0.8v0.8h-0.8zM178.7 223.4h0.8v0.8h-0.8zM169.2 221.7h0.8v0.8h-0.8zM172.1 220.8h0.8v0.8h-0.8zM169.1 220.8h0.8v0.8h-0.8zM177.7 220.8h0.8v0.8h-0.8zM167.4 223.3h0.8v0.8h-0.8zM168.5 223.1h0.8v0.8h-0.8zM175.1 223.1h0.8v0.8h-0.8zM140.5 220.8h0.8v0.8h-0.8zM153.6 220.8h0.8v0.8h-0.8zM133.5 222.5h0.8v0.8h-0.8zM175.6 223.4h0.8v0.8h-0.8zM179.7 221.9h0.8v0.8h-0.8zM173.3 222.3h0.8v0.8h-0.8zM154.5 223.6h0.8v0.8h-0.8zM164.4 222.6h0.8v0.8h-0.8zM135.0 221.4h0.8v0.8h-0.8zM169.7 221.1h0.8v0.8h-0.8zM168.2 222.8h0.8v0.8h-0.8zM165.6 224.0h0.8v0.8h-0.8zM175.2 223.3h0.8v0.8h-0.8zM160.2 222.5h0.8v0.8h-0.8zM132.4 220.8h0.8v0.8h-0.8zM164.2 223.7h0.8v0.8h-0.8zM174.3 222.0h0.8v0.8h-0.8zM174.8 222.4h0.8v0.8h-0.8zM178.2 223.5h0.8v0.8h-0.8zM168.8 223.4h0.8v0.8h-0.8zM166.5 222.2h0.8v0.8h-0.8zM133.9 222.9h0.8v0.8h-0.8zM130.2 223.6h0.8v0.8h-0.8zM173.3 220.8h0.8v0.8h-0.8zM178.0 223.4h0.8v0.8h-0.8zM130.2 222.8h0.8v0.8h-0.8zM136.3 223.8h0.8v0.8h-0.8zM178.8 221.8h0.8v0.8h-0.8zM176.8 222.0h0.8v0.8h-0.8zM150.1 222.4h0.8v0.8h-0.8zM143.6 221.1h0.8v0.8h-0.8zM140.0 222.3h0.8v0.8h-0.8zM170.0 222.8h0.8v0.8h-0.8zM135.0 220.8h0.8v0.8h-0.8zM149.8 222.9h0.8v0.8h-0.8zM131.9 223.3h0.8v0.8h-0.8zM133.3 224.3h0.8v0.8h-0.8zM150.0 222.7h0.8v0.8h-0.8zM131.8 223.3h0.8v0.8h-0.8zM174.5 223.2h0.8v0.8h-0.8zM132.4 223.1h0.8v0.8h-0.8zM163.4 220.8h0.8v0.8h-0.8zM174.9 222.9h0.8v0.8h-0.8zM137.9 221.8h0.8v0.8h-0.8zM134.8 221.6h0.8v0.8h-0.8zM146.3 223.1h0.8v0.8h-0.8zM168.6 223.1h0.8v0.8h-0.8zM172.1 222.9h0.8v0.8h-0.8zM153.9 221.9h0.8v0.8h-0.8zM137.3 222.6h0.8v0.8h-0.8zM127.3 221.4h0.8v0.8h-0.8zM155.2 220.8h0.8v0.8h-0.8zM166.3 223.8h0.8v0.8h-0.8zM128.1 221.5h0.8v0.8h-0.8zM166.0 223.2h0.8v0.8h-0.8zM130.2 223.2h0.8v0.8h-0.8zM173.5 223.1h0.8v0.8h-0.8zM146.6 222.0h0.8v0.8h-0.8zM140.4 222.0h0.8v0.8h-0.8zM165.6 224.0h0.8v0.8h-0.8zM159.0 220.9h0.8v0.8h-0.8zM130.2 221.0h0.8v0.8h-0.8zM178.5 220.8h0.8v0.8h-0.8zM140.1 224.1h0.8v0.8h-0.8zM177.1 222.7h0.8v0.8h-0.8zM169.2 221.5h0.8v0.8h-0.8zM161.8 221.3h0.8v0.8h-0.8zM145.1 223.2h0.8v0.8h-0.8zM143.6 223.3h0.8v0.8h-0.8zM158.0 223.1h0.8v0.8h-0.8zM155.7 224.3h0.8v0.8h-0.8zM131.9 221.9h0.8v0.8h-0.8zM136.1 223.3h0.8v0.8h-0.8zM153.9 222.5h0.8v0.8h-0.8zM141.0 222.4h0.8v0.8h-0.8zM133.7 221.4h0.8v0.8h-0.8zM166.8 221.4h0.8v0.8h-0.8zM152.2 220.8h0.8v0.8h-0.8zM139.2 222.3h0.8v0.8h-0.8zM164.4 223.7h0.8v0.8h-0.8zM139.2 223.2h0.8v0.8h-0.8zM160.7 222.4h0.8v0.8h-0.8zM161.9 223.3h0.8v0.8h-0.8zM129.9 221.8h0.8v0.8h-0.8zM138.7 221.4h0.8v0.8h-0.8zM137.8 223.3h0.8v0.8h-0.8zM176.2 224.4h0.8v0.8h-0.8zM128.2 222.5h0.8v0.8h-0.8zM161.6 222.0h0.8v0.8h-0.8zM127.5 222.8h0.8v0.8h-0.8zM173.4 221.3h0.8v0.8h-0.8zM147.6 222.8h0.8v0.8h-0.8zM176.6 223.7h0.8v0.8h-0.8zM143.8 222.0h0.8v0.8h-0.8zM169.7 222.2h0.8v0.8h-0.8zM142.0 224.4h0.8v0.8h-0.8zM150.5 223.9h0.8v0.8h-0.8zM162.5 223.6h0.8v0.8h-0.8zM156.2 223.3h0.8v0.8h-0.8zM143.7 221.9h0.8v0.8h-0.8zM153.9 221.3h0.8v0.8h-0.8zM139.9 223.7h0.8v0.8h-0.8zM145.7 223.3h0.8v0.8h-0.8zM175.3 220.8h0.8v0.8h-0.8zM178.8 223.6h0.8v0.8h-0.8zM164.9 223.5h0.8v0.8h-0.8zM135.6 222.7h0.8v0.8h-0.8zM145.2 224.4h0.8v0.8h-0.8zM152.5 222.3h0.8v0.8h-0.8zM173.8 220.8h0.8v0.8h-0.8zM136.3 220.8h0.8v0.8h-0.8zM169.4 221.4h0.8v0.8h-0.8zM164.3 222.5h0.8v0.8h-0.8zM175.5 221.8h0.8v0.8h-0.8zM171.7 223.4h0.8v0.8h-0.8zM170.7 223.3h0.8v0.8h-0.8zM173.1 222.9h0.8v0.8h-0.8zM165.4 221.9h0.8v0.8h-0.8zM157.0 223.8h0.8v0.8h-0.8zM140.4 221.9h0.8v0.8h-0.8zM145.2 223.5h0.8v0.8h-0.8zM144.4 221.9h0.8v0.8h-0.8zM177.6 223.5h0.8v0.8h-0.8zM128.8 222.6h0.8v0.8h-0.8zM154.1 224.4h0.8v0.8h-0.8zM134.2 224.2h0.8v0.8h-0.8zM176.3 221.2h0.8v0.8h-0.8zM134.0 222.8h0.8v0.8h-0.8zM156.8 224.2h0.8v0.8h-0.8zM128.5 222.5h0.8v0.8h-0.8zM147.4 221.6h0.8v0.8h-0.8zM164.2 222.2h0.8v0.8h-0.8zM133.5 223.6h0.8v0.8h-0.8zM154.3 224.4h0.8v0.8h-0.8zM149.4 221.6h0.8v0.8h-0.8zM143.2 224.4h0.8v0.8h-0.8zM138.5 221.3h0.8v0.8h-0.8zM162.7 221.1h0.8v0.8h-0.8zM128.1 222.5h0.8v0.8h-0.8zM172.4 224.4h0.8v0.8h-0.8zM166.7 222.4h0.8v0.8h-0.8zM133.0 223.1h0.8v0.8h-0.8zM148.9 223.7h0.8v0.8h-0.8zM161.6 221.9h0.8v0.8h-0.8zM168.0 222.5h0.8v0.8h-0.8zM132.2 223.7h0.8v0.8h-0.8zM147.5 220.8h0.8v0.8h-0.8zM173.6 222.0h0.8v0.8h-0.8zM130.1 223.6h0.8v0.8h-0.8zM165.5 223.6h0.8v0.8h-0.8zM131.9 223.0h0.8v0.8h-0.8zM163.9 223.3h0.8v0.8h-0.8zM161.7 222.5h0.8v0.8h-0.8zM172.1 222.7h0.8v0.8h-0.8zM131.2 221.8h0.8v0.8h-0.8zM159.2 223.3h0.8v0.8h-0.8zM175.0 222.0h0.8v0.8h-0.8zM164.1 222.2h0.8v0.8h-0.8zM167.5 223.9h0.8v0.8h-0.8zM154.3 221.9h0.8v0.8h-0.8zM172.2 223.3h0.8v0.8h-0.8zM151.5 222.9h0.8v0.8h-0.8zM144.9 221.9h0.8v0.8h-0.8zM174.3 223.1h0.8v0.8h-0.8zM146.7 222.7h0.8v0.8h-0.8zM164.0 223.0h0.8v0.8h-0.8zM148.1 223.1h0.8v0.8h-0.8zM145.7 222.0h0.8v0.8h-0.8zM169.4 223.3h0.8v0.8h-0.8zM154.4 223.0h0.8v0.8h-0.8zM140.2 224.4h0.8v0.8h-0.8zM152.0 222.4h0.8v0.8h-0.8zM157.6 223.2h0.8v0.8h-0.8zM164.4 221.9h0.8v0.8h-0.8zM169.6 221.6h0.8v0.8h-0.8zM174.5 224.4h0.8v0.8h-0.8zM169.4 224.2h0.8v0.8h-0.8zM156.8 223.4h0.8v0.8h-0.8zM174.3 221.7h0.8v0.8h-0.8zM127.2 223.9h0.8v0.8h-0.8zM177.0 221.3h0.8v0.8h-0.8zM177.5 221.3h0.8v0.8h-0.8zM163.2 222.6h0.8v0.8h-0.8zM143.9 222.4h0.8v0.8h-0.8zM169.5 221.9h0.8v0.8h-0.8zM160.1 222.7h0.8v0.8h-0.8zM156.6 221.8h0.8v0.8h-0.8zM135.9 223.1h0.8v0.8h-0.8zM130.8 223.9h0.8v0.8h-0.8zM173.4 222.4h0.8v0.8h-0.8zM165.9 224.1h0.8v0.8h-0.8zM130.8 222.1h0.8v0.8h-0.8zM133.2 224.4h0.8v0.8h-0.8zM173.0 221.8h0.8v0.8h-0.8zM178.0 223.2h0.8v0.8h-0.8zM146.9 223.0h0.8v0.8h-0.8zM179.9 223.3h0.8v0.8h-0.8zM152.0 221.6h0.8v0.8h-0.8zM175.0 222.7h0.8v0.8h-0.8zM135.7 221.7h0.8v0.8h-0.8zM141.4 223.6h0.8v0.8h-0.8zM171.1 222.1h0.8v0.8h-0.8zM160.1 220.9h0.8v0.8h-0.8zM127.8 221.8h0.8v0.8h-0.8zM165.2 222.7h0.8v0.8h-0.8zM161.4 222.3h0.8v0.8h-0.8zM176.0 221.9h0.8v0.8h-0.8zM165.8 223.3h0.8v0.8h-0.8zM164.3 221.0h0.8v0.8h-0.8zM139.4 221.8h0.8v0.8h-0.8zM158.3 222.6h0.8v0.8h-0.8zM129.9 221.8h0.8v0.8h-0.8zM148.0 221.3h0.8v0.8h-0.8zM144.0 222.7h0.8v0.8h-0.8zM163.6 222.1h0.8v0.8h-0.8zM136.3 220.8h0.8v0.8h-0.8zM175.8 222.5h0.8v0.8h-0.8zM160.9 222.3h0.8v0.8h-0.8zM132.0 221.4h0.8v0.8h-0.8zM177.8 222.4h0.8v0.8h-0.8zM155.8 223.4h0.8v0.8h-0.8zM152.9 222.9h0.8v0.8h-0.8zM174.0 222.9h0.8v0.8h-0.8zM132.2 223.6h0.8v0.8h-0.8zM133.1 222.0h0.8v0.8h-0.8zM145.5 222.7h0.8v0.8h-0.8zM176.1 222.0h0.8v0.8h-0.8zM148.6 223.6h0.8v0.8h-0.8zM172.0 220.8h0.8v0.8h-0.8zM142.4 222.6h0.8v0.8h-0.8zM133.8 222.0h0.8v0.8h-0.8zM136.8 221.1h0.8v0.8h-0.8zM133.6 220.9h0.8v0.8h-0.8zM179.8 222.8h0.8v0.8h-0.8zM141.9 222.7h0.8v0.8h-0.8zM157.2 222.1h0.8v0.8h-0.8zM175.0 223.4h0.8v0.8h-0.8zM135.5 222.0h0.8v0.8h-0.8zM172.9 221.8h0.8v0.8h-0.8zM170.3 222.5h0.8v0.8h-0.8zM165.6 221.3h0.8v0.8h-0.8zM132.0 222.1h0.8v0.8h-0.8zM176.6 223.8h0.8v0.8h-0.8zM129.1 221.0h0.8v0.8h-0.8zM151.6 224.3h0.8v0.8h-0.8zM148.3 221.7h0.8v0.8h-0.8zM176.0 222.8h0.8v0.8h-0.8zM155.5 223.4h0.8v0.8h-0.8zM172.3 222.0h0.8v0.8h-0.8zM174.3 221.7h0.8v0.8h-0.8zM157.1 221.7h0.8v0.8h-0.8zM141.7 221.7h0.8v0.8h-0.8zM155.8 221.3h0.8v0.8h-0.8zM146.9 223.3h0.8v0.8h-0.8zM156.7 222.9h0.8v0.8h-0.8zM135.6 220.8h0.8v0.8h-0.8zM140.3 223.3h0.8v0.8h-0.8zM133.6 222.8h0.8v0.8h-0.8zM150.4 221.9h0.8v0.8h-0.8zM137.9 222.1h0.8v0.8h-0.8zM140.5 223.2h0.8v0.8h-0.8zM158.2 222.4h0.8v0.8h-0.8zM151.4 221.8h0.8v0.8h-0.8zM144.1 224.4h0.8v0.8h-0.8zM178.7 222.6h0.8v0.8h-0.8zM176.4 222.8h0.8v0.8h-0.8zM177.1 224.4h0.8v0.8h-0.8zM129.7 223.6h0.8v0.8h-0.8zM179.8 220.8h0.8v0.8h-0.8zM153.3 222.9h0.8v0.8h-0.8zM141.0 223.6h0.8v0.8h-0.8zM173.7 222.1h0.8v0.8h-0.8zM175.0 222.6h0.8v0.8h-0.8zM150.9 222.8h0.8v0.8h-0.8zM127.7 224.0h0.8v0.8h-0.8zM139.7 223.7h0.8v0.8h-0.8zM158.9 221.3h0.8v0.8h-0.8zM128.5 222.6h0.8v0.8h-0.8zM138.1 224.0h0.8v0.8h-0.8zM129.3 221.2h0.8v0.8h-0.8zM167.9 221.7h0.8v0.8h-0.8zM136.3 220.8h0.8v0.8h-0.8zM141.8 220.8h0.8v0.8h-0.8zM140.1 223.9h0.8v0.8h-0.8zM137.4 223.4h0.8v0.8h-0.8zM127.7 222.5h0.8v0.8h-0.8zM133.8 222.3h0.8v0.8h-0.8zM145.9 222.9h0.8v0.8h-0.8zM175.5 222.4h0.8v0.8h-0.8zM143.8 221.6h0.8v0.8h-0.8zM134.5 223.4h0.8v0.8h-0.8zM128.9 221.9h0.8v0.8h-0.8zM131.0 221.7h0.8v0.8h-0.8zM165.0 221.7h0.8v0.8h-0.8zM137.8 221.0h0.8v0.8h-0.8zM164.0 221.3h0.8v0.8h-0.8zM153.0 221.4h0.8v0.8h-0.8zM157.4 223.2h0.8v0.8h-0.8zM134.6 220.8h0.8v0.8h-0.8zM175.4 221.6h0.8v0.8h-0.8zM146.8 222.6h0.8v0.8h-0.8zM179.9 223.4h0.8v0.8h-0.8zM172.4 224.4h0.8v0.8h-0.8zM167.5 222.1h0.8v0.8h-0.8zM154.2 223.8h0.8v0.8h-0.8zM146.4 222.1h0.8v0.8h-0.8zM132.0 222.0h0.8v0.8h-0.8zM163.9 222.7h0.8v0.8h-0.8zM136.3 221.5h0.8v0.8h-0.8zM159.6 223.2h0.8v0.8h-0.8zM151.1 223.3h0.8v0.8h-0.8zM150.9 222.2h0.8v0.8h-0.8zM173.6 222.5h0.8v0.8h-0.8zM144.5 221.7h0.8v0.8h-0.8zM145.1 223.7h0.8v0.8h-0.8zM139.8 223.2h0.8v0.8h-0.8zM160.1 221.7h0.8v0.8h-0.8zM138.8 223.0h0.8v0.8h-0.8zM177.5 222.7h0.8v0.8h-0.8zM175.8 222.2h0.8v0.8h-0.8zM157.5 223.6h0.8v0.8h-0.8zM136.4 224.4h0.8v0.8h-0.8zM166.2 222.2h0.8v0.8h-0.8zM141.5 223.3h0.8v0.8h-0.8zM162.2 222.0h0.8v0.8h-0.8zM149.0 222.6h0.8v0.8h-0.8zM166.2 222.1h0.8v0.8h-0.8zM142.2 224.4h0.8v0.8h-0.8zM175.6 223.9h0.8v0.8h-0.8zM162.1 221.6h0.8v0.8h-0.8zM133.4 222.6h0.8v0.8h-0.8zM147.1 223.5h0.8v0.8h-0.8zM150.2 223.2h0.8v0.8h-0.8zM147.0 221.8h0.8v0.8h-0.8zM177.2 222.3h0.8v0.8h-0.8zM169.7 223.9h0.8v0.8h-0.8zM173.7 224.4h0.8v0.8h-0.8zM146.2 223.3h0.8v0.8h-0.8zM156.2 220.8h0.8v0.8h-0.8zM157.6 223.9h0.8v0.8h-0.8zM169.0 224.0h0.8v0.8h-0.8zM175.4 223.3h0.8v0.8h-0.8zM161.0 221.0h0.8v0.8h-0.8zM132.4 223.6h0.8v0.8h-0.8zM173.4 222.9h0.8v0.8h-0.8zM173.0 222.0h0.8v0.8h-0.8zM172.3 222.5h0.8v0.8h-0.8zM148.5 223.3h0.8v0.8h-0.8zM153.8 223.8h0.8v0.8h-0.8zM173.8 221.9h0.8v0.8h-0.8zM165.9 221.8h0.8v0.8h-0.8zM144.3 221.3h0.8v0.8h-0.8zM129.6 221.5h0.8v0.8h-0.8zM131.6 224.4h0.8v0.8h-0.8zM175.0 223.9h0.8v0.8h-0.8zM160.1 223.7h0.8v0.8h-0.8zM132.3 221.9h0.8v0.8h-0.8zM142.7 222.7h0.8v0.8h-0.8zM157.2 223.1h0.8v0.8h-0.8zM154.3 222.4h0.8v0.8h-0.8zM172.7 220.8h0.8v0.8h-0.8zM131.9 223.1h0.8v0.8h-0.8zM150.8 221.5h0.8v0.8h-0.8zM166.0 224.0h0.8v0.8h-0.8zM154.9 223.6h0.8v0.8h-0.8zM161.8 222.1h0.8v0.8h-0.8zM167.8 223.8h0.8v0.8h-0.8zM147.1 223.5h0.8v0.8h-0.8zM175.9 223.0h0.8v0.8h-0.8zM162.3 223.1h0.8v0.8h-0.8zM175.7 221.8h0.8v0.8h-0.8zM164.6 224.0h0.8v0.8h-0.8zM172.9 223.8h0.8v0.8h-0.8zM136.1 223.1h0.8v0.8h-0.8zM176.4 222.5h0.8v0.8h-0.8zM144.3 223.1h0.8v0.8h-0.8zM131.5 221.8h0.8v0.8h-0.8zM158.2 221.7h0.8v0.8h-0.8zM139.8 220.8h0.8v0.8h-0.8zM133.1 222.1h0.8v0.8h-0.8zM154.1 221.6h0.8v0.8h-0.8zM170.3 223.9h0.8v0.8h-0.8zM173.3 221.4h0.8v0.8h-0.8zM168.4 222.5h0.8v0.8h-0.8zM175.3 221.5h0.8v0.8h-0.8zM128.3 222.7h0.8v0.8h-0.8zM137.0 221.7h0.8v0.8h-0.8zM136.8 222.1h0.8v0.8h-0.8zM157.1 222.9h0.8v0.8h-0.8zM170.0 223.7h0.8v0.8h-0.8zM163.0 222.7h0.8v0.8h-0.8zM170.3 220.8h0.8v0.8h-0.8zM141.1 224.4h0.8v0.8h-0.8zM175.0 221.2h0.8v0.8h-0.8zM128.8 223.3h0.8v0.8h-0.8zM178.8 221.4h0.8v0.8h-0.8zM146.1 223.2h0.8v0.8h-0.8zM152.8 223.8h0.8v0.8h-0.8zM136.7 222.0h0.8v0.8h-0.8zM146.3 223.7h0.8v0.8h-0.8zM166.5 221.6h0.8v0.8h-0.8zM163.5 223.9h0.8v0.8h-0.8zM162.4 222.4h0.8v0.8h-0.8zM158.6 222.8h0.8v0.8h-0.8zM127.2 223.7h0.8v0.8h-0.8zM159.4 221.8h0.8v0.8h-0.8zM150.0 222.0h0.8v0.8h-0.8zM153.1 222.7h0.8v0.8h-0.8zM133.8 222.1h0.8v0.8h-0.8zM167.3 221.8h0.8v0.8h-0.8zM127.4 222.1h0.8v0.8h-0.8zM144.6 224.0h0.8v0.8h-0.8zM133.5 223.7h0.8v0.8h-0.8zM163.8 223.6h0.8v0.8h-0.8zM138.5 223.6h0.8v0.8h-0.8zM164.1 222.7h0.8v0.8h-0.8zM170.4 223.2h0.8v0.8h-0.8zM169.6 222.4h0.8v0.8h-0.8zM155.3 223.8h0.8v0.8h-0.8zM139.2 222.4h0.8v0.8h-0.8zM177.1 223.0h0.8v0.8h-0.8zM171.4 223.8h0.8v0.8h-0.8zM173.6 224.0h0.8v0.8h-0.8zM171.1 221.3h0.8v0.8h-0.8zM170.1 220.8h0.8v0.8h-0.8zM141.3 223.3h0.8v0.8h-0.8zM151.7 221.4h0.8v0.8h-0.8zM158.0 224.4h0.8v0.8h-0.8zM134.8 220.9h0.8v0.8h-0.8zM178.7 222.9h0.8v0.8h-0.8zM166.5 221.8h0.8v0.8h-0.8zM145.2 221.4h0.8v0.8h-0.8zM145.7 221.3h0.8v0.8h-0.8zM148.7 222.9h0.8v0.8h-0.8zM150.1 222.4h0.8v0.8h-0.8zM144.6 221.5h0.8v0.8h-0.8zM166.5 222.7h0.8v0.8h-0.8zM144.9 222.9h0.8v0.8h-0.8zM153.7 222.6h0.8v0.8h-0.8zM152.8 223.0h0.8v0.8h-0.8zM151.1 222.7h0.8v0.8h-0.8zM154.0 221.9h0.8v0.8h-0.8zM131.4 224.2h0.8v0.8h-0.8zM178.0 223.7h0.8v0.8h-0.8zM174.8 223.1h0.8v0.8h-0.8zM179.5 223.7h0.8v0.8h-0.8zM176.8 223.4h0.8v0.8h-0.8zM146.4 223.3h0.8v0.8h-0.8zM149.8 224.3h0.8v0.8h-0.8zM165.0 222.0h0.8v0.8h-0.8zM131.7 221.9h0.8v0.8h-0.8zM137.0 222.9h0.8v0.8h-0.8zM129.4 221.3h0.8v0.8h-0.8zM160.7 223.8h0.8v0.8h-0.8zM134.0 221.3h0.8v0.8h-0.8zM149.5 223.7h0.8v0.8h-0.8zM130.0 221.3h0.8v0.8h-0.8zM178.9 220.8h0.8v0.8h-0.8zM135.1 223.9h0.8v0.8h-0.8zM139.2 224.2h0.8v0.8h-0.8zM134.4 220.8h0.8v0.8h-0.8zM170.8 223.0h0.8v0.8h-0.8zM140.0 224.4h0.8v0.8h-0.8zM131.5 222.7h0.8v0.8h-0.8zM157.4 222.9h0.8v0.8h-0.8zM144.0 221.9h0.8v0.8h-0.8zM169.0 222.7h0.8v0.8h-0.8zM140.8 222.9h0.8v0.8h-0.8zM159.8 222.0h0.8v0.8h-0.8zM131.6 222.3h0.8v0.8h-0.8zM130.5 222.1h0.8v0.8h-0.8zM150.1 220.9h0.8v0.8h-0.8zM143.4 222.7h0.8v0.8h-0.8zM147.4 221.9h0.8v0.8h-0.8zM178.9 221.9h0.8v0.8h-0.8zM142.8 223.8h0.8v0.8h-0.8zM144.5 223.4h0.8v0.8h-0.8zM168.6 222.7h0.8v0.8h-0.8zM156.4 224.2h0.8v0.8h-0.8zM172.5 223.9h0.8v0.8h-0.8zM160.8 221.4h0.8v0.8h-0.8zM148.0 222.2h0.8v0.8h-0.8zM139.2 221.6h0.8v0.8h-0.8zM173.7 223.4h0.8v0.8h-0.8zM147.4 224.4h0.8v0.8h-0.8zM172.4 224.4h0.8v0.8h-0.8zM150.4 223.7h0.8v0.8h-0.8zM163.4 221.0h0.8v0.8h-0.8zM134.2 224.4h0.8v0.8h-0.8zM150.1 222.1h0.8v0.8h-0.8zM135.2 221.9h0.8v0.8h-0.8zM140.0 222.9h0.8v0.8h-0.8zM174.9 221.4h0.8v0.8h-0.8zM161.9 224.3h0.8v0.8h-0.8zM130.0 223.2h0.8v0.8h-0.8zM135.6 222.1h0.8v0.8h-0.8zM162.6 220.8h0.8v0.8h-0.8zM139.3 221.6h0.8v0.8h-0.8zM157.1 221.6h0.8v0.8h-0.8zM170.1 221.7h0.8v0.8h-0.8zM133.1 223.8h0.8v0.8h-0.8zM153.7 223.6h0.8v0.8h-0.8zM162.1 221.3h0.8v0.8h-0.8zM128.5 223.4h0.8v0.8h-0.8zM178.3 224.3h0.8v0.8h-0.8zM171.7 222.7h0.8v0.8h-0.8zM169.3 222.2h0.8v0.8h-0.8zM148.6 222.3h0.8v0.8h-0.8zM153.1 222.3h0.8v0.8h-0.8zM165.5 222.2h0.8v0.8h-0.8zM148.8 221.7h0.8v0.8h-0.8zM179.8 223.3h0.8v0.8h-0.8zM171.1 221.3h0.8v0.8h-0.8zM173.3 222.8h0.8v0.8h-0.8zM133.5 223.8h0.8v0.8h-0.8zM130.3 223.1h0.8v0.8h-0.8zM171.1 221.2h0.8v0.8h-0.8zM145.0 222.6h0.8v0.8h-0.8zM145.0 223.4h0.8v0.8h-0.8zM128.9 223.6h0.8v0.8h-0.8zM139.9 222.5h0.8v0.8h-0.8zM140.7 221.3h0.8v0.8h-0.8zM163.3 222.9h0.8v0.8h-0.8zM164.4 223.0h0.8v0.8h-0.8zM170.2 224.3h0.8v0.8h-0.8zM133.6 222.7h0.8v0.8h-0.8zM147.9 222.9h0.8v0.8h-0.8zM137.4 223.6h0.8v0.8h-0.8zM132.5 224.4h0.8v0.8h-0.8zM176.4 221.6h0.8v0.8h-0.8zM171.9 223.4h0.8v0.8h-0.8zM137.2 220.8h0.8v0.8h-0.8zM138.0 224.4h0.8v0.8h-0.8zM152.2 224.4h0.8v0.8h-0.8zM179.0 223.5h0.8v0.8h-0.8zM167.2 223.0h0.8v0.8h-0.8zM177.0 221.4h0.8v0.8h-0.8zM137.2 223.1h0.8v0.8h-0.8zM167.2 221.9h0.8v0.8h-0.8zM129.8 223.2h0.8v0.8h-0.8zM151.2 222.9h0.8v0.8h-0.8zM156.7 221.7h0.8v0.8h-0.8zM167.9 224.0h0.8v0.8h-0.8zM160.2 224.2h0.8v0.8h-0.8zM175.8 221.9h0.8v0.8h-0.8zM157.9 223.1h0.8v0.8h-0.8zM179.8 223.6h0.8v0.8h-0.8zM155.9 223.6h0.8v0.8h-0.8zM146.2 223.2h0.8v0.8h-0.8zM129.3 223.4h0.8v0.8h-0.8zM171.9 222.9h0.8v0.8h-0.8zM134.4 223.7h0.8v0.8h-0.8zM144.3 221.6h0.8v0.8h-0.8zM142.6 224.4h0.8v0.8h-0.8zM138.4 223.4h0.8v0.8h-0.8zM140.6 222.1h0.8v0.8h-0.8zM168.1 222.1h0.8v0.8h-0.8zM136.8 222.8h0.8v0.8h-0.8zM162.3 222.8h0.8v0.8h-0.8zM156.5 221.6h0.8v0.8h-0.8zM142.4 221.6h0.8v0.8h-0.8zM142.7 221.8h0.8v0.8h-0.8zM165.6 223.0h0.8v0.8h-0.8zM170.0 221.9h0.8v0.8h-0.8zM156.6 222.8h0.8v0.8h-0.8zM168.1 223.2h0.8v0.8h-0.8zM171.7 223.0h0.8v0.8h-0.8zM145.9 221.3h0.8v0.8h-0.8zM142.0 224.0h0.8v0.8h-0.8zM135.5 221.9h0.8v0.8h-0.8zM173.0 222.8h0.8v0.8h-0.8zM159.4 222.2h0.8v0.8h-0.8zM131.7 222.1h0.8v0.8h-0.8zM147.7 222.1h0.8v0.8h-0.8zM128.2 223.2h0.8v0.8h-0.8zM163.9 221.7h0.8v0.8h-0.8zM168.6 224.4h0.8v0.8h-0.8zM143.7 223.4h0.8v0.8h-0.8zM177.5 222.2h0.8v0.8h-0.8zM163.3 221.6h0.8v0.8h-0.8zM153.0 222.5h0.8v0.8h-0.8zM144.7 222.8h0.8v0.8h-0.8zM139.1 222.6h0.8v0.8h-0.8zM175.9 223.1h0.8v0.8h-0.8zM153.4 223.5h0.8v0.8h-0.8zM163.8 224.4h0.8v0.8h-0.8zM153.3 223.9h0.8v0.8h-0.8zM142.6 223.1h0.8v0.8h-0.8zM142.6 221.2h0.8v0.8h-0.8zM147.7 222.7h0.8v0.8h-0.8zM136.6 222.4h0.8v0.8h-0.8zM172.0 223.6h0.8v0.8h-0.8zM157.4 222.3h0.8v0.8h-0.8zM137.2 222.7h0.8v0.8h-0.8zM149.6 221.4h0.8v0.8h-0.8zM138.2 222.8h0.8v0.8h-0.8zM167.9 224.2h0.8v0.8h-0.8zM145.1 223.1h0.8v0.8h-0.8zM131.7 222.2h0.8v0.8h-0.8zM172.8 221.9h0.8v0.8h-0.8zM140.5 221.7h0.8v0.8h-0.8zM161.8 220.9h0.8v0.8h-0.8zM155.8 222.0h0.8v0.8h-0.8zM160.2 224.2h0.8v0.8h-0.8zM139.9 222.2h0.8v0.8h-0.8zM171.7 223.5h0.8v0.8h-0.8zM144.6 222.3h0.8v0.8h-0.8zM154.8 221.7h0.8v0.8h-0.8zM127.6 222.5h0.8v0.8h-0.8zM154.1 224.4h0.8v0.8h-0.8zM159.7 223.5h0.8v0.8h-0.8zM151.3 224.3h0.8v0.8h-0.8zM169.4 223.0h0.8v0.8h-0.8zM131.1 223.4h0.8v0.8h-0.8zM150.2 223.7h0.8v0.8h-0.8zM147.9 223.3h0.8v0.8h-0.8zM128.5 223.0h0.8v0.8h-0.8zM151.7 222.4h0.8v0.8h-0.8zM163.5 221.8h0.8v0.8h-0.8zM143.3 222.0h0.8v0.8h-0.8zM141.5 220.8h0.8v0.8h-0.8zM168.1 223.1h0.8v0.8h-0.8zM176.2 223.0h0.8v0.8h-0.8zM168.7 220.8h0.8v0.8h-0.8zM129.2 222.5h0.8v0.8h-0.8zM163.3 223.5h0.8v0.8h-0.8zM171.1 223.7h0.8v0.8h-0.8zM140.3 222.8h0.8v0.8h-0.8zM165.1 222.0h0.8v0.8h-0.8zM156.4 221.2h0.8v0.8h-0.8zM145.6 222.7h0.8v0.8h-0.8zM142.7 223.7h0.8v0.8h-0.8zM136.4 221.4h0.8v0.8h-0.8zM162.3 221.8h0.8v0.8h-0.8zM168.0 222.8h0.8v0.8h-0.8zM177.1 222.0h0.8v0.8h-0.8zM169.2 222.4h0.8v0.8h-0.8zM130.5 223.9h0.8v0.8h-0.8zM156.1 221.7h0.8v0.8h-0.8zM158.5 220.8h0.8v0.8h-0.8zM153.8 223.3h0.8v0.8h-0.8zM152.1 222.7h0.8v0.8h-0.8zM156.8 224.2h0.8v0.8h-0.8zM174.9 223.2h0.8v0.8h-0.8zM142.4 224.2h0.8v0.8h-0.8zM149.9 223.3h0.8v0.8h-0.8zM144.8 222.9h0.8v0.8h-0.8zM175.6 223.9h0.8v0.8h-0.8zM139.2 223.6h0.8v0.8h-0.8zM135.0 222.9h0.8v0.8h-0.8zM170.4 222.5h0.8v0.8h-0.8zM145.0 222.2h0.8v0.8h-0.8zM172.5 221.9h0.8v0.8h-0.8zM146.5 222.3h0.8v0.8h-0.8zM145.2 222.7h0.8v0.8h-0.8zM161.8 222.8h0.8v0.8h-0.8zM153.7 221.5h0.8v0.8h-0.8zM173.7 222.0h0.8v0.8h-0.8zM158.3 224.3h0.8v0.8h-0.8zM129.3 221.3h0.8v0.8h-0.8zM131.4 222.9h0.8v0.8h-0.8zM136.2 222.7h0.8v0.8h-0.8zM161.4 222.2h0.8v0.8h-0.8zM128.1 222.4h0.8v0.8h-0.8zM144.9 222.5h0.8v0.8h-0.8zM175.7 221.0h0.8v0.8h-0.8zM158.2 222.9h0.8v0.8h-0.8zM146.0 220.9h0.8v0.8h-0.8zM175.8 222.9h0.8v0.8h-0.8zM133.8 222.8h0.8v0.8h-0.8zM131.2 222.7h0.8v0.8h-0.8zM168.2 223.7h0.8v0.8h-0.8zM143.7 221.1h0.8v0.8h-0.8zM128.1 222.9h0.8v0.8h-0.8zM157.8 222.1h0.8v0.8h-0.8zM170.9 224.0h0.8v0.8h-0.8zM173.6 222.1h0.8v0.8h-0.8zM140.0 220.8h0.8v0.8h-0.8zM165.4 222.1h0.8v0.8h-0.8zM174.9 222.2h0.8v0.8h-0.8zM130.3 222.5h0.8v0.8h-0.8zM177.0 221.9h0.8v0.8h-0.8zM164.2 222.9h0.8v0.8h-0.8zM161.2 221.0h0.8v0.8h-0.8zM156.1 223.5h0.8v0.8h-0.8zM136.9 223.0h0.8v0.8h-0.8zM129.7 223.2h0.8v0.8h-0.8zM145.3 220.8h0.8v0.8h-0.8zM159.0 223.5h0.8v0.8h-0.8zM174.4 222.7h0.8v0.8h-0.8zM170.5 223.6h0.8v0.8h-0.8zM169.1 221.5h0.8v0.8h-0.8zM163.3 220.8h0.8v0.8h-0.8zM160.2 222.8h0.8v0.8h-0.8zM153.9 222.2h0.8v0.8h-0.8zM141.5 223.5h0.8v0.8h-0.8zM145.3 221.5h0.8v0.8h-0.8zM153.9 223.0h0.8v0.8h-0.8zM173.2 221.8h0.8v0.8h-0.8zM176.1 223.7h0.8v0.8h-0.8zM160.8 221.4h0.8v0.8h-0.8zM164.6 221.5h0.8v0.8h-0.8zM133.7 222.1h0.8v0.8h-0.8zM141.1 224.4h0.8v0.8h-0.8zM146.4 221.2h0.8v0.8h-0.8zM161.7 224.2h0.8v0.8h-0.8zM151.6 222.2h0.8v0.8h-0.8zM134.3 223.4h0.8v0.8h-0.8zM150.2 223.3h0.8v0.8h-0.8zM163.5 221.2h0.8v0.8h-0.8zM160.0 222.6h0.8v0.8h-0.8zM154.5 223.6h0.8v0.8h-0.8zM171.4 224.3h0.8v0.8h-0.8zM170.3 222.3h0.8v0.8h-0.8zM148.8 221.4h0.8v0.8h-0.8zM163.6 223.5h0.8v0.8h-0.8zM167.0 221.0h0.8v0.8h-0.8zM156.6 222.8h0.8v0.8h-0.8zM158.4 221.3h0.8v0.8h-0.8zM131.5 222.6h0.8v0.8h-0.8zM167.3 223.5h0.8v0.8h-0.8zM153.8 221.8h0.8v0.8h-0.8zM151.8 222.4h0.8v0.8h-0.8zM159.3 221.9h0.8v0.8h-0.8zM136.6 222.5h0.8v0.8h-0.8zM164.8 224.0h0.8v0.8h-0.8zM173.8 222.7h0.8v0.8h-0.8zM160.9 223.9h0.8v0.8h-0.8zM174.8 224.3h0.8v0.8h-0.8zM165.7 223.0h0.8v0.8h-0.8zM172.8 222.8h0.8v0.8h-0.8zM165.4 222.5h0.8v0.8h-0.8zM173.7 223.2h0.8v0.8h-0.8zM135.4 223.5h0.8v0.8h-0.8zM138.7 221.0h0.8v0.8h-0.8zM149.9 222.5h0.8v0.8h-0.8zM145.4 222.9h0.8v0.8h-0.8zM129.4 221.5h0.8v0.8h-0.8zM130.8 222.7h0.8v0.8h-0.8zM175.6 224.4h0.8v0.8h-0.8zM127.4 221.7h0.8v0.8h-0.8zM139.0 223.0h0.8v0.8h-0.8z" fill="#a0a0a0"/>
<path d="M124.8 217.6h0.9v0.9h-0.9zM135.9 226.5h0.9v0.9h-0.9zM129.2 229.8h0.9v0.9h-0.9zM140.0 226.1h0.9v0.9h-0.9zM129.2 228.6h0.9v0.9h-0.9zM138.5 217.3h0.9v0.9h-0.9zM125.0 214.4h0.9v0.9h-0.9zM130.3 227.3h0.9v0.9h-0.9zM134.1 212.8h0.9v0.9h-0.9zM129.9 230.1h0.9v0.9h-0.9zM130.8 217.2h0.9v0.9h-0.9zM129.5 219.1h0.9v0.9h-0.9zM133.9 219.7h0.9v0.9h-0.9zM150.8 225.4h0.9v0.9h-0.9zM132.9 225.3h0.9v0.9h-0.9zM141.7 226.5h0.9v0.9h-0.9zM149.8 218.8h0.9v0.9h-0.9zM127.0 220.0h0.9v0.9h-0.9zM125.1 219.3h0.9v0.9h-0.9zM128.6 217.2h0.9v0.9h-0.9zM129.7 227.8h0.9v0.9h-0.9zM127.5 226.0h0.9v0.9h-0.9zM141.2 219.9h0.9v0.9h-0.9zM126.9 218.5h0.9v0.9h-0.9zM132.9 215.4h0.9v0.9h-0.9zM124.3 226.4h0.9v0.9h-0.9zM127.9 215.3h0.9v0.9h-0.9zM124.5 213.7h0.9v0.9h-0.9zM128.6 216.4h0.9v0.9h-0.9zM140.0 217.2h0.9v0.9h-0.9zM125.3 217.4h0.9v0.9h-0.9zM134.5 219.7h0.9v0.9h-0.9zM124.8 226.0h0.9v0.9h-0.9zM125.5 226.7h0.9v0.9h-0.9zM136.7 227.7h0.9v0.9h-0.9zM124.8 218.6h0.9v0.9h-0.9zM132.4 226.4h0.9v0.9h-0.9zM129.1 225.8h0.9v0.9h-0.9zM127.7 219.2h0.9v0.9h-0.9zM126.2 216.3h0.9v0.9h-0.9zM130.4 218.7h0.9v0.9h-0.9zM126.8 219.4h0.9v0.9h-0.9zM132.3 216.7h0.9v0.9h-0.9zM129.0 227.1h0.9v0.9h-0.9zM129.6 213.5h0.9v0.9h-0.9zM134.5 227.7h0.9v0.9h-0.9zM133.7 225.4h0.9v0.9h-0.9zM129.9 228.7h0.9v0.9h-0.9zM135.2 219.9h0.9v0.9h-0.9zM129.1 226.1h0.9v0.9h-0.9zM131.6 226.7h0.9v0.9h-0.9zM133.0 219.8h0.9v0.9h-0.9zM135.1 226.1h0.9v0.9h-0.9zM125.6 225.8h0.9v0.9h-0.9zM136.8 225.6h0.9v0.9h-0.9zM130.9 214.3h0.9v0.9h-0.9zM126.7 214.6h0.9v0.9h-0.9zM133.9 227.0h0.9v0.9h-0.9zM131.8 226.7h0.9v0.9h-0.9zM128.8 217.1h0.9v0.9h-0.9zM128.7 227.5h0.9v0.9h-0.9zM131.9 214.9h0.9v0.9h-0.9zM128.4 226.8h0.9v0.9h-0.9zM127.3 226.6h0.9v0.9h-0.9zM133.6 214.5h0.9v0.9h-0.9zM126.7 227.6h0.9v0.9h-0.9zM126.2 217.2h0.9v0.9h-0.9zM126.7 228.8h0.9v0.9h-0.9zM144.4 219.9h0.9v0.9h-0.9zM128.0 225.4h0.9v0.9h-0.9zM129.1 218.6h0.9v0.9h-0.9zM127.6 227.3h0.9v0.9h-0.9zM125.3 218.6h0.9v0.9h-0.9zM131.1 227.0h0.9v0.9h-0.9zM132.6 215.5h0.9v0.9h-0.9zM133.3 219.5h0.9v0.9h-0.9zM128.0 218.9h0.9v0.9h-0.9zM126.4 229.9h0.9v0.9h-0.9zM124.8 219.7h0.9v0.9h-0.9zM126.1 216.0h0.9v0.9h-0.9zM128.2 217.1h0.9v0.9h-0.9zM128.5 216.5h0.9v0.9h-0.9zM125.6 230.4h0.9v0.9h-0.9zM144.0 226.1h0.9v0.9h-0.9zM131.4 228.2h0.9v0.9h-0.9zM129.9 225.5h0.9v0.9h-0.9zM134.1 227.4h0.9v0.9h-0.9zM130.7 217.5h0.9v0.9h-0.9zM134.9 225.2h0.9v0.9h-0.9zM139.3 227.4h0.9v0.9h-0.9zM130.8 219.5h0.9v0.9h-0.9zM133.5 218.2h0.9v0.9h-0.9zM133.3 217.2h0.9v0.9h-0.9zM156.8 219.7h0.9v0.9h-0.9zM134.1 219.7h0.9v0.9h-0.9zM147.9 219.4h0.9v0.9h-0.9zM130.7 218.7h0.9v0.9h-0.9zM136.8 227.6h0.9v0.9h-0.9zM126.5 226.7h0.9v0.9h-0.9zM132.4 219.8h0.9v0.9h-0.9zM133.0 217.1h0.9v0.9h-0.9zM127.9 217.1h0.9v0.9h-0.9zM135.3 225.7h0.9v0.9h-0.9zM130.3 218.3h0.9v0.9h-0.9zM146.2 225.8h0.9v0.9h-0.9zM127.2 229.4h0.9v0.9h-0.9zM140.2 219.5h0.9v0.9h-0.9zM126.1 219.8h0.9v0.9h-0.9zM127.0 219.2h0.9v0.9h-0.9zM131.7 227.2h0.9v0.9h-0.9zM139.5 217.6h0.9v0.9h-0.9zM152.4 219.9h0.9v0.9h-0.9zM163.9 225.2h0.9v0.9h-0.9zM137.1 219.4h0.9v0.9h-0.9zM133.1 218.3h0.9v0.9h-0.9zM135.5 218.5h0.9v0.9h-0.9zM133.0 217.3h0.9v0.9h-0.9zM138.5 226.8h0.9v0.9h-0.9zM126.4 212.2h0.9v0.9h-0.9zM132.9 228.1h0.9v0.9h-0.9zM127.0 217.2h0.9v0.9h-0.9zM130.2 217.7h0.9v0.9h-0.9zM139.1 225.7h0.9v0.9h-0.9zM145.0 219.6h0.9v0.9h-0.9zM155.4 225.3h0.9v0.9h-0.9zM154.6 225.4h0.9v0.9h-0.9zM124.5 214.9h0.9v0.9h-0.9zM126.5 213.3h0.9v0.9h-0.9zM128.8 225.7h0.9v0.9h-0.9zM125.2 216.0h0.9v0.9h-0.9zM128.1 219.7h0.9v0.9h-0.9zM126.5 226.9h0.9v0.9h-0.9zM155.1 219.8h0.9v0.9h-0.9zM132.7 219.6h0.9v0.9h-0.9zM127.3 219.4h0.9v0.9h-0.9zM125.3 227.2h0.9v0.9h-0.9zM140.6 217.7h0.9v0.9h-0.9zM145.3 218.8h0.9v0.9h-0.9zM128.2 214.4h0.9v0.9h-0.9zM126.3 218.2h0.9v0.9h-0.9zM134.9 225.9h0.9v0.9h-0.9zM125.7 216.9h0.9v0.9h-0.9zM124.5 213.6h0.9v0.9h-0.9zM132.8 217.9h0.9v0.9h-0.9zM128.9 232.7h0.9v0.9h-0.9zM129.2 216.3h0.9v0.9h-0.9zM125.7 216.3h0.9v0.9h-0.9zM142.5 218.8h0.9v0.9h-0.9zM129.1 212.2h0.9v0.9h-0.9zM124.9 227.8h0.9v0.9h-0.9zM145.9 225.7h0.9v0.9h-0.9zM127.8 211.3h0.9v0.9h-0.9zM133.8 214.3h0.9v0.9h-0.9zM136.7 218.2h0.9v0.9h-0.9zM138.0 219.7h0.9v0.9h-0.9zM138.3 226.3h0.9v0.9h-0.9zM132.1 216.4h0.9v0.9h-0.9zM127.4 226.8h0.9v0.9h-0.9zM124.9 228.0h0.9v0.9h-0.9zM150.5 225.8h0.9v0.9h-0.9zM130.4 218.5h0.9v0.9h-0.9zM143.7 226.2h0.9v0.9h-0.9zM138.7 219.4h0.9v0.9h-0.9zM138.1 217.6h0.9v0.9h-0.9zM135.2 225.3h0.9v0.9h-0.9zM126.9 230.1h0.9v0.9h-0.9zM133.5 218.6h0.9v0.9h-0.9zM130.4 216.7h0.9v0.9h-0.9zM130.7 218.5h0.9v0.9h-0.9zM127.4 216.5h0.9v0.9h-0.9zM137.2 226.5h0.9v0.9h-0.9zM135.5 218.0h0.9v0.9h-0.9zM129.0 226.3h0.9v0.9h-0.9zM133.9 217.6h0.9v0.9h-0.9zM125.3 215.2h0.9v0.9h-0.9zM138.0 218.8h0.9v0.9h-0.9zM131.2 227.9h0.9v0.9h-0.9zM131.3 230.3h0.9v0.9h-0.9zM129.6 218.8h0.9v0.9h-0.9zM133.0 226.8h0.9v0.9h-0.9zM126.7 216.6h0.9v0.9h-0.9zM136.3 218.0h0.9v0.9h-0.9zM128.6 219.5h0.9v0.9h-0.9zM136.5 226.5h0.9v0.9h-0.9zM129.3 219.1h0.9v0.9h-0.9zM125.1 219.1h0.9v0.9h-0.9zM128.8 227.1h0.9v0.9h-0.9zM135.9 226.3h0.9v0.9h-0.9zM124.2 231.9h0.9v0.9h-0.9zM140.1 219.8h0.9v0.9h-0.9zM134.9 225.7h0.9v0.9h-0.9zM148.0 225.2h0.9v0.9h-0.9zM124.6 217.2h0.9v0.9h-0.9zM131.5 216.6h0.9v0.9h-0.9zM125.6 229.1h0.9v0.9h-0.9zM142.0 227.2h0.9v0.9h-0.9zM149.5 219.1h0.9v0.9h-0.9zM143.0 218.6h0.9v0.9h-0.9zM134.8 216.7h0.9v0.9h-0.9zM128.3 227.7h0.9v0.9h-0.9zM141.9 225.4h0.9v0.9h-0.9zM130.5 225.4h0.9v0.9h-0.9zM124.3 218.6h0.9v0.9h-0.9zM128.2 219.1h0.9v0.9h-0.9zM131.4 216.8h0.9v0.9h-0.9zM135.1 225.8h0.9v0.9h-0.9zM154.8 219.4h0.9v0.9h-0.9zM127.4 220.0h0.9v0.9h-0.9zM149.3 218.9h0.9v0.9h-0.9zM129.4 218.3h0.9v0.9h-0.9zM126.2 225.3h0.9v0.9h-0.9zM127.9 219.9h0.9v0.9h-0.9zM144.4 225.3h0.9v0.9h-0.9zM135.7 219.6h0.9v0.9h-0.9zM125.0 229.9h0.9v0.9h-0.9zM141.0 226.0h0.9v0.9h-0.9zM139.8 217.7h0.9v0.9h-0.9zM125.3 216.0h0.9v0.9h-0.9zM138.4 218.6h0.9v0.9h-0.9zM136.7 226.1h0.9v0.9h-0.9zM128.6 226.8h0.9v0.9h-0.9zM131.9 228.9h0.9v0.9h-0.9zM127.3 214.0h0.9v0.9h-0.9zM126.1 227.9h0.9v0.9h-0.9zM132.8 228.1h0.9v0.9h-0.9zM127.4 226.0h0.9v0.9h-0.9zM152.9 225.9h0.9v0.9h-0.9zM131.1 218.2h0.9v0.9h-0.9zM126.0 225.5h0.9v0.9h-0.9zM136.0 218.3h0.9v0.9h-0.9zM126.9 217.1h0.9v0.9h-0.9zM134.4 219.4h0.9v0.9h-0.9zM132.0 226.8h0.9v0.9h-0.9zM124.6 214.1h0.9v0.9h-0.9zM128.4 218.2h0.9v0.9h-0.9zM142.2 225.9h0.9v0.9h-0.9zM164.4 219.8h0.9v0.9h-0.9zM130.8 229.0h0.9v0.9h-0.9zM140.6 219.8h0.9v0.9h-0.9zM145.7 225.6h0.9v0.9h-0.9zM129.3 218.6h0.9v0.9h-0.9zM126.5 210.6h0.9v0.9h-0.9zM134.5 226.8h0.9v0.9h-0.9zM149.8 226.6h0.9v0.9h-0.9zM127.0 226.5h0.9v0.9h-0.9zM136.5 218.7h0.9v0.9h-0.9zM131.6 225.3h0.9v0.9h-0.9zM134.8 216.3h0.9v0.9h-0.9zM151.4 219.6h0.9v0.9h-0.9zM129.3 215.1h0.9v0.9h-0.9zM145.5 226.0h0.9v0.9h-0.9zM133.1 226.8h0.9v0.9h-0.9zM127.2 218.7h0.9v0.9h-0.9zM124.7 218.0h0.9v0.9h-0.9zM143.8 226.0h0.9v0.9h-0.9zM132.2 218.6h0.9v0.9h-0.9zM126.7 219.7h0.9v0.9h-0.9zM139.5 225.6h0.9v0.9h-0.9zM155.5 225.9h0.9v0.9h-0.9zM131.7 218.6h0.9v0.9h-0.9zM132.7 225.3h0.9v0.9h-0.9zM128.8 226.9h0.9v0.9h-0.9zM135.2 226.0h0.9v0.9h-0.9zM134.8 225.5h0.9v0.9h-0.9zM126.2 226.3h0.9v0.9h-0.9zM131.6 225.6h0.9v0.9h-0.9zM129.0 214.4h0.9v0.9h-0.9zM136.7 226.6h0.9v0.9h-0.9zM126.7 214.1h0.9v0.9h-0.9zM131.4 228.5h0.9v0.9h-0.9zM131.1 226.1h0.9v0.9h-0.9zM126.9 214.8h0.9v0.9h-0.9zM129.1 217.2h0.9v0.9h-0.9zM138.4 228.0h0.9v0.9h-0.9zM127.6 227.6h0.9v0.9h-0.9zM150.5 226.4h0.9v0.9h-0.9zM128.7 218.5h0.9v0.9h-0.9zM145.5 225.9h0.9v0.9h-0.9zM139.6 219.0h0.9v0.9h-0.9zM125.7 217.8h0.9v0.9h-0.9zM129.8 212.8h0.9v0.9h-0.9zM136.7 225.6h0.9v0.9h-0.9zM127.0 217.8h0.9v0.9h-0.9zM127.9 218.6h0.9v0.9h-0.9zM129.2 214.8h0.9v0.9h-0.9zM124.3 218.6h0.9v0.9h-0.9zM128.8 229.0h0.9v0.9h-0.9zM126.3 237.3h0.9v0.9h-0.9zM125.4 212.2h0.9v0.9h-0.9zM127.6 218.9h0.9v0.9h-0.9zM132.7 218.5h0.9v0.9h-0.9zM135.2 227.5h0.9v0.9h-0.9zM127.5 229.8h0.9v0.9h-0.9zM129.8 226.2h0.9v0.9h-0.9zM129.9 216.5h0.9v0.9h-0.9zM125.8 218.7h0.9v0.9h-0.9zM157.3 219.6h0.9v0.9h-0.9zM127.3 229.1h0.9v0.9h-0.9zM128.4 219.7h0.9v0.9h-0.9zM130.5 227.6h0.9v0.9h-0.9zM145.5 225.5h0.9v0.9h-0.9zM138.7 217.2h0.9v0.9h-0.9zM131.0 226.3h0.9v0.9h-0.9zM129.2 226.4h0.9v0.9h-0.9zM131.4 218.7h0.9v0.9h-0.9zM132.1 227.9h0.9v0.9h-0.9zM125.0 218.3h0.9v0.9h-0.9zM125.1 215.1h0.9v0.9h-0.9zM130.7 219.1h0.9v0.9h-0.9zM138.4 219.8h0.9v0.9h-0.9zM147.2 218.5h0.9v0.9h-0.9zM143.1 219.9h0.9v0.9h-0.9zM125.0 215.4h0.9v0.9h-0.9zM131.8 226.2h0.9v0.9h-0.9zM128.8 216.8h0.9v0.9h-0.9zM129.8 211.9h0.9v0.9h-0.9zM131.2 214.9h0.9v0.9h-0.9zM134.1 218.3h0.9v0.9h-0.9zM125.1 218.8h0.9v0.9h-0.9zM127.6 214.8h0.9v0.9h-0.9zM144.2 225.9h0.9v0.9h-0.9zM126.0 219.4h0.9v0.9h-0.9zM153.9 225.6h0.9v0.9h-0.9zM128.0 215.9h0.9v0.9h-0.9zM125.2 211.5h0.9v0.9h-0.9zM132.9 217.8h0.9v0.9h-0.9zM132.8 219.0h0.9v0.9h-0.9zM138.8 218.3h0.9v0.9h-0.9zM128.0 225.5h0.9v0.9h-0.9zM130.2 225.6h0.9v0.9h-0.9zM133.0 217.8h0.9v0.9h-0.9zM150.3 225.4h0.9v0.9h-0.9zM125.0 225.4h0.9v0.9h-0.9zM125.8 232.8h0.9v0.9h-0.9zM132.1 218.6h0.9v0.9h-0.9zM135.2 217.7h0.9v0.9h-0.9zM125.9 217.5h0.9v0.9h-0.9zM131.8 214.7h0.9v0.9h-0.9zM132.9 228.0h0.9v0.9h-0.9zM128.2 227.3h0.9v0.9h-0.9zM125.5 217.6h0.9v0.9h-0.9zM131.3 218.9h0.9v0.9h-0.9zM126.0 226.5h0.9v0.9h-0.9zM132.8 226.5h0.9v0.9h-0.9zM138.4 226.5h0.9v0.9h-0.9zM127.5 216.2h0.9v0.9h-0.9zM134.1 226.7h0.9v0.9h-0.9zM141.1 225.4h0.9v0.9h-0.9zM133.7 213.5h0.9v0.9h-0.9zM133.1 218.8h0.9v0.9h-0.9zM124.8 219.2h0.9v0.9h-0.9zM138.2 218.5h0.9v0.9h-0.9zM126.2 228.2h0.9v0.9h-0.9zM135.9 219.8h0.9v0.9h-0.9zM150.2 225.2h0.9v0.9h-0.9zM149.0 226.7h0.9v0.9h-0.9zM131.2 218.5h0.9v0.9h-0.9zM126.4 225.7h0.9v0.9h-0.9zM130.9 216.5h0.9v0.9h-0.9zM125.3 229.6h0.9v0.9h-0.9zM133.1 216.4h0.9v0.9h-0.9zM139.3 216.9h0.9v0.9h-0.9zM126.0 226.4h0.9v0.9h-0.9zM125.9 219.8h0.9v0.9h-0.9zM131.6 218.8h0.9v0.9h-0.9zM152.0 219.9h0.9v0.9h-0.9zM146.0 225.5h0.9v0.9h-0.9zM131.6 215.4h0.9v0.9h-0.9zM129.2 230.2h0.9v0.9h-0.9zM144.2 225.7h0.9v0.9h-0.9zM129.2 228.7h0.9v0.9h-0.9zM130.0 219.2h0.9v0.9h-0.9zM131.3 215.6h0.9v0.9h-0.9zM130.2 226.9h0.9v0.9h-0.9zM127.6 217.2h0.9v0.9h-0.9zM135.3 217.9h0.9v0.9h-0.9zM133.0 219.8h0.9v0.9h-0.9zM133.8 227.2h0.9v0.9h-0.9zM131.2 226.3h0.9v0.9h-0.9zM134.8 225.5h0.9v0.9h-0.9zM130.2 225.8h0.9v0.9h-0.9zM145.5 226.0h0.9v0.9h-0.9zM132.0 227.7h0.9v0.9h-0.9zM163.5 225.3h0.9v0.9h-0.9zM126.2 218.3h0.9v0.9h-0.9zM126.0 226.8h0.9v0.9h-0.9zM130.5 217.9h0.9v0.9h-0.9zM139.2 216.7h0.9v0.9h-0.9zM133.2 215.5h0.9v0.9h-0.9zM125.3 226.3h0.9v0.9h-0.9zM128.2 217.0h0.9v0.9h-0.9zM127.6 218.7h0.9v0.9h-0.9zM128.1 215.5h0.9v0.9h-0.9zM137.9 219.3h0.9v0.9h-0.9zM131.2 229.8h0.9v0.9h-0.9zM126.6 214.6h0.9v0.9h-0.9zM130.3 226.5h0.9v0.9h-0.9zM128.8 228.9h0.9v0.9h-0.9zM129.3 218.2h0.9v0.9h-0.9zM127.7 215.9h0.9v0.9h-0.9zM127.4 226.0h0.9v0.9h-0.9zM136.0 228.7h0.9v0.9h-0.9zM137.0 219.4h0.9v0.9h-0.9zM131.8 218.6h0.9v0.9h-0.9zM141.4 219.2h0.9v0.9h-0.9zM125.9 228.1h0.9v0.9h-0.9zM124.7 233.9h0.9v0.9h-0.9zM127.9 216.3h0.9v0.9h-0.9zM146.9 225.5h0.9v0.9h-0.9zM155.3 219.5h0.9v0.9h-0.9zM139.7 227.3h0.9v0.9h-0.9zM135.4 225.6h0.9v0.9h-0.9zM126.1 232.2h0.9v0.9h-0.9zM133.8 228.1h0.9v0.9h-0.9zM128.7 217.4h0.9v0.9h-0.9zM124.4 216.0h0.9v0.9h-0.9zM132.7 217.6h0.9v0.9h-0.9zM132.0 217.8h0.9v0.9h-0.9zM127.0 226.7h0.9v0.9h-0.9zM125.9 213.6h0.9v0.9h-0.9zM133.5 219.0h0.9v0.9h-0.9zM133.7 227.2h0.9v0.9h-0.9zM136.7 220.0h0.9v0.9h-0.9zM135.9 219.8h0.9v0.9h-0.9zM135.4 226.9h0.9v0.9h-0.9zM129.7 219.4h0.9v0.9h-0.9zM128.8 215.6h0.9v0.9h-0.9zM139.2 217.8h0.9v0.9h-0.9zM131.1 212.6h0.9v0.9h-0.9zM152.9 226.4h0.9v0.9h-0.9zM126.0 214.0h0.9v0.9h-0.9zM127.8 225.8h0.9v0.9h-0.9zM134.5 218.9h0.9v0.9h-0.9zM135.5 217.4h0.9v0.9h-0.9zM126.6 226.4h0.9v0.9h-0.9zM131.8 225.4h0.9v0.9h-0.9zM125.3 226.7h0.9v0.9h-0.9zM129.5 219.0h0.9v0.9h-0.9zM132.3 225.6h0.9v0.9h-0.9zM144.3 218.8h0.9v0.9h-0.9zM130.1 232.2h0.9v0.9h-0.9zM150.4 226.0h0.9v0.9h-0.9zM130.5 228.7h0.9v0.9h-0.9zM126.0 227.2h0.9v0.9h-0.9zM139.7 226.5h0.9v0.9h-0.9zM130.2 225.4h0.9v0.9h-0.9zM130.5 217.5h0.9v0.9h-0.9zM126.4 227.9h0.9v0.9h-0.9zM127.2 207.6h0.9v0.9h-0.9zM128.1 219.7h0.9v0.9h-0.9zM125.0 216.2h0.9v0.9h-0.9zM129.6 229.5h0.9v0.9h-0.9zM132.1 226.2h0.9v0.9h-0.9zM141.0 226.0h0.9v0.9h-0.9zM127.4 228.3h0.9v0.9h-0.9zM128.4 216.2h0.9v0.9h-0.9zM135.1 219.1h0.9v0.9h-0.9zM129.4 219.7h0.9v0.9h-0.9zM126.9 229.8h0.9v0.9h-0.9zM131.9 219.7h0.9v0.9h-0.9zM128.2 217.7h0.9v0.9h-0.9zM130.9 219.8h0.9v0.9h-0.9zM130.4 219.4h0.9v0.9h-0.9zM129.5 219.2h0.9v0.9h-0.9zM131.6 219.8h0.9v0.9h-0.9zM127.0 215.5h0.9v0.9h-0.9zM128.2 228.9h0.9v0.9h-0.9zM129.1 227.4h0.9v0.9h-0.9zM140.1 218.1h0.9v0.9h-0.9zM136.6 216.8h0.9v0.9h-0.9zM129.2 218.8h0.9v0.9h-0.9zM130.8 227.0h0.9v0.9h-0.9zM135.8 216.0h0.9v0.9h-0.9zM142.1 219.7h0.9v0.9h-0.9zM132.1 215.2h0.9v0.9h-0.9zM130.7 219.7h0.9v0.9h-0.9zM134.8 218.3h0.9v0.9h-0.9zM137.4 226.7h0.9v0.9h-0.9zM142.1 218.3h0.9v0.9h-0.9zM132.5 217.4h0.9v0.9h-0.9zM135.3 216.3h0.9v0.9h-0.9zM138.8 225.6h0.9v0.9h-0.9zM127.6 217.4h0.9v0.9h-0.9zM129.1 225.7h0.9v0.9h-0.9zM132.5 218.5h0.9v0.9h-0.9zM129.0 217.8h0.9v0.9h-0.9zM127.1 227.5h0.9v0.9h-0.9zM126.4 229.8h0.9v0.9h-0.9zM134.1 227.3h0.9v0.9h-0.9zM126.0 232.9h0.9v0.9h-0.9zM128.5 228.4h0.9v0.9h-0.9zM125.5 228.2h0.9v0.9h-0.9zM137.1 217.6h0.9v0.9h-0.9zM139.7 225.6h0.9v0.9h-0.9zM134.8 219.3h0.9v0.9h-0.9zM136.0 227.4h0.9v0.9h-0.9zM138.9 226.7h0.9v0.9h-0.9zM128.8 217.6h0.9v0.9h-0.9zM129.0 219.5h0.9v0.9h-0.9zM130.0 225.5h0.9v0.9h-0.9zM156.0 225.3h0.9v0.9h-0.9zM150.1 226.3h0.9v0.9h-0.9zM128.9 218.6h0.9v0.9h-0.9zM134.3 217.0h0.9v0.9h-0.9zM131.4 216.8h0.9v0.9h-0.9zM136.0 213.6h0.9v0.9h-0.9zM134.6 225.7h0.9v0.9h-0.9zM154.5 225.9h0.9v0.9h-0.9zM128.6 216.1h0.9v0.9h-0.9zM132.4 219.7h0.9v0.9h-0.9zM142.6 227.7h0.9v0.9h-0.9zM129.3 225.8h0.9v0.9h-0.9zM136.5 220.0h0.9v0.9h-0.9zM132.9 226.5h0.9v0.9h-0.9zM134.1 227.4h0.9v0.9h-0.9zM134.0 219.1h0.9v0.9h-0.9zM145.2 226.9h0.9v0.9h-0.9zM129.3 215.8h0.9v0.9h-0.9zM128.1 219.3h0.9v0.9h-0.9zM127.9 231.7h0.9v0.9h-0.9zM127.8 226.1h0.9v0.9h-0.9zM127.9 218.3h0.9v0.9h-0.9zM127.5 216.5h0.9v0.9h-0.9zM125.7 214.0h0.9v0.9h-0.9zM127.0 218.5h0.9v0.9h-0.9zM130.6 216.1h0.9v0.9h-0.9zM128.7 219.7h0.9v0.9h-0.9zM131.2 226.6h0.9v0.9h-0.9zM141.3 219.9h0.9v0.9h-0.9zM127.4 215.0h0.9v0.9h-0.9zM125.0 233.1h0.9v0.9h-0.9zM134.7 217.7h0.9v0.9h-0.9zM126.3 225.7h0.9v0.9h-0.9zM128.3 220.0h0.9v0.9h-0.9zM137.3 216.6h0.9v0.9h-0.9zM127.1 219.5h0.9v0.9h-0.9zM126.1 232.5h0.9v0.9h-0.9zM125.8 217.6h0.9v0.9h-0.9zM135.5 226.0h0.9v0.9h-0.9zM127.9 215.5h0.9v0.9h-0.9zM127.8 214.2h0.9v0.9h-0.9zM125.0 212.9h0.9v0.9h-0.9zM132.8 218.6h0.9v0.9h-0.9zM125.8 214.2h0.9v0.9h-0.9zM131.9 213.5h0.9v0.9h-0.9zM127.4 232.1h0.9v0.9h-0.9zM137.2 227.6h0.9v0.9h-0.9zM133.1 218.8h0.9v0.9h-0.9zM129.3 226.7h0.9v0.9h-0.9zM126.0 228.8h0.9v0.9h-0.9zM133.2 216.8h0.9v0.9h-0.9zM139.1 219.8h0.9v0.9h-0.9zM125.6 219.7h0.9v0.9h-0.9zM151.6 225.3h0.9v0.9h-0.9zM129.4 229.0h0.9v0.9h-0.9zM127.3 225.3h0.9v0.9h-0.9zM129.6 213.7h0.9v0.9h-0.9zM134.5 217.5h0.9v0.9h-0.9zM124.6 217.6h0.9v0.9h-0.9zM134.3 216.5h0.9v0.9h-0.9zM127.5 226.8h0.9v0.9h-0.9zM134.2 219.7h0.9v0.9h-0.9zM126.6 219.5h0.9v0.9h-0.9zM137.3 219.9h0.9v0.9h-0.9zM145.0 226.2h0.9v0.9h-0.9zM141.9 219.3h0.9v0.9h-0.9zM131.0 219.7h0.9v0.9h-0.9zM133.0 227.6h0.9v0.9h-0.9zM131.8 231.9h0.9v0.9h-0.9zM124.7 214.0h0.9v0.9h-0.9zM126.4 216.8h0.9v0.9h-0.9zM148.4 225.9h0.9v0.9h-0.9zM134.0 217.7h0.9v0.9h-0.9zM127.4 228.6h0.9v0.9h-0.9zM126.3 214.5h0.9v0.9h-0.9zM138.8 225.8h0.9v0.9h-0.9zM133.7 217.8h0.9v0.9h-0.9zM128.0 228.9h0.9v0.9h-0.9zM131.5 215.7h0.9v0.9h-0.9zM128.6 219.9h0.9v0.9h-0.9zM125.5 211.9h0.9v0.9h-0.9zM131.3 225.7h0.9v0.9h-0.9zM124.7 233.1h0.9v0.9h-0.9zM147.1 219.3h0.9v0.9h-0.9zM128.0 214.9h0.9v0.9h-0.9zM142.8 225.6h0.9v0.9h-0.9zM140.8 219.5h0.9v0.9h-0.9zM144.2 219.5h0.9v0.9h-0.9zM142.6 219.4h0.9v0.9h-0.9zM134.8 226.3h0.9v0.9h-0.9zM126.8 216.1h0.9v0.9h-0.9zM126.6 225.5h0.9v0.9h-0.9zM129.4 217.0h0.9v0.9h-0.9zM131.0 220.0h0.9v0.9h-0.9zM128.2 225.6h0.9v0.9h-0.9zM133.7 227.1h0.9v0.9h-0.9zM129.1 229.5h0.9v0.9h-0.9zM133.1 229.6h0.9v0.9h-0.9zM129.3 217.8h0.9v0.9h-0.9zM135.2 230.7h0.9v0.9h-0.9zM125.2 216.6h0.9v0.9h-0.9zM140.2 217.0h0.9v0.9h-0.9zM134.6 216.2h0.9v0.9h-0.9zM126.2 213.0h0.9v0.9h-0.9zM136.8 219.0h0.9v0.9h-0.9zM128.6 218.6h0.9v0.9h-0.9zM125.5 220.0h0.9v0.9h-0.9zM128.5 216.3h0.9v0.9h-0.9zM130.5 215.3h0.9v0.9h-0.9zM132.7 226.1h0.9v0.9h-0.9zM135.3 227.9h0.9v0.9h-0.9zM131.1 226.4h0.9v0.9h-0.9zM134.0 225.9h0.9v0.9h-0.9zM142.3 220.0h0.9v0.9h-0.9zM138.1 225.9h0.9v0.9h-0.9zM124.7 217.0h0.9v0.9h-0.9zM125.3 229.1h0.9v0.9h-0.9zM134.8 228.6h0.9v0.9h-0.9zM126.1 218.7h0.9v0.9h-0.9zM133.4 214.5h0.9v0.9h-0.9zM128.8 227.9h0.9v0.9h-0.9zM130.3 217.2h0.9v0.9h-0.9zM127.0 230.9h0.9v0.9h-0.9zM127.2 226.1h0.9v0.9h-0.9zM127.8 219.6h0.9v0.9h-0.9zM141.7 219.4h0.9v0.9h-0.9zM137.7 219.2h0.9v0.9h-0.9zM125.8 231.9h0.9v0.9h-0.9zM138.1 219.7h0.9v0.9h-0.9zM126.8 214.1h0.9v0.9h-0.9zM137.1 225.4h0.9v0.9h-0.9zM126.8 217.1h0.9v0.9h-0.9zM130.0 214.7h0.9v0.9h-0.9zM125.8 214.6h0.9v0.9h-0.9zM129.5 225.3h0.9v0.9h-0.9zM127.5 225.8h0.9v0.9h-0.9zM134.4 219.5h0.9v0.9h-0.9zM127.7 217.9h0.9v0.9h-0.9zM127.0 215.7h0.9v0.9h-0.9zM143.5 218.3h0.9v0.9h-0.9zM135.4 218.1h0.9v0.9h-0.9zM127.9 216.9h0.9v0.9h-0.9zM130.9 214.4h0.9v0.9h-0.9zM125.8 214.8h0.9v0.9h-0.9zM128.4 216.0h0.9v0.9h-0.9zM127.9 212.8h0.9v0.9h-0.9zM127.5 228.8h0.9v0.9h-0.9zM129.4 212.8h0.9v0.9h-0.9zM125.3 217.3h0.9v0.9h-0.9zM149.1 219.3h0.9v0.9h-0.9zM129.7 228.1h0.9v0.9h-0.9zM129.1 228.0h0.9v0.9h-0.9zM132.1 216.5h0.9v0.9h-0.9zM139.7 219.9h0.9v0.9h-0.9zM132.4 215.2h0.9v0.9h-0.9zM129.1 214.8h0.9v0.9h-0.9zM127.2 213.1h0.9v0.9h-0.9zM132.7 217.5h0.9v0.9h-0.9zM136.4 218.0h0.9v0.9h-0.9zM134.7 218.7h0.9v0.9h-0.9zM130.2 226.7h0.9v0.9h-0.9zM132.4 226.3h0.9v0.9h-0.9zM149.0 219.9h0.9v0.9h-0.9zM132.7 225.4h0.9v0.9h-0.9zM137.7 227.8h0.9v0.9h-0.9zM124.7 228.3h0.9v0.9h-0.9zM134.2 219.4h0.9v0.9h-0.9zM125.3 216.1h0.9v0.9h-0.9zM126.9 210.6h0.9v0.9h-0.9zM124.3 226.1h0.9v0.9h-0.9zM130.6 219.5h0.9v0.9h-0.9zM128.0 217.4h0.9v0.9h-0.9zM125.2 215.0h0.9v0.9h-0.9zM143.7 226.1h0.9v0.9h-0.9zM144.8 226.6h0.9v0.9h-0.9zM127.1 216.5h0.9v0.9h-0.9zM133.5 218.3h0.9v0.9h-0.9zM125.6 215.2h0.9v0.9h-0.9zM126.3 212.6h0.9v0.9h-0.9zM151.0 219.9h0.9v0.9h-0.9zM132.7 214.9h0.9v0.9h-0.9zM130.6 219.2h0.9v0.9h-0.9zM129.5 216.3h0.9v0.9h-0.9zM126.7 217.1h0.9v0.9h-0.9zM150.5 226.1h0.9v0.9h-0.9zM126.3 219.4h0.9v0.9h-0.9zM130.0 218.5h0.9v0.9h-0.9zM130.4 219.5h0.9v0.9h-0.9zM130.0 219.2h0.9v0.9h-0.9zM130.6 218.5h0.9v0.9h-0.9zM127.0 215.0h0.9v0.9h-0.9zM128.0 214.6h0.9v0.9h-0.9zM130.7 219.5h0.9v0.9h-0.9zM125.1 216.7h0.9v0.9h-0.9zM144.7 225.5h0.9v0.9h-0.9zM139.4 219.6h0.9v0.9h-0.9zM125.8 217.7h0.9v0.9h-0.9zM126.5 226.9h0.9v0.9h-0.9zM126.0 230.8h0.9v0.9h-0.9zM139.6 218.9h0.9v0.9h-0.9zM148.9 225.2h0.9v0.9h-0.9zM137.9 227.2h0.9v0.9h-0.9zM128.6 216.5h0.9v0.9h-0.9zM127.5 228.2h0.9v0.9h-0.9zM134.5 219.2h0.9v0.9h-0.9zM129.0 233.3h0.9v0.9h-0.9zM134.2 226.3h0.9v0.9h-0.9zM125.3 218.7h0.9v0.9h-0.9zM127.9 228.8h0.9v0.9h-0.9zM132.1 217.1h0.9v0.9h-0.9zM133.4 215.1h0.9v0.9h-0.9zM126.5 231.8h0.9v0.9h-0.9zM139.0 225.4h0.9v0.9h-0.9zM131.5 229.1h0.9v0.9h-0.9zM144.9 219.6h0.9v0.9h-0.9zM124.5 218.4h0.9v0.9h-0.9zM143.3 219.2h0.9v0.9h-0.9zM127.8 227.7h0.9v0.9h-0.9zM139.0 219.0h0.9v0.9h-0.9zM126.1 226.6h0.9v0.9h-0.9zM127.7 215.6h0.9v0.9h-0.9zM134.7 218.6h0.9v0.9h-0.9zM129.8 218.8h0.9v0.9h-0.9zM138.4 226.4h0.9v0.9h-0.9zM147.5 225.9h0.9v0.9h-0.9zM140.8 218.4h0.9v0.9h-0.9zM138.9 225.9h0.9v0.9h-0.9zM136.0 216.3h0.9v0.9h-0.9zM125.6 226.6h0.9v0.9h-0.9zM130.4 219.3h0.9v0.9h-0.9zM127.6 217.8h0.9v0.9h-0.9zM124.9 215.2h0.9v0.9h-0.9zM132.4 225.5h0.9v0.9h-0.9zM135.9 219.3h0.9v0.9h-0.9zM136.6 227.9h0.9v0.9h-0.9zM127.7 228.1h0.9v0.9h-0.9zM150.4 226.3h0.9v0.9h-0.9zM128.5 219.7h0.9v0.9h-0.9zM135.1 218.6h0.9v0.9h-0.9zM137.5 227.0h0.9v0.9h-0.9zM131.2 225.3h0.9v0.9h-0.9zM125.8 226.3h0.9v0.9h-0.9zM130.2 219.1h0.9v0.9h-0.9zM130.2 216.7h0.9v0.9h-0.9zM131.6 229.9h0.9v0.9h-0.9zM143.5 219.1h0.9v0.9h-0.9zM126.4 217.5h0.9v0.9h-0.9zM128.0 216.9h0.9v0.9h-0.9zM130.5 212.1h0.9v0.9h-0.9zM135.4 218.8h0.9v0.9h-0.9zM128.4 226.3h0.9v0.9h-0.9zM144.0 226.5h0.9v0.9h-0.9zM131.2 218.1h0.9v0.9h-0.9zM126.2 226.7h0.9v0.9h-0.9zM130.6 219.1h0.9v0.9h-0.9zM142.0 219.5h0.9v0.9h-0.9zM128.9 217.8h0.9v0.9h-0.9zM131.3 218.6h0.9v0.9h-0.9zM153.9 219.9h0.9v0.9h-0.9zM133.1 225.3h0.9v0.9h-0.9zM129.2 217.9h0.9v0.9h-0.9zM126.9 229.4h0.9v0.9h-0.9zM126.1 227.0h0.9v0.9h-0.9zM143.8 225.9h0.9v0.9h-0.9zM125.4 214.3h0.9v0.9h-0.9zM152.5 219.5h0.9v0.9h-0.9zM127.1 216.9h0.9v0.9h-0.9zM125.1 211.8h0.9v0.9h-0.9zM127.7 216.4h0.9v0.9h-0.9zM149.6 218.9h0.9v0.9h-0.9zM137.4 218.7h0.9v0.9h-0.9zM136.5 216.6h0.9v0.9h-0.9zM130.8 216.2h0.9v0.9h-0.9zM126.7 225.4h0.9v0.9h-0.9zM127.9 226.7h0.9v0.9h-0.9zM141.7 217.9h0.9v0.9h-0.9zM135.0 227.2h0.9v0.9h-0.9zM124.6 219.2h0.9v0.9h-0.9zM132.1 226.9h0.9v0.9h-0.9zM128.0 227.8h0.9v0.9h-0.9zM133.1 219.2h0.9v0.9h-0.9zM132.9 217.8h0.9v0.9h-0.9zM143.9 225.7h0.9v0.9h-0.9zM133.6 218.6h0.9v0.9h-0.9zM133.5 218.9h0.9v0.9h-0.9zM146.2 225.5h0.9v0.9h-0.9zM124.9 232.5h0.9v0.9h-0.9zM128.0 219.5h0.9v0.9h-0.9zM145.7 226.8h0.9v0.9h-0.9zM125.2 226.8h0.9v0.9h-0.9zM136.0 217.2h0.9v0.9h-0.9zM132.0 218.3h0.9v0.9h-0.9zM125.2 207.3h0.9v0.9h-0.9zM134.7 217.6h0.9v0.9h-0.9zM125.2 217.8h0.9v0.9h-0.9zM127.9 226.3h0.9v0.9h-0.9zM143.4 217.6h0.9v0.9h-0.9zM130.9 219.6h0.9v0.9h-0.9zM126.8 217.6h0.9v0.9h-0.9zM125.1 226.8h0.9v0.9h-0.9zM132.1 226.9h0.9v0.9h-0.9zM134.3 219.5h0.9v0.9h-0.9zM125.7 230.5h0.9v0.9h-0.9zM126.9 227.8h0.9v0.9h-0.9zM138.8 214.3h0.9v0.9h-0.9zM125.8 225.3h0.9v0.9h-0.9zM152.5 225.5h0.9v0.9h-0.9zM138.2 225.4h0.9v0.9h-0.9zM145.5 225.9h0.9v0.9h-0.9zM142.2 226.1h0.9v0.9h-0.9zM138.7 218.4h0.9v0.9h-0.9zM125.4 218.6h0.9v0.9h-0.9zM126.9 228.9h0.9v0.9h-0.9zM126.0 228.5h0.9v0.9h-0.9zM132.0 216.4h0.9v0.9h-0.9zM127.0 218.0h0.9v0.9h-0.9zM140.2 218.0h0.9v0.9h-0.9zM128.2 225.3h0.9v0.9h-0.9zM127.8 214.8h0.9v0.9h-0.9zM133.7 228.4h0.9v0.9h-0.9zM136.9 226.8h0.9v0.9h-0.9zM125.2 216.1h0.9v0.9h-0.9zM141.2 219.2h0.9v0.9h-0.9zM139.2 227.0h0.9v0.9h-0.9zM129.9 219.8h0.9v0.9h-0.9zM127.8 219.5h0.9v0.9h-0.9zM125.7 217.6h0.9v0.9h-0.9zM125.0 228.0h0.9v0.9h-0.9zM128.1 217.2h0.9v0.9h-0.9zM132.9 218.6h0.9v0.9h-0.9zM135.9 227.5h0.9v0.9h-0.9zM134.7 219.6h0.9v0.9h-0.9zM162.2 225.6h0.9v0.9h-0.9zM134.3 225.5h0.9v0.9h-0.9zM140.9 219.2h0.9v0.9h-0.9zM131.1 219.4h0.9v0.9h-0.9zM128.4 219.2h0.9v0.9h-0.9zM130.2 216.3h0.9v0.9h-0.9zM129.6 225.4h0.9v0.9h-0.9zM126.2 217.8h0.9v0.9h-0.9zM126.9 218.9h0.9v0.9h-0.9zM136.4 225.6h0.9v0.9h-0.9zM142.2 225.6h0.9v0.9h-0.9zM127.7 219.1h0.9v0.9h-0.9zM127.5 230.9h0.9v0.9h-0.9zM128.3 227.7h0.9v0.9h-0.9zM130.8 225.3h0.9v0.9h-0.9zM133.4 217.7h0.9v0.9h-0.9zM135.3 225.5h0.9v0.9h-0.9zM132.3 226.0h0.9v0.9h-0.9zM134.1 219.5h0.9v0.9h-0.9zM144.8 219.1h0.9v0.9h-0.9zM132.5 215.6h0.9v0.9h-0.9zM148.0 226.1h0.9v0.9h-0.9zM133.6 227.0h0.9v0.9h-0.9zM125.8 228.1h0.9v0.9h-0.9zM129.9 218.6h0.9v0.9h-0.9zM131.4 219.1h0.9v0.9h-0.9zM132.2 218.9h0.9v0.9h-0.9zM126.8 217.6h0.9v0.9h-0.9zM124.7 226.1h0.9v0.9h-0.9zM133.0 218.0h0.9v0.9h-0.9zM131.0 214.8h0.9v0.9h-0.9zM124.9 216.0h0.9v0.9h-0.9zM150.4 219.6h0.9v0.9h-0.9zM134.6 215.1h0.9v0.9h-0.9zM133.6 219.7h0.9v0.9h-0.9zM128.2 219.0h0.9v0.9h-0.9zM126.5 218.4h0.9v0.9h-0.9zM127.0 230.1h0.9v0.9h-0.9zM136.3 219.1h0.9v0.9h-0.9zM128.7 227.0h0.9v0.9h-0.9zM138.0 219.4h0.9v0.9h-0.9zM137.5 227.9h0.9v0.9h-0.9zM144.8 225.7h0.9v0.9h-0.9zM133.1 216.4h0.9v0.9h-0.9zM129.8 219.2h0.9v0.9h-0.9zM139.5 217.9h0.9v0.9h-0.9zM127.7 216.7h0.9v0.9h-0.9zM128.5 219.3h0.9v0.9h-0.9zM137.2 219.0h0.9v0.9h-0.9zM136.1 230.5h0.9v0.9h-0.9zM136.5 219.9h0.9v0.9h-0.9zM127.1 230.6h0.9v0.9h-0.9zM143.0 226.6h0.9v0.9h-0.9zM139.9 219.6h0.9v0.9h-0.9zM125.7 217.0h0.9v0.9h-0.9zM134.4 217.0h0.9v0.9h-0.9zM134.5 227.0h0.9v0.9h-0.9zM126.8 219.5h0.9v0.9h-0.9zM125.6 218.9h0.9v0.9h-0.9zM132.5 218.4h0.9v0.9h-0.9zM126.3 217.3h0.9v0.9h-0.9zM131.0 226.9h0.9v0.9h-0.9zM133.6 215.8h0.9v0.9h-0.9zM140.4 226.6h0.9v0.9h-0.9zM125.5 225.5h0.9v0.9h-0.9zM129.5 232.1h0.9v0.9h-0.9zM125.7 217.5h0.9v0.9h-0.9zM126.4 220.0h0.9v0.9h-0.9zM130.8 227.1h0.9v0.9h-0.9zM129.7 231.9h0.9v0.9h-0.9zM125.8 233.1h0.9v0.9h-0.9zM139.6 228.4h0.9v0.9h-0.9zM127.6 229.1h0.9v0.9h-0.9zM131.2 225.2h0.9v0.9h-0.9zM144.1 225.3h0.9v0.9h-0.9zM135.9 227.0h0.9v0.9h-0.9zM133.8 219.8h0.9v0.9h-0.9zM134.8 226.8h0.9v0.9h-0.9zM136.8 219.2h0.9v0.9h-0.9zM137.7 226.0h0.9v0.9h-0.9zM128.0 216.9h0.9v0.9h-0.9zM138.7 220.0h0.9v0.9h-0.9zM134.3 218.2h0.9v0.9h-0.9zM128.2 218.7h0.9v0.9h-0.9zM141.2 218.7h0.9v0.9h-0.9zM136.6 218.2h0.9v0.9h-0.9zM131.4 225.6h0.9v0.9h-0.9zM136.4 226.7h0.9v0.9h-0.9zM127.1 215.3h0.9v0.9h-0.9zM126.0 230.4h0.9v0.9h-0.9zM126.8 217.5h0.9v0.9h-0.9zM130.1 220.0h0.9v0.9h-0.9zM151.6 219.6h0.9v0.9h-0.9zM134.2 219.2h0.9v0.9h-0.9zM135.6 216.6h0.9v0.9h-0.9zM124.7 217.3h0.9v0.9h-0.9zM137.1 217.2h0.9v0.9h-0.9zM126.1 217.9h0.9v0.9h-0.9zM145.0 225.7h0.9v0.9h-0.9zM128.9 227.0h0.9v0.9h-0.9zM128.5 225.9h0.9v0.9h-0.9zM143.8 218.0h0.9v0.9h-0.9zM124.9 216.6h0.9v0.9h-0.9zM130.7 216.4h0.9v0.9h-0.9zM135.9 226.0h0.9v0.9h-0.9zM126.5 226.8h0.9v0.9h-0.9zM143.2 218.2h0.9v0.9h-0.9zM149.0 219.5h0.9v0.9h-0.9zM132.5 217.7h0.9v0.9h-0.9zM135.1 226.6h0.9v0.9h-0.9zM136.9 218.0h0.9v0.9h-0.9zM128.2 226.1h0.9v0.9h-0.9zM139.8 227.4h0.9v0.9h-0.9zM124.9 217.1h0.9v0.9h-0.9zM128.6 213.2h0.9v0.9h-0.9zM132.0 227.2h0.9v0.9h-0.9zM127.9 228.6h0.9v0.9h-0.9zM130.5 226.1h0.9v0.9h-0.9zM135.2 226.4h0.9v0.9h-0.9zM137.8 225.9h0.9v0.9h-0.9zM124.8 229.9h0.9v0.9h-0.9zM129.8 227.0h0.9v0.9h-0.9zM135.1 219.1h0.9v0.9h-0.9zM127.1 232.5h0.9v0.9h-0.9zM129.5 216.9h0.9v0.9h-0.9zM141.0 218.7h0.9v0.9h-0.9zM135.7 226.9h0.9v0.9h-0.9zM134.6 227.2h0.9v0.9h-0.9zM135.2 226.1h0.9v0.9h-0.9zM129.5 229.9h0.9v0.9h-0.9zM129.9 218.7h0.9v0.9h-0.9zM138.6 216.6h0.9v0.9h-0.9zM124.4 218.4h0.9v0.9h-0.9zM128.1 228.3h0.9v0.9h-0.9zM134.5 225.7h0.9v0.9h-0.9zM126.5 215.4h0.9v0.9h-0.9zM130.8 219.5h0.9v0.9h-0.9zM129.8 229.7h0.9v0.9h-0.9zM134.8 226.6h0.9v0.9h-0.9zM131.4 218.5h0.9v0.9h-0.9zM129.3 228.5h0.9v0.9h-0.9zM131.0 217.8h0.9v0.9h-0.9zM141.5 219.9h0.9v0.9h-0.9zM136.1 218.7h0.9v0.9h-0.9zM133.2 227.9h0.9v0.9h-0.9zM127.6 225.9h0.9v0.9h-0.9zM128.6 225.7h0.9v0.9h-0.9zM127.3 225.9h0.9v0.9h-0.9zM126.3 226.9h0.9v0.9h-0.9zM128.3 229.6h0.9v0.9h-0.9zM130.0 215.3h0.9v0.9h-0.9zM126.3 226.6h0.9v0.9h-0.9zM138.6 218.2h0.9v0.9h-0.9zM140.0 225.5h0.9v0.9h-0.9zM132.6 216.5h0.9v0.9h-0.9zM127.2 228.3h0.9v0.9h-0.9zM128.2 226.9h0.9v0.9h-0.9zM146.0 225.4h0.9v0.9h-0.9zM126.9 212.5h0.9v0.9h-0.9zM142.1 219.0h0.9v0.9h-0.9zM124.8 219.3h0.9v0.9h-0.9zM127.3 211.2h0.9v0.9h-0.9zM134.9 219.3h0.9v0.9h-0.9zM129.4 214.8h0.9v0.9h-0.9zM132.0 218.1h0.9v0.9h-0.9zM127.5 227.1h0.9v0.9h-0.9zM136.0 227.9h0.9v0.9h-0.9zM137.4 218.0h0.9v0.9h-0.9zM130.1 227.6h0.9v0.9h-0.9zM128.1 217.9h0.9v0.9h-0.9zM129.8 212.9h0.9v0.9h-0.9zM130.3 219.2h0.9v0.9h-0.9zM132.6 215.1h0.9v0.9h-0.9zM124.8 213.8h0.9v0.9h-0.9zM142.7 225.4h0.9v0.9h-0.9zM130.5 215.7h0.9v0.9h-0.9zM150.2 219.0h0.9v0.9h-0.9zM131.4 216.8h0.9v0.9h-0.9zM138.0 225.8h0.9v0.9h-0.9zM129.0 215.9h0.9v0.9h-0.9zM143.2 218.9h0.9v0.9h-0.9zM135.4 219.6h0.9v0.9h-0.9zM130.5 225.3h0.9v0.9h-0.9zM134.4 216.6h0.9v0.9h-0.9zM133.3 219.7h0.9v0.9h-0.9zM129.0 229.8h0.9v0.9h-0.9zM140.7 227.0h0.9v0.9h-0.9zM126.8 230.9h0.9v0.9h-0.9zM148.5 225.6h0.9v0.9h-0.9zM126.5 226.0h0.9v0.9h-0.9zM125.0 228.9h0.9v0.9h-0.9zM128.3 216.6h0.9v0.9h-0.9zM125.2 227.8h0.9v0.9h-0.9zM140.6 218.3h0.9v0.9h-0.9zM137.4 227.4h0.9v0.9h-0.9zM126.1 219.7h0.9v0.9h-0.9zM140.9 218.5h0.9v0.9h-0.9zM150.8 219.6h0.9v0.9h-0.9zM128.2 217.8h0.9v0.9h-0.9zM130.3 225.7h0.9v0.9h-0.9zM124.9 206.9h0.9v0.9h-0.9zM126.9 219.6h0.9v0.9h-0.9zM133.5 219.7h0.9v0.9h-0.9zM131.7 226.0h0.9v0.9h-0.9zM131.7 226.6h0.9v0.9h-0.9zM128.9 216.4h0.9v0.9h-0.9zM128.5 225.7h0.9v0.9h-0.9zM133.7 216.0h0.9v0.9h-0.9zM134.0 217.2h0.9v0.9h-0.9zM135.0 225.9h0.9v0.9h-0.9zM162.8 219.3h0.9v0.9h-0.9zM125.8 227.1h0.9v0.9h-0.9zM139.3 218.5h0.9v0.9h-0.9zM127.5 218.2h0.9v0.9h-0.9zM137.5 219.7h0.9v0.9h-0.9zM142.8 219.2h0.9v0.9h-0.9zM126.9 215.4h0.9v0.9h-0.9zM137.5 226.0h0.9v0.9h-0.9zM130.0 219.6h0.9v0.9h-0.9zM136.0 219.1h0.9v0.9h-0.9zM129.0 226.4h0.9v0.9h-0.9zM140.9 227.1h0.9v0.9h-0.9zM130.0 227.0h0.9v0.9h-0.9zM125.4 228.8h0.9v0.9h-0.9zM126.3 206.9h0.9v0.9h-0.9zM134.3 219.8h0.9v0.9h-0.9zM127.4 227.2h0.9v0.9h-0.9zM124.6 230.9h0.9v0.9h-0.9zM131.3 227.3h0.9v0.9h-0.9zM134.2 214.9h0.9v0.9h-0.9zM127.8 233.3h0.9v0.9h-0.9zM139.8 218.5h0.9v0.9h-0.9zM126.5 226.4h0.9v0.9h-0.9zM131.8 218.6h0.9v0.9h-0.9zM129.7 227.1h0.9v0.9h-0.9zM127.1 219.4h0.9v0.9h-0.9zM133.4 225.7h0.9v0.9h-0.9zM134.2 219.5h0.9v0.9h-0.9zM140.7 226.4h0.9v0.9h-0.9zM142.8 218.8h0.9v0.9h-0.9zM159.3 225.4h0.9v0.9h-0.9zM132.3 226.5h0.9v0.9h-0.9zM134.9 227.3h0.9v0.9h-0.9zM133.1 226.3h0.9v0.9h-0.9zM132.2 219.1h0.9v0.9h-0.9zM130.9 226.5h0.9v0.9h-0.9zM128.4 228.1h0.9v0.9h-0.9zM132.4 225.5h0.9v0.9h-0.9zM129.0 213.5h0.9v0.9h-0.9zM132.4 219.3h0.9v0.9h-0.9zM132.6 217.7h0.9v0.9h-0.9zM141.2 225.3h0.9v0.9h-0.9zM136.5 226.4h0.9v0.9h-0.9zM135.8 220.0h0.9v0.9h-0.9zM129.4 217.8h0.9v0.9h-0.9zM125.8 215.2h0.9v0.9h-0.9zM125.8 216.5h0.9v0.9h-0.9zM126.9 218.6h0.9v0.9h-0.9zM133.7 219.9h0.9v0.9h-0.9zM126.6 218.8h0.9v0.9h-0.9zM130.5 216.2h0.9v0.9h-0.9zM130.7 227.4h0.9v0.9h-0.9zM155.5 219.1h0.9v0.9h-0.9zM127.0 227.0h0.9v0.9h-0.9zM127.9 216.7h0.9v0.9h-0.9zM125.9 231.7h0.9v0.9h-0.9zM141.4 220.0h0.9v0.9h-0.9zM134.2 219.3h0.9v0.9h-0.9zM132.3 229.4h0.9v0.9h-0.9zM131.2 232.3h0.9v0.9h-0.9zM143.4 217.5h0.9v0.9h-0.9zM133.5 218.1h0.9v0.9h-0.9zM131.8 227.2h0.9v0.9h-0.9zM140.6 227.4h0.9v0.9h-0.9zM131.8 219.1h0.9v0.9h-0.9zM128.5 226.6h0.9v0.9h-0.9zM136.6 216.6h0.9v0.9h-0.9zM130.1 218.0h0.9v0.9h-0.9zM137.6 216.8h0.9v0.9h-0.9zM124.7 229.1h0.9v0.9h-0.9zM128.4 218.0h0.9v0.9h-0.9zM129.2 219.0h0.9v0.9h-0.9zM135.2 219.0h0.9v0.9h-0.9zM144.4 219.7h0.9v0.9h-0.9zM130.2 225.9h0.9v0.9h-0.9zM129.5 226.6h0.9v0.9h-0.9zM130.7 226.6h0.9v0.9h-0.9zM128.3 215.0h0.9v0.9h-0.9zM127.5 215.0h0.9v0.9h-0.9zM133.6 226.7h0.9v0.9h-0.9zM128.7 229.1h0.9v0.9h-0.9zM125.8 227.9h0.9v0.9h-0.9zM136.2 219.3h0.9v0.9h-0.9zM154.1 225.5h0.9v0.9h-0.9zM124.3 226.6h0.9v0.9h-0.9zM130.8 216.3h0.9v0.9h-0.9zM135.1 217.9h0.9v0.9h-0.9zM129.3 227.0h0.9v0.9h-0.9zM126.3 229.6h0.9v0.9h-0.9zM125.7 211.8h0.9v0.9h-0.9zM131.9 216.8h0.9v0.9h-0.9zM136.7 219.6h0.9v0.9h-0.9zM126.6 215.0h0.9v0.9h-0.9zM133.8 212.3h0.9v0.9h-0.9zM142.5 219.7h0.9v0.9h-0.9zM124.5 231.9h0.9v0.9h-0.9zM130.5 216.2h0.9v0.9h-0.9zM142.5 225.7h0.9v0.9h-0.9zM134.8 227.6h0.9v0.9h-0.9zM125.2 213.9h0.9v0.9h-0.9zM139.6 227.9h0.9v0.9h-0.9zM133.2 212.4h0.9v0.9h-0.9zM137.4 218.8h0.9v0.9h-0.9zM137.1 219.9h0.9v0.9h-0.9zM128.1 215.9h0.9v0.9h-0.9zM144.4 225.7h0.9v0.9h-0.9zM132.8 219.1h0.9v0.9h-0.9zM147.1 219.6h0.9v0.9h-0.9zM147.8 225.6h0.9v0.9h-0.9zM130.2 227.8h0.9v0.9h-0.9zM138.2 218.7h0.9v0.9h-0.9zM125.6 226.9h0.9v0.9h-0.9zM139.7 225.6h0.9v0.9h-0.9zM129.2 231.2h0.9v0.9h-0.9zM132.9 219.4h0.9v0.9h-0.9zM136.6 225.9h0.9v0.9h-0.9zM145.4 226.0h0.9v0.9h-0.9zM131.0 215.5h0.9v0.9h-0.9zM134.9 225.3h0.9v0.9h-0.9zM125.3 226.8h0.9v0.9h-0.9zM132.1 215.3h0.9v0.9h-0.9zM143.8 226.0h0.9v0.9h-0.9zM133.1 217.8h0.9v0.9h-0.9zM130.4 227.5h0.9v0.9h-0.9zM153.2 219.5h0.9v0.9h-0.9zM131.6 225.6h0.9v0.9h-0.9zM133.6 227.3h0.9v0.9h-0.9zM138.9 226.8h0.9v0.9h-0.9zM127.6 218.0h0.9v0.9h-0.9zM125.6 216.5h0.9v0.9h-0.9zM147.4 219.1h0.9v0.9h-0.9zM147.1 225.7h0.9v0.9h-0.9zM125.1 213.0h0.9v0.9h-0.9zM134.5 225.4h0.9v0.9h-0.9zM116.1 218.6h0.9v0.9h-0.9zM117.0 220.1h0.9v0.9h-0.9zM131.0 217.8h0.9v0.9h-0.9zM123.5 230.6h0.9v0.9h-0.9zM127.7 214.4h0.9v0.9h-0.9zM129.3 216.1h0.9v0.9h-0.9zM129.8 225.5h0.9v0.9h-0.9zM131.2 231.5h0.9v0.9h-0.9zM121.6 213.9h0.9v0.9h-0.9zM131.5 221.5h0.9v0.9h-0.9zM120.8 228.5h0.9v0.9h-0.9zM134.4 218.4h0.9v0.9h-0.9zM117.9 225.7h0.9v0.9h-0.9zM122.9 218.5h0.9v0.9h-0.9zM120.6 230.0h0.9v0.9h-0.9zM130.9 220.7h0.9v0.9h-0.9zM123.4 230.6h0.9v0.9h-0.9zM120.8 219.9h0.9v0.9h-0.9z" fill="#111"/>
<path d="M147.8 219.4h0.9v0.9h-0.9zM144.1 218.6h0.9v0.9h-0.9zM137.8 218.9h0.9v0.9h-0.9zM139.4 219.9h0.9v0.9h-0.9zM140.9 219.3h0.9v0.9h-0.9zM133.1 218.3h0.9v0.9h-0.9zM142.0 218.0h0.9v0.9h-0.9zM135.8 219.8h0.9v0.9h-0.9zM163.0 219.6h0.9v0.9h-0.9zM136.3 217.8h0.9v0.9h-0.9zM147.0 219.6h0.9v0.9h-0.9zM137.0 219.8h0.9v0.9h-0.9zM135.7 218.7h0.9v0.9h-0.9zM144.2 220.0h0.9v0.9h-0.9zM139.9 219.0h0.9v0.9h-0.9zM145.5 218.0h0.9v0.9h-0.9zM133.7 218.0h0.9v0.9h-0.9zM142.4 219.1h0.9v0.9h-0.9zM143.5 219.7h0.9v0.9h-0.9zM134.3 218.6h0.9v0.9h-0.9zM140.2 218.8h0.9v0.9h-0.9zM137.2 219.4h0.9v0.9h-0.9zM139.9 219.4h0.9v0.9h-0.9zM141.3 218.8h0.9v0.9h-0.9zM145.8 219.6h0.9v0.9h-0.9zM164.7 219.9h0.9v0.9h-0.9zM133.5 218.9h0.9v0.9h-0.9zM137.3 219.8h0.9v0.9h-0.9zM149.8 219.7h0.9v0.9h-0.9zM162.8 219.9h0.9v0.9h-0.9zM135.1 219.4h0.9v0.9h-0.9zM148.1 219.6h0.9v0.9h-0.9zM141.0 219.5h0.9v0.9h-0.9zM143.2 218.9h0.9v0.9h-0.9zM135.2 218.1h0.9v0.9h-0.9zM157.1 219.9h0.9v0.9h-0.9zM141.0 219.8h0.9v0.9h-0.9zM149.0 219.4h0.9v0.9h-0.9zM148.5 220.0h0.9v0.9h-0.9zM140.1 218.2h0.9v0.9h-0.9zM138.3 219.8h0.9v0.9h-0.9zM133.3 219.1h0.9v0.9h-0.9zM156.4 219.8h0.9v0.9h-0.9zM147.3 219.5h0.9v0.9h-0.9zM138.1 219.8h0.9v0.9h-0.9zM142.2 219.5h0.9v0.9h-0.9zM143.9 219.5h0.9v0.9h-0.9zM152.9 219.3h0.9v0.9h-0.9zM133.9 218.8h0.9v0.9h-0.9zM133.5 218.6h0.9v0.9h-0.9zM140.6 219.9h0.9v0.9h-0.9zM134.3 218.0h0.9v0.9h-0.9zM149.8 219.1h0.9v0.9h-0.9zM137.8 218.7h0.9v0.9h-0.9zM147.3 219.8h0.9v0.9h-0.9zM134.7 220.0h0.9v0.9h-0.9zM139.0 219.2h0.9v0.9h-0.9zM142.8 219.3h0.9v0.9h-0.9zM144.2 219.6h0.9v0.9h-0.9zM144.1 219.3h0.9v0.9h-0.9zM139.0 219.4h0.9v0.9h-0.9zM136.3 218.9h0.9v0.9h-0.9zM138.7 219.1h0.9v0.9h-0.9zM144.1 217.6h0.9v0.9h-0.9zM138.7 219.8h0.9v0.9h-0.9zM148.9 218.8h0.9v0.9h-0.9zM147.7 219.6h0.9v0.9h-0.9zM139.7 219.6h0.9v0.9h-0.9zM142.5 218.7h0.9v0.9h-0.9zM153.8 219.2h0.9v0.9h-0.9zM150.8 219.4h0.9v0.9h-0.9zM140.3 219.6h0.9v0.9h-0.9zM139.8 219.4h0.9v0.9h-0.9zM156.6 219.6h0.9v0.9h-0.9zM152.9 218.7h0.9v0.9h-0.9zM139.9 219.0h0.9v0.9h-0.9zM135.5 218.3h0.9v0.9h-0.9zM156.5 219.5h0.9v0.9h-0.9zM140.6 219.8h0.9v0.9h-0.9zM159.0 219.8h0.9v0.9h-0.9zM139.0 217.9h0.9v0.9h-0.9zM156.5 217.5h0.9v0.9h-0.9zM156.3 218.9h0.9v0.9h-0.9zM147.9 218.7h0.9v0.9h-0.9zM147.0 218.4h0.9v0.9h-0.9zM145.4 219.7h0.9v0.9h-0.9zM135.5 217.9h0.9v0.9h-0.9zM159.2 219.2h0.9v0.9h-0.9zM151.6 219.0h0.9v0.9h-0.9zM137.1 219.6h0.9v0.9h-0.9zM142.3 218.8h0.9v0.9h-0.9zM136.2 219.4h0.9v0.9h-0.9zM141.1 218.8h0.9v0.9h-0.9zM140.4 219.1h0.9v0.9h-0.9zM149.3 219.8h0.9v0.9h-0.9zM139.2 217.2h0.9v0.9h-0.9zM154.9 219.8h0.9v0.9h-0.9zM159.8 218.6h0.9v0.9h-0.9zM149.8 219.7h0.9v0.9h-0.9zM150.4 219.9h0.9v0.9h-0.9z" fill="#c81e2a"/>
<line x1="113.90" y1="220.56" x2="192.70" y2="220.56" stroke="#777" stroke-width="0.45" />
<line x1="113.90" y1="224.64" x2="192.70" y2="224.64" stroke="#777" stroke-width="0.45" />
<line x1="125.90" y1="196.90" x2="125.90" y2="249.60" stroke="#8a8a8a" stroke-width="0.5" />
<rect x="113.90" y="196.90" width="78.80" height="52.70" fill="none" stroke="#777" stroke-width="0.6" />
<text x="112.90" y="198.53" font-size="5.3" text-anchor="end" fill="#222" stroke="#222" stroke-width="0.1" >6</text>
<text x="112.90" y="207.19" font-size="5.3" text-anchor="end" fill="#222" stroke="#222" stroke-width="0.1" >4</text>
<text x="112.90" y="215.85" font-size="5.3" text-anchor="end" fill="#222" stroke="#222" stroke-width="0.1" >2</text>
<text x="112.90" y="224.51" font-size="5.3" text-anchor="end" fill="#222" stroke="#222" stroke-width="0.1" >0</text>
<text x="112.90" y="233.17" font-size="5.3" text-anchor="end" fill="#222" stroke="#222" stroke-width="0.1" >-2</text>
<text x="112.90" y="241.83" font-size="5.3" text-anchor="end" fill="#222" stroke="#222" stroke-width="0.1" >-4</text>
<text x="112.90" y="250.49" font-size="5.3" text-anchor="end" fill="#222" stroke="#222" stroke-width="0.1" >-6</text>
<text x="125.90" y="254.51" font-size="5.3" text-anchor="middle" fill="#222" stroke="#222" stroke-width="0.1" >0</text>
<text x="147.55" y="254.51" font-size="5.3" text-anchor="middle" fill="#222" stroke="#222" stroke-width="0.1" >5</text>
<text x="169.20" y="254.51" font-size="5.3" text-anchor="middle" fill="#222" stroke="#222" stroke-width="0.1" >10</text>
<text x="190.85" y="254.51" font-size="5.3" text-anchor="middle" fill="#222" stroke="#222" stroke-width="0.1" >15</text>
<text x="157.30" y="258.82" font-size="5.62" text-anchor="middle" fill="#222" stroke="#222" stroke-width="0.1" >Log2 (Average)</text>
<text x="106.50" y="222.82" font-size="5.62" text-anchor="middle" fill="#222" stroke="#222" stroke-width="0.1"  transform="rotate(-90 106.50 220.80)">Log2 (Fold Change)</text>
<line x1="121.00" y1="212.00" x2="124.00" y2="217.00" stroke="#78a8b4" stroke-width="0.4" />
<line x1="141.00" y1="207.50" x2="141.00" y2="217.00" stroke="#78a8b4" stroke-width="0.4" />
<line x1="155.00" y1="207.50" x2="148.00" y2="218.00" stroke="#78a8b4" stroke-width="0.4" />
<line x1="161.00" y1="215.50" x2="152.00" y2="220.00" stroke="#78a8b4" stroke-width="0.4" />
<line x1="174.00" y1="217.50" x2="165.00" y2="221.00" stroke="#78a8b4" stroke-width="0.4" />
<line x1="167.00" y1="233.00" x2="158.00" y2="225.00" stroke="#78a8b4" stroke-width="0.4" />
<line x1="122.00" y1="234.50" x2="127.00" y2="227.00" stroke="#78a8b4" stroke-width="0.4" />
<line x1="138.00" y1="235.00" x2="135.00" y2="227.00" stroke="#78a8b4" stroke-width="0.4" />
<line x1="131.00" y1="241.50" x2="132.00" y2="228.00" stroke="#78a8b4" stroke-width="0.4" />
<text x="115.80" y="212.41" font-size="5.3" text-anchor="start" fill="#e33b4b" stroke="#e33b4b" stroke-width="0.1" font-style="italic" >Ifi2</text>
<text x="136.00" y="207.51" font-size="5.3" text-anchor="start" fill="#e33b4b" stroke="#e33b4b" stroke-width="0.1" font-style="italic" >Ifi204</text>
<text x="152.00" y="207.51" font-size="5.3" text-anchor="start" fill="#e33b4b" stroke="#e33b4b" stroke-width="0.1" font-style="italic" >Isg15</text>
<text x="160.50" y="216.21" font-size="5.3" text-anchor="start" fill="#e33b4b" stroke="#e33b4b" stroke-width="0.1" font-style="italic" >Zbp1</text>
<text x="174.40" y="218.41" font-size="5.3" text-anchor="start" fill="#e33b4b" stroke="#e33b4b" stroke-width="0.1" font-style="italic" >Ifi27</text>
<text x="165.70" y="236.61" font-size="5.3" text-anchor="start" fill="#e33b4b" stroke="#e33b4b" stroke-width="0.1" font-style="italic" >Ifi27l2a</text>
<text x="116.40" y="238.51" font-size="5.3" text-anchor="start" fill="#e33b4b" stroke="#e33b4b" stroke-width="0.1" font-style="italic" >Rtp4</text>
<text x="136.30" y="238.51" font-size="5.3" text-anchor="start" fill="#e33b4b" stroke="#e33b4b" stroke-width="0.1" font-style="italic" >Ifit1</text>
<text x="128.50" y="245.41" font-size="5.3" text-anchor="start" fill="#e33b4b" stroke="#e33b4b" stroke-width="0.1" font-style="italic" >Rsad2</text>
<text x="257.30" y="195.17" font-size="6.04" text-anchor="middle" fill="#222" stroke="#222" stroke-width="0.1" >Control vs sg<tspan font-style="italic">Scd2</tspan>/sg<tspan font-style="italic">Irf7</tspan></text>
<path d="M245.7 222.4h0.8v0.8h-0.8zM282.3 222.4h0.8v0.8h-0.8zM253.9 223.6h0.8v0.8h-0.8zM252.8 221.9h0.8v0.8h-0.8zM281.0 222.1h0.8v0.8h-0.8zM260.9 222.8h0.8v0.8h-0.8zM251.9 221.5h0.8v0.8h-0.8zM282.0 221.8h0.8v0.8h-0.8zM250.5 222.9h0.8v0.8h-0.8zM271.9 222.0h0.8v0.8h-0.8zM241.9 223.0h0.8v0.8h-0.8zM265.4 222.4h0.8v0.8h-0.8zM267.2 224.4h0.8v0.8h-0.8zM260.0 221.4h0.8v0.8h-0.8zM280.7 223.6h0.8v0.8h-0.8zM247.4 222.0h0.8v0.8h-0.8zM279.2 222.1h0.8v0.8h-0.8zM256.3 223.3h0.8v0.8h-0.8zM240.3 222.2h0.8v0.8h-0.8zM241.5 220.8h0.8v0.8h-0.8zM266.9 221.3h0.8v0.8h-0.8zM278.9 223.9h0.8v0.8h-0.8zM255.3 223.4h0.8v0.8h-0.8zM278.2 222.4h0.8v0.8h-0.8zM264.7 223.2h0.8v0.8h-0.8zM269.4 224.4h0.8v0.8h-0.8zM246.9 223.3h0.8v0.8h-0.8zM255.7 223.2h0.8v0.8h-0.8zM260.1 223.0h0.8v0.8h-0.8zM249.8 221.8h0.8v0.8h-0.8zM276.7 222.0h0.8v0.8h-0.8zM251.5 224.0h0.8v0.8h-0.8zM259.1 220.8h0.8v0.8h-0.8zM249.7 223.4h0.8v0.8h-0.8zM260.9 223.2h0.8v0.8h-0.8zM247.8 224.0h0.8v0.8h-0.8zM260.9 224.4h0.8v0.8h-0.8zM274.7 222.4h0.8v0.8h-0.8zM243.7 222.2h0.8v0.8h-0.8zM249.1 224.3h0.8v0.8h-0.8zM256.4 221.9h0.8v0.8h-0.8zM269.5 221.9h0.8v0.8h-0.8zM273.8 223.4h0.8v0.8h-0.8zM251.3 222.3h0.8v0.8h-0.8zM241.2 220.8h0.8v0.8h-0.8zM243.7 220.8h0.8v0.8h-0.8zM277.8 220.8h0.8v0.8h-0.8zM274.8 222.1h0.8v0.8h-0.8zM250.0 221.4h0.8v0.8h-0.8zM245.3 223.0h0.8v0.8h-0.8zM244.2 222.6h0.8v0.8h-0.8zM246.8 221.7h0.8v0.8h-0.8zM246.3 223.9h0.8v0.8h-0.8zM246.2 221.7h0.8v0.8h-0.8zM249.5 221.5h0.8v0.8h-0.8zM276.4 222.8h0.8v0.8h-0.8zM256.2 221.7h0.8v0.8h-0.8zM276.7 224.2h0.8v0.8h-0.8zM256.3 222.3h0.8v0.8h-0.8zM275.4 222.2h0.8v0.8h-0.8zM241.2 224.1h0.8v0.8h-0.8zM256.8 222.4h0.8v0.8h-0.8zM271.9 222.6h0.8v0.8h-0.8zM262.0 223.4h0.8v0.8h-0.8zM270.2 222.3h0.8v0.8h-0.8zM268.4 221.6h0.8v0.8h-0.8zM253.2 222.4h0.8v0.8h-0.8zM265.8 222.9h0.8v0.8h-0.8zM243.2 221.5h0.8v0.8h-0.8zM280.8 224.4h0.8v0.8h-0.8zM263.9 223.6h0.8v0.8h-0.8zM262.8 223.9h0.8v0.8h-0.8zM245.3 221.6h0.8v0.8h-0.8zM284.5 222.9h0.8v0.8h-0.8zM241.6 222.4h0.8v0.8h-0.8zM265.1 221.4h0.8v0.8h-0.8zM262.9 222.5h0.8v0.8h-0.8zM257.2 222.2h0.8v0.8h-0.8zM258.9 221.6h0.8v0.8h-0.8zM260.2 222.2h0.8v0.8h-0.8zM248.4 224.3h0.8v0.8h-0.8zM269.2 224.0h0.8v0.8h-0.8zM243.7 221.8h0.8v0.8h-0.8zM274.8 222.8h0.8v0.8h-0.8zM259.1 222.0h0.8v0.8h-0.8zM258.2 222.3h0.8v0.8h-0.8zM273.7 222.8h0.8v0.8h-0.8zM275.6 222.6h0.8v0.8h-0.8zM274.3 220.8h0.8v0.8h-0.8zM255.9 222.8h0.8v0.8h-0.8zM245.8 222.1h0.8v0.8h-0.8zM238.8 222.8h0.8v0.8h-0.8zM274.5 221.7h0.8v0.8h-0.8zM271.4 223.8h0.8v0.8h-0.8zM269.9 222.6h0.8v0.8h-0.8zM273.3 221.3h0.8v0.8h-0.8zM239.6 223.6h0.8v0.8h-0.8zM283.7 224.3h0.8v0.8h-0.8zM267.7 222.1h0.8v0.8h-0.8zM280.7 220.8h0.8v0.8h-0.8zM249.2 223.4h0.8v0.8h-0.8zM249.9 221.9h0.8v0.8h-0.8zM268.2 223.6h0.8v0.8h-0.8zM264.8 224.4h0.8v0.8h-0.8zM274.2 223.5h0.8v0.8h-0.8zM256.5 222.5h0.8v0.8h-0.8zM267.6 222.1h0.8v0.8h-0.8zM249.0 221.9h0.8v0.8h-0.8zM240.3 223.1h0.8v0.8h-0.8zM279.3 221.6h0.8v0.8h-0.8zM240.7 221.3h0.8v0.8h-0.8zM256.7 222.1h0.8v0.8h-0.8zM281.8 222.8h0.8v0.8h-0.8zM271.7 223.4h0.8v0.8h-0.8zM273.6 222.8h0.8v0.8h-0.8zM258.0 223.1h0.8v0.8h-0.8zM270.2 221.9h0.8v0.8h-0.8zM257.5 221.8h0.8v0.8h-0.8zM249.9 222.6h0.8v0.8h-0.8zM246.5 224.4h0.8v0.8h-0.8zM238.9 224.4h0.8v0.8h-0.8zM255.8 221.3h0.8v0.8h-0.8zM256.5 223.0h0.8v0.8h-0.8zM240.8 223.0h0.8v0.8h-0.8zM260.0 222.6h0.8v0.8h-0.8zM268.7 223.4h0.8v0.8h-0.8zM283.2 221.8h0.8v0.8h-0.8zM263.6 221.8h0.8v0.8h-0.8zM243.6 222.0h0.8v0.8h-0.8zM266.8 221.8h0.8v0.8h-0.8zM244.3 221.9h0.8v0.8h-0.8zM281.7 221.9h0.8v0.8h-0.8zM270.9 222.9h0.8v0.8h-0.8zM244.8 222.9h0.8v0.8h-0.8zM279.0 222.1h0.8v0.8h-0.8zM283.9 223.1h0.8v0.8h-0.8zM279.6 223.4h0.8v0.8h-0.8zM274.7 222.5h0.8v0.8h-0.8zM246.7 223.5h0.8v0.8h-0.8zM272.6 223.9h0.8v0.8h-0.8zM262.2 221.5h0.8v0.8h-0.8zM253.8 220.8h0.8v0.8h-0.8zM279.6 224.3h0.8v0.8h-0.8zM257.5 222.3h0.8v0.8h-0.8zM242.8 223.4h0.8v0.8h-0.8zM270.6 222.8h0.8v0.8h-0.8zM245.7 223.3h0.8v0.8h-0.8zM264.6 221.9h0.8v0.8h-0.8zM246.1 224.4h0.8v0.8h-0.8zM249.5 223.0h0.8v0.8h-0.8zM253.0 222.0h0.8v0.8h-0.8zM275.2 223.9h0.8v0.8h-0.8zM251.7 224.2h0.8v0.8h-0.8zM260.4 224.4h0.8v0.8h-0.8zM270.1 224.4h0.8v0.8h-0.8zM283.4 222.5h0.8v0.8h-0.8zM271.9 221.1h0.8v0.8h-0.8zM274.7 224.0h0.8v0.8h-0.8zM267.5 223.6h0.8v0.8h-0.8zM248.5 222.8h0.8v0.8h-0.8zM260.4 221.8h0.8v0.8h-0.8zM242.0 222.7h0.8v0.8h-0.8zM248.5 222.6h0.8v0.8h-0.8zM282.4 221.9h0.8v0.8h-0.8zM270.8 222.8h0.8v0.8h-0.8zM248.9 223.3h0.8v0.8h-0.8zM262.9 224.0h0.8v0.8h-0.8zM263.3 222.4h0.8v0.8h-0.8zM284.3 220.8h0.8v0.8h-0.8zM243.9 221.9h0.8v0.8h-0.8zM272.2 222.7h0.8v0.8h-0.8zM247.6 223.5h0.8v0.8h-0.8zM240.4 223.3h0.8v0.8h-0.8zM244.3 221.4h0.8v0.8h-0.8zM266.2 223.4h0.8v0.8h-0.8zM244.6 224.0h0.8v0.8h-0.8zM268.5 222.3h0.8v0.8h-0.8zM245.4 220.8h0.8v0.8h-0.8zM246.3 221.7h0.8v0.8h-0.8zM245.6 222.4h0.8v0.8h-0.8zM255.1 223.6h0.8v0.8h-0.8zM255.0 221.6h0.8v0.8h-0.8zM249.9 223.5h0.8v0.8h-0.8zM246.2 222.9h0.8v0.8h-0.8zM254.1 222.5h0.8v0.8h-0.8zM248.5 222.6h0.8v0.8h-0.8zM249.5 222.1h0.8v0.8h-0.8zM279.0 222.1h0.8v0.8h-0.8zM283.6 221.4h0.8v0.8h-0.8zM245.3 221.6h0.8v0.8h-0.8zM242.6 222.1h0.8v0.8h-0.8zM246.6 222.1h0.8v0.8h-0.8zM248.7 222.0h0.8v0.8h-0.8zM243.3 222.2h0.8v0.8h-0.8zM247.8 222.8h0.8v0.8h-0.8zM278.6 222.8h0.8v0.8h-0.8zM246.0 223.6h0.8v0.8h-0.8zM245.0 222.7h0.8v0.8h-0.8zM284.0 222.5h0.8v0.8h-0.8zM276.8 221.0h0.8v0.8h-0.8zM260.9 222.6h0.8v0.8h-0.8zM262.5 220.9h0.8v0.8h-0.8zM248.4 223.0h0.8v0.8h-0.8zM265.4 223.5h0.8v0.8h-0.8zM278.6 222.0h0.8v0.8h-0.8zM245.7 224.1h0.8v0.8h-0.8zM259.3 223.1h0.8v0.8h-0.8zM280.5 222.8h0.8v0.8h-0.8zM246.4 222.5h0.8v0.8h-0.8zM239.7 222.1h0.8v0.8h-0.8zM256.9 223.3h0.8v0.8h-0.8zM267.5 220.8h0.8v0.8h-0.8zM272.5 221.7h0.8v0.8h-0.8zM245.5 222.6h0.8v0.8h-0.8zM251.6 221.8h0.8v0.8h-0.8zM249.0 222.7h0.8v0.8h-0.8zM239.4 222.4h0.8v0.8h-0.8zM266.7 221.0h0.8v0.8h-0.8zM260.6 223.3h0.8v0.8h-0.8zM249.6 224.1h0.8v0.8h-0.8zM247.2 222.1h0.8v0.8h-0.8zM273.9 223.8h0.8v0.8h-0.8zM255.0 223.8h0.8v0.8h-0.8zM247.4 221.8h0.8v0.8h-0.8zM273.4 222.7h0.8v0.8h-0.8zM282.0 223.2h0.8v0.8h-0.8zM255.5 223.5h0.8v0.8h-0.8zM270.6 222.9h0.8v0.8h-0.8zM253.8 222.9h0.8v0.8h-0.8zM252.7 222.8h0.8v0.8h-0.8zM269.6 220.8h0.8v0.8h-0.8zM259.5 221.8h0.8v0.8h-0.8zM261.4 221.8h0.8v0.8h-0.8zM255.1 222.5h0.8v0.8h-0.8zM263.4 223.3h0.8v0.8h-0.8zM283.5 221.8h0.8v0.8h-0.8zM243.2 221.9h0.8v0.8h-0.8zM279.5 224.2h0.8v0.8h-0.8zM249.2 223.6h0.8v0.8h-0.8zM264.4 224.1h0.8v0.8h-0.8zM245.6 221.1h0.8v0.8h-0.8zM245.1 223.3h0.8v0.8h-0.8zM276.3 223.1h0.8v0.8h-0.8zM278.3 223.7h0.8v0.8h-0.8zM266.1 222.1h0.8v0.8h-0.8zM270.6 220.8h0.8v0.8h-0.8zM249.8 223.7h0.8v0.8h-0.8zM279.4 224.3h0.8v0.8h-0.8zM255.0 221.9h0.8v0.8h-0.8zM264.2 221.2h0.8v0.8h-0.8zM276.1 221.3h0.8v0.8h-0.8zM254.5 223.1h0.8v0.8h-0.8zM244.3 223.1h0.8v0.8h-0.8zM249.4 222.9h0.8v0.8h-0.8zM284.0 222.1h0.8v0.8h-0.8zM256.5 223.4h0.8v0.8h-0.8zM284.7 223.6h0.8v0.8h-0.8zM270.7 221.7h0.8v0.8h-0.8zM259.2 222.3h0.8v0.8h-0.8zM281.2 224.4h0.8v0.8h-0.8zM276.7 222.7h0.8v0.8h-0.8zM261.3 223.2h0.8v0.8h-0.8zM239.1 222.4h0.8v0.8h-0.8zM276.4 222.5h0.8v0.8h-0.8zM255.3 223.5h0.8v0.8h-0.8zM265.8 223.3h0.8v0.8h-0.8zM247.8 222.7h0.8v0.8h-0.8zM253.0 222.0h0.8v0.8h-0.8zM254.0 223.9h0.8v0.8h-0.8zM260.1 221.7h0.8v0.8h-0.8zM266.8 220.8h0.8v0.8h-0.8zM251.2 222.6h0.8v0.8h-0.8zM265.7 223.2h0.8v0.8h-0.8zM271.0 222.0h0.8v0.8h-0.8zM282.5 220.8h0.8v0.8h-0.8zM245.7 223.4h0.8v0.8h-0.8zM272.4 223.4h0.8v0.8h-0.8zM282.1 223.1h0.8v0.8h-0.8zM267.4 221.5h0.8v0.8h-0.8zM274.9 222.6h0.8v0.8h-0.8zM260.4 223.3h0.8v0.8h-0.8zM241.1 223.1h0.8v0.8h-0.8zM270.0 222.2h0.8v0.8h-0.8zM256.1 223.1h0.8v0.8h-0.8zM246.2 223.7h0.8v0.8h-0.8zM265.2 221.1h0.8v0.8h-0.8zM265.8 223.8h0.8v0.8h-0.8zM254.1 223.8h0.8v0.8h-0.8zM276.2 224.2h0.8v0.8h-0.8zM259.2 223.8h0.8v0.8h-0.8zM239.9 221.9h0.8v0.8h-0.8zM267.2 222.8h0.8v0.8h-0.8zM281.5 221.8h0.8v0.8h-0.8zM265.9 222.5h0.8v0.8h-0.8zM249.3 222.0h0.8v0.8h-0.8zM262.2 223.3h0.8v0.8h-0.8zM281.9 223.4h0.8v0.8h-0.8zM272.4 221.3h0.8v0.8h-0.8zM245.2 223.9h0.8v0.8h-0.8zM257.6 222.3h0.8v0.8h-0.8zM275.8 223.2h0.8v0.8h-0.8zM243.6 222.3h0.8v0.8h-0.8zM264.6 223.3h0.8v0.8h-0.8zM250.3 224.3h0.8v0.8h-0.8zM262.7 221.9h0.8v0.8h-0.8zM282.4 221.4h0.8v0.8h-0.8zM260.9 224.3h0.8v0.8h-0.8zM254.9 222.7h0.8v0.8h-0.8zM240.6 221.8h0.8v0.8h-0.8zM242.5 222.4h0.8v0.8h-0.8zM240.8 224.4h0.8v0.8h-0.8zM284.0 223.3h0.8v0.8h-0.8zM250.3 221.6h0.8v0.8h-0.8zM259.4 222.3h0.8v0.8h-0.8zM283.6 222.2h0.8v0.8h-0.8zM248.5 222.7h0.8v0.8h-0.8zM272.2 224.1h0.8v0.8h-0.8zM276.7 220.9h0.8v0.8h-0.8zM274.1 220.8h0.8v0.8h-0.8zM243.0 223.0h0.8v0.8h-0.8zM241.1 223.9h0.8v0.8h-0.8zM269.4 222.6h0.8v0.8h-0.8zM282.0 223.7h0.8v0.8h-0.8zM279.6 223.1h0.8v0.8h-0.8zM248.7 223.2h0.8v0.8h-0.8zM250.7 220.8h0.8v0.8h-0.8zM251.7 223.6h0.8v0.8h-0.8zM274.9 221.9h0.8v0.8h-0.8zM247.3 221.4h0.8v0.8h-0.8zM249.1 221.8h0.8v0.8h-0.8zM275.1 224.4h0.8v0.8h-0.8zM247.2 223.2h0.8v0.8h-0.8zM262.8 222.3h0.8v0.8h-0.8zM254.7 222.3h0.8v0.8h-0.8zM270.4 222.3h0.8v0.8h-0.8zM264.1 224.3h0.8v0.8h-0.8zM283.8 221.8h0.8v0.8h-0.8zM248.7 222.5h0.8v0.8h-0.8zM265.7 221.1h0.8v0.8h-0.8zM272.4 222.7h0.8v0.8h-0.8zM240.0 221.1h0.8v0.8h-0.8zM242.0 223.1h0.8v0.8h-0.8zM255.0 222.0h0.8v0.8h-0.8zM242.0 222.7h0.8v0.8h-0.8zM279.4 222.2h0.8v0.8h-0.8zM279.9 223.0h0.8v0.8h-0.8zM262.9 223.3h0.8v0.8h-0.8zM249.9 221.0h0.8v0.8h-0.8zM259.4 222.2h0.8v0.8h-0.8zM259.3 224.0h0.8v0.8h-0.8zM277.4 223.2h0.8v0.8h-0.8zM279.5 223.0h0.8v0.8h-0.8zM278.5 222.3h0.8v0.8h-0.8zM283.5 222.7h0.8v0.8h-0.8zM284.2 222.0h0.8v0.8h-0.8zM264.6 222.5h0.8v0.8h-0.8zM262.8 220.8h0.8v0.8h-0.8zM269.5 222.7h0.8v0.8h-0.8zM266.1 221.3h0.8v0.8h-0.8zM256.1 220.8h0.8v0.8h-0.8zM239.9 221.5h0.8v0.8h-0.8zM250.9 220.9h0.8v0.8h-0.8zM241.0 222.1h0.8v0.8h-0.8zM277.7 221.1h0.8v0.8h-0.8zM259.5 223.5h0.8v0.8h-0.8zM244.5 221.4h0.8v0.8h-0.8zM247.2 223.7h0.8v0.8h-0.8zM271.2 222.1h0.8v0.8h-0.8zM277.1 221.7h0.8v0.8h-0.8zM240.1 220.8h0.8v0.8h-0.8zM242.5 223.5h0.8v0.8h-0.8zM239.0 222.5h0.8v0.8h-0.8zM267.5 222.9h0.8v0.8h-0.8zM244.1 222.7h0.8v0.8h-0.8zM253.4 222.6h0.8v0.8h-0.8zM241.8 224.4h0.8v0.8h-0.8zM260.0 224.2h0.8v0.8h-0.8zM270.6 221.3h0.8v0.8h-0.8zM275.0 222.8h0.8v0.8h-0.8zM280.2 222.5h0.8v0.8h-0.8zM239.2 223.3h0.8v0.8h-0.8zM270.4 222.3h0.8v0.8h-0.8zM281.8 222.9h0.8v0.8h-0.8zM265.4 222.4h0.8v0.8h-0.8zM267.4 223.4h0.8v0.8h-0.8zM279.0 223.1h0.8v0.8h-0.8zM261.5 222.3h0.8v0.8h-0.8zM271.9 222.9h0.8v0.8h-0.8zM247.2 221.9h0.8v0.8h-0.8zM259.0 223.2h0.8v0.8h-0.8zM263.2 223.3h0.8v0.8h-0.8zM266.9 224.4h0.8v0.8h-0.8zM283.4 222.9h0.8v0.8h-0.8zM262.8 221.9h0.8v0.8h-0.8zM238.7 220.8h0.8v0.8h-0.8zM275.5 222.7h0.8v0.8h-0.8zM264.3 221.2h0.8v0.8h-0.8zM240.8 222.8h0.8v0.8h-0.8zM249.4 224.4h0.8v0.8h-0.8zM249.6 222.8h0.8v0.8h-0.8zM279.6 222.0h0.8v0.8h-0.8zM265.4 223.1h0.8v0.8h-0.8zM238.7 220.8h0.8v0.8h-0.8zM266.0 222.4h0.8v0.8h-0.8zM263.3 221.9h0.8v0.8h-0.8zM264.7 224.4h0.8v0.8h-0.8zM262.4 222.4h0.8v0.8h-0.8zM275.9 224.3h0.8v0.8h-0.8zM242.3 222.9h0.8v0.8h-0.8zM270.3 223.3h0.8v0.8h-0.8zM241.8 220.8h0.8v0.8h-0.8zM265.7 223.8h0.8v0.8h-0.8zM278.1 220.8h0.8v0.8h-0.8zM269.8 222.0h0.8v0.8h-0.8zM264.0 222.4h0.8v0.8h-0.8zM273.2 222.1h0.8v0.8h-0.8zM262.0 224.0h0.8v0.8h-0.8zM265.8 223.7h0.8v0.8h-0.8zM282.1 221.5h0.8v0.8h-0.8zM240.4 221.8h0.8v0.8h-0.8zM251.6 223.1h0.8v0.8h-0.8zM259.0 221.0h0.8v0.8h-0.8zM275.2 221.5h0.8v0.8h-0.8zM269.1 223.9h0.8v0.8h-0.8zM280.4 221.8h0.8v0.8h-0.8zM280.9 222.9h0.8v0.8h-0.8zM265.2 224.0h0.8v0.8h-0.8zM276.2 224.1h0.8v0.8h-0.8zM276.1 223.3h0.8v0.8h-0.8zM269.5 223.3h0.8v0.8h-0.8zM256.7 221.8h0.8v0.8h-0.8zM254.0 221.3h0.8v0.8h-0.8zM280.2 221.9h0.8v0.8h-0.8zM239.8 222.9h0.8v0.8h-0.8zM248.2 221.5h0.8v0.8h-0.8zM242.5 224.2h0.8v0.8h-0.8zM283.3 223.0h0.8v0.8h-0.8zM244.2 222.1h0.8v0.8h-0.8zM249.7 221.6h0.8v0.8h-0.8zM256.3 221.8h0.8v0.8h-0.8zM279.9 222.5h0.8v0.8h-0.8zM259.7 223.3h0.8v0.8h-0.8zM243.9 222.4h0.8v0.8h-0.8zM282.5 223.2h0.8v0.8h-0.8zM262.2 222.7h0.8v0.8h-0.8zM253.8 220.9h0.8v0.8h-0.8zM241.5 221.1h0.8v0.8h-0.8zM253.6 223.2h0.8v0.8h-0.8zM264.3 224.4h0.8v0.8h-0.8zM278.9 223.1h0.8v0.8h-0.8zM271.8 223.6h0.8v0.8h-0.8zM278.1 221.8h0.8v0.8h-0.8zM267.7 222.2h0.8v0.8h-0.8zM270.2 223.0h0.8v0.8h-0.8zM244.2 222.1h0.8v0.8h-0.8zM263.8 222.7h0.8v0.8h-0.8zM248.2 221.7h0.8v0.8h-0.8zM256.0 222.8h0.8v0.8h-0.8zM281.6 222.7h0.8v0.8h-0.8zM269.0 222.0h0.8v0.8h-0.8zM284.7 222.6h0.8v0.8h-0.8zM256.2 223.9h0.8v0.8h-0.8zM240.6 223.2h0.8v0.8h-0.8zM272.0 223.8h0.8v0.8h-0.8zM283.8 221.8h0.8v0.8h-0.8zM258.6 223.3h0.8v0.8h-0.8zM283.5 222.9h0.8v0.8h-0.8zM283.2 222.3h0.8v0.8h-0.8zM261.4 221.5h0.8v0.8h-0.8zM242.9 221.8h0.8v0.8h-0.8zM242.6 223.6h0.8v0.8h-0.8zM245.1 223.6h0.8v0.8h-0.8zM241.8 223.8h0.8v0.8h-0.8zM256.0 222.3h0.8v0.8h-0.8zM251.3 223.2h0.8v0.8h-0.8zM270.9 221.7h0.8v0.8h-0.8zM248.9 221.4h0.8v0.8h-0.8zM257.0 221.8h0.8v0.8h-0.8zM279.1 223.4h0.8v0.8h-0.8zM284.6 223.0h0.8v0.8h-0.8zM254.4 224.0h0.8v0.8h-0.8zM254.5 220.8h0.8v0.8h-0.8zM284.3 220.8h0.8v0.8h-0.8zM263.9 222.2h0.8v0.8h-0.8zM269.0 220.8h0.8v0.8h-0.8zM282.8 223.6h0.8v0.8h-0.8zM262.8 222.0h0.8v0.8h-0.8zM284.0 223.5h0.8v0.8h-0.8zM279.2 222.8h0.8v0.8h-0.8zM241.8 222.0h0.8v0.8h-0.8zM262.5 222.3h0.8v0.8h-0.8zM264.2 221.2h0.8v0.8h-0.8zM272.4 223.4h0.8v0.8h-0.8zM240.5 223.1h0.8v0.8h-0.8zM274.8 222.6h0.8v0.8h-0.8zM244.1 223.2h0.8v0.8h-0.8zM252.2 223.4h0.8v0.8h-0.8zM238.8 224.3h0.8v0.8h-0.8zM269.5 220.9h0.8v0.8h-0.8zM275.0 223.8h0.8v0.8h-0.8zM272.9 222.7h0.8v0.8h-0.8zM251.5 223.4h0.8v0.8h-0.8zM261.8 222.8h0.8v0.8h-0.8zM251.9 223.1h0.8v0.8h-0.8zM243.7 221.2h0.8v0.8h-0.8zM253.8 222.4h0.8v0.8h-0.8zM253.8 222.7h0.8v0.8h-0.8zM261.3 223.7h0.8v0.8h-0.8zM282.7 223.5h0.8v0.8h-0.8zM266.7 222.6h0.8v0.8h-0.8zM280.2 220.9h0.8v0.8h-0.8zM271.0 221.9h0.8v0.8h-0.8zM275.4 223.4h0.8v0.8h-0.8zM259.6 223.7h0.8v0.8h-0.8zM275.0 222.4h0.8v0.8h-0.8zM245.1 221.3h0.8v0.8h-0.8zM239.6 220.8h0.8v0.8h-0.8zM245.8 222.9h0.8v0.8h-0.8zM272.0 221.2h0.8v0.8h-0.8zM246.8 223.4h0.8v0.8h-0.8zM270.6 221.8h0.8v0.8h-0.8zM284.0 224.0h0.8v0.8h-0.8zM247.0 223.4h0.8v0.8h-0.8zM269.7 221.3h0.8v0.8h-0.8zM264.9 224.0h0.8v0.8h-0.8zM256.2 220.8h0.8v0.8h-0.8zM272.8 221.4h0.8v0.8h-0.8zM258.1 224.2h0.8v0.8h-0.8zM281.4 221.6h0.8v0.8h-0.8zM256.1 222.3h0.8v0.8h-0.8zM280.0 223.5h0.8v0.8h-0.8zM281.0 223.5h0.8v0.8h-0.8zM281.7 222.9h0.8v0.8h-0.8zM263.0 221.9h0.8v0.8h-0.8zM249.0 222.4h0.8v0.8h-0.8zM246.9 222.6h0.8v0.8h-0.8zM250.2 221.0h0.8v0.8h-0.8zM250.0 222.9h0.8v0.8h-0.8zM280.3 223.8h0.8v0.8h-0.8zM266.6 221.1h0.8v0.8h-0.8zM253.2 221.2h0.8v0.8h-0.8zM283.8 222.6h0.8v0.8h-0.8zM244.7 221.8h0.8v0.8h-0.8zM278.8 224.1h0.8v0.8h-0.8zM270.8 223.0h0.8v0.8h-0.8zM251.1 224.4h0.8v0.8h-0.8zM247.8 221.7h0.8v0.8h-0.8zM254.9 223.7h0.8v0.8h-0.8zM276.1 221.8h0.8v0.8h-0.8zM261.3 222.1h0.8v0.8h-0.8zM262.1 222.6h0.8v0.8h-0.8zM242.6 224.4h0.8v0.8h-0.8zM254.2 222.5h0.8v0.8h-0.8zM244.4 222.4h0.8v0.8h-0.8zM243.9 222.7h0.8v0.8h-0.8zM250.8 220.8h0.8v0.8h-0.8zM240.2 222.7h0.8v0.8h-0.8zM259.7 221.9h0.8v0.8h-0.8zM279.3 223.5h0.8v0.8h-0.8zM257.6 221.7h0.8v0.8h-0.8zM284.1 222.7h0.8v0.8h-0.8zM243.7 222.3h0.8v0.8h-0.8zM246.3 224.3h0.8v0.8h-0.8zM281.0 222.8h0.8v0.8h-0.8zM238.7 223.7h0.8v0.8h-0.8zM274.2 223.7h0.8v0.8h-0.8zM242.1 223.4h0.8v0.8h-0.8zM274.6 222.9h0.8v0.8h-0.8zM272.1 221.8h0.8v0.8h-0.8zM278.3 224.4h0.8v0.8h-0.8zM264.0 222.0h0.8v0.8h-0.8zM283.6 222.0h0.8v0.8h-0.8zM252.3 221.3h0.8v0.8h-0.8zM267.5 223.8h0.8v0.8h-0.8zM277.5 223.6h0.8v0.8h-0.8zM241.7 223.8h0.8v0.8h-0.8zM280.2 223.5h0.8v0.8h-0.8zM281.8 223.6h0.8v0.8h-0.8zM262.5 220.9h0.8v0.8h-0.8zM279.9 222.2h0.8v0.8h-0.8zM280.9 223.8h0.8v0.8h-0.8zM260.0 222.9h0.8v0.8h-0.8zM252.6 220.8h0.8v0.8h-0.8zM256.7 224.1h0.8v0.8h-0.8zM271.7 222.9h0.8v0.8h-0.8zM276.2 221.6h0.8v0.8h-0.8zM266.5 224.4h0.8v0.8h-0.8zM258.5 223.2h0.8v0.8h-0.8zM282.8 223.1h0.8v0.8h-0.8zM255.9 224.4h0.8v0.8h-0.8zM243.5 222.8h0.8v0.8h-0.8zM241.4 220.8h0.8v0.8h-0.8zM260.2 222.2h0.8v0.8h-0.8zM239.4 223.5h0.8v0.8h-0.8zM238.8 222.1h0.8v0.8h-0.8zM259.3 223.1h0.8v0.8h-0.8zM253.7 223.4h0.8v0.8h-0.8zM248.4 222.0h0.8v0.8h-0.8zM246.8 221.8h0.8v0.8h-0.8zM240.9 224.4h0.8v0.8h-0.8zM253.5 221.8h0.8v0.8h-0.8zM277.4 222.6h0.8v0.8h-0.8zM263.5 222.8h0.8v0.8h-0.8zM283.0 221.4h0.8v0.8h-0.8zM247.8 222.6h0.8v0.8h-0.8zM283.9 223.9h0.8v0.8h-0.8zM245.4 224.2h0.8v0.8h-0.8zM269.8 222.3h0.8v0.8h-0.8zM242.7 221.2h0.8v0.8h-0.8zM269.7 220.8h0.8v0.8h-0.8zM264.3 223.0h0.8v0.8h-0.8zM283.9 223.0h0.8v0.8h-0.8zM245.2 223.0h0.8v0.8h-0.8zM269.5 224.1h0.8v0.8h-0.8zM272.0 221.5h0.8v0.8h-0.8zM259.4 222.5h0.8v0.8h-0.8zM267.4 224.1h0.8v0.8h-0.8zM257.4 223.8h0.8v0.8h-0.8zM267.2 223.0h0.8v0.8h-0.8zM247.9 221.8h0.8v0.8h-0.8zM258.0 221.6h0.8v0.8h-0.8zM278.0 224.2h0.8v0.8h-0.8zM276.3 221.9h0.8v0.8h-0.8zM259.6 224.4h0.8v0.8h-0.8zM245.2 222.2h0.8v0.8h-0.8zM277.7 222.8h0.8v0.8h-0.8zM247.4 223.6h0.8v0.8h-0.8zM263.5 222.9h0.8v0.8h-0.8zM240.2 221.8h0.8v0.8h-0.8zM261.1 221.5h0.8v0.8h-0.8zM257.2 221.7h0.8v0.8h-0.8zM275.5 220.8h0.8v0.8h-0.8zM270.4 223.2h0.8v0.8h-0.8zM250.0 223.3h0.8v0.8h-0.8zM250.7 222.7h0.8v0.8h-0.8zM238.6 223.4h0.8v0.8h-0.8zM270.0 223.5h0.8v0.8h-0.8zM263.0 224.4h0.8v0.8h-0.8zM257.3 223.0h0.8v0.8h-0.8zM264.5 223.3h0.8v0.8h-0.8zM264.8 221.1h0.8v0.8h-0.8zM248.2 222.9h0.8v0.8h-0.8zM266.8 220.8h0.8v0.8h-0.8zM268.1 224.4h0.8v0.8h-0.8zM261.0 221.9h0.8v0.8h-0.8zM272.7 220.8h0.8v0.8h-0.8zM274.0 224.4h0.8v0.8h-0.8zM278.9 221.6h0.8v0.8h-0.8zM279.5 222.1h0.8v0.8h-0.8zM273.6 224.4h0.8v0.8h-0.8zM251.3 224.1h0.8v0.8h-0.8zM267.0 221.0h0.8v0.8h-0.8zM260.4 222.6h0.8v0.8h-0.8zM241.3 222.9h0.8v0.8h-0.8zM282.3 221.7h0.8v0.8h-0.8zM242.5 223.9h0.8v0.8h-0.8zM240.5 223.3h0.8v0.8h-0.8zM281.6 220.8h0.8v0.8h-0.8zM243.6 224.4h0.8v0.8h-0.8zM242.2 223.2h0.8v0.8h-0.8zM250.0 223.5h0.8v0.8h-0.8zM249.3 222.3h0.8v0.8h-0.8zM254.6 221.5h0.8v0.8h-0.8zM256.2 221.5h0.8v0.8h-0.8zM256.5 222.2h0.8v0.8h-0.8zM251.1 223.0h0.8v0.8h-0.8zM280.6 221.5h0.8v0.8h-0.8zM264.7 223.5h0.8v0.8h-0.8zM242.7 222.5h0.8v0.8h-0.8zM270.1 221.2h0.8v0.8h-0.8zM260.7 221.2h0.8v0.8h-0.8zM258.8 222.9h0.8v0.8h-0.8zM251.1 223.3h0.8v0.8h-0.8zM274.0 222.4h0.8v0.8h-0.8zM260.7 223.3h0.8v0.8h-0.8zM243.4 221.8h0.8v0.8h-0.8zM245.1 221.9h0.8v0.8h-0.8zM244.1 222.4h0.8v0.8h-0.8zM244.5 222.3h0.8v0.8h-0.8zM245.9 222.8h0.8v0.8h-0.8zM277.7 223.7h0.8v0.8h-0.8zM254.0 223.1h0.8v0.8h-0.8zM274.8 221.8h0.8v0.8h-0.8zM240.5 223.0h0.8v0.8h-0.8zM242.0 221.6h0.8v0.8h-0.8zM241.6 222.2h0.8v0.8h-0.8zM275.5 223.5h0.8v0.8h-0.8zM251.2 221.5h0.8v0.8h-0.8zM277.3 222.5h0.8v0.8h-0.8zM277.1 223.9h0.8v0.8h-0.8zM253.7 221.3h0.8v0.8h-0.8zM280.4 224.4h0.8v0.8h-0.8zM261.5 224.0h0.8v0.8h-0.8zM268.6 223.4h0.8v0.8h-0.8zM243.9 224.4h0.8v0.8h-0.8zM251.9 222.2h0.8v0.8h-0.8zM276.6 224.4h0.8v0.8h-0.8zM268.1 222.8h0.8v0.8h-0.8zM247.2 222.4h0.8v0.8h-0.8zM281.8 221.7h0.8v0.8h-0.8zM239.4 221.1h0.8v0.8h-0.8zM258.9 222.4h0.8v0.8h-0.8zM240.3 223.9h0.8v0.8h-0.8zM270.4 222.6h0.8v0.8h-0.8zM256.6 221.5h0.8v0.8h-0.8zM279.7 221.2h0.8v0.8h-0.8zM251.7 224.4h0.8v0.8h-0.8zM275.5 222.2h0.8v0.8h-0.8zM245.6 223.2h0.8v0.8h-0.8zM258.1 224.2h0.8v0.8h-0.8zM239.8 223.7h0.8v0.8h-0.8zM269.3 223.0h0.8v0.8h-0.8zM242.8 222.2h0.8v0.8h-0.8zM262.2 220.8h0.8v0.8h-0.8zM252.7 221.8h0.8v0.8h-0.8zM270.2 223.7h0.8v0.8h-0.8zM254.3 224.2h0.8v0.8h-0.8zM280.0 221.6h0.8v0.8h-0.8zM250.7 223.7h0.8v0.8h-0.8zM275.6 223.6h0.8v0.8h-0.8zM268.8 221.8h0.8v0.8h-0.8zM278.2 222.8h0.8v0.8h-0.8zM247.3 223.5h0.8v0.8h-0.8zM281.9 221.5h0.8v0.8h-0.8zM259.4 220.8h0.8v0.8h-0.8zM276.4 223.6h0.8v0.8h-0.8zM239.1 223.0h0.8v0.8h-0.8zM265.7 222.0h0.8v0.8h-0.8zM244.1 222.1h0.8v0.8h-0.8zM275.0 222.0h0.8v0.8h-0.8zM241.0 223.9h0.8v0.8h-0.8zM239.0 221.6h0.8v0.8h-0.8zM280.3 223.0h0.8v0.8h-0.8zM284.7 222.1h0.8v0.8h-0.8zM265.2 222.4h0.8v0.8h-0.8zM263.2 224.0h0.8v0.8h-0.8zM250.4 223.1h0.8v0.8h-0.8zM281.0 222.8h0.8v0.8h-0.8zM265.6 224.4h0.8v0.8h-0.8zM270.4 221.9h0.8v0.8h-0.8zM277.6 223.9h0.8v0.8h-0.8zM248.2 222.4h0.8v0.8h-0.8zM256.0 221.8h0.8v0.8h-0.8zM279.5 223.6h0.8v0.8h-0.8zM240.6 222.3h0.8v0.8h-0.8zM239.5 222.4h0.8v0.8h-0.8zM244.9 223.3h0.8v0.8h-0.8zM266.8 221.0h0.8v0.8h-0.8zM258.4 224.4h0.8v0.8h-0.8zM260.5 224.4h0.8v0.8h-0.8zM256.1 223.2h0.8v0.8h-0.8zM246.3 221.5h0.8v0.8h-0.8zM267.4 222.9h0.8v0.8h-0.8zM275.6 224.4h0.8v0.8h-0.8zM264.0 221.4h0.8v0.8h-0.8zM272.9 222.0h0.8v0.8h-0.8zM265.4 221.2h0.8v0.8h-0.8zM253.1 221.6h0.8v0.8h-0.8zM281.8 222.6h0.8v0.8h-0.8zM241.3 221.6h0.8v0.8h-0.8zM249.2 222.4h0.8v0.8h-0.8zM263.0 221.8h0.8v0.8h-0.8zM253.4 222.2h0.8v0.8h-0.8zM271.8 224.4h0.8v0.8h-0.8zM281.1 224.4h0.8v0.8h-0.8zM283.0 221.3h0.8v0.8h-0.8zM283.3 222.5h0.8v0.8h-0.8zM258.7 222.1h0.8v0.8h-0.8zM264.5 222.9h0.8v0.8h-0.8zM274.1 223.9h0.8v0.8h-0.8zM257.4 223.0h0.8v0.8h-0.8zM261.1 223.1h0.8v0.8h-0.8zM267.2 223.0h0.8v0.8h-0.8zM242.5 223.1h0.8v0.8h-0.8zM260.3 221.2h0.8v0.8h-0.8zM280.8 221.9h0.8v0.8h-0.8zM272.3 221.8h0.8v0.8h-0.8zM283.7 223.2h0.8v0.8h-0.8zM261.1 220.8h0.8v0.8h-0.8zM257.0 222.6h0.8v0.8h-0.8zM266.3 223.9h0.8v0.8h-0.8zM258.2 221.6h0.8v0.8h-0.8zM278.8 224.4h0.8v0.8h-0.8zM242.1 223.5h0.8v0.8h-0.8zM242.0 223.0h0.8v0.8h-0.8zM251.4 223.5h0.8v0.8h-0.8zM276.2 223.2h0.8v0.8h-0.8zM242.5 220.8h0.8v0.8h-0.8zM249.4 221.0h0.8v0.8h-0.8zM250.5 221.3h0.8v0.8h-0.8zM273.6 221.9h0.8v0.8h-0.8zM281.9 223.9h0.8v0.8h-0.8zM263.6 222.3h0.8v0.8h-0.8zM250.1 221.4h0.8v0.8h-0.8zM278.6 221.5h0.8v0.8h-0.8zM276.7 221.6h0.8v0.8h-0.8zM262.3 221.8h0.8v0.8h-0.8zM251.4 223.4h0.8v0.8h-0.8zM267.9 221.3h0.8v0.8h-0.8zM251.0 223.0h0.8v0.8h-0.8zM253.7 222.0h0.8v0.8h-0.8zM276.4 223.4h0.8v0.8h-0.8zM280.3 220.8h0.8v0.8h-0.8zM252.2 221.1h0.8v0.8h-0.8zM280.0 221.1h0.8v0.8h-0.8zM239.9 221.6h0.8v0.8h-0.8zM269.6 222.8h0.8v0.8h-0.8zM247.2 222.6h0.8v0.8h-0.8zM252.9 222.4h0.8v0.8h-0.8zM239.6 221.6h0.8v0.8h-0.8zM250.3 222.7h0.8v0.8h-0.8zM277.0 222.6h0.8v0.8h-0.8zM277.8 221.7h0.8v0.8h-0.8zM265.1 223.3h0.8v0.8h-0.8zM263.6 223.1h0.8v0.8h-0.8zM280.9 222.2h0.8v0.8h-0.8zM273.4 222.6h0.8v0.8h-0.8zM271.2 222.0h0.8v0.8h-0.8zM240.6 223.2h0.8v0.8h-0.8zM256.8 221.6h0.8v0.8h-0.8zM247.6 222.4h0.8v0.8h-0.8zM252.7 222.0h0.8v0.8h-0.8zM252.9 221.9h0.8v0.8h-0.8zM263.0 222.2h0.8v0.8h-0.8zM270.1 222.4h0.8v0.8h-0.8zM266.4 222.9h0.8v0.8h-0.8zM259.2 223.7h0.8v0.8h-0.8zM253.0 222.0h0.8v0.8h-0.8zM275.0 222.3h0.8v0.8h-0.8zM265.5 223.1h0.8v0.8h-0.8zM276.5 221.0h0.8v0.8h-0.8zM272.9 223.7h0.8v0.8h-0.8zM259.8 222.5h0.8v0.8h-0.8zM246.8 222.6h0.8v0.8h-0.8zM274.7 220.8h0.8v0.8h-0.8zM269.3 222.9h0.8v0.8h-0.8zM262.3 221.9h0.8v0.8h-0.8zM251.6 223.2h0.8v0.8h-0.8zM284.8 222.8h0.8v0.8h-0.8zM277.1 221.1h0.8v0.8h-0.8zM272.7 222.9h0.8v0.8h-0.8zM250.8 224.0h0.8v0.8h-0.8zM247.6 222.9h0.8v0.8h-0.8zM263.4 223.6h0.8v0.8h-0.8zM254.0 223.7h0.8v0.8h-0.8zM248.5 221.5h0.8v0.8h-0.8zM251.7 222.5h0.8v0.8h-0.8zM257.5 224.3h0.8v0.8h-0.8zM262.1 224.0h0.8v0.8h-0.8zM243.6 223.4h0.8v0.8h-0.8zM242.9 220.8h0.8v0.8h-0.8zM248.5 220.8h0.8v0.8h-0.8zM253.7 224.4h0.8v0.8h-0.8zM281.4 221.2h0.8v0.8h-0.8zM274.3 221.7h0.8v0.8h-0.8zM276.8 222.5h0.8v0.8h-0.8zM270.4 224.3h0.8v0.8h-0.8zM246.1 222.9h0.8v0.8h-0.8zM245.5 224.2h0.8v0.8h-0.8zM248.8 222.6h0.8v0.8h-0.8zM240.5 221.6h0.8v0.8h-0.8zM284.6 223.2h0.8v0.8h-0.8zM269.1 222.1h0.8v0.8h-0.8zM254.0 220.8h0.8v0.8h-0.8zM277.8 224.3h0.8v0.8h-0.8zM256.1 221.2h0.8v0.8h-0.8zM259.9 221.5h0.8v0.8h-0.8zM254.8 221.6h0.8v0.8h-0.8zM264.0 221.0h0.8v0.8h-0.8zM252.8 221.7h0.8v0.8h-0.8zM262.0 222.1h0.8v0.8h-0.8zM265.6 223.8h0.8v0.8h-0.8zM255.3 224.4h0.8v0.8h-0.8zM267.8 222.5h0.8v0.8h-0.8zM274.1 223.5h0.8v0.8h-0.8zM259.5 223.4h0.8v0.8h-0.8zM257.9 221.6h0.8v0.8h-0.8zM270.9 223.0h0.8v0.8h-0.8zM258.2 223.3h0.8v0.8h-0.8zM249.9 223.6h0.8v0.8h-0.8zM257.3 223.1h0.8v0.8h-0.8zM254.9 222.2h0.8v0.8h-0.8zM243.4 222.8h0.8v0.8h-0.8zM251.4 222.4h0.8v0.8h-0.8zM266.2 221.8h0.8v0.8h-0.8zM279.2 223.1h0.8v0.8h-0.8zM243.6 221.1h0.8v0.8h-0.8zM259.9 220.8h0.8v0.8h-0.8zM261.9 223.0h0.8v0.8h-0.8zM270.3 224.1h0.8v0.8h-0.8zM271.5 223.2h0.8v0.8h-0.8zM251.3 222.9h0.8v0.8h-0.8zM254.9 222.7h0.8v0.8h-0.8zM251.4 220.8h0.8v0.8h-0.8zM250.6 222.9h0.8v0.8h-0.8zM271.1 220.8h0.8v0.8h-0.8zM252.2 222.3h0.8v0.8h-0.8zM247.9 223.6h0.8v0.8h-0.8zM249.5 221.8h0.8v0.8h-0.8zM279.1 223.2h0.8v0.8h-0.8z" fill="#a0a0a0"/>
<path d="M243.9 219.3h0.9v0.9h-0.9zM237.3 227.5h0.9v0.9h-0.9zM240.8 216.4h0.9v0.9h-0.9zM244.4 226.1h0.9v0.9h-0.9zM241.1 218.4h0.9v0.9h-0.9zM234.2 225.7h0.9v0.9h-0.9zM238.8 218.8h0.9v0.9h-0.9zM238.7 219.9h0.9v0.9h-0.9zM247.0 219.3h0.9v0.9h-0.9zM241.6 226.8h0.9v0.9h-0.9zM234.2 226.2h0.9v0.9h-0.9zM256.5 225.2h0.9v0.9h-0.9zM243.1 226.6h0.9v0.9h-0.9zM236.0 214.5h0.9v0.9h-0.9zM239.0 218.8h0.9v0.9h-0.9zM241.3 225.3h0.9v0.9h-0.9zM239.5 218.0h0.9v0.9h-0.9zM233.2 218.5h0.9v0.9h-0.9zM241.1 218.6h0.9v0.9h-0.9zM236.7 219.6h0.9v0.9h-0.9zM249.5 218.6h0.9v0.9h-0.9zM267.4 225.3h0.9v0.9h-0.9zM245.6 219.2h0.9v0.9h-0.9zM237.3 226.8h0.9v0.9h-0.9zM239.0 218.5h0.9v0.9h-0.9zM231.9 218.4h0.9v0.9h-0.9zM238.2 225.3h0.9v0.9h-0.9zM240.4 213.5h0.9v0.9h-0.9zM251.7 218.0h0.9v0.9h-0.9zM237.8 217.1h0.9v0.9h-0.9zM230.5 230.9h0.9v0.9h-0.9zM245.1 225.6h0.9v0.9h-0.9zM241.3 219.1h0.9v0.9h-0.9zM237.6 226.4h0.9v0.9h-0.9zM240.6 226.6h0.9v0.9h-0.9zM250.3 219.7h0.9v0.9h-0.9zM232.9 213.5h0.9v0.9h-0.9zM240.0 220.0h0.9v0.9h-0.9zM241.9 218.2h0.9v0.9h-0.9zM241.6 229.4h0.9v0.9h-0.9zM243.5 227.2h0.9v0.9h-0.9zM235.9 213.4h0.9v0.9h-0.9zM241.4 219.7h0.9v0.9h-0.9zM237.2 230.5h0.9v0.9h-0.9zM234.0 230.9h0.9v0.9h-0.9zM237.8 227.2h0.9v0.9h-0.9zM258.2 225.4h0.9v0.9h-0.9zM241.9 227.2h0.9v0.9h-0.9zM237.1 215.3h0.9v0.9h-0.9zM249.5 219.3h0.9v0.9h-0.9zM244.0 217.2h0.9v0.9h-0.9zM246.1 219.6h0.9v0.9h-0.9zM249.0 219.6h0.9v0.9h-0.9zM237.8 227.6h0.9v0.9h-0.9zM256.9 225.5h0.9v0.9h-0.9zM245.4 225.8h0.9v0.9h-0.9zM239.4 219.4h0.9v0.9h-0.9zM238.8 218.3h0.9v0.9h-0.9zM236.4 227.8h0.9v0.9h-0.9zM244.4 216.3h0.9v0.9h-0.9zM236.4 227.1h0.9v0.9h-0.9zM237.3 219.2h0.9v0.9h-0.9zM248.1 218.7h0.9v0.9h-0.9zM264.9 219.9h0.9v0.9h-0.9zM242.9 216.8h0.9v0.9h-0.9zM244.8 226.5h0.9v0.9h-0.9zM231.4 216.0h0.9v0.9h-0.9zM245.1 219.9h0.9v0.9h-0.9zM235.5 225.2h0.9v0.9h-0.9zM243.4 225.9h0.9v0.9h-0.9zM236.5 226.8h0.9v0.9h-0.9zM240.7 217.6h0.9v0.9h-0.9zM236.8 216.5h0.9v0.9h-0.9zM239.3 217.8h0.9v0.9h-0.9zM246.4 225.2h0.9v0.9h-0.9zM243.0 226.4h0.9v0.9h-0.9zM261.4 225.6h0.9v0.9h-0.9zM234.9 225.9h0.9v0.9h-0.9zM242.4 218.6h0.9v0.9h-0.9zM233.7 212.1h0.9v0.9h-0.9zM234.9 215.2h0.9v0.9h-0.9zM232.0 229.3h0.9v0.9h-0.9zM232.6 218.7h0.9v0.9h-0.9zM239.0 228.8h0.9v0.9h-0.9zM234.3 216.6h0.9v0.9h-0.9zM233.6 228.7h0.9v0.9h-0.9zM238.3 219.5h0.9v0.9h-0.9zM233.4 228.3h0.9v0.9h-0.9zM234.3 225.2h0.9v0.9h-0.9zM248.8 225.6h0.9v0.9h-0.9zM256.4 220.0h0.9v0.9h-0.9zM245.7 216.6h0.9v0.9h-0.9zM232.3 218.6h0.9v0.9h-0.9zM253.2 225.7h0.9v0.9h-0.9zM236.4 215.6h0.9v0.9h-0.9zM237.4 227.9h0.9v0.9h-0.9zM253.7 218.4h0.9v0.9h-0.9zM233.2 219.3h0.9v0.9h-0.9zM240.7 217.9h0.9v0.9h-0.9zM237.1 228.0h0.9v0.9h-0.9zM234.7 226.3h0.9v0.9h-0.9zM254.8 225.8h0.9v0.9h-0.9zM232.5 231.0h0.9v0.9h-0.9zM242.6 220.0h0.9v0.9h-0.9zM234.0 213.7h0.9v0.9h-0.9zM239.1 218.4h0.9v0.9h-0.9zM233.4 215.8h0.9v0.9h-0.9zM238.7 227.7h0.9v0.9h-0.9zM239.1 226.3h0.9v0.9h-0.9zM231.9 225.4h0.9v0.9h-0.9zM234.8 208.1h0.9v0.9h-0.9zM252.6 218.5h0.9v0.9h-0.9zM239.2 225.6h0.9v0.9h-0.9zM237.6 218.5h0.9v0.9h-0.9zM231.6 226.2h0.9v0.9h-0.9zM244.5 225.3h0.9v0.9h-0.9zM236.7 217.6h0.9v0.9h-0.9zM251.5 219.6h0.9v0.9h-0.9zM239.7 225.4h0.9v0.9h-0.9zM237.6 230.4h0.9v0.9h-0.9zM249.9 219.8h0.9v0.9h-0.9zM236.5 226.4h0.9v0.9h-0.9zM242.8 218.4h0.9v0.9h-0.9zM242.3 217.9h0.9v0.9h-0.9zM246.1 219.7h0.9v0.9h-0.9zM244.4 219.5h0.9v0.9h-0.9zM236.5 219.7h0.9v0.9h-0.9zM240.7 219.2h0.9v0.9h-0.9zM249.4 219.3h0.9v0.9h-0.9zM239.4 215.9h0.9v0.9h-0.9zM233.1 219.4h0.9v0.9h-0.9zM237.2 219.7h0.9v0.9h-0.9zM237.2 213.8h0.9v0.9h-0.9zM244.7 218.7h0.9v0.9h-0.9zM233.8 213.7h0.9v0.9h-0.9zM236.5 225.6h0.9v0.9h-0.9zM237.2 226.7h0.9v0.9h-0.9zM240.3 218.3h0.9v0.9h-0.9zM239.8 225.3h0.9v0.9h-0.9zM235.8 217.2h0.9v0.9h-0.9zM233.8 219.3h0.9v0.9h-0.9zM234.7 214.2h0.9v0.9h-0.9zM231.7 228.2h0.9v0.9h-0.9zM245.5 217.0h0.9v0.9h-0.9zM239.9 226.3h0.9v0.9h-0.9zM234.9 227.3h0.9v0.9h-0.9zM239.6 228.0h0.9v0.9h-0.9zM251.8 219.5h0.9v0.9h-0.9zM261.4 225.7h0.9v0.9h-0.9zM234.9 216.1h0.9v0.9h-0.9zM240.0 219.5h0.9v0.9h-0.9zM242.7 226.0h0.9v0.9h-0.9zM246.5 219.7h0.9v0.9h-0.9zM236.6 218.7h0.9v0.9h-0.9zM231.5 217.0h0.9v0.9h-0.9zM255.5 225.5h0.9v0.9h-0.9zM243.6 217.6h0.9v0.9h-0.9zM236.3 219.4h0.9v0.9h-0.9zM236.6 225.5h0.9v0.9h-0.9zM238.6 215.6h0.9v0.9h-0.9zM238.9 226.4h0.9v0.9h-0.9zM236.1 217.6h0.9v0.9h-0.9zM241.0 215.3h0.9v0.9h-0.9zM240.0 218.1h0.9v0.9h-0.9zM230.3 227.5h0.9v0.9h-0.9zM239.3 217.5h0.9v0.9h-0.9zM244.6 225.7h0.9v0.9h-0.9zM236.8 225.4h0.9v0.9h-0.9zM232.8 217.8h0.9v0.9h-0.9zM232.6 230.5h0.9v0.9h-0.9zM234.8 219.2h0.9v0.9h-0.9zM255.6 225.5h0.9v0.9h-0.9zM252.8 219.3h0.9v0.9h-0.9zM237.8 228.4h0.9v0.9h-0.9zM242.9 227.1h0.9v0.9h-0.9zM257.6 219.9h0.9v0.9h-0.9zM261.1 226.0h0.9v0.9h-0.9zM236.0 228.3h0.9v0.9h-0.9zM253.8 226.1h0.9v0.9h-0.9zM245.0 225.6h0.9v0.9h-0.9zM242.5 218.9h0.9v0.9h-0.9zM239.9 219.0h0.9v0.9h-0.9zM232.4 219.1h0.9v0.9h-0.9zM249.5 219.8h0.9v0.9h-0.9zM238.0 227.0h0.9v0.9h-0.9zM242.5 228.0h0.9v0.9h-0.9zM233.2 219.9h0.9v0.9h-0.9zM240.9 218.4h0.9v0.9h-0.9zM245.7 217.3h0.9v0.9h-0.9zM237.0 218.4h0.9v0.9h-0.9zM243.9 226.5h0.9v0.9h-0.9zM239.2 228.0h0.9v0.9h-0.9zM251.4 225.9h0.9v0.9h-0.9zM248.2 218.7h0.9v0.9h-0.9zM237.7 225.3h0.9v0.9h-0.9zM248.7 225.3h0.9v0.9h-0.9zM231.4 226.5h0.9v0.9h-0.9zM242.3 227.6h0.9v0.9h-0.9zM234.7 228.0h0.9v0.9h-0.9zM235.2 219.5h0.9v0.9h-0.9zM230.8 212.6h0.9v0.9h-0.9zM244.6 225.8h0.9v0.9h-0.9zM234.2 227.8h0.9v0.9h-0.9zM237.2 226.2h0.9v0.9h-0.9zM249.7 226.3h0.9v0.9h-0.9zM240.5 219.7h0.9v0.9h-0.9zM246.1 226.7h0.9v0.9h-0.9zM250.4 219.9h0.9v0.9h-0.9zM232.9 217.0h0.9v0.9h-0.9zM237.8 219.3h0.9v0.9h-0.9zM233.1 218.2h0.9v0.9h-0.9zM240.0 218.4h0.9v0.9h-0.9zM238.7 218.3h0.9v0.9h-0.9zM236.1 226.0h0.9v0.9h-0.9zM233.2 219.2h0.9v0.9h-0.9zM232.8 229.0h0.9v0.9h-0.9zM259.7 225.3h0.9v0.9h-0.9zM235.3 218.2h0.9v0.9h-0.9zM237.7 216.6h0.9v0.9h-0.9zM251.4 225.4h0.9v0.9h-0.9zM241.5 217.6h0.9v0.9h-0.9zM237.9 225.3h0.9v0.9h-0.9zM240.6 219.1h0.9v0.9h-0.9zM235.7 215.7h0.9v0.9h-0.9zM233.8 218.2h0.9v0.9h-0.9zM232.0 226.3h0.9v0.9h-0.9zM235.3 227.5h0.9v0.9h-0.9zM241.9 219.3h0.9v0.9h-0.9zM257.3 220.0h0.9v0.9h-0.9zM238.9 219.0h0.9v0.9h-0.9zM238.0 216.5h0.9v0.9h-0.9zM236.7 226.4h0.9v0.9h-0.9zM243.1 219.1h0.9v0.9h-0.9zM237.6 219.1h0.9v0.9h-0.9zM238.9 226.4h0.9v0.9h-0.9zM238.1 218.1h0.9v0.9h-0.9zM240.0 228.8h0.9v0.9h-0.9zM245.5 216.7h0.9v0.9h-0.9zM237.1 215.9h0.9v0.9h-0.9zM236.4 215.9h0.9v0.9h-0.9zM240.3 219.8h0.9v0.9h-0.9zM237.8 225.4h0.9v0.9h-0.9zM246.6 225.2h0.9v0.9h-0.9zM238.6 217.8h0.9v0.9h-0.9zM241.5 218.1h0.9v0.9h-0.9zM240.0 219.7h0.9v0.9h-0.9zM237.2 226.0h0.9v0.9h-0.9zM237.4 218.0h0.9v0.9h-0.9zM234.0 219.7h0.9v0.9h-0.9zM243.3 225.8h0.9v0.9h-0.9zM245.8 225.5h0.9v0.9h-0.9zM248.2 226.8h0.9v0.9h-0.9zM240.8 225.5h0.9v0.9h-0.9zM235.8 216.4h0.9v0.9h-0.9zM247.5 218.7h0.9v0.9h-0.9zM249.4 219.6h0.9v0.9h-0.9zM239.8 219.4h0.9v0.9h-0.9zM234.3 219.3h0.9v0.9h-0.9zM232.1 214.6h0.9v0.9h-0.9zM242.1 217.4h0.9v0.9h-0.9zM245.3 218.5h0.9v0.9h-0.9zM240.1 229.4h0.9v0.9h-0.9zM244.2 218.5h0.9v0.9h-0.9zM242.3 216.6h0.9v0.9h-0.9zM246.1 218.4h0.9v0.9h-0.9zM267.5 225.3h0.9v0.9h-0.9zM233.4 215.7h0.9v0.9h-0.9zM246.4 218.5h0.9v0.9h-0.9zM242.8 218.5h0.9v0.9h-0.9zM237.6 225.3h0.9v0.9h-0.9zM232.1 215.2h0.9v0.9h-0.9zM251.1 226.1h0.9v0.9h-0.9zM242.8 216.6h0.9v0.9h-0.9zM232.4 217.7h0.9v0.9h-0.9zM237.4 219.8h0.9v0.9h-0.9zM238.0 217.9h0.9v0.9h-0.9zM238.3 219.4h0.9v0.9h-0.9zM242.4 218.9h0.9v0.9h-0.9zM247.9 219.8h0.9v0.9h-0.9zM242.0 226.6h0.9v0.9h-0.9zM245.0 225.4h0.9v0.9h-0.9zM236.2 219.9h0.9v0.9h-0.9zM235.0 218.1h0.9v0.9h-0.9zM256.8 225.5h0.9v0.9h-0.9zM236.7 228.5h0.9v0.9h-0.9zM234.7 227.0h0.9v0.9h-0.9zM238.5 226.8h0.9v0.9h-0.9zM234.0 227.3h0.9v0.9h-0.9zM241.4 226.0h0.9v0.9h-0.9zM236.9 226.4h0.9v0.9h-0.9zM237.0 216.7h0.9v0.9h-0.9zM265.8 225.3h0.9v0.9h-0.9zM238.5 228.5h0.9v0.9h-0.9zM236.1 226.7h0.9v0.9h-0.9zM248.6 218.8h0.9v0.9h-0.9zM239.6 215.1h0.9v0.9h-0.9zM237.1 217.6h0.9v0.9h-0.9zM236.0 219.1h0.9v0.9h-0.9zM236.4 226.2h0.9v0.9h-0.9zM236.4 229.8h0.9v0.9h-0.9zM232.2 215.7h0.9v0.9h-0.9zM239.6 228.9h0.9v0.9h-0.9zM231.4 231.4h0.9v0.9h-0.9zM238.2 228.7h0.9v0.9h-0.9zM246.7 218.4h0.9v0.9h-0.9zM244.3 227.4h0.9v0.9h-0.9zM243.8 218.6h0.9v0.9h-0.9zM244.5 218.4h0.9v0.9h-0.9zM243.0 214.5h0.9v0.9h-0.9zM252.4 219.1h0.9v0.9h-0.9zM242.4 218.3h0.9v0.9h-0.9zM232.3 218.0h0.9v0.9h-0.9zM233.2 225.4h0.9v0.9h-0.9zM230.6 212.5h0.9v0.9h-0.9zM236.7 225.6h0.9v0.9h-0.9zM236.2 211.9h0.9v0.9h-0.9zM230.4 229.1h0.9v0.9h-0.9zM233.8 226.5h0.9v0.9h-0.9zM231.7 218.0h0.9v0.9h-0.9zM240.6 226.6h0.9v0.9h-0.9zM236.3 217.4h0.9v0.9h-0.9zM244.0 225.4h0.9v0.9h-0.9zM234.1 217.7h0.9v0.9h-0.9zM234.0 217.2h0.9v0.9h-0.9zM237.3 226.4h0.9v0.9h-0.9zM242.5 225.5h0.9v0.9h-0.9zM238.6 226.0h0.9v0.9h-0.9zM237.9 227.4h0.9v0.9h-0.9zM243.4 219.1h0.9v0.9h-0.9zM232.6 226.6h0.9v0.9h-0.9zM239.7 219.4h0.9v0.9h-0.9zM240.5 219.4h0.9v0.9h-0.9zM232.7 216.2h0.9v0.9h-0.9zM238.1 218.5h0.9v0.9h-0.9zM248.9 226.0h0.9v0.9h-0.9zM241.0 217.0h0.9v0.9h-0.9zM237.3 227.2h0.9v0.9h-0.9zM243.5 219.0h0.9v0.9h-0.9zM247.8 218.1h0.9v0.9h-0.9zM243.2 226.8h0.9v0.9h-0.9zM231.7 230.6h0.9v0.9h-0.9zM239.1 219.8h0.9v0.9h-0.9zM240.9 218.0h0.9v0.9h-0.9zM233.7 216.0h0.9v0.9h-0.9zM243.0 216.7h0.9v0.9h-0.9zM244.5 225.4h0.9v0.9h-0.9zM243.7 217.2h0.9v0.9h-0.9zM231.3 218.7h0.9v0.9h-0.9zM246.6 225.2h0.9v0.9h-0.9zM238.8 215.8h0.9v0.9h-0.9zM244.5 218.7h0.9v0.9h-0.9zM238.3 213.5h0.9v0.9h-0.9zM239.6 219.5h0.9v0.9h-0.9zM234.9 228.4h0.9v0.9h-0.9zM237.9 215.1h0.9v0.9h-0.9zM237.3 216.1h0.9v0.9h-0.9zM231.6 216.3h0.9v0.9h-0.9zM235.9 216.7h0.9v0.9h-0.9zM242.0 219.7h0.9v0.9h-0.9zM247.5 218.4h0.9v0.9h-0.9zM234.3 218.4h0.9v0.9h-0.9zM247.9 225.4h0.9v0.9h-0.9zM244.8 226.5h0.9v0.9h-0.9zM242.3 215.7h0.9v0.9h-0.9zM241.7 219.0h0.9v0.9h-0.9zM235.8 218.1h0.9v0.9h-0.9zM249.6 219.7h0.9v0.9h-0.9zM246.9 219.7h0.9v0.9h-0.9zM245.5 225.4h0.9v0.9h-0.9zM239.9 218.6h0.9v0.9h-0.9zM262.4 225.4h0.9v0.9h-0.9zM253.1 225.5h0.9v0.9h-0.9zM235.0 228.2h0.9v0.9h-0.9zM256.3 225.9h0.9v0.9h-0.9zM229.8 219.5h0.9v0.9h-0.9zM234.7 226.3h0.9v0.9h-0.9zM235.2 219.8h0.9v0.9h-0.9zM238.7 217.4h0.9v0.9h-0.9zM247.2 219.6h0.9v0.9h-0.9zM240.5 225.4h0.9v0.9h-0.9zM242.1 226.4h0.9v0.9h-0.9zM231.6 225.8h0.9v0.9h-0.9zM252.2 218.6h0.9v0.9h-0.9zM239.0 225.5h0.9v0.9h-0.9zM240.7 226.1h0.9v0.9h-0.9zM242.3 219.9h0.9v0.9h-0.9zM235.2 214.7h0.9v0.9h-0.9zM235.4 218.7h0.9v0.9h-0.9zM234.9 218.6h0.9v0.9h-0.9zM244.2 226.1h0.9v0.9h-0.9zM234.1 217.5h0.9v0.9h-0.9zM239.3 216.7h0.9v0.9h-0.9zM238.1 225.5h0.9v0.9h-0.9zM235.5 217.6h0.9v0.9h-0.9zM235.0 218.9h0.9v0.9h-0.9zM233.9 225.5h0.9v0.9h-0.9zM255.1 226.2h0.9v0.9h-0.9zM231.3 212.9h0.9v0.9h-0.9zM243.0 217.9h0.9v0.9h-0.9zM256.9 219.7h0.9v0.9h-0.9zM231.2 234.6h0.9v0.9h-0.9zM237.7 218.9h0.9v0.9h-0.9zM250.1 225.4h0.9v0.9h-0.9zM239.6 219.9h0.9v0.9h-0.9zM245.5 226.3h0.9v0.9h-0.9zM236.6 228.5h0.9v0.9h-0.9zM242.7 225.9h0.9v0.9h-0.9zM242.9 225.2h0.9v0.9h-0.9zM237.3 216.8h0.9v0.9h-0.9zM234.3 227.3h0.9v0.9h-0.9zM239.9 219.7h0.9v0.9h-0.9zM241.9 228.5h0.9v0.9h-0.9zM238.1 225.6h0.9v0.9h-0.9zM235.9 219.1h0.9v0.9h-0.9zM244.2 219.1h0.9v0.9h-0.9zM234.4 218.4h0.9v0.9h-0.9zM239.6 228.0h0.9v0.9h-0.9zM237.6 227.9h0.9v0.9h-0.9zM236.6 219.1h0.9v0.9h-0.9zM237.8 226.7h0.9v0.9h-0.9zM236.2 218.2h0.9v0.9h-0.9zM235.8 214.3h0.9v0.9h-0.9zM260.7 225.5h0.9v0.9h-0.9zM234.3 210.0h0.9v0.9h-0.9zM235.5 219.7h0.9v0.9h-0.9zM236.7 225.3h0.9v0.9h-0.9zM239.2 226.7h0.9v0.9h-0.9zM235.7 219.7h0.9v0.9h-0.9zM238.1 225.9h0.9v0.9h-0.9zM261.6 225.5h0.9v0.9h-0.9zM235.7 229.9h0.9v0.9h-0.9zM244.4 218.6h0.9v0.9h-0.9zM250.3 219.3h0.9v0.9h-0.9zM244.0 219.4h0.9v0.9h-0.9zM239.1 230.9h0.9v0.9h-0.9zM236.7 217.1h0.9v0.9h-0.9zM246.3 220.0h0.9v0.9h-0.9zM238.4 217.7h0.9v0.9h-0.9zM239.5 227.4h0.9v0.9h-0.9zM231.8 227.6h0.9v0.9h-0.9zM230.5 213.0h0.9v0.9h-0.9zM240.4 225.4h0.9v0.9h-0.9zM238.1 228.3h0.9v0.9h-0.9zM234.8 219.7h0.9v0.9h-0.9zM236.1 231.0h0.9v0.9h-0.9zM235.8 217.6h0.9v0.9h-0.9zM233.7 216.5h0.9v0.9h-0.9zM244.7 226.1h0.9v0.9h-0.9zM235.7 218.6h0.9v0.9h-0.9zM237.6 215.5h0.9v0.9h-0.9zM237.9 214.7h0.9v0.9h-0.9zM237.5 225.3h0.9v0.9h-0.9zM246.1 225.8h0.9v0.9h-0.9zM238.4 216.4h0.9v0.9h-0.9zM247.0 219.8h0.9v0.9h-0.9zM235.2 219.1h0.9v0.9h-0.9zM243.7 225.4h0.9v0.9h-0.9zM249.2 218.8h0.9v0.9h-0.9zM232.8 218.9h0.9v0.9h-0.9zM239.2 228.1h0.9v0.9h-0.9zM254.4 219.5h0.9v0.9h-0.9zM237.9 225.9h0.9v0.9h-0.9zM237.4 226.4h0.9v0.9h-0.9zM238.0 217.0h0.9v0.9h-0.9zM234.7 227.9h0.9v0.9h-0.9zM235.6 227.5h0.9v0.9h-0.9zM238.7 218.3h0.9v0.9h-0.9zM236.3 225.3h0.9v0.9h-0.9zM233.1 219.5h0.9v0.9h-0.9zM237.6 228.3h0.9v0.9h-0.9zM235.9 216.7h0.9v0.9h-0.9zM233.3 225.9h0.9v0.9h-0.9zM242.5 225.6h0.9v0.9h-0.9zM233.9 216.1h0.9v0.9h-0.9zM236.4 217.6h0.9v0.9h-0.9zM237.4 227.6h0.9v0.9h-0.9zM236.7 227.5h0.9v0.9h-0.9zM235.9 227.2h0.9v0.9h-0.9zM239.7 218.3h0.9v0.9h-0.9zM254.4 218.5h0.9v0.9h-0.9zM233.7 216.0h0.9v0.9h-0.9zM237.3 227.1h0.9v0.9h-0.9zM234.7 226.9h0.9v0.9h-0.9zM234.0 225.8h0.9v0.9h-0.9zM241.2 219.8h0.9v0.9h-0.9zM235.4 227.5h0.9v0.9h-0.9zM247.6 220.0h0.9v0.9h-0.9zM240.2 226.1h0.9v0.9h-0.9zM253.2 225.2h0.9v0.9h-0.9zM248.2 217.9h0.9v0.9h-0.9zM234.6 218.7h0.9v0.9h-0.9zM237.5 225.9h0.9v0.9h-0.9zM248.7 227.3h0.9v0.9h-0.9zM232.6 227.9h0.9v0.9h-0.9zM247.5 225.7h0.9v0.9h-0.9zM244.5 215.8h0.9v0.9h-0.9zM232.0 231.1h0.9v0.9h-0.9zM230.9 219.3h0.9v0.9h-0.9zM240.0 216.5h0.9v0.9h-0.9zM241.7 219.3h0.9v0.9h-0.9zM242.2 226.0h0.9v0.9h-0.9zM235.4 216.7h0.9v0.9h-0.9zM234.8 225.4h0.9v0.9h-0.9zM235.4 215.1h0.9v0.9h-0.9zM243.9 225.5h0.9v0.9h-0.9zM249.1 225.9h0.9v0.9h-0.9zM232.8 228.3h0.9v0.9h-0.9zM236.7 217.6h0.9v0.9h-0.9zM242.5 218.7h0.9v0.9h-0.9zM244.0 217.0h0.9v0.9h-0.9zM246.2 225.6h0.9v0.9h-0.9zM238.7 227.9h0.9v0.9h-0.9zM241.3 227.2h0.9v0.9h-0.9zM246.3 227.7h0.9v0.9h-0.9zM236.6 228.1h0.9v0.9h-0.9zM232.8 228.8h0.9v0.9h-0.9zM234.1 218.8h0.9v0.9h-0.9zM233.3 209.7h0.9v0.9h-0.9zM242.0 226.7h0.9v0.9h-0.9zM247.9 226.0h0.9v0.9h-0.9zM242.1 225.4h0.9v0.9h-0.9zM253.5 225.8h0.9v0.9h-0.9zM237.4 216.2h0.9v0.9h-0.9zM236.7 217.2h0.9v0.9h-0.9zM239.2 227.2h0.9v0.9h-0.9zM237.5 227.6h0.9v0.9h-0.9zM247.7 226.4h0.9v0.9h-0.9zM235.8 214.0h0.9v0.9h-0.9zM231.1 226.6h0.9v0.9h-0.9zM239.1 219.4h0.9v0.9h-0.9zM235.1 214.4h0.9v0.9h-0.9zM253.3 219.8h0.9v0.9h-0.9zM238.7 225.9h0.9v0.9h-0.9zM238.6 225.4h0.9v0.9h-0.9zM238.5 227.6h0.9v0.9h-0.9zM249.7 225.6h0.9v0.9h-0.9zM237.4 219.0h0.9v0.9h-0.9zM239.5 227.7h0.9v0.9h-0.9zM235.5 218.9h0.9v0.9h-0.9zM236.3 218.9h0.9v0.9h-0.9zM240.0 219.2h0.9v0.9h-0.9zM236.8 216.6h0.9v0.9h-0.9zM232.7 215.6h0.9v0.9h-0.9zM244.2 219.7h0.9v0.9h-0.9zM239.0 218.4h0.9v0.9h-0.9zM249.0 219.1h0.9v0.9h-0.9zM240.3 218.9h0.9v0.9h-0.9zM240.4 228.8h0.9v0.9h-0.9zM243.1 226.2h0.9v0.9h-0.9zM237.0 219.9h0.9v0.9h-0.9zM251.4 225.6h0.9v0.9h-0.9zM237.0 229.1h0.9v0.9h-0.9zM232.2 227.5h0.9v0.9h-0.9zM242.4 229.6h0.9v0.9h-0.9zM267.5 225.5h0.9v0.9h-0.9zM233.6 227.8h0.9v0.9h-0.9zM236.0 225.9h0.9v0.9h-0.9zM234.2 226.0h0.9v0.9h-0.9zM249.9 226.6h0.9v0.9h-0.9zM244.6 226.5h0.9v0.9h-0.9zM235.9 226.0h0.9v0.9h-0.9zM232.8 218.3h0.9v0.9h-0.9zM237.7 219.8h0.9v0.9h-0.9zM249.3 217.2h0.9v0.9h-0.9zM261.6 218.9h0.9v0.9h-0.9zM240.3 216.7h0.9v0.9h-0.9zM235.8 218.5h0.9v0.9h-0.9zM241.7 226.2h0.9v0.9h-0.9zM238.7 227.0h0.9v0.9h-0.9zM240.0 217.2h0.9v0.9h-0.9zM234.8 227.3h0.9v0.9h-0.9zM234.1 226.1h0.9v0.9h-0.9zM241.4 225.6h0.9v0.9h-0.9zM240.1 217.6h0.9v0.9h-0.9zM242.6 219.7h0.9v0.9h-0.9zM239.5 218.6h0.9v0.9h-0.9zM236.9 217.1h0.9v0.9h-0.9zM238.7 215.8h0.9v0.9h-0.9zM237.3 219.1h0.9v0.9h-0.9zM237.0 218.1h0.9v0.9h-0.9zM237.5 218.1h0.9v0.9h-0.9zM230.1 227.7h0.9v0.9h-0.9zM234.4 225.5h0.9v0.9h-0.9zM235.7 228.0h0.9v0.9h-0.9zM237.4 218.3h0.9v0.9h-0.9zM240.5 217.7h0.9v0.9h-0.9zM238.1 225.6h0.9v0.9h-0.9zM230.7 219.0h0.9v0.9h-0.9zM237.5 225.3h0.9v0.9h-0.9zM237.8 218.1h0.9v0.9h-0.9zM241.6 229.0h0.9v0.9h-0.9zM242.8 219.0h0.9v0.9h-0.9zM243.5 218.2h0.9v0.9h-0.9zM240.6 225.9h0.9v0.9h-0.9zM242.0 218.9h0.9v0.9h-0.9zM232.6 218.7h0.9v0.9h-0.9zM238.2 218.1h0.9v0.9h-0.9zM244.0 227.2h0.9v0.9h-0.9zM254.6 227.2h0.9v0.9h-0.9zM234.4 214.8h0.9v0.9h-0.9zM249.0 227.1h0.9v0.9h-0.9zM237.3 228.6h0.9v0.9h-0.9zM233.2 232.3h0.9v0.9h-0.9zM240.7 225.9h0.9v0.9h-0.9zM238.3 226.2h0.9v0.9h-0.9zM252.8 219.7h0.9v0.9h-0.9zM236.8 219.5h0.9v0.9h-0.9zM248.7 225.6h0.9v0.9h-0.9zM251.7 219.4h0.9v0.9h-0.9zM252.5 219.3h0.9v0.9h-0.9zM232.7 218.4h0.9v0.9h-0.9zM254.5 219.2h0.9v0.9h-0.9zM241.2 231.1h0.9v0.9h-0.9zM258.5 219.4h0.9v0.9h-0.9zM249.0 219.5h0.9v0.9h-0.9zM239.7 216.5h0.9v0.9h-0.9zM234.9 219.2h0.9v0.9h-0.9zM244.2 216.4h0.9v0.9h-0.9zM236.3 219.9h0.9v0.9h-0.9zM237.3 231.7h0.9v0.9h-0.9zM247.5 225.6h0.9v0.9h-0.9zM234.2 219.9h0.9v0.9h-0.9zM232.6 218.3h0.9v0.9h-0.9zM245.3 216.6h0.9v0.9h-0.9zM238.9 216.2h0.9v0.9h-0.9zM240.7 219.4h0.9v0.9h-0.9zM239.2 225.3h0.9v0.9h-0.9zM250.1 219.2h0.9v0.9h-0.9zM251.7 219.1h0.9v0.9h-0.9zM232.4 225.5h0.9v0.9h-0.9zM236.2 216.2h0.9v0.9h-0.9zM236.6 225.9h0.9v0.9h-0.9zM238.8 225.5h0.9v0.9h-0.9zM234.3 227.1h0.9v0.9h-0.9zM237.4 226.0h0.9v0.9h-0.9zM246.1 226.5h0.9v0.9h-0.9zM238.1 215.0h0.9v0.9h-0.9zM239.6 225.9h0.9v0.9h-0.9zM237.4 219.9h0.9v0.9h-0.9zM236.4 228.1h0.9v0.9h-0.9zM240.1 217.8h0.9v0.9h-0.9zM232.4 227.0h0.9v0.9h-0.9zM263.8 219.7h0.9v0.9h-0.9zM236.8 218.0h0.9v0.9h-0.9zM236.2 212.5h0.9v0.9h-0.9zM237.1 226.0h0.9v0.9h-0.9zM243.5 225.9h0.9v0.9h-0.9zM248.7 227.0h0.9v0.9h-0.9zM241.6 219.3h0.9v0.9h-0.9zM235.5 218.1h0.9v0.9h-0.9zM236.2 217.0h0.9v0.9h-0.9zM247.8 219.7h0.9v0.9h-0.9zM231.4 213.6h0.9v0.9h-0.9zM234.6 214.8h0.9v0.9h-0.9zM246.0 225.9h0.9v0.9h-0.9zM250.3 219.4h0.9v0.9h-0.9zM247.4 219.3h0.9v0.9h-0.9zM229.8 229.8h0.9v0.9h-0.9zM237.4 225.6h0.9v0.9h-0.9zM234.0 229.0h0.9v0.9h-0.9zM241.4 219.4h0.9v0.9h-0.9zM238.1 219.6h0.9v0.9h-0.9zM231.8 219.8h0.9v0.9h-0.9zM245.6 219.6h0.9v0.9h-0.9zM244.4 218.7h0.9v0.9h-0.9zM245.1 225.9h0.9v0.9h-0.9zM232.3 212.8h0.9v0.9h-0.9zM244.8 225.8h0.9v0.9h-0.9zM241.4 219.1h0.9v0.9h-0.9zM237.5 226.7h0.9v0.9h-0.9zM239.5 218.5h0.9v0.9h-0.9zM237.5 226.8h0.9v0.9h-0.9zM239.3 218.2h0.9v0.9h-0.9zM240.6 227.0h0.9v0.9h-0.9zM235.0 226.6h0.9v0.9h-0.9zM241.9 218.7h0.9v0.9h-0.9zM247.2 225.8h0.9v0.9h-0.9zM235.4 216.9h0.9v0.9h-0.9zM255.4 219.3h0.9v0.9h-0.9zM242.4 218.2h0.9v0.9h-0.9zM234.1 225.5h0.9v0.9h-0.9zM240.6 218.7h0.9v0.9h-0.9zM232.9 218.5h0.9v0.9h-0.9zM240.2 218.4h0.9v0.9h-0.9zM233.1 234.0h0.9v0.9h-0.9zM239.2 219.9h0.9v0.9h-0.9zM238.4 216.2h0.9v0.9h-0.9zM236.9 226.0h0.9v0.9h-0.9zM232.8 225.7h0.9v0.9h-0.9zM235.7 214.8h0.9v0.9h-0.9zM235.4 227.1h0.9v0.9h-0.9zM233.5 219.1h0.9v0.9h-0.9zM246.7 226.1h0.9v0.9h-0.9zM236.5 215.5h0.9v0.9h-0.9zM248.7 225.8h0.9v0.9h-0.9zM231.2 216.9h0.9v0.9h-0.9zM236.5 219.2h0.9v0.9h-0.9zM248.8 225.9h0.9v0.9h-0.9zM246.1 218.6h0.9v0.9h-0.9zM237.9 226.6h0.9v0.9h-0.9zM258.2 219.7h0.9v0.9h-0.9zM235.6 216.6h0.9v0.9h-0.9zM236.8 226.1h0.9v0.9h-0.9zM250.9 219.8h0.9v0.9h-0.9zM240.0 230.4h0.9v0.9h-0.9zM252.7 226.1h0.9v0.9h-0.9zM237.8 218.7h0.9v0.9h-0.9zM244.1 218.3h0.9v0.9h-0.9zM248.0 227.2h0.9v0.9h-0.9zM238.5 226.9h0.9v0.9h-0.9zM233.5 218.8h0.9v0.9h-0.9zM234.8 216.4h0.9v0.9h-0.9zM239.3 225.9h0.9v0.9h-0.9zM243.9 219.6h0.9v0.9h-0.9zM239.9 226.1h0.9v0.9h-0.9zM246.0 219.9h0.9v0.9h-0.9zM239.5 225.7h0.9v0.9h-0.9zM233.7 226.4h0.9v0.9h-0.9zM239.6 228.5h0.9v0.9h-0.9zM242.6 227.6h0.9v0.9h-0.9zM246.9 218.6h0.9v0.9h-0.9zM248.8 226.1h0.9v0.9h-0.9zM244.0 225.6h0.9v0.9h-0.9zM244.7 217.7h0.9v0.9h-0.9zM238.4 218.6h0.9v0.9h-0.9zM243.1 225.8h0.9v0.9h-0.9zM237.8 226.6h0.9v0.9h-0.9zM247.3 219.5h0.9v0.9h-0.9zM256.3 226.2h0.9v0.9h-0.9zM232.8 219.6h0.9v0.9h-0.9zM244.4 225.5h0.9v0.9h-0.9zM238.6 215.3h0.9v0.9h-0.9zM240.7 220.0h0.9v0.9h-0.9zM237.2 229.6h0.9v0.9h-0.9zM244.7 218.5h0.9v0.9h-0.9zM235.1 225.9h0.9v0.9h-0.9zM236.8 230.0h0.9v0.9h-0.9zM238.0 216.8h0.9v0.9h-0.9zM254.6 225.2h0.9v0.9h-0.9zM246.0 225.9h0.9v0.9h-0.9zM253.8 219.7h0.9v0.9h-0.9zM243.6 219.6h0.9v0.9h-0.9zM245.7 225.7h0.9v0.9h-0.9zM245.7 218.8h0.9v0.9h-0.9zM238.9 229.0h0.9v0.9h-0.9zM237.5 219.5h0.9v0.9h-0.9zM234.9 216.9h0.9v0.9h-0.9zM241.9 225.2h0.9v0.9h-0.9zM233.5 218.4h0.9v0.9h-0.9zM232.9 216.2h0.9v0.9h-0.9zM238.0 218.3h0.9v0.9h-0.9zM234.7 218.6h0.9v0.9h-0.9zM250.6 219.3h0.9v0.9h-0.9zM237.0 225.7h0.9v0.9h-0.9zM233.2 231.4h0.9v0.9h-0.9zM247.5 217.6h0.9v0.9h-0.9zM240.0 225.8h0.9v0.9h-0.9zM233.8 232.2h0.9v0.9h-0.9zM247.2 218.5h0.9v0.9h-0.9zM234.2 228.4h0.9v0.9h-0.9zM233.2 215.9h0.9v0.9h-0.9zM236.0 226.1h0.9v0.9h-0.9zM237.0 225.5h0.9v0.9h-0.9zM239.5 215.8h0.9v0.9h-0.9zM237.3 217.1h0.9v0.9h-0.9zM238.7 229.7h0.9v0.9h-0.9zM238.6 228.2h0.9v0.9h-0.9zM238.2 217.2h0.9v0.9h-0.9zM234.1 225.3h0.9v0.9h-0.9zM244.0 226.9h0.9v0.9h-0.9zM253.0 225.2h0.9v0.9h-0.9zM243.0 219.6h0.9v0.9h-0.9zM237.2 216.2h0.9v0.9h-0.9zM234.8 219.8h0.9v0.9h-0.9zM239.1 226.1h0.9v0.9h-0.9zM234.2 225.5h0.9v0.9h-0.9zM246.9 225.2h0.9v0.9h-0.9zM240.3 226.9h0.9v0.9h-0.9zM244.1 219.1h0.9v0.9h-0.9zM258.6 219.4h0.9v0.9h-0.9zM241.8 227.2h0.9v0.9h-0.9zM245.9 225.8h0.9v0.9h-0.9zM235.2 218.1h0.9v0.9h-0.9zM235.4 218.2h0.9v0.9h-0.9zM236.1 226.9h0.9v0.9h-0.9zM237.0 216.9h0.9v0.9h-0.9zM247.0 219.9h0.9v0.9h-0.9zM233.2 226.8h0.9v0.9h-0.9zM233.1 225.4h0.9v0.9h-0.9zM238.7 217.6h0.9v0.9h-0.9zM234.2 215.8h0.9v0.9h-0.9zM239.2 226.5h0.9v0.9h-0.9zM232.9 217.0h0.9v0.9h-0.9zM237.5 219.5h0.9v0.9h-0.9zM238.8 214.8h0.9v0.9h-0.9zM241.4 225.3h0.9v0.9h-0.9zM248.0 225.3h0.9v0.9h-0.9zM239.7 226.8h0.9v0.9h-0.9zM243.6 227.3h0.9v0.9h-0.9zM246.0 225.9h0.9v0.9h-0.9zM235.0 217.5h0.9v0.9h-0.9zM248.9 219.9h0.9v0.9h-0.9zM234.2 216.7h0.9v0.9h-0.9zM264.2 225.2h0.9v0.9h-0.9zM236.9 219.7h0.9v0.9h-0.9zM238.4 226.0h0.9v0.9h-0.9zM234.9 230.2h0.9v0.9h-0.9zM237.9 218.3h0.9v0.9h-0.9zM257.5 225.5h0.9v0.9h-0.9zM235.4 229.0h0.9v0.9h-0.9zM240.5 215.1h0.9v0.9h-0.9zM237.1 216.5h0.9v0.9h-0.9zM249.4 217.1h0.9v0.9h-0.9zM240.9 227.4h0.9v0.9h-0.9zM236.0 216.1h0.9v0.9h-0.9zM235.0 214.9h0.9v0.9h-0.9zM239.6 217.2h0.9v0.9h-0.9zM232.0 219.5h0.9v0.9h-0.9zM248.8 218.7h0.9v0.9h-0.9zM241.9 217.3h0.9v0.9h-0.9zM245.8 218.7h0.9v0.9h-0.9zM235.7 214.9h0.9v0.9h-0.9zM243.0 226.0h0.9v0.9h-0.9zM255.9 225.4h0.9v0.9h-0.9zM247.4 226.3h0.9v0.9h-0.9zM235.2 225.6h0.9v0.9h-0.9zM241.9 227.2h0.9v0.9h-0.9zM264.5 225.4h0.9v0.9h-0.9zM234.5 218.9h0.9v0.9h-0.9zM247.1 226.2h0.9v0.9h-0.9zM236.3 226.5h0.9v0.9h-0.9zM238.2 216.0h0.9v0.9h-0.9zM234.1 226.5h0.9v0.9h-0.9zM245.6 219.2h0.9v0.9h-0.9zM231.9 213.4h0.9v0.9h-0.9zM242.3 217.7h0.9v0.9h-0.9zM237.4 217.7h0.9v0.9h-0.9zM236.4 217.5h0.9v0.9h-0.9zM259.0 219.0h0.9v0.9h-0.9zM239.0 215.2h0.9v0.9h-0.9zM235.0 226.9h0.9v0.9h-0.9zM235.7 213.4h0.9v0.9h-0.9zM244.1 218.7h0.9v0.9h-0.9zM232.7 228.4h0.9v0.9h-0.9zM240.0 219.7h0.9v0.9h-0.9zM239.9 226.1h0.9v0.9h-0.9zM245.2 216.1h0.9v0.9h-0.9zM233.2 218.4h0.9v0.9h-0.9zM232.1 216.0h0.9v0.9h-0.9zM234.8 216.8h0.9v0.9h-0.9zM236.8 219.9h0.9v0.9h-0.9zM264.8 219.5h0.9v0.9h-0.9zM237.9 218.6h0.9v0.9h-0.9zM241.3 227.3h0.9v0.9h-0.9zM233.8 218.1h0.9v0.9h-0.9zM243.7 219.9h0.9v0.9h-0.9zM240.9 226.1h0.9v0.9h-0.9zM235.7 219.0h0.9v0.9h-0.9zM269.2 220.0h0.9v0.9h-0.9zM237.0 228.7h0.9v0.9h-0.9zM238.0 226.0h0.9v0.9h-0.9zM265.8 219.8h0.9v0.9h-0.9zM243.5 219.2h0.9v0.9h-0.9zM241.4 228.2h0.9v0.9h-0.9zM236.5 225.4h0.9v0.9h-0.9zM243.1 219.1h0.9v0.9h-0.9zM239.0 228.6h0.9v0.9h-0.9zM235.9 231.7h0.9v0.9h-0.9zM240.1 216.3h0.9v0.9h-0.9zM238.7 225.8h0.9v0.9h-0.9zM254.4 226.6h0.9v0.9h-0.9zM241.8 218.2h0.9v0.9h-0.9zM259.3 226.2h0.9v0.9h-0.9zM239.4 216.0h0.9v0.9h-0.9zM236.3 229.4h0.9v0.9h-0.9zM250.0 225.5h0.9v0.9h-0.9zM249.2 219.9h0.9v0.9h-0.9zM231.7 226.9h0.9v0.9h-0.9zM262.1 225.3h0.9v0.9h-0.9zM239.0 227.0h0.9v0.9h-0.9zM255.2 225.3h0.9v0.9h-0.9zM236.9 215.6h0.9v0.9h-0.9zM237.4 217.7h0.9v0.9h-0.9zM235.0 218.9h0.9v0.9h-0.9zM237.1 225.4h0.9v0.9h-0.9zM230.7 218.8h0.9v0.9h-0.9zM237.8 217.8h0.9v0.9h-0.9zM243.0 225.4h0.9v0.9h-0.9zM235.4 217.7h0.9v0.9h-0.9zM243.8 227.0h0.9v0.9h-0.9zM265.7 219.4h0.9v0.9h-0.9zM239.9 225.3h0.9v0.9h-0.9zM250.4 225.4h0.9v0.9h-0.9zM231.1 216.5h0.9v0.9h-0.9zM253.5 218.7h0.9v0.9h-0.9zM235.7 225.3h0.9v0.9h-0.9zM239.4 216.9h0.9v0.9h-0.9zM238.0 228.2h0.9v0.9h-0.9zM231.7 211.4h0.9v0.9h-0.9zM238.1 219.6h0.9v0.9h-0.9zM246.4 216.2h0.9v0.9h-0.9zM242.8 218.0h0.9v0.9h-0.9zM244.6 218.3h0.9v0.9h-0.9zM243.8 218.7h0.9v0.9h-0.9zM240.7 218.7h0.9v0.9h-0.9zM256.7 218.9h0.9v0.9h-0.9zM234.4 225.8h0.9v0.9h-0.9zM232.0 215.1h0.9v0.9h-0.9zM237.9 218.2h0.9v0.9h-0.9zM242.3 226.4h0.9v0.9h-0.9zM246.4 225.5h0.9v0.9h-0.9zM243.5 228.5h0.9v0.9h-0.9zM238.2 218.9h0.9v0.9h-0.9zM237.6 225.2h0.9v0.9h-0.9zM236.3 218.8h0.9v0.9h-0.9zM239.1 219.0h0.9v0.9h-0.9zM243.8 218.4h0.9v0.9h-0.9zM237.2 228.4h0.9v0.9h-0.9zM238.8 226.2h0.9v0.9h-0.9zM233.5 218.9h0.9v0.9h-0.9zM235.7 226.3h0.9v0.9h-0.9zM266.8 225.3h0.9v0.9h-0.9zM237.8 225.4h0.9v0.9h-0.9zM242.3 215.0h0.9v0.9h-0.9zM232.4 214.5h0.9v0.9h-0.9zM238.4 217.2h0.9v0.9h-0.9zM253.6 219.1h0.9v0.9h-0.9zM236.3 219.6h0.9v0.9h-0.9zM241.5 219.4h0.9v0.9h-0.9zM248.6 218.8h0.9v0.9h-0.9zM244.2 226.0h0.9v0.9h-0.9zM238.0 217.8h0.9v0.9h-0.9zM243.3 225.7h0.9v0.9h-0.9zM236.8 227.7h0.9v0.9h-0.9zM243.4 225.9h0.9v0.9h-0.9zM236.3 225.7h0.9v0.9h-0.9zM233.5 229.9h0.9v0.9h-0.9zM235.0 230.8h0.9v0.9h-0.9zM237.4 226.2h0.9v0.9h-0.9zM241.3 216.9h0.9v0.9h-0.9zM246.2 219.6h0.9v0.9h-0.9zM236.6 217.9h0.9v0.9h-0.9zM239.0 217.1h0.9v0.9h-0.9zM236.7 215.1h0.9v0.9h-0.9zM246.0 226.0h0.9v0.9h-0.9zM236.5 212.1h0.9v0.9h-0.9zM234.8 229.0h0.9v0.9h-0.9zM239.7 227.5h0.9v0.9h-0.9zM234.8 217.1h0.9v0.9h-0.9zM240.0 225.7h0.9v0.9h-0.9zM234.0 218.4h0.9v0.9h-0.9zM247.1 226.4h0.9v0.9h-0.9zM261.7 219.6h0.9v0.9h-0.9zM238.2 219.8h0.9v0.9h-0.9zM267.6 225.5h0.9v0.9h-0.9zM241.5 228.3h0.9v0.9h-0.9zM241.4 225.2h0.9v0.9h-0.9zM235.2 219.5h0.9v0.9h-0.9zM246.5 226.3h0.9v0.9h-0.9zM251.1 218.5h0.9v0.9h-0.9zM241.5 226.9h0.9v0.9h-0.9zM270.0 225.3h0.9v0.9h-0.9zM250.2 225.3h0.9v0.9h-0.9zM241.0 218.1h0.9v0.9h-0.9zM253.8 219.0h0.9v0.9h-0.9zM240.9 226.4h0.9v0.9h-0.9zM239.5 216.9h0.9v0.9h-0.9zM241.9 215.9h0.9v0.9h-0.9zM248.6 225.6h0.9v0.9h-0.9zM237.8 226.5h0.9v0.9h-0.9zM239.2 228.2h0.9v0.9h-0.9zM237.3 227.7h0.9v0.9h-0.9zM250.7 225.5h0.9v0.9h-0.9zM233.5 216.0h0.9v0.9h-0.9zM234.8 225.7h0.9v0.9h-0.9zM243.0 219.0h0.9v0.9h-0.9zM238.9 227.0h0.9v0.9h-0.9zM235.7 214.9h0.9v0.9h-0.9zM234.1 226.1h0.9v0.9h-0.9zM240.7 218.5h0.9v0.9h-0.9zM237.9 225.9h0.9v0.9h-0.9zM244.9 225.6h0.9v0.9h-0.9zM239.7 227.5h0.9v0.9h-0.9zM240.8 226.6h0.9v0.9h-0.9zM250.1 225.6h0.9v0.9h-0.9zM238.6 214.3h0.9v0.9h-0.9zM244.6 225.9h0.9v0.9h-0.9zM251.1 225.4h0.9v0.9h-0.9zM235.8 216.7h0.9v0.9h-0.9zM245.4 225.3h0.9v0.9h-0.9zM261.8 219.9h0.9v0.9h-0.9zM232.3 217.1h0.9v0.9h-0.9zM237.0 213.1h0.9v0.9h-0.9zM236.6 216.9h0.9v0.9h-0.9zM236.9 228.3h0.9v0.9h-0.9zM249.7 218.7h0.9v0.9h-0.9zM241.8 228.3h0.9v0.9h-0.9zM241.5 216.6h0.9v0.9h-0.9zM237.2 228.3h0.9v0.9h-0.9zM233.7 214.6h0.9v0.9h-0.9zM240.4 216.2h0.9v0.9h-0.9zM238.2 219.6h0.9v0.9h-0.9zM236.9 228.6h0.9v0.9h-0.9zM240.0 217.3h0.9v0.9h-0.9zM238.4 225.2h0.9v0.9h-0.9zM233.2 213.5h0.9v0.9h-0.9zM244.8 225.7h0.9v0.9h-0.9zM240.9 218.0h0.9v0.9h-0.9zM241.2 218.3h0.9v0.9h-0.9zM247.9 227.3h0.9v0.9h-0.9zM244.3 219.6h0.9v0.9h-0.9zM242.3 219.9h0.9v0.9h-0.9zM239.6 225.5h0.9v0.9h-0.9zM241.3 225.4h0.9v0.9h-0.9zM235.8 228.4h0.9v0.9h-0.9zM233.4 218.2h0.9v0.9h-0.9zM240.5 226.6h0.9v0.9h-0.9zM235.9 219.0h0.9v0.9h-0.9zM244.0 225.8h0.9v0.9h-0.9zM246.4 225.8h0.9v0.9h-0.9zM269.0 225.3h0.9v0.9h-0.9zM245.0 225.6h0.9v0.9h-0.9zM245.6 225.5h0.9v0.9h-0.9zM235.9 216.6h0.9v0.9h-0.9zM239.6 225.4h0.9v0.9h-0.9zM240.0 219.7h0.9v0.9h-0.9zM242.4 219.5h0.9v0.9h-0.9zM243.8 226.6h0.9v0.9h-0.9zM241.1 219.9h0.9v0.9h-0.9zM236.3 227.6h0.9v0.9h-0.9zM232.1 219.7h0.9v0.9h-0.9zM245.2 226.1h0.9v0.9h-0.9zM256.8 225.9h0.9v0.9h-0.9zM239.0 225.3h0.9v0.9h-0.9zM258.2 219.8h0.9v0.9h-0.9zM255.7 225.8h0.9v0.9h-0.9zM248.6 227.1h0.9v0.9h-0.9zM252.6 225.7h0.9v0.9h-0.9zM244.3 226.6h0.9v0.9h-0.9zM232.3 226.2h0.9v0.9h-0.9zM236.5 217.9h0.9v0.9h-0.9zM247.8 220.0h0.9v0.9h-0.9zM234.1 226.1h0.9v0.9h-0.9zM236.7 226.0h0.9v0.9h-0.9zM241.2 225.9h0.9v0.9h-0.9zM231.7 227.7h0.9v0.9h-0.9zM231.1 232.2h0.9v0.9h-0.9zM236.1 219.3h0.9v0.9h-0.9zM237.0 219.5h0.9v0.9h-0.9zM241.4 216.8h0.9v0.9h-0.9zM267.4 225.4h0.9v0.9h-0.9zM234.9 226.6h0.9v0.9h-0.9zM234.7 215.2h0.9v0.9h-0.9zM232.3 218.5h0.9v0.9h-0.9zM231.3 225.8h0.9v0.9h-0.9zM238.9 215.5h0.9v0.9h-0.9zM236.8 213.8h0.9v0.9h-0.9zM241.6 225.7h0.9v0.9h-0.9zM238.5 218.6h0.9v0.9h-0.9zM258.9 218.8h0.9v0.9h-0.9zM236.1 218.4h0.9v0.9h-0.9zM233.6 218.2h0.9v0.9h-0.9zM234.9 213.5h0.9v0.9h-0.9zM239.2 219.1h0.9v0.9h-0.9zM234.0 225.4h0.9v0.9h-0.9zM238.4 219.7h0.9v0.9h-0.9zM238.9 227.6h0.9v0.9h-0.9zM230.9 225.7h0.9v0.9h-0.9zM244.1 226.1h0.9v0.9h-0.9zM231.8 210.5h0.9v0.9h-0.9zM237.5 226.7h0.9v0.9h-0.9zM246.7 219.6h0.9v0.9h-0.9zM253.4 226.4h0.9v0.9h-0.9zM234.3 217.7h0.9v0.9h-0.9zM239.5 225.5h0.9v0.9h-0.9zM247.3 226.8h0.9v0.9h-0.9zM244.1 226.1h0.9v0.9h-0.9zM240.8 226.3h0.9v0.9h-0.9zM232.1 228.0h0.9v0.9h-0.9zM231.8 232.3h0.9v0.9h-0.9zM234.5 229.9h0.9v0.9h-0.9zM233.2 215.4h0.9v0.9h-0.9zM233.1 217.0h0.9v0.9h-0.9zM245.3 225.4h0.9v0.9h-0.9zM235.2 217.1h0.9v0.9h-0.9zM237.8 219.3h0.9v0.9h-0.9zM240.4 220.0h0.9v0.9h-0.9zM239.1 226.1h0.9v0.9h-0.9zM237.6 227.6h0.9v0.9h-0.9zM252.5 219.8h0.9v0.9h-0.9zM240.3 216.6h0.9v0.9h-0.9zM234.3 231.1h0.9v0.9h-0.9zM230.3 227.7h0.9v0.9h-0.9zM258.3 226.3h0.9v0.9h-0.9zM252.3 218.7h0.9v0.9h-0.9zM244.6 219.3h0.9v0.9h-0.9zM236.3 219.7h0.9v0.9h-0.9zM237.6 219.4h0.9v0.9h-0.9zM238.3 219.0h0.9v0.9h-0.9zM251.0 219.4h0.9v0.9h-0.9zM247.8 225.4h0.9v0.9h-0.9zM239.9 227.8h0.9v0.9h-0.9zM236.4 215.9h0.9v0.9h-0.9zM251.1 226.0h0.9v0.9h-0.9zM245.9 219.7h0.9v0.9h-0.9zM239.9 219.5h0.9v0.9h-0.9zM233.7 219.6h0.9v0.9h-0.9zM234.7 226.2h0.9v0.9h-0.9zM231.6 215.0h0.9v0.9h-0.9zM232.1 230.4h0.9v0.9h-0.9zM254.8 218.2h0.9v0.9h-0.9zM239.4 219.7h0.9v0.9h-0.9zM230.9 219.3h0.9v0.9h-0.9zM239.6 216.4h0.9v0.9h-0.9zM247.3 219.7h0.9v0.9h-0.9zM236.2 218.4h0.9v0.9h-0.9zM233.4 225.9h0.9v0.9h-0.9zM230.9 219.3h0.9v0.9h-0.9zM239.0 227.1h0.9v0.9h-0.9zM248.2 225.8h0.9v0.9h-0.9zM235.5 226.4h0.9v0.9h-0.9zM240.9 217.6h0.9v0.9h-0.9zM237.0 217.4h0.9v0.9h-0.9zM235.4 226.4h0.9v0.9h-0.9zM238.3 217.4h0.9v0.9h-0.9zM243.7 226.4h0.9v0.9h-0.9zM244.8 227.7h0.9v0.9h-0.9zM248.8 218.9h0.9v0.9h-0.9zM252.1 226.2h0.9v0.9h-0.9zM235.9 219.7h0.9v0.9h-0.9zM241.2 219.2h0.9v0.9h-0.9zM244.9 226.3h0.9v0.9h-0.9zM236.7 214.8h0.9v0.9h-0.9zM233.7 219.5h0.9v0.9h-0.9zM241.0 219.7h0.9v0.9h-0.9zM238.6 217.3h0.9v0.9h-0.9zM254.2 225.9h0.9v0.9h-0.9zM234.7 226.7h0.9v0.9h-0.9zM239.3 217.6h0.9v0.9h-0.9zM246.4 218.8h0.9v0.9h-0.9zM238.2 229.5h0.9v0.9h-0.9zM234.1 212.4h0.9v0.9h-0.9zM254.8 219.1h0.9v0.9h-0.9zM232.0 227.6h0.9v0.9h-0.9zM253.2 225.5h0.9v0.9h-0.9zM237.1 216.0h0.9v0.9h-0.9zM236.6 215.1h0.9v0.9h-0.9zM246.2 218.0h0.9v0.9h-0.9zM236.6 219.5h0.9v0.9h-0.9zM244.9 219.7h0.9v0.9h-0.9zM238.9 225.4h0.9v0.9h-0.9zM247.8 220.0h0.9v0.9h-0.9zM241.5 219.8h0.9v0.9h-0.9zM233.8 217.2h0.9v0.9h-0.9zM235.3 217.0h0.9v0.9h-0.9zM239.6 226.1h0.9v0.9h-0.9zM256.3 225.2h0.9v0.9h-0.9zM233.5 225.7h0.9v0.9h-0.9zM231.0 229.4h0.9v0.9h-0.9zM232.9 225.4h0.9v0.9h-0.9zM231.1 229.7h0.9v0.9h-0.9zM233.8 227.2h0.9v0.9h-0.9zM239.8 219.4h0.9v0.9h-0.9zM233.4 217.6h0.9v0.9h-0.9zM240.1 218.6h0.9v0.9h-0.9zM245.9 225.3h0.9v0.9h-0.9zM238.4 219.1h0.9v0.9h-0.9zM234.3 219.0h0.9v0.9h-0.9zM237.4 225.5h0.9v0.9h-0.9zM241.1 218.9h0.9v0.9h-0.9zM242.0 230.9h0.9v0.9h-0.9zM229.5 207.7h0.9v0.9h-0.9zM240.1 224.6h0.9v0.9h-0.9zM227.1 206.1h0.9v0.9h-0.9zM229.9 239.7h0.9v0.9h-0.9zM224.4 222.8h0.9v0.9h-0.9zM226.2 216.6h0.9v0.9h-0.9zM225.1 238.3h0.9v0.9h-0.9zM222.1 215.5h0.9v0.9h-0.9zM242.2 221.4h0.9v0.9h-0.9zM232.1 222.5h0.9v0.9h-0.9zM231.9 216.2h0.9v0.9h-0.9zM233.3 236.5h0.9v0.9h-0.9zM223.5 228.7h0.9v0.9h-0.9zM226.4 215.9h0.9v0.9h-0.9zM222.8 229.0h0.9v0.9h-0.9zM230.6 227.9h0.9v0.9h-0.9zM235.6 225.5h0.9v0.9h-0.9z" fill="#111"/>
<path d="M237.4 218.7h0.9v0.9h-0.9zM247.0 219.2h0.9v0.9h-0.9zM273.0 219.9h0.9v0.9h-0.9zM251.8 218.3h0.9v0.9h-0.9zM244.6 219.2h0.9v0.9h-0.9zM251.6 218.4h0.9v0.9h-0.9zM237.4 219.5h0.9v0.9h-0.9zM250.0 218.9h0.9v0.9h-0.9zM252.1 219.7h0.9v0.9h-0.9zM246.7 219.8h0.9v0.9h-0.9zM241.4 219.4h0.9v0.9h-0.9zM239.6 218.5h0.9v0.9h-0.9zM252.7 219.7h0.9v0.9h-0.9zM238.3 219.9h0.9v0.9h-0.9zM245.1 218.4h0.9v0.9h-0.9zM243.1 219.2h0.9v0.9h-0.9zM262.4 219.8h0.9v0.9h-0.9zM241.5 219.9h0.9v0.9h-0.9zM247.8 219.0h0.9v0.9h-0.9zM264.0 219.5h0.9v0.9h-0.9zM245.7 219.4h0.9v0.9h-0.9zM240.6 219.6h0.9v0.9h-0.9zM250.2 219.9h0.9v0.9h-0.9zM244.8 218.8h0.9v0.9h-0.9zM240.1 219.8h0.9v0.9h-0.9zM255.5 219.8h0.9v0.9h-0.9zM246.0 219.2h0.9v0.9h-0.9zM254.1 219.4h0.9v0.9h-0.9zM240.9 217.8h0.9v0.9h-0.9zM242.2 217.9h0.9v0.9h-0.9zM240.5 218.7h0.9v0.9h-0.9zM246.7 218.2h0.9v0.9h-0.9zM237.9 218.0h0.9v0.9h-0.9zM243.4 217.5h0.9v0.9h-0.9zM267.5 219.8h0.9v0.9h-0.9zM254.5 219.7h0.9v0.9h-0.9zM242.0 219.6h0.9v0.9h-0.9zM241.5 219.5h0.9v0.9h-0.9zM241.3 219.3h0.9v0.9h-0.9zM250.8 219.6h0.9v0.9h-0.9zM240.2 219.5h0.9v0.9h-0.9zM238.9 217.7h0.9v0.9h-0.9zM243.4 218.5h0.9v0.9h-0.9zM247.7 218.4h0.9v0.9h-0.9zM242.5 219.8h0.9v0.9h-0.9zM239.8 218.1h0.9v0.9h-0.9zM243.8 218.0h0.9v0.9h-0.9zM244.7 219.8h0.9v0.9h-0.9zM256.0 219.7h0.9v0.9h-0.9zM255.2 219.1h0.9v0.9h-0.9zM252.4 218.5h0.9v0.9h-0.9zM239.9 217.8h0.9v0.9h-0.9zM254.2 219.9h0.9v0.9h-0.9zM249.0 220.0h0.9v0.9h-0.9zM263.5 219.8h0.9v0.9h-0.9zM246.2 219.8h0.9v0.9h-0.9zM248.7 219.4h0.9v0.9h-0.9zM256.3 219.8h0.9v0.9h-0.9zM246.0 218.3h0.9v0.9h-0.9zM240.2 219.6h0.9v0.9h-0.9zM254.4 220.0h0.9v0.9h-0.9zM240.3 219.6h0.9v0.9h-0.9zM243.7 219.6h0.9v0.9h-0.9zM241.1 218.8h0.9v0.9h-0.9zM253.2 219.2h0.9v0.9h-0.9zM250.0 219.3h0.9v0.9h-0.9zM261.5 219.6h0.9v0.9h-0.9zM264.4 219.6h0.9v0.9h-0.9zM248.5 219.2h0.9v0.9h-0.9zM238.9 219.4h0.9v0.9h-0.9zM248.3 220.0h0.9v0.9h-0.9zM254.9 220.0h0.9v0.9h-0.9zM251.7 219.9h0.9v0.9h-0.9zM248.8 219.4h0.9v0.9h-0.9zM249.7 218.6h0.9v0.9h-0.9zM240.4 219.6h0.9v0.9h-0.9zM248.3 219.5h0.9v0.9h-0.9zM258.3 219.6h0.9v0.9h-0.9zM250.4 219.2h0.9v0.9h-0.9zM249.2 219.5h0.9v0.9h-0.9zM248.1 218.4h0.9v0.9h-0.9zM255.0 219.3h0.9v0.9h-0.9zM266.1 219.2h0.9v0.9h-0.9zM250.3 219.4h0.9v0.9h-0.9zM262.7 219.9h0.9v0.9h-0.9zM258.7 219.8h0.9v0.9h-0.9zM248.7 218.7h0.9v0.9h-0.9zM247.7 219.4h0.9v0.9h-0.9zM250.1 218.8h0.9v0.9h-0.9zM253.1 218.2h0.9v0.9h-0.9zM253.4 219.2h0.9v0.9h-0.9zM259.3 219.4h0.9v0.9h-0.9zM270.8 218.5h0.9v0.9h-0.9zM269.7 219.1h0.9v0.9h-0.9zM267.2 218.7h0.9v0.9h-0.9zM252.0 219.4h0.9v0.9h-0.9zM259.8 219.2h0.9v0.9h-0.9zM248.2 219.5h0.9v0.9h-0.9zM257.0 219.4h0.9v0.9h-0.9zM254.9 218.7h0.9v0.9h-0.9zM258.0 219.9h0.9v0.9h-0.9zM253.8 219.3h0.9v0.9h-0.9zM250.9 218.2h0.9v0.9h-0.9zM255.0 219.6h0.9v0.9h-0.9zM250.3 219.0h0.9v0.9h-0.9zM265.1 218.9h0.9v0.9h-0.9z" fill="#c81e2a"/>
<line x1="218.20" y1="220.56" x2="296.40" y2="220.56" stroke="#777" stroke-width="0.45" />
<line x1="218.20" y1="224.64" x2="296.40" y2="224.64" stroke="#777" stroke-width="0.45" />
<line x1="230.80" y1="196.90" x2="230.80" y2="249.60" stroke="#8a8a8a" stroke-width="0.5" />
<rect x="218.20" y="196.90" width="78.20" height="52.70" fill="none" stroke="#777" stroke-width="0.6" />
<text x="217.20" y="198.53" font-size="5.3" text-anchor="end" fill="#222" stroke="#222" stroke-width="0.1" >6</text>
<text x="217.20" y="207.19" font-size="5.3" text-anchor="end" fill="#222" stroke="#222" stroke-width="0.1" >4</text>
<text x="217.20" y="215.85" font-size="5.3" text-anchor="end" fill="#222" stroke="#222" stroke-width="0.1" >2</text>
<text x="217.20" y="224.51" font-size="5.3" text-anchor="end" fill="#222" stroke="#222" stroke-width="0.1" >0</text>
<text x="217.20" y="233.17" font-size="5.3" text-anchor="end" fill="#222" stroke="#222" stroke-width="0.1" >-2</text>
<text x="217.20" y="241.83" font-size="5.3" text-anchor="end" fill="#222" stroke="#222" stroke-width="0.1" >-4</text>
<text x="217.20" y="250.49" font-size="5.3" text-anchor="end" fill="#222" stroke="#222" stroke-width="0.1" >-6</text>
<text x="230.80" y="254.51" font-size="5.3" text-anchor="middle" fill="#222" stroke="#222" stroke-width="0.1" >0</text>
<text x="252.45" y="254.51" font-size="5.3" text-anchor="middle" fill="#222" stroke="#222" stroke-width="0.1" >5</text>
<text x="274.10" y="254.51" font-size="5.3" text-anchor="middle" fill="#222" stroke="#222" stroke-width="0.1" >10</text>
<text x="295.75" y="254.51" font-size="5.3" text-anchor="middle" fill="#222" stroke="#222" stroke-width="0.1" >15</text>
<text x="261.30" y="258.82" font-size="5.62" text-anchor="middle" fill="#222" stroke="#222" stroke-width="0.1" >Log2 (Average)</text>
<text x="211.50" y="222.82" font-size="5.62" text-anchor="middle" fill="#222" stroke="#222" stroke-width="0.1"  transform="rotate(-90 211.50 220.80)">Log2 (Fold Change)</text>
<line x1="226.00" y1="208.00" x2="229.00" y2="216.00" stroke="#78a8b4" stroke-width="0.4" />
<line x1="238.00" y1="207.00" x2="236.00" y2="216.00" stroke="#78a8b4" stroke-width="0.4" />
<line x1="249.00" y1="203.00" x2="242.00" y2="217.00" stroke="#78a8b4" stroke-width="0.4" />
<line x1="257.00" y1="206.00" x2="250.00" y2="218.00" stroke="#78a8b4" stroke-width="0.4" />
<line x1="274.00" y1="210.50" x2="255.00" y2="219.00" stroke="#78a8b4" stroke-width="0.4" />
<line x1="247.00" y1="214.50" x2="244.00" y2="218.00" stroke="#78a8b4" stroke-width="0.4" />
<line x1="278.00" y1="217.50" x2="262.00" y2="221.00" stroke="#78a8b4" stroke-width="0.4" />
<line x1="243.00" y1="232.50" x2="238.00" y2="227.00" stroke="#78a8b4" stroke-width="0.4" />
<line x1="236.00" y1="237.50" x2="234.00" y2="228.00" stroke="#78a8b4" stroke-width="0.4" />
<text x="219.90" y="209.11" font-size="5.3" text-anchor="start" fill="#e33b4b" stroke="#e33b4b" stroke-width="0.1" font-style="italic" >Ifi3</text>
<text x="232.00" y="207.41" font-size="5.3" text-anchor="start" fill="#e33b4b" stroke="#e33b4b" stroke-width="0.1" font-style="italic" >Oasl2</text>
<text x="245.00" y="202.91" font-size="5.3" text-anchor="start" fill="#e33b4b" stroke="#e33b4b" stroke-width="0.1" font-style="italic" >Rtp4</text>
<text x="255.40" y="205.51" font-size="5.3" text-anchor="start" fill="#e33b4b" stroke="#e33b4b" stroke-width="0.1" font-style="italic" >Zbp1</text>
<text x="274.40" y="211.71" font-size="5.3" text-anchor="start" fill="#e33b4b" stroke="#e33b4b" stroke-width="0.1" font-style="italic" >Ccl5</text>
<text x="243.00" y="214.51" font-size="5.3" text-anchor="start" fill="#e33b4b" stroke="#e33b4b" stroke-width="0.1" font-style="italic" >Isg15</text>
<text x="277.80" y="218.61" font-size="5.3" text-anchor="start" fill="#e33b4b" stroke="#e33b4b" stroke-width="0.1" font-style="italic" >Ifi27</text>
<text x="240.80" y="235.91" font-size="5.3" text-anchor="start" fill="#e33b4b" stroke="#e33b4b" stroke-width="0.1" font-style="italic" >Ifit1</text>
<text x="232.90" y="241.11" font-size="5.3" text-anchor="start" fill="#e33b4b" stroke="#e33b4b" stroke-width="0.1" font-style="italic" >Ifi204</text>
<text x="318.70" y="183.41" font-size="5.3" text-anchor="start" fill="#222" stroke="#222" stroke-width="0.1" >GO: RESPONSE TO</text>
<text x="318.70" y="188.51" font-size="5.3" text-anchor="start" fill="#222" stroke="#222" stroke-width="0.1" >TYPE1 INTERFERON</text>
<text x="317.80" y="190.67" font-size="5.19" text-anchor="end" fill="#222" stroke="#222" stroke-width="0.1" >0.5</text>
<line x1="317.60" y1="188.80" x2="318.60" y2="188.80" stroke="#555" stroke-width="0.5" />
<text x="317.80" y="197.07" font-size="5.19" text-anchor="end" fill="#222" stroke="#222" stroke-width="0.1" >0.4</text>
<line x1="317.60" y1="195.20" x2="318.60" y2="195.20" stroke="#555" stroke-width="0.5" />
<text x="317.80" y="203.47" font-size="5.19" text-anchor="end" fill="#222" stroke="#222" stroke-width="0.1" >0.3</text>
<line x1="317.60" y1="201.60" x2="318.60" y2="201.60" stroke="#555" stroke-width="0.5" />
<text x="317.80" y="209.87" font-size="5.19" text-anchor="end" fill="#222" stroke="#222" stroke-width="0.1" >0.2</text>
<line x1="317.60" y1="208.00" x2="318.60" y2="208.00" stroke="#555" stroke-width="0.5" />
<text x="317.80" y="216.27" font-size="5.19" text-anchor="end" fill="#222" stroke="#222" stroke-width="0.1" >0.1</text>
<line x1="317.60" y1="214.40" x2="318.60" y2="214.40" stroke="#555" stroke-width="0.5" />
<text x="317.80" y="222.67" font-size="5.19" text-anchor="end" fill="#222" stroke="#222" stroke-width="0.1" >0.0</text>
<line x1="317.60" y1="220.80" x2="318.60" y2="220.80" stroke="#555" stroke-width="0.5" />
<line x1="318.60" y1="188.00" x2="318.60" y2="234.00" stroke="#444" stroke-width="0.6" />
<text x="307.40" y="212.51" font-size="5.3" text-anchor="middle" fill="#222" stroke="#222" stroke-width="0.1"  transform="rotate(-90 307.40 210.60)">Enrichment Score (ES)</text>
<text x="395.30" y="195.36" font-size="5.72" text-anchor="end" fill="#222" stroke="#222" stroke-width="0.1" >P-Value=0.005</text>
<text x="395.30" y="199.96" font-size="5.72" text-anchor="end" fill="#222" stroke="#222" stroke-width="0.1" >ES=0.49</text>
<line x1="397.60" y1="188.00" x2="397.60" y2="234.00" stroke="#cfcfcf" stroke-width="0.5" />
<polyline points="318.7,221.0 319.5,213.0 322.0,206.0 326.0,197.7 330.0,193.0 334.6,190.8 339.0,190.4 344.0,193.5 350.0,197.7 358.0,204.0 367.0,209.0 376.0,214.0 384.6,215.5 390.0,218.5 396.0,221.5" fill="none" stroke="#a2dc78" stroke-width="1.1"/>
<line x1="319.86" y1="220.50" x2="319.86" y2="232.00" stroke="#a3a3a3" stroke-width="0.55" />
<line x1="341.71" y1="220.50" x2="341.71" y2="232.00" stroke="#b3b3b3" stroke-width="0.55" />
<line x1="339.38" y1="220.50" x2="339.38" y2="232.00" stroke="#b3b3b3" stroke-width="0.55" />
<line x1="347.12" y1="220.50" x2="347.12" y2="232.00" stroke="#909090" stroke-width="0.55" />
<line x1="326.24" y1="220.50" x2="326.24" y2="232.00" stroke="#b3b3b3" stroke-width="0.55" />
<line x1="323.78" y1="220.50" x2="323.78" y2="232.00" stroke="#dddddd" stroke-width="0.55" />
<line x1="320.46" y1="220.50" x2="320.46" y2="232.00" stroke="#a3a3a3" stroke-width="0.55" />
<line x1="323.47" y1="220.50" x2="323.47" y2="232.00" stroke="#909090" stroke-width="0.55" />
<line x1="340.79" y1="220.50" x2="340.79" y2="232.00" stroke="#909090" stroke-width="0.55" />
<line x1="331.49" y1="220.50" x2="331.49" y2="232.00" stroke="#909090" stroke-width="0.55" />
<line x1="322.21" y1="220.50" x2="322.21" y2="232.00" stroke="#a3a3a3" stroke-width="0.55" />
<line x1="341.89" y1="220.50" x2="341.89" y2="232.00" stroke="#d4d4d4" stroke-width="0.55" />
<line x1="329.43" y1="220.50" x2="329.43" y2="232.00" stroke="#b3b3b3" stroke-width="0.55" />
<line x1="329.10" y1="220.50" x2="329.10" y2="232.00" stroke="#c3c3c3" stroke-width="0.55" />
<line x1="336.85" y1="220.50" x2="336.85" y2="232.00" stroke="#b3b3b3" stroke-width="0.55" />
<line x1="325.61" y1="220.50" x2="325.61" y2="232.00" stroke="#b3b3b3" stroke-width="0.55" />
<line x1="331.60" y1="220.50" x2="331.60" y2="232.00" stroke="#dddddd" stroke-width="0.55" />
<line x1="335.41" y1="220.50" x2="335.41" y2="232.00" stroke="#a3a3a3" stroke-width="0.55" />
<line x1="343.88" y1="220.50" x2="343.88" y2="232.00" stroke="#c3c3c3" stroke-width="0.55" />
<line x1="323.42" y1="220.50" x2="323.42" y2="232.00" stroke="#b3b3b3" stroke-width="0.55" />
<line x1="343.81" y1="220.50" x2="343.81" y2="232.00" stroke="#d4d4d4" stroke-width="0.55" />
<line x1="320.38" y1="220.50" x2="320.38" y2="232.00" stroke="#dddddd" stroke-width="0.55" />
<line x1="334.94" y1="220.50" x2="334.94" y2="232.00" stroke="#d4d4d4" stroke-width="0.55" />
<line x1="338.43" y1="220.50" x2="338.43" y2="232.00" stroke="#b3b3b3" stroke-width="0.55" />
<line x1="325.54" y1="220.50" x2="325.54" y2="232.00" stroke="#d4d4d4" stroke-width="0.55" />
<line x1="340.72" y1="220.50" x2="340.72" y2="232.00" stroke="#b3b3b3" stroke-width="0.55" />
<line x1="329.11" y1="220.50" x2="329.11" y2="232.00" stroke="#b3b3b3" stroke-width="0.55" />
<line x1="333.51" y1="220.50" x2="333.51" y2="232.00" stroke="#c3c3c3" stroke-width="0.55" />
<line x1="329.27" y1="220.50" x2="329.27" y2="232.00" stroke="#c3c3c3" stroke-width="0.55" />
<line x1="336.13" y1="220.50" x2="336.13" y2="232.00" stroke="#d4d4d4" stroke-width="0.55" />
<line x1="338.30" y1="220.50" x2="338.30" y2="232.00" stroke="#c3c3c3" stroke-width="0.55" />
<line x1="347.45" y1="220.50" x2="347.45" y2="232.00" stroke="#dddddd" stroke-width="0.55" />
<line x1="348.38" y1="220.50" x2="348.38" y2="232.00" stroke="#c3c3c3" stroke-width="0.55" />
<line x1="345.56" y1="220.50" x2="345.56" y2="232.00" stroke="#909090" stroke-width="0.55" />
<line x1="337.63" y1="220.50" x2="337.63" y2="232.00" stroke="#909090" stroke-width="0.55" />
<line x1="343.87" y1="220.50" x2="343.87" y2="232.00" stroke="#c3c3c3" stroke-width="0.55" />
<line x1="322.22" y1="220.50" x2="322.22" y2="232.00" stroke="#b3b3b3" stroke-width="0.55" />
<line x1="320.34" y1="220.50" x2="320.34" y2="232.00" stroke="#909090" stroke-width="0.55" />
<line x1="330.39" y1="220.50" x2="330.39" y2="232.00" stroke="#a3a3a3" stroke-width="0.55" />
<line x1="338.96" y1="220.50" x2="338.96" y2="232.00" stroke="#c3c3c3" stroke-width="0.55" />
<line x1="375.03" y1="220.50" x2="375.03" y2="232.00" stroke="#d1d1d1" stroke-width="0.55" />
<line x1="351.88" y1="220.50" x2="351.88" y2="232.00" stroke="#d1d1d1" stroke-width="0.55" />
<line x1="371.84" y1="220.50" x2="371.84" y2="232.00" stroke="#e6e6e6" stroke-width="0.55" />
<line x1="360.28" y1="220.50" x2="360.28" y2="232.00" stroke="#c1c1c1" stroke-width="0.55" />
<line x1="364.90" y1="220.50" x2="364.90" y2="232.00" stroke="#c1c1c1" stroke-width="0.55" />
<line x1="356.35" y1="220.50" x2="356.35" y2="232.00" stroke="#c1c1c1" stroke-width="0.55" />
<line x1="376.50" y1="220.50" x2="376.50" y2="232.00" stroke="#d1d1d1" stroke-width="0.55" />
<line x1="358.31" y1="220.50" x2="358.31" y2="232.00" stroke="#d1d1d1" stroke-width="0.55" />
<line x1="362.40" y1="220.50" x2="362.40" y2="232.00" stroke="#e6e6e6" stroke-width="0.55" />
<line x1="366.35" y1="220.50" x2="366.35" y2="232.00" stroke="#b2b2b2" stroke-width="0.55" />
<line x1="356.65" y1="220.50" x2="356.65" y2="232.00" stroke="#e1e1e1" stroke-width="0.55" />
<line x1="377.10" y1="220.50" x2="377.10" y2="232.00" stroke="#e6e6e6" stroke-width="0.55" />
<line x1="367.07" y1="220.50" x2="367.07" y2="232.00" stroke="#c1c1c1" stroke-width="0.55" />
<line x1="373.41" y1="220.50" x2="373.41" y2="232.00" stroke="#e6e6e6" stroke-width="0.55" />
<line x1="352.58" y1="220.50" x2="352.58" y2="232.00" stroke="#b2b2b2" stroke-width="0.55" />
<line x1="368.71" y1="220.50" x2="368.71" y2="232.00" stroke="#c1c1c1" stroke-width="0.55" />
<line x1="355.98" y1="220.50" x2="355.98" y2="232.00" stroke="#e6e6e6" stroke-width="0.55" />
<line x1="358.71" y1="220.50" x2="358.71" y2="232.00" stroke="#c1c1c1" stroke-width="0.55" />
<line x1="351.38" y1="220.50" x2="351.38" y2="232.00" stroke="#b2b2b2" stroke-width="0.55" />
<line x1="356.78" y1="220.50" x2="356.78" y2="232.00" stroke="#d1d1d1" stroke-width="0.55" />
<line x1="377.44" y1="220.50" x2="377.44" y2="232.00" stroke="#d1d1d1" stroke-width="0.55" />
<line x1="352.20" y1="220.50" x2="352.20" y2="232.00" stroke="#b2b2b2" stroke-width="0.55" />
<line x1="350.02" y1="220.50" x2="350.02" y2="232.00" stroke="#b2b2b2" stroke-width="0.55" />
<line x1="374.35" y1="220.50" x2="374.35" y2="232.00" stroke="#d1d1d1" stroke-width="0.55" />
<line x1="376.09" y1="220.50" x2="376.09" y2="232.00" stroke="#e1e1e1" stroke-width="0.55" />
<line x1="368.61" y1="220.50" x2="368.61" y2="232.00" stroke="#b2b2b2" stroke-width="0.55" />
<line x1="361.79" y1="220.50" x2="361.79" y2="232.00" stroke="#b2b2b2" stroke-width="0.55" />
<line x1="363.81" y1="220.50" x2="363.81" y2="232.00" stroke="#b2b2b2" stroke-width="0.55" />
<line x1="360.24" y1="220.50" x2="360.24" y2="232.00" stroke="#b2b2b2" stroke-width="0.55" />
<line x1="354.23" y1="220.50" x2="354.23" y2="232.00" stroke="#b2b2b2" stroke-width="0.55" />
<line x1="361.99" y1="220.50" x2="361.99" y2="232.00" stroke="#e6e6e6" stroke-width="0.55" />
<line x1="358.05" y1="220.50" x2="358.05" y2="232.00" stroke="#e1e1e1" stroke-width="0.55" />
<line x1="352.16" y1="220.50" x2="352.16" y2="232.00" stroke="#e1e1e1" stroke-width="0.55" />
<line x1="370.22" y1="220.50" x2="370.22" y2="232.00" stroke="#e1e1e1" stroke-width="0.55" />
<line x1="368.63" y1="220.50" x2="368.63" y2="232.00" stroke="#b2b2b2" stroke-width="0.55" />
<line x1="371.03" y1="220.50" x2="371.03" y2="232.00" stroke="#c1c1c1" stroke-width="0.55" />
<line x1="392.65" y1="220.50" x2="392.65" y2="232.00" stroke="#b3b3b3" stroke-width="0.55" />
<line x1="390.53" y1="220.50" x2="390.53" y2="232.00" stroke="#b3b3b3" stroke-width="0.55" />
<line x1="380.11" y1="220.50" x2="380.11" y2="232.00" stroke="#c9c9c9" stroke-width="0.55" />
<line x1="393.17" y1="220.50" x2="393.17" y2="232.00" stroke="#b3b3b3" stroke-width="0.55" />
<line x1="385.13" y1="220.50" x2="385.13" y2="232.00" stroke="#e1e1e1" stroke-width="0.55" />
<line x1="383.04" y1="220.50" x2="383.04" y2="232.00" stroke="#e1e1e1" stroke-width="0.55" />
<line x1="381.91" y1="220.50" x2="381.91" y2="232.00" stroke="#c9c9c9" stroke-width="0.55" />
<line x1="390.57" y1="220.50" x2="390.57" y2="232.00" stroke="#b3b3b3" stroke-width="0.55" />
<line x1="378.22" y1="220.50" x2="378.22" y2="232.00" stroke="#e1e1e1" stroke-width="0.55" />
<line x1="392.21" y1="220.50" x2="392.21" y2="232.00" stroke="#c9c9c9" stroke-width="0.55" />
<line x1="382.19" y1="220.50" x2="382.19" y2="232.00" stroke="#b3b3b3" stroke-width="0.55" />
<line x1="385.29" y1="220.50" x2="385.29" y2="232.00" stroke="#e1e1e1" stroke-width="0.55" />
<line x1="384.04" y1="220.50" x2="384.04" y2="232.00" stroke="#c9c9c9" stroke-width="0.55" />
<line x1="378.23" y1="220.50" x2="378.23" y2="232.00" stroke="#c9c9c9" stroke-width="0.55" />
<line x1="384.40" y1="220.50" x2="384.40" y2="232.00" stroke="#b3b3b3" stroke-width="0.55" />
<line x1="381.86" y1="220.50" x2="381.86" y2="232.00" stroke="#c9c9c9" stroke-width="0.55" />
<line x1="383.72" y1="220.50" x2="383.72" y2="232.00" stroke="#e1e1e1" stroke-width="0.55" />
<line x1="394.52" y1="220.50" x2="394.52" y2="232.00" stroke="#b3b3b3" stroke-width="0.55" />
<line x1="391.21" y1="220.50" x2="391.21" y2="232.00" stroke="#b3b3b3" stroke-width="0.55" />
<line x1="394.69" y1="220.50" x2="394.69" y2="232.00" stroke="#e1e1e1" stroke-width="0.55" />
<line x1="331.74" y1="220.50" x2="331.74" y2="232.00" stroke="#1a1a1a" stroke-width="0.55" />
<line x1="352.39" y1="220.50" x2="352.39" y2="232.00" stroke="#1a1a1a" stroke-width="0.55" />
<line x1="354.69" y1="220.50" x2="354.69" y2="232.00" stroke="#1a1a1a" stroke-width="0.55" />
<line x1="376.11" y1="220.50" x2="376.11" y2="232.00" stroke="#1a1a1a" stroke-width="0.55" />
<rect x="319.50" y="232.00" width="76.50" height="2.40" fill="url(#rb)" stroke="none" stroke-width="0.6" />
<text x="319.50" y="239.47" font-size="5.19" text-anchor="middle" fill="#222" stroke="#222" stroke-width="0.1" >0</text>
<text x="334.70" y="239.47" font-size="5.19" text-anchor="middle" fill="#222" stroke="#222" stroke-width="0.1" >2000</text>
<text x="349.90" y="239.47" font-size="5.19" text-anchor="middle" fill="#222" stroke="#222" stroke-width="0.1" >4000</text>
<text x="365.10" y="239.47" font-size="5.19" text-anchor="middle" fill="#222" stroke="#222" stroke-width="0.1" >6000</text>
<text x="380.30" y="239.47" font-size="5.19" text-anchor="middle" fill="#222" stroke="#222" stroke-width="0.1" >8000</text>
<text x="395.50" y="239.47" font-size="5.19" text-anchor="middle" fill="#222" stroke="#222" stroke-width="0.1" >10000</text>
<text x="314.00" y="245.06" font-size="5.72" text-anchor="start" fill="#222" stroke="#222" stroke-width="0.1" font-style="italic" >Leading edge genes</text>
<line x1="314.00" y1="246.00" x2="366.00" y2="246.00" stroke="#222" stroke-width="0.5" />
<text x="321.20" y="252.50" font-size="5.83" text-anchor="middle" fill="#222" stroke="#222" stroke-width="0.1" font-style="italic" >Isg15</text>
<text x="321.20" y="257.70" font-size="5.83" text-anchor="middle" fill="#222" stroke="#222" stroke-width="0.1" font-style="italic" >Shmt2</text>
<text x="339.00" y="252.50" font-size="5.83" text-anchor="middle" fill="#222" stroke="#222" stroke-width="0.1" font-style="italic" >Ifi1b</text>
<text x="339.00" y="257.70" font-size="5.83" text-anchor="middle" fill="#222" stroke="#222" stroke-width="0.1" font-style="italic" >Oas3</text>
<text x="353.80" y="252.50" font-size="5.83" text-anchor="middle" fill="#222" stroke="#222" stroke-width="0.1" font-style="italic" >Ifitm3</text>
<text x="353.80" y="257.70" font-size="5.83" text-anchor="middle" fill="#222" stroke="#222" stroke-width="0.1" font-style="italic" >Oas1</text>
<text x="373.00" y="252.50" font-size="5.83" text-anchor="middle" fill="#222" stroke="#222" stroke-width="0.1" font-style="italic" >Shfl</text>
<text x="373.00" y="257.70" font-size="5.83" text-anchor="middle" fill="#222" stroke="#222" stroke-width="0.1" font-style="italic" >Usp18</text>
<text x="389.20" y="252.50" font-size="5.83" text-anchor="middle" fill="#222" stroke="#222" stroke-width="0.1" font-style="italic" >Adar</text>
<text x="389.20" y="257.70" font-size="5.83" text-anchor="middle" fill="#222" stroke="#222" stroke-width="0.1" font-style="italic" >Ptpn1</text>
</svg></body></html>
